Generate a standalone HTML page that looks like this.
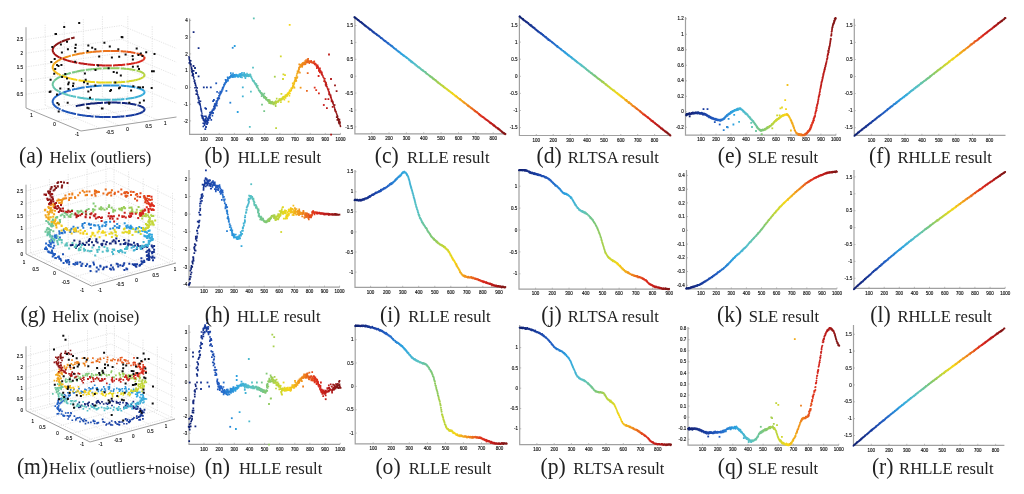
<!DOCTYPE html>
<html><head><meta charset="utf-8"><style>
html,body{margin:0;padding:0;background:#fff;width:1024px;height:494px;overflow:hidden}
svg{display:block;font-family:"Liberation Sans",sans-serif}
.e,.m{font-size:9px;fill:#111;stroke:#111;stroke-width:.3px}.e{text-anchor:end}.m{text-anchor:middle}
</style></head><body>
<svg width="1024" height="494" viewBox="0 0 1024 494">
<rect width="1024" height="494" fill="#fff"/>
<defs><filter id="bl" x="0" y="0" width="1" height="1"><feGaussianBlur stdDeviation="0.35"/></filter><filter id="bl2" x="0" y="0" width="1" height="1"><feGaussianBlur stdDeviation="0.2"/></filter></defs>
<g filter="url(#bl)">
<path d="M189.6 18.6V134.4H340.5" stroke="#a0a0a0" stroke-width="1.2" fill="none"/>
<text transform="translate(187.8 22) scale(.5)" class="e">4</text>
<text transform="translate(187.8 38.8) scale(.5)" class="e">3</text>
<text transform="translate(187.8 55.5) scale(.5)" class="e">2</text>
<text transform="translate(187.8 72.2) scale(.5)" class="e">1</text>
<text transform="translate(187.8 89) scale(.5)" class="e">0</text>
<text transform="translate(187.8 105.8) scale(.5)" class="e">-1</text>
<text transform="translate(187.8 122.5) scale(.5)" class="e">-2</text>
<text transform="translate(204.1 140.6) scale(.5)" class="m">100</text>
<text transform="translate(219.2 140.6) scale(.5)" class="m">200</text>
<text transform="translate(234.4 140.6) scale(.5)" class="m">300</text>
<text transform="translate(249.5 140.6) scale(.5)" class="m">400</text>
<text transform="translate(264.7 140.6) scale(.5)" class="m">500</text>
<text transform="translate(279.9 140.6) scale(.5)" class="m">600</text>
<text transform="translate(295 140.6) scale(.5)" class="m">700</text>
<text transform="translate(310.2 140.6) scale(.5)" class="m">800</text>
<text transform="translate(325.3 140.6) scale(.5)" class="m">900</text>
<text transform="translate(340.5 140.6) scale(.5)" class="m">1000</text>
<path d="M189.6 20.4h1.5M189.6 37.2h1.5M189.6 53.9h1.5M189.6 70.7h1.5M189.6 87.4h1.5M189.6 104.2h1.5M189.6 120.9h1.5M204.1 134.4v-1.5M219.2 134.4v-1.5M234.4 134.4v-1.5M249.5 134.4v-1.5M264.7 134.4v-1.5M279.9 134.4v-1.5M295 134.4v-1.5M310.2 134.4v-1.5M325.3 134.4v-1.5M340.5 134.4v-1.5" stroke="#a0a0a0" stroke-width="0.7"/>
<path d="M188.9 56.9h0M189.1 58.8h0M189.2 59.5h0M189.4 57.8h0M189.5 60.4h0M189.7 60.1h0M189.8 62h0M190 61h0M190.1 62.8h0M190.3 64.3h0M190.4 63.9h0M190.6 64h0M190.7 65.1h0M190.9 66.1h0M191 66.1h0M191.2 67.3h0M191.3 68.3h0M191.5 68.9h0M191.6 67.8h0M191.8 69.5h0M191.9 69.9h0M192.1 70.6h0M192.2 72.8h0M192.4 71.8h0M192.5 70.5h0" stroke="#112173" stroke-width="1.6" stroke-linecap="round"/>
<path d="M192.7 74.4h0M192.8 73.2h0M193 73.8h0M193.1 74.4h0M193.3 76.4h0M193.5 76.8h0M193.6 78.2h0M193.8 77.8h0M193.9 77.1h0M194.1 79.7h0M194.2 81.6h0M194.4 80.3h0M194.5 80.1h0M194.7 81.8h0M194.8 80.6h0M195 83h0M195.1 83.5h0M195.3 85.1h0M195.4 85.1h0M195.6 84.6h0M195.7 85.2h0M195.9 85.5h0M196 86.6h0M196.2 87.5h0M196.3 90.5h0" stroke="#13277e" stroke-width="1.6" stroke-linecap="round"/>
<path d="M196.5 90h0M196.6 87.5h0M196.8 91h0M196.9 90.5h0M197.1 91.9h0M197.2 91.8h0M197.4 93h0M197.5 94.6h0M197.7 95.1h0M197.9 94.7h0M198 96.1h0M198.2 98.1h0M198.3 96.4h0M198.5 96.6h0M198.6 97.3h0M198.8 97.9h0M198.9 100.9h0M199.1 98.5h0M199.2 100.9h0M199.4 102.2h0M199.5 102.4h0M199.7 103.3h0M199.8 104.4h0M200 103.9h0M200.1 104.4h0" stroke="#152e88" stroke-width="1.6" stroke-linecap="round"/>
<path d="M200.3 105.4h0M200.4 105.7h0M200.6 106.7h0M200.7 107.9h0M200.9 108.5h0M201 108.3h0M201.2 110.9h0M201.3 110.9h0M201.5 110.3h0M201.6 111.8h0M201.8 112.3h0M202 113.7h0M202.1 115.6h0M202.3 115.7h0M202.4 116h0M202.6 117.2h0M202.7 117.7h0M202.9 118.1h0M203 118h0M203.2 119.9h0M203.3 118.9h0M203.5 120.5h0M203.6 120h0M203.8 120.2h0M203.9 119.9h0" stroke="#173492" stroke-width="1.6" stroke-linecap="round"/>
<path d="M204.1 120.7h0M204.2 120.8h0M204.4 120.2h0M204.5 123.4h0M204.7 122.7h0M204.8 120.8h0M205 123.7h0M205.1 121.5h0M205.3 121.5h0M205.4 122.9h0M205.6 122.3h0M205.7 120.7h0M205.9 120.7h0M206 121.6h0M206.2 121.7h0M206.4 121.5h0M206.5 120.2h0M206.7 121.8h0M206.8 120.3h0M207 121.5h0M207.1 119.1h0M207.3 119.6h0M207.4 118.3h0M207.6 121.5h0M207.7 121h0" stroke="#183a9d" stroke-width="1.6" stroke-linecap="round"/>
<path d="M207.9 119.4h0M208 118.6h0M208.2 119.3h0M208.3 118h0M208.5 118h0M208.6 116.8h0M208.8 117.2h0M208.9 116.6h0M209.1 115.8h0M209.2 116.8h0M209.4 117.7h0M209.5 114.6h0M209.7 115.1h0M209.8 118.2h0M210 115.4h0M210.1 116.1h0M210.3 114.9h0M210.4 114.2h0M210.6 112.7h0M210.8 114.3h0M210.9 112.1h0M211.1 112.5h0M211.2 113h0M211.4 113.1h0M211.5 112.6h0" stroke="#1b43a7" stroke-width="1.6" stroke-linecap="round"/>
<path d="M211.7 111.8h0M211.8 112.7h0M212 110.2h0M212.1 111.5h0M212.3 112.4h0M212.4 110.2h0M212.6 111h0M212.7 110.4h0M212.9 110.5h0M213 109.1h0M213.2 109.1h0M213.3 109.7h0M213.5 108.9h0M213.6 109.8h0M213.8 106.4h0M213.9 108.4h0M214.1 107.5h0M214.2 108.6h0M214.4 108.1h0M214.5 105.3h0M214.7 106h0M214.8 106.4h0M215 107.2h0M215.2 104h0M215.3 106.1h0" stroke="#1d4db1" stroke-width="1.6" stroke-linecap="round"/>
<path d="M215.5 105.3h0M215.6 104.6h0M215.8 103.8h0M215.9 103.8h0M216.1 103.5h0M216.2 101.1h0M216.4 102.6h0M216.5 101.9h0M216.7 103.4h0M216.8 100.9h0M217 102.9h0M217.1 101.5h0M217.3 98.2h0M217.4 100.9h0M217.6 99.8h0M217.7 100.6h0M217.9 100.2h0M218 97.7h0M218.2 98.9h0M218.3 98.2h0M218.5 98h0M218.6 98.8h0M218.8 97.2h0M218.9 95.7h0M219.1 97.1h0" stroke="#2057bb" stroke-width="1.6" stroke-linecap="round"/>
<path d="M219.3 95.8h0M219.4 95.2h0M219.6 96h0M219.7 94.7h0M219.9 95.7h0M220 94.1h0M220.2 94.3h0M220.3 94.3h0M220.5 93.5h0M220.6 93.4h0M220.8 93.6h0M220.9 91.9h0M221.1 91.5h0M221.2 92.2h0M221.4 91.6h0M221.5 91.3h0M221.7 90.8h0M221.8 91h0M222 89.5h0M222.1 89.6h0M222.3 89.8h0M222.4 89.2h0M222.6 89h0M222.7 88.4h0M222.9 87.6h0" stroke="#2261c5" stroke-width="1.6" stroke-linecap="round"/>
<path d="M223 87.3h0M223.2 87.8h0M223.3 86.9h0M223.5 87h0M223.7 87.1h0M223.8 86.5h0M224 85.6h0M224.1 86.1h0M224.3 85.4h0M224.4 84.5h0M224.6 84.7h0M224.7 84.4h0M224.9 84.3h0M225 84.4h0M225.2 83.3h0M225.3 82.9h0M225.5 82.6h0M225.6 82.9h0M225.8 82.6h0M225.9 81.4h0M226.1 82.1h0M226.2 81.5h0M226.4 82.5h0M226.5 81.4h0M226.7 81.2h0" stroke="#256fcc" stroke-width="1.6" stroke-linecap="round"/>
<path d="M226.8 81.2h0M227 79.5h0M227.1 80.2h0M227.3 80.7h0M227.4 79.6h0M227.6 79.4h0M227.7 79.2h0M227.9 78.3h0M228.1 78.8h0M228.2 78.6h0M228.4 78.7h0M228.5 78.7h0M228.7 78h0M228.8 77.9h0M229 78.1h0M229.1 77.7h0M229.3 77.3h0M229.4 77.1h0M229.6 77.3h0M229.7 77.9h0M229.9 76.7h0M230 76.9h0M230.2 77h0M230.3 76.7h0M230.5 77h0" stroke="#2780d3" stroke-width="1.6" stroke-linecap="round"/>
<path d="M230.6 76.3h0M230.8 76.5h0M230.9 77.1h0M231.1 76h0M231.2 75.9h0M231.4 76.2h0M231.5 75.8h0M231.7 76.7h0M231.8 75.3h0M232 75.8h0M232.1 75.4h0M232.3 77.1h0M232.5 76.5h0M232.6 76.1h0M232.8 75.9h0M232.9 74.8h0M233.1 75.7h0M233.2 76.3h0M233.4 75.4h0M233.5 75.5h0M233.7 75.9h0M233.8 75.2h0M234 75h0M234.1 75.7h0M234.3 76h0" stroke="#2a90d9" stroke-width="1.6" stroke-linecap="round"/>
<path d="M234.4 75.2h0M234.6 75.3h0M234.7 75.7h0M234.9 75.9h0M235 75.7h0M235.2 75.3h0M235.3 75.5h0M235.5 76.9h0M235.6 75.2h0M235.8 74.6h0M235.9 75.3h0M236.1 75.1h0M236.2 75.5h0M236.4 74.5h0M236.6 75.5h0M236.7 74.8h0M236.9 74.7h0M237 75.5h0M237.2 75h0M237.3 76.2h0M237.5 75.3h0M237.6 76.2h0M237.8 75.2h0M237.9 75.7h0M238.1 75.5h0" stroke="#2ca0df" stroke-width="1.6" stroke-linecap="round"/>
<path d="M238.2 75.9h0M238.4 75.3h0M238.5 75.1h0M238.7 75.9h0M238.8 75.6h0M239 75.7h0M239.1 74.8h0M239.3 74.4h0M239.4 75.3h0M239.6 75.5h0M239.7 75.3h0M239.9 75.8h0M240 76.1h0M240.2 75.8h0M240.3 75.3h0M240.5 75.6h0M240.6 75.8h0M240.8 75.9h0M241 75.4h0M241.1 75.6h0M241.3 75h0M241.4 75.9h0M241.6 74.1h0M241.7 75.4h0M241.9 74.3h0" stroke="#35aadc" stroke-width="1.6" stroke-linecap="round"/>
<path d="M242 75.6h0M242.2 75.1h0M242.3 75.6h0M242.5 74.5h0M242.6 75h0M242.8 75h0M242.9 75.1h0M243.1 75.5h0M243.2 75.2h0M243.4 75.5h0M243.5 75.5h0M243.7 74.7h0M243.8 74.8h0M244 75.3h0M244.1 75.8h0M244.3 75.6h0M244.4 76.4h0M244.6 76.1h0M244.7 75.4h0M244.9 75.4h0M245 75.7h0M245.2 75.4h0M245.4 74.4h0M245.5 75h0M245.7 74.6h0" stroke="#40b2d4" stroke-width="1.6" stroke-linecap="round"/>
<path d="M245.8 75.4h0M246 75.3h0M246.1 75.4h0M246.3 75.5h0M246.4 75.4h0M246.6 75.1h0M246.7 75.9h0M246.9 74.9h0M247 75.3h0M247.2 75.7h0M247.3 75.6h0M247.5 76.3h0M247.6 75.6h0M247.8 75h0M247.9 76.1h0M248.1 75.5h0M248.2 75.1h0M248.4 76.4h0M248.5 76.1h0M248.7 75.2h0M248.8 74.5h0M249 76.1h0M249.1 75.8h0M249.3 75.1h0M249.4 76.3h0" stroke="#4bb9cd" stroke-width="1.6" stroke-linecap="round"/>
<path d="M249.6 75.4h0M249.8 75.3h0M249.9 75.4h0M250.1 75.3h0M250.2 75.4h0M250.4 75.9h0M250.5 75.8h0M250.7 75.3h0M250.8 76.9h0M251 76.7h0M251.1 77.1h0M251.3 77.3h0M251.4 77.7h0M251.6 77.1h0M251.7 78.4h0M251.9 78.6h0M252 79h0M252.2 78.7h0M252.3 79.5h0M252.5 80.4h0M252.6 79.9h0M252.8 80h0M252.9 80.5h0M253.1 80.2h0M253.2 81.2h0" stroke="#57c1c5" stroke-width="1.6" stroke-linecap="round"/>
<path d="M253.4 81.4h0M253.5 81.7h0M253.7 81.5h0M253.8 82h0M254 82.3h0M254.2 81h0M254.3 82.7h0M254.5 82.6h0M254.6 83.2h0M254.8 83.4h0M254.9 83.4h0M255.1 83.5h0M255.2 84.5h0M255.4 83.1h0M255.5 84.3h0M255.7 83.8h0M255.8 85h0M256 84.8h0M256.1 85.3h0M256.3 85.6h0M256.4 86.5h0M256.6 85.7h0M256.7 86.6h0M256.9 87.2h0M257 87.5h0" stroke="#61c4b4" stroke-width="1.6" stroke-linecap="round"/>
<path d="M257.2 86h0M257.3 87.6h0M257.5 87.6h0M257.6 87.2h0M257.8 87.7h0M257.9 87.7h0M258.1 89h0M258.3 88.6h0M258.4 88.9h0M258.6 90.5h0M258.7 89.3h0M258.9 89.9h0M259 90.4h0M259.2 90.5h0M259.3 91.3h0M259.5 91.2h0M259.6 90.5h0M259.8 92h0M259.9 91.1h0M260.1 92h0M260.2 91.7h0M260.4 92.1h0M260.5 92.7h0M260.7 92.7h0M260.8 93.2h0" stroke="#6bc59f" stroke-width="1.6" stroke-linecap="round"/>
<path d="M261 92.6h0M261.1 92.9h0M261.3 93.2h0M261.4 94.2h0M261.6 94.1h0M261.7 93.3h0M261.9 94.8h0M262 94.1h0M262.2 94.7h0M262.3 94.5h0M262.5 94.5h0M262.7 94.9h0M262.8 94.9h0M263 96h0M263.1 96.2h0M263.3 96.6h0M263.4 95.8h0M263.6 96.2h0M263.7 96.3h0M263.9 96.2h0M264 96.8h0M264.2 96.9h0M264.3 97.4h0M264.5 97.3h0M264.6 97.7h0" stroke="#75c68a" stroke-width="1.6" stroke-linecap="round"/>
<path d="M264.8 97.2h0M264.9 96.6h0M265.1 96.8h0M265.2 98.2h0M265.4 97.8h0M265.5 98.2h0M265.7 99.3h0M265.8 99.6h0M266 99h0M266.1 98.9h0M266.3 99.7h0M266.4 99.7h0M266.6 99.8h0M266.7 99.9h0M266.9 100.2h0M267.1 99.9h0M267.2 99.6h0M267.4 99.9h0M267.5 100.6h0M267.7 100.4h0M267.8 100.4h0M268 101.5h0M268.1 100.2h0M268.3 101.2h0M268.4 101.6h0" stroke="#7fc874" stroke-width="1.6" stroke-linecap="round"/>
<path d="M268.6 99.8h0M268.7 101.7h0M268.9 101.5h0M269 101.8h0M269.2 101h0M269.3 101.8h0M269.5 102.5h0M269.6 102.9h0M269.8 102.2h0M269.9 101h0M270.1 102.6h0M270.2 101.6h0M270.4 102.7h0M270.5 103.1h0M270.7 103.6h0M270.8 102.6h0M271 102.4h0M271.1 102.7h0M271.3 103.7h0M271.5 103h0M271.6 102.6h0M271.8 103h0M271.9 102.6h0M272.1 101.7h0M272.2 103.5h0" stroke="#91cb61" stroke-width="1.6" stroke-linecap="round"/>
<path d="M272.4 101.5h0M272.5 102.7h0M272.7 103.1h0M272.8 103.1h0M273 103h0M273.1 103.4h0M273.3 103.2h0M273.4 102.2h0M273.6 102.5h0M273.7 102.7h0M273.9 102.9h0M274 103.2h0M274.2 102.6h0M274.3 102.9h0M274.5 102.5h0M274.6 102h0M274.8 103.6h0M274.9 103.5h0M275.1 101.9h0M275.2 103h0M275.4 101.4h0M275.6 102.3h0M275.7 101h0M275.9 102.1h0M276 101.8h0" stroke="#a7d04e" stroke-width="1.6" stroke-linecap="round"/>
<path d="M276.2 102.6h0M276.3 102.4h0M276.5 101.9h0M276.6 102.3h0M276.8 101.9h0M276.9 101.2h0M277.1 102h0M277.2 102h0M277.4 101.5h0M277.5 101.6h0M277.7 101.1h0M277.8 101.4h0M278 101.8h0M278.1 102.2h0M278.3 100.9h0M278.4 101.3h0M278.6 100.9h0M278.7 101.7h0M278.9 101.1h0M279 100.5h0M279.2 100.1h0M279.3 100h0M279.5 99.8h0M279.6 100.3h0M279.8 99.7h0" stroke="#bdd53b" stroke-width="1.6" stroke-linecap="round"/>
<path d="M280 100h0M280.1 100.2h0M280.3 100.3h0M280.4 99.4h0M280.6 99.8h0M280.7 100h0M280.9 99.7h0M281 98.6h0M281.2 100.1h0M281.3 100h0M281.5 98.5h0M281.6 99.8h0M281.8 98.4h0M281.9 99.2h0M282.1 98.7h0M282.2 98.1h0M282.4 98h0M282.5 98.2h0M282.7 98.5h0M282.8 98.5h0M283 98.4h0M283.1 97.4h0M283.3 97.9h0M283.4 97.4h0M283.6 99h0" stroke="#d1d72d" stroke-width="1.6" stroke-linecap="round"/>
<path d="M283.7 97.9h0M283.9 97.5h0M284 97.7h0M284.2 96.3h0M284.4 97.9h0M284.5 96.9h0M284.7 96.6h0M284.8 97.3h0M285 96.4h0M285.1 96.5h0M285.3 95.1h0M285.4 95.7h0M285.6 96.3h0M285.7 95.7h0M285.9 95.8h0M286 96.1h0M286.2 95.4h0M286.3 95.3h0M286.5 94.6h0M286.6 96h0M286.8 95.8h0M286.9 95.4h0M287.1 94.5h0M287.2 94.1h0M287.4 94.6h0" stroke="#e4d722" stroke-width="1.6" stroke-linecap="round"/>
<path d="M287.5 94.2h0M287.7 94.2h0M287.8 94.8h0M288 94.3h0M288.1 93.2h0M288.3 93.1h0M288.4 92.7h0M288.6 92.8h0M288.8 94.2h0M288.9 92.6h0M289.1 92.4h0M289.2 93.1h0M289.4 91.3h0M289.5 92.1h0M289.7 91.3h0M289.8 91.2h0M290 91.1h0M290.1 90.5h0M290.3 91.1h0M290.4 90.3h0M290.6 90.3h0M290.7 91h0M290.9 90.5h0M291 90.5h0M291.2 90.6h0" stroke="#f5d519" stroke-width="1.6" stroke-linecap="round"/>
<path d="M291.3 90.2h0M291.5 89h0M291.6 89.7h0M291.8 88.2h0M291.9 88.5h0M292.1 88.2h0M292.2 88.3h0M292.4 87.2h0M292.5 87.5h0M292.7 86.3h0M292.8 85.9h0M293 86.7h0M293.2 85.2h0M293.3 86.1h0M293.5 84.3h0M293.6 85.3h0M293.8 84.4h0M293.9 82.8h0M294.1 82.9h0M294.2 82.3h0M294.4 83.4h0M294.5 81.4h0M294.7 81.8h0M294.8 80.1h0M295 80.6h0" stroke="#f3c01b" stroke-width="1.6" stroke-linecap="round"/>
<path d="M295.1 80.2h0M295.3 80.6h0M295.4 79.8h0M295.6 79h0M295.7 77.8h0M295.9 77.4h0M296 77.7h0M296.2 77.7h0M296.3 77.3h0M296.5 75.3h0M296.6 75.5h0M296.8 75.7h0M296.9 73.9h0M297.1 73.9h0M297.3 73.3h0M297.4 72.8h0M297.6 72.6h0M297.7 72.5h0M297.9 72.6h0M298 72h0M298.2 71.3h0M298.3 70.2h0M298.5 70.4h0M298.6 69.2h0M298.8 68.7h0" stroke="#f2ab1c" stroke-width="1.6" stroke-linecap="round"/>
<path d="M298.9 68h0M299.1 67.6h0M299.2 69.5h0M299.4 66.9h0M299.5 67.4h0M299.7 67.1h0M299.8 67.3h0M300 66.6h0M300.1 66.5h0M300.3 66.7h0M300.4 67.1h0M300.6 65.3h0M300.7 65.6h0M300.9 66.2h0M301 65.8h0M301.2 65h0M301.3 65.5h0M301.5 64.9h0M301.7 64.4h0M301.8 64.4h0M302 64.7h0M302.1 64.9h0M302.3 64.5h0M302.4 63.8h0M302.6 64.2h0" stroke="#f1961d" stroke-width="1.6" stroke-linecap="round"/>
<path d="M302.7 63.1h0M302.9 62.9h0M303 62.9h0M303.2 63.2h0M303.3 64h0M303.5 62.5h0M303.6 62.8h0M303.8 63.4h0M303.9 63.4h0M304.1 63.2h0M304.2 62.7h0M304.4 63.4h0M304.5 62h0M304.7 62.7h0M304.8 62.1h0M305 63.2h0M305.1 60.7h0M305.3 61.6h0M305.4 62.1h0M305.6 62.6h0M305.7 61.2h0M305.9 62.1h0M306.1 62h0M306.2 62.2h0M306.4 62.3h0" stroke="#ee801e" stroke-width="1.6" stroke-linecap="round"/>
<path d="M306.5 61.7h0M306.7 61.6h0M306.8 61.8h0M307 62.1h0M307.1 60.8h0M307.3 60.7h0M307.4 61.9h0M307.6 60.8h0M307.7 61.4h0M307.9 61.5h0M308 60.4h0M308.2 62h0M308.3 61.1h0M308.5 61.5h0M308.6 61.5h0M308.8 62.2h0M308.9 61.7h0M309.1 60.9h0M309.2 61.5h0M309.4 61.2h0M309.5 61.2h0M309.7 62.1h0M309.8 61.7h0M310 61.8h0M310.1 61.9h0" stroke="#e9671e" stroke-width="1.6" stroke-linecap="round"/>
<path d="M310.3 61.9h0M310.5 61.7h0M310.6 61.5h0M310.8 62h0M310.9 62.3h0M311.1 61.4h0M311.2 62.2h0M311.4 61.5h0M311.5 62.6h0M311.7 62.7h0M311.8 62.7h0M312 62.7h0M312.1 62.1h0M312.3 62.3h0M312.4 62.3h0M312.6 62.6h0M312.7 62.5h0M312.9 63.1h0M313 62.1h0M313.2 62.7h0M313.3 63.3h0M313.5 61.8h0M313.6 63.3h0M313.8 63.1h0M313.9 63h0" stroke="#e44d1e" stroke-width="1.6" stroke-linecap="round"/>
<path d="M314.1 63.1h0M314.2 63.1h0M314.4 64.1h0M314.6 63.5h0M314.7 64.6h0M314.9 63.8h0M315 63.9h0M315.2 63.6h0M315.3 64.4h0M315.5 64h0M315.6 64.5h0M315.8 64.4h0M315.9 65.1h0M316.1 64.3h0M316.2 64.5h0M316.4 65.9h0M316.5 65.4h0M316.7 65.7h0M316.8 66.7h0M317 66.5h0M317.1 66.2h0M317.3 66.9h0M317.4 66.4h0M317.6 66.4h0M317.7 67.3h0" stroke="#df341e" stroke-width="1.6" stroke-linecap="round"/>
<path d="M317.9 66.9h0M318 66.7h0M318.2 68h0M318.3 67.3h0M318.5 67.5h0M318.6 67.7h0M318.8 68.6h0M319 68.7h0M319.1 69.5h0M319.3 68.9h0M319.4 69.3h0M319.6 69.7h0M319.7 70.2h0M319.9 70.8h0M320 71.9h0M320.2 71.3h0M320.3 72.1h0M320.5 71.6h0M320.6 72.2h0M320.8 70.9h0M320.9 72.7h0M321.1 73.1h0M321.2 72h0M321.4 74h0M321.5 72.9h0" stroke="#d6261d" stroke-width="1.6" stroke-linecap="round"/>
<path d="M321.7 73.2h0M321.8 74.1h0M322 75h0M322.1 74.9h0M322.3 74.8h0M322.4 74.8h0M322.6 75.2h0M322.7 75.6h0M322.9 76.4h0M323 75.9h0M323.2 77.4h0M323.4 77.5h0M323.5 77.4h0M323.7 77.5h0M323.8 78h0M324 78.4h0M324.1 79.2h0M324.3 78.9h0M324.4 80.8h0M324.6 80.5h0M324.7 81.2h0M324.9 81.5h0M325 81.1h0M325.2 81.3h0M325.3 82.7h0" stroke="#c9211c" stroke-width="1.6" stroke-linecap="round"/>
<path d="M325.5 82.6h0M325.6 82h0M325.8 83.2h0M325.9 83.1h0M326.1 83.7h0M326.2 84h0M326.4 85.2h0M326.5 85.3h0M326.7 84.7h0M326.8 86.7h0M327 87.3h0M327.1 86.5h0M327.3 87.9h0M327.4 88h0M327.6 88.1h0M327.8 89h0M327.9 89.4h0M328.1 90.3h0M328.2 90.1h0M328.4 91.1h0M328.5 90.7h0M328.7 91.2h0M328.8 91.2h0M329 92.2h0M329.1 92h0" stroke="#bd1c1a" stroke-width="1.6" stroke-linecap="round"/>
<path d="M329.3 92.4h0M329.4 92.7h0M329.6 93.4h0M329.7 94h0M329.9 94.5h0M330 95.3h0M330.2 95.5h0M330.3 95.9h0M330.5 95.2h0M330.6 97.3h0M330.8 97.3h0M330.9 97.4h0M331.1 98.4h0M331.2 98h0M331.4 99.1h0M331.5 99.1h0M331.7 99.7h0M331.9 101.2h0M332 100.2h0M332.2 101.6h0M332.3 101.2h0M332.5 101.1h0M332.6 101.8h0M332.8 102.7h0M332.9 103.1h0" stroke="#ae1818" stroke-width="1.6" stroke-linecap="round"/>
<path d="M333.1 103.5h0M333.2 104.1h0M333.4 104.8h0M333.5 104.9h0M333.7 105.3h0M333.8 104.7h0M334 105.9h0M334.1 105.5h0M334.3 107.1h0M334.4 107.3h0M334.6 107.9h0M334.7 108.8h0M334.9 109.3h0M335 109.4h0M335.2 109.2h0M335.3 110.7h0M335.5 111.3h0M335.6 111.1h0M335.8 111.8h0M335.9 112.3h0M336.1 111.6h0M336.3 112.9h0M336.4 113h0M336.6 113.8h0M336.7 113.9h0" stroke="#981717" stroke-width="1.6" stroke-linecap="round"/>
<path d="M336.9 114.7h0M337 115.2h0M337.2 115.3h0M337.3 116.1h0M337.5 115.9h0M337.6 117.4h0M337.8 116.7h0M337.9 118.5h0M338.1 118.6h0M338.2 118.8h0M338.4 119.9h0M338.5 120.1h0M338.7 119.9h0M338.8 120.9h0M339 121.6h0M339.1 121.3h0M339.3 122.1h0M339.4 122.3h0M339.6 122.4h0M339.7 123.6h0M339.9 123.9h0M340 123.1h0M340.2 126h0M340.3 125.4h0M340.5 126.4h0" stroke="#831515" stroke-width="1.6" stroke-linecap="round"/>
<path d="M189.3 62.9h0M191.7 68.9h0M192.9 75.2h0M192.3 75.5h0M190.7 60.7h0M191.9 71.6h0M190.9 64.3h0" stroke="#112173" stroke-width="1.6" stroke-linecap="square"/>
<path d="M195.3 83.3h0M195 87.8h0M196.2 90.6h0M193.3 74.1h0M196.3 94.1h0M197.2 88h0" stroke="#13277e" stroke-width="1.6" stroke-linecap="square"/>
<path d="M199.4 103.8h0M198.2 102.5h0M198.5 99h0M198.5 98.1h0M200.5 101.3h0" stroke="#152e88" stroke-width="1.6" stroke-linecap="square"/>
<path d="M202.4 116.8h0M202 116.3h0M203.3 126.5h0M203 116.2h0M204.5 121.4h0M201 109.5h0M201.5 115.2h0M202.8 116.8h0M203.6 119.3h0M203.2 123.3h0" stroke="#173492" stroke-width="1.6" stroke-linecap="square"/>
<path d="M205.9 116.3h0M206.4 121h0M206.2 117.6h0M204.9 121.4h0M205.4 119.6h0M207.1 122.4h0M204.9 116.2h0M207.9 122.8h0M205.1 121.5h0M205.5 119h0" stroke="#183a9d" stroke-width="1.6" stroke-linecap="square"/>
<path d="M208.2 119.9h0M209.9 112.6h0M211.3 119.9h0" stroke="#1b43a7" stroke-width="1.6" stroke-linecap="square"/>
<path d="M211.7 112.3h0M212.4 115.6h0M213.9 109.7h0M214.7 104h0M214.9 108.4h0" stroke="#1d4db1" stroke-width="1.6" stroke-linecap="square"/>
<path d="M216.4 102.3h0M216.6 104h0M219 93h0M216.1 105.2h0M216.9 105.7h0M219.3 98.4h0M217.1 91.9h0M218.3 98.7h0" stroke="#2057bb" stroke-width="1.6" stroke-linecap="square"/>
<path d="M220.6 93.4h0M220.3 91.6h0M221.7 91.6h0M222.6 88.1h0" stroke="#2261c5" stroke-width="1.6" stroke-linecap="square"/>
<path d="M224.6 83.2h0M225.5 79.7h0M225.9 81h0M222.6 89.6h0M227.5 80.5h0M224 84.7h0" stroke="#256fcc" stroke-width="1.6" stroke-linecap="square"/>
<path d="M229.6 77.6h0M227.6 77.3h0M228 78.6h0M228.1 80.8h0M230.9 75.4h0M228.3 78.6h0" stroke="#2780d3" stroke-width="1.6" stroke-linecap="square"/>
<path d="M232.5 76.9h0M234.1 77h0M230.8 73.1h0M231.7 75h0M233 73.2h0M234.2 74.8h0M232.6 77.1h0" stroke="#2a90d9" stroke-width="1.6" stroke-linecap="square"/>
<path d="M238 76.9h0M235.7 76h0M237.5 76.4h0M238.5 76.4h0" stroke="#2ca0df" stroke-width="1.6" stroke-linecap="square"/>
<path d="M240.9 77.3h0M239.6 74.3h0M238.9 76.4h0M242 72.9h0M240.4 75.4h0M240.6 73.8h0M239.7 76.5h0M240.1 76h0M239.5 75.3h0" stroke="#35aadc" stroke-width="1.6" stroke-linecap="square"/>
<path d="M244.1 72.7h0M244.8 76.4h0M245.4 78.1h0M246 75.4h0M243.6 74.4h0M244.3 73.9h0M244.2 75.9h0M242 77.4h0" stroke="#40b2d4" stroke-width="1.6" stroke-linecap="square"/>
<path d="M248.7 75.7h0M247.8 74.7h0M247.8 75.1h0M246.2 76.4h0M247 73.5h0" stroke="#4bb9cd" stroke-width="1.6" stroke-linecap="square"/>
<path d="M250.1 74.4h0M250.5 75h0" stroke="#57c1c5" stroke-width="1.6" stroke-linecap="square"/>
<path d="M253.9 81.2h0M256.5 85h0M256.4 84h0" stroke="#61c4b4" stroke-width="1.6" stroke-linecap="square"/>
<path d="M260 91.4h0M259.9 91h0M257.7 85.8h0" stroke="#6bc59f" stroke-width="1.6" stroke-linecap="square"/>
<path d="M261.7 93.1h0M264.4 93.5h0M262.8 94.8h0M261.6 96.3h0M262.9 94.3h0M262.2 94.8h0M262 94.1h0M261.7 93.4h0M263.8 95.2h0M263.9 97.7h0" stroke="#75c68a" stroke-width="1.6" stroke-linecap="square"/>
<path d="M264.4 97.1h0M268.4 99.8h0M265.2 97.5h0M265.3 97.1h0M266.2 98.5h0M265.6 98.2h0M266.5 97.7h0" stroke="#7fc874" stroke-width="1.6" stroke-linecap="square"/>
<path d="M268.9 100.7h0M269.2 103.1h0M271.9 102.7h0M270.7 102.6h0M271.4 102h0M269.7 100.2h0M269.5 100.1h0" stroke="#91cb61" stroke-width="1.6" stroke-linecap="square"/>
<path d="M273 104h0M275.6 105.1h0M275.7 106.2h0M275.9 102.6h0M273.7 104.4h0" stroke="#a7d04e" stroke-width="1.6" stroke-linecap="square"/>
<path d="M276.7 98.6h0M276.2 101.9h0M276.5 101.9h0M276 103.1h0M279.3 99.1h0" stroke="#bdd53b" stroke-width="1.6" stroke-linecap="square"/>
<path d="M280.9 102.1h0M282 98.8h0M280 99.3h0M281.9 99.5h0" stroke="#d1d72d" stroke-width="1.6" stroke-linecap="square"/>
<path d="M287.2 95.9h0M285.6 97.9h0M284.4 99.8h0M283.2 96.7h0M284.1 96.8h0M286.3 95.9h0" stroke="#e4d722" stroke-width="1.6" stroke-linecap="square"/>
<path d="M290.5 91.2h0M291.2 88.3h0M289.3 92.3h0M287.7 93.4h0M288.7 93h0M289.4 95.8h0M289.2 92.3h0M289.7 90.4h0M290 93.5h0" stroke="#f5d519" stroke-width="1.6" stroke-linecap="square"/>
<path d="M294.9 81.5h0M293.8 84.1h0M293.3 84.9h0M294.6 81.5h0M295.3 81.1h0M292.7 83.2h0M293.8 86.5h0M292.5 87.9h0" stroke="#f3c01b" stroke-width="1.6" stroke-linecap="square"/>
<path d="M297.5 71.4h0M297.8 72.9h0M295.9 79.1h0M295.1 77.9h0M297.1 77.9h0M296.3 80.9h0M297.4 77h0" stroke="#f2ab1c" stroke-width="1.6" stroke-linecap="square"/>
<path d="M300.2 65h0M299.9 72.6h0M301.7 64.8h0M298.8 71.2h0M302 65h0M301.4 64.4h0M300.4 65.7h0M303.4 62.9h0M300.9 66.2h0M299.2 64.4h0M299.3 67.9h0M300.2 64.9h0M302.3 66.1h0M302.4 63.6h0M302.1 66.9h0" stroke="#f1961d" stroke-width="1.6" stroke-linecap="square"/>
<path d="M304.8 62.9h0M302.5 65.3h0M304.6 63.1h0M303.2 64h0M305.5 64h0M306.1 60.4h0M306.1 60h0M304.5 64.4h0M305.2 62.8h0M305.4 64.1h0" stroke="#ee801e" stroke-width="1.6" stroke-linecap="square"/>
<path d="M309.3 63.2h0M308.2 61.9h0M307.6 59.4h0M308.2 58.9h0M306.8 62.6h0" stroke="#e9671e" stroke-width="1.6" stroke-linecap="square"/>
<path d="M314.3 61.2h0M311.1 60.9h0M311.2 61.5h0" stroke="#e44d1e" stroke-width="1.6" stroke-linecap="square"/>
<path d="M315.5 64.3h0M316.8 68.1h0M315.3 63.6h0M316.6 65.7h0M315.3 63.5h0M316.6 66h0" stroke="#df341e" stroke-width="1.6" stroke-linecap="square"/>
<path d="M317.6 67.1h0M319.3 69.4h0M317.4 65.8h0M318.8 70.9h0M319.8 69.9h0M319.4 70.9h0M320 68.2h0M317.3 67.5h0M319.8 72.4h0M317.6 65.4h0M318.9 70.1h0M319.3 69.3h0" stroke="#d6261d" stroke-width="1.6" stroke-linecap="square"/>
<path d="M321.8 72.4h0M324.9 78.8h0M321.9 74.4h0M324.1 81.2h0" stroke="#c9211c" stroke-width="1.6" stroke-linecap="square"/>
<path d="M326.1 85.1h0M326.3 86.2h0M328.6 89.3h0M326.1 83h0M325.7 84.5h0M329.1 93.8h0M325.6 84.8h0" stroke="#bd1c1a" stroke-width="1.6" stroke-linecap="square"/>
<path d="M330.6 95.2h0M329.2 94.5h0M330.9 97h0M331.5 100.3h0M331.6 101.4h0" stroke="#ae1818" stroke-width="1.6" stroke-linecap="square"/>
<path d="M334.7 105h0M332.8 102.1h0M335.4 111.3h0M334.9 109.8h0" stroke="#981717" stroke-width="1.6" stroke-linecap="square"/>
<path d="M338.9 122.9h0M339.2 121.9h0M336.7 117.1h0M338.8 120.3h0M338.7 122h0M339.5 119.6h0M339.9 122.1h0M338.4 118.7h0M337.3 119.9h0M339.4 123.7h0" stroke="#831515" stroke-width="1.6" stroke-linecap="square"/>
<path d="M193.6 32.2h0M193.6 70.8h0M195 68h0M196 73h0M193.5 66h0" stroke="#13277e" stroke-width="1.8" stroke-linecap="square"/>
<path d="M198.6 48.1h0M198.6 76.4h0" stroke="#152e88" stroke-width="1.8" stroke-linecap="square"/>
<path d="M203.8 87.3h0M202.5 118h0" stroke="#173492" stroke-width="1.8" stroke-linecap="square"/>
<path d="M206.9 87.3h0M205.3 108.1h0M206.1 108.9h0M204.5 125h0M205.3 129.2h0M206 127h0M207 124h0" stroke="#183a9d" stroke-width="1.8" stroke-linecap="square"/>
<path d="M210.8 87.3h0M208.5 120h0M210 118h0" stroke="#1b43a7" stroke-width="1.8" stroke-linecap="square"/>
<path d="M213.1 101.1h0M213.9 100h0M213 113h0" stroke="#1d4db1" stroke-width="1.8" stroke-linecap="square"/>
<path d="M216.2 83.3h0" stroke="#2057bb" stroke-width="1.8" stroke-linecap="square"/>
<path d="M226.4 90.9h0" stroke="#256fcc" stroke-width="1.8" stroke-linecap="square"/>
<path d="M230.3 102.7h0" stroke="#2780d3" stroke-width="1.8" stroke-linecap="square"/>
<path d="M232.7 47.8h0" stroke="#2a90d9" stroke-width="1.8" stroke-linecap="square"/>
<path d="M234.7 46h0M237.7 112h0" stroke="#2ca0df" stroke-width="1.8" stroke-linecap="square"/>
<path d="M242.8 87.3h0M242.8 96.4h0" stroke="#40b2d4" stroke-width="1.8" stroke-linecap="square"/>
<path d="M253 67.7h0M249.8 126.9h0M250.9 91.7h0" stroke="#57c1c5" stroke-width="1.8" stroke-linecap="square"/>
<path d="M253.8 18.4h0" stroke="#61c4b4" stroke-width="1.8" stroke-linecap="square"/>
<path d="M262 104.7h0M264.2 111.2h0" stroke="#75c68a" stroke-width="1.8" stroke-linecap="square"/>
<path d="M274.8 76.7h0" stroke="#a7d04e" stroke-width="1.8" stroke-linecap="square"/>
<path d="M276.1 128.1h0" stroke="#bdd53b" stroke-width="1.8" stroke-linecap="square"/>
<path d="M280.8 56.4h0M283.4 74.4h0M283 79h0M281.4 93.8h0" stroke="#d1d72d" stroke-width="1.8" stroke-linecap="square"/>
<path d="M285 75.2h0" stroke="#e4d722" stroke-width="1.8" stroke-linecap="square"/>
<path d="M289.7 24.8h0M288.6 101.6h0" stroke="#f5d519" stroke-width="1.8" stroke-linecap="square"/>
<path d="M294.4 87.7h0" stroke="#f3c01b" stroke-width="1.8" stroke-linecap="square"/>
<path d="M300.6 87.7h0" stroke="#f1961d" stroke-width="1.8" stroke-linecap="square"/>
<path d="M307.7 73.1h0M306.9 90.8h0" stroke="#e9671e" stroke-width="1.8" stroke-linecap="square"/>
<path d="M314.7 87.7h0M316.2 90.2h0" stroke="#df341e" stroke-width="1.8" stroke-linecap="square"/>
<path d="M318.6 76h0M318.9 93.3h0" stroke="#d6261d" stroke-width="1.8" stroke-linecap="square"/>
<path d="M323.8 105h0" stroke="#c9211c" stroke-width="1.8" stroke-linecap="square"/>
<path d="M329 54.5h0M325.6 99.1h0M328.4 99.1h0M326.9 108.1h0" stroke="#bd1c1a" stroke-width="1.8" stroke-linecap="square"/>
<path d="M331 79h0M332.7 106.9h0M331.1 134.7h0" stroke="#ae1818" stroke-width="1.8" stroke-linecap="square"/>
<path d="M335 85.3h0M336.6 91.2h0" stroke="#981717" stroke-width="1.8" stroke-linecap="square"/>
<path d="M354.9 16V133.8H505.5" stroke="#a0a0a0" stroke-width="1.2" fill="none"/>
<text transform="translate(353.1 27.1) scale(.5)" class="e">1.5</text>
<text transform="translate(353.1 44) scale(.5)" class="e">1</text>
<text transform="translate(353.1 60.9) scale(.5)" class="e">0.5</text>
<text transform="translate(353.1 77.8) scale(.5)" class="e">0</text>
<text transform="translate(353.1 94.7) scale(.5)" class="e">-0.5</text>
<text transform="translate(353.1 111.6) scale(.5)" class="e">-1</text>
<text transform="translate(353.1 128.5) scale(.5)" class="e">-1.5</text>
<text transform="translate(371.7 140) scale(.5)" class="m">100</text>
<text transform="translate(389 140) scale(.5)" class="m">200</text>
<text transform="translate(406.4 140) scale(.5)" class="m">300</text>
<text transform="translate(423.7 140) scale(.5)" class="m">400</text>
<text transform="translate(441.1 140) scale(.5)" class="m">500</text>
<text transform="translate(458.5 140) scale(.5)" class="m">600</text>
<text transform="translate(475.8 140) scale(.5)" class="m">700</text>
<text transform="translate(493.2 140) scale(.5)" class="m">800</text>
<path d="M354.9 25.5h1.5M354.9 42.4h1.5M354.9 59.3h1.5M354.9 76.2h1.5M354.9 93.1h1.5M354.9 110h1.5M354.9 126.9h1.5M371.7 133.8v-1.5M389 133.8v-1.5M406.4 133.8v-1.5M423.7 133.8v-1.5M441.1 133.8v-1.5M458.5 133.8v-1.5M475.8 133.8v-1.5M493.2 133.8v-1.5" stroke="#a0a0a0" stroke-width="0.7"/>
<path d="M354.3 17.2h0M354.5 17.2h0M354.6 17.4h0M354.8 17.4h0M355 17.3h0M355.2 17.9h0M355.3 17.7h0M355.5 18.2h0M355.7 18h0M355.9 18.5h0M356 18.5h0M356.2 18.7h0M356.4 18.8h0M356.6 18.6h0M356.7 18.7h0M356.9 19.1h0M357.1 19.3h0M357.3 19.2h0M357.4 19.7h0M357.6 19.9h0M357.8 19.8h0M357.9 19.9h0" stroke="#112173" stroke-width="1.85" stroke-linecap="round"/>
<path d="M358.1 20h0M358.3 20.2h0M358.5 19.8h0M358.6 20.6h0M358.8 20.7h0M359 20.9h0M359.2 20.7h0M359.3 21.1h0M359.5 21.3h0M359.7 21.3h0M359.9 21.5h0M360 21.5h0M360.2 22.1h0M360.4 21.6h0M360.6 21.9h0M360.7 22.1h0M360.9 22.3h0M361.1 22.3h0M361.3 22.5h0M361.4 22.5h0M361.6 22.4h0M361.8 22.9h0" stroke="#13277e" stroke-width="1.85" stroke-linecap="round"/>
<path d="M361.9 22.8h0M362.1 23h0M362.3 23.4h0M362.5 23.2h0M362.6 23.4h0M362.8 23.9h0M363 23.8h0M363.2 23.6h0M363.3 23.9h0M363.5 24.1h0M363.7 24.5h0M363.9 24.5h0M364 24.5h0M364.2 24.9h0M364.4 25.2h0M364.6 24.7h0M364.7 25.3h0M364.9 25.6h0M365.1 26h0M365.2 25.3h0M365.4 25.8h0M365.6 26h0" stroke="#152e88" stroke-width="1.85" stroke-linecap="round"/>
<path d="M365.8 26.2h0M365.9 25.9h0M366.1 26.3h0M366.3 26.7h0M366.5 26.5h0M366.6 26.7h0M366.8 26.9h0M367 27.1h0M367.2 27.2h0M367.3 27.2h0M367.5 27.4h0M367.7 27.7h0M367.9 27.4h0M368 27.5h0M368.2 27.9h0M368.4 28h0M368.6 28h0M368.7 28.4h0M368.9 28.4h0M369.1 28.3h0M369.2 28.7h0M369.4 29.2h0" stroke="#173492" stroke-width="1.85" stroke-linecap="round"/>
<path d="M369.6 29.2h0M369.8 29.2h0M369.9 29.2h0M370.1 29.7h0M370.3 29.8h0M370.5 29.6h0M370.6 29.4h0M370.8 29.8h0M371 30.1h0M371.2 30h0M371.3 30.1h0M371.5 30.3h0M371.7 30.8h0M371.9 30.4h0M372 31.1h0M372.2 31.1h0M372.4 31.6h0M372.5 31.2h0M372.7 31.4h0M372.9 31.4h0M373.1 31.7h0" stroke="#183a9d" stroke-width="1.85" stroke-linecap="round"/>
<path d="M373.2 32.1h0M373.4 32h0M373.6 32.4h0M373.8 31.8h0M373.9 32.7h0M374.1 32.4h0M374.3 32.8h0M374.5 32.9h0M374.6 33h0M374.8 32.9h0M375 33.2h0M375.2 33.3h0M375.3 33.7h0M375.5 33.4h0M375.7 33.8h0M375.9 33.9h0M376 33.7h0M376.2 33.9h0M376.4 34.2h0M376.5 34.2h0M376.7 34.8h0M376.9 34.7h0" stroke="#1b43a7" stroke-width="1.85" stroke-linecap="round"/>
<path d="M377.1 34.7h0M377.2 35h0M377.4 35.2h0M377.6 35.2h0M377.8 35.6h0M377.9 35.5h0M378.1 35.4h0M378.3 35.6h0M378.5 35.8h0M378.6 36.1h0M378.8 35.7h0M379 36.3h0M379.2 36.6h0M379.3 36.1h0M379.5 36.3h0M379.7 36.8h0M379.8 36.8h0M380 37h0M380.2 37.2h0M380.4 37.2h0M380.5 37.6h0M380.7 37.8h0" stroke="#1d4db1" stroke-width="1.85" stroke-linecap="round"/>
<path d="M380.9 38h0M381.1 37.8h0M381.2 38h0M381.4 38.2h0M381.6 38.1h0M381.8 38.5h0M381.9 38.6h0M382.1 38.3h0M382.3 38.5h0M382.5 38.8h0M382.6 39.1h0M382.8 39.1h0M383 39.6h0M383.2 39.4h0M383.3 39.4h0M383.5 39.8h0M383.7 40.2h0M383.8 39.9h0M384 40.3h0M384.2 40.3h0M384.4 40.6h0M384.5 40.6h0" stroke="#2057bb" stroke-width="1.85" stroke-linecap="round"/>
<path d="M384.7 41h0M384.9 40.7h0M385.1 41.1h0M385.2 41.2h0M385.4 41h0M385.6 40.9h0M385.8 41.6h0M385.9 41.7h0M386.1 42h0M386.3 41.9h0M386.5 41.9h0M386.6 42.2h0M386.8 42.4h0M387 42.3h0M387.1 42.5h0M387.3 43.1h0M387.5 42.7h0M387.7 42.7h0M387.8 43h0M388 43.1h0M388.2 43.5h0" stroke="#2261c5" stroke-width="1.85" stroke-linecap="round"/>
<path d="M388.4 43.8h0M388.5 43.5h0M388.7 43.5h0M388.9 44h0M389.1 44.3h0M389.2 44.3h0M389.4 44.3h0M389.6 44.6h0M389.8 44.7h0M389.9 44.6h0M390.1 44.6h0M390.3 44.9h0M390.5 45.2h0M390.6 45.2h0M390.8 45.4h0M391 45.6h0M391.1 45.9h0M391.3 45.6h0M391.5 46h0M391.7 45.6h0M391.8 46.1h0M392 46.3h0" stroke="#256fcc" stroke-width="1.85" stroke-linecap="round"/>
<path d="M392.2 46.6h0M392.4 46.6h0M392.5 46.6h0M392.7 46.9h0M392.9 46.7h0M393.1 47.3h0M393.2 47.4h0M393.4 47.5h0M393.6 48.1h0M393.8 47.6h0M393.9 48.1h0M394.1 48.2h0M394.3 48.4h0M394.4 48.1h0M394.6 48.4h0M394.8 48.7h0M395 48.8h0M395.1 48.8h0M395.3 49h0M395.5 49.3h0M395.7 49.4h0M395.8 49.2h0" stroke="#2780d3" stroke-width="1.85" stroke-linecap="round"/>
<path d="M396 49.3h0M396.2 49.4h0M396.4 49.9h0M396.5 50.1h0M396.7 50.4h0M396.9 50.2h0M397.1 50.4h0M397.2 50.6h0M397.4 50.4h0M397.6 50.7h0M397.7 51h0M397.9 51h0M398.1 51.4h0M398.3 51.4h0M398.4 51.4h0M398.6 51.7h0M398.8 51.9h0M399 52h0M399.1 51.7h0M399.3 52.3h0M399.5 52.4h0" stroke="#2a90d9" stroke-width="1.85" stroke-linecap="round"/>
<path d="M399.7 52.3h0M399.8 52.6h0M400 52.8h0M400.2 52.7h0M400.4 53.1h0M400.5 52.7h0M400.7 53.4h0M400.9 53.5h0M401.1 53.4h0M401.2 54h0M401.4 53.7h0M401.6 53.9h0M401.7 53.8h0M401.9 54.2h0M402.1 54.3h0M402.3 54.2h0M402.4 54.5h0M402.6 54.9h0M402.8 55h0M403 55.1h0M403.1 55h0M403.3 55.6h0" stroke="#2ca0df" stroke-width="1.85" stroke-linecap="round"/>
<path d="M403.5 55.3h0M403.7 55.3h0M403.8 55.7h0M404 56h0M404.2 55.7h0M404.4 56.1h0M404.5 55.7h0M404.7 56.3h0M404.9 56.4h0M405 56.5h0M405.2 56.6h0M405.4 56.6h0M405.6 56.9h0M405.7 57.1h0M405.9 57.3h0M406.1 57.6h0M406.3 57.1h0M406.4 57.6h0M406.6 57.5h0M406.8 57.9h0M407 58h0M407.1 58.1h0" stroke="#35aadc" stroke-width="1.85" stroke-linecap="round"/>
<path d="M407.3 58.2h0M407.5 58.2h0M407.7 58.4h0M407.8 58.6h0M408 58.8h0M408.2 58.8h0M408.4 59.1h0M408.5 59h0M408.7 59.6h0M408.9 59.2h0M409 59.7h0M409.2 60.2h0M409.4 59.8h0M409.6 59.9h0M409.7 60.2h0M409.9 60.3h0M410.1 60.4h0M410.3 60.8h0M410.4 60.5h0M410.6 61.1h0M410.8 61.1h0M411 61.7h0" stroke="#40b2d4" stroke-width="1.85" stroke-linecap="round"/>
<path d="M411.1 61.2h0M411.3 61.6h0M411.5 61.3h0M411.7 62h0M411.8 61.5h0M412 62.4h0M412.2 62.2h0M412.3 62.3h0M412.5 62.5h0M412.7 62.2h0M412.9 62.9h0M413 62.9h0M413.2 62.9h0M413.4 63.1h0M413.6 63.3h0M413.7 63.3h0M413.9 63.5h0M414.1 63.4h0M414.3 63.8h0M414.4 63.8h0M414.6 63.9h0M414.8 63.9h0" stroke="#4bb9cd" stroke-width="1.85" stroke-linecap="round"/>
<path d="M415 64.4h0M415.1 64.3h0M415.3 64.9h0M415.5 64.6h0M415.7 64.7h0M415.8 64.8h0M416 65h0M416.2 65.4h0M416.3 65.8h0M416.5 65.9h0M416.7 65.6h0M416.9 65.7h0M417 65.9h0M417.2 65.9h0M417.4 66.4h0M417.6 66.3h0M417.7 66.3h0M417.9 66.7h0M418.1 67.2h0M418.3 67h0M418.4 66.9h0" stroke="#57c1c5" stroke-width="1.85" stroke-linecap="round"/>
<path d="M418.6 67.3h0M418.8 67.5h0M419 67.7h0M419.1 67.2h0M419.3 67.6h0M419.5 68.1h0M419.6 67.9h0M419.8 68h0M420 68h0M420.2 68.6h0M420.3 68.3h0M420.5 68.5h0M420.7 69h0M420.9 68.9h0M421 69h0M421.2 69.1h0M421.4 69.7h0M421.6 69.4h0M421.7 69.7h0M421.9 69.6h0M422.1 69.8h0M422.3 70.1h0" stroke="#61c4b4" stroke-width="1.85" stroke-linecap="round"/>
<path d="M422.4 70.3h0M422.6 70.3h0M422.8 70.4h0M423 70.6h0M423.1 71h0M423.3 70.5h0M423.5 70.8h0M423.6 71.1h0M423.8 71.2h0M424 71.3h0M424.2 71.5h0M424.3 71.7h0M424.5 71.6h0M424.7 71.9h0M424.9 72.1h0M425 72.2h0M425.2 72.3h0M425.4 72.4h0M425.6 71.9h0M425.7 72.8h0M425.9 72.8h0M426.1 72.8h0" stroke="#6bc59f" stroke-width="1.85" stroke-linecap="round"/>
<path d="M426.3 73.4h0M426.4 73.3h0M426.6 73.7h0M426.8 73.7h0M426.9 73.9h0M427.1 73.8h0M427.3 74.1h0M427.5 73.9h0M427.6 74.3h0M427.8 74.4h0M428 74.6h0M428.2 74.8h0M428.3 74.6h0M428.5 75.1h0M428.7 74.8h0M428.9 75.2h0M429 75.5h0M429.2 75.4h0M429.4 75.7h0M429.6 75.8h0M429.7 75.6h0" stroke="#75c68a" stroke-width="1.85" stroke-linecap="round"/>
<path d="M429.9 75.9h0M430.1 76.6h0M430.3 76.3h0M430.4 76.4h0M430.6 76.6h0M430.8 76.4h0M430.9 77h0M431.1 77.1h0M431.3 77h0M431.5 77h0M431.6 77.6h0M431.8 77.5h0M432 77.7h0M432.2 77.6h0M432.3 77.4h0M432.5 77.9h0M432.7 78.2h0M432.9 78.4h0M433 78.9h0M433.2 78.5h0M433.4 78.5h0M433.6 78.7h0" stroke="#7fc874" stroke-width="1.85" stroke-linecap="round"/>
<path d="M433.7 79.1h0M433.9 78.8h0M434.1 79.5h0M434.2 79.2h0M434.4 79.4h0M434.6 79.7h0M434.8 79.6h0M434.9 80.1h0M435.1 80.2h0M435.3 80.1h0M435.5 79.9h0M435.6 80.3h0M435.8 80.7h0M436 80.4h0M436.2 80.4h0M436.3 80.9h0M436.5 81.1h0M436.7 81.5h0M436.9 81.6h0M437 81.8h0M437.2 81.9h0M437.4 82.1h0" stroke="#91cb61" stroke-width="1.85" stroke-linecap="round"/>
<path d="M437.5 81.7h0M437.7 82h0M437.9 82.7h0M438.1 82.2h0M438.2 82.3h0M438.4 82.8h0M438.6 82.9h0M438.8 83.2h0M438.9 82.8h0M439.1 83.5h0M439.3 83.4h0M439.5 83.2h0M439.6 83.8h0M439.8 83.6h0M440 83.8h0M440.2 84.2h0M440.3 83.9h0M440.5 84.5h0M440.7 84.5h0M440.9 84.7h0M441 84.6h0M441.2 84.9h0" stroke="#a7d04e" stroke-width="1.85" stroke-linecap="round"/>
<path d="M441.4 84.9h0M441.5 85.2h0M441.7 85h0M441.9 85.4h0M442.1 85.3h0M442.2 85.7h0M442.4 85.6h0M442.6 86.2h0M442.8 86.1h0M442.9 86h0M443.1 86h0M443.3 86.4h0M443.5 86.2h0M443.6 86.4h0M443.8 87.2h0M444 86.9h0M444.2 87.1h0M444.3 87.1h0M444.5 87.1h0M444.7 87.6h0M444.8 87.4h0" stroke="#bdd53b" stroke-width="1.85" stroke-linecap="round"/>
<path d="M445 88.1h0M445.2 87.8h0M445.4 88.3h0M445.5 88.4h0M445.7 88.1h0M445.9 88.6h0M446.1 88.4h0M446.2 88.7h0M446.4 88.8h0M446.6 89h0M446.8 89.4h0M446.9 89h0M447.1 89.1h0M447.3 89.5h0M447.5 89.7h0M447.6 89.9h0M447.8 90.1h0M448 90.2h0M448.2 90.5h0M448.3 90.4h0M448.5 90.2h0M448.7 90.7h0" stroke="#d1d72d" stroke-width="1.85" stroke-linecap="round"/>
<path d="M448.8 90.6h0M449 90.8h0M449.2 91.1h0M449.4 91h0M449.5 91.3h0M449.7 91.1h0M449.9 91.3h0M450.1 91.7h0M450.2 91.9h0M450.4 91.6h0M450.6 92.3h0M450.8 91.8h0M450.9 92.1h0M451.1 92.6h0M451.3 92.6h0M451.5 93h0M451.6 93.1h0M451.8 92.8h0M452 93.1h0M452.1 93.2h0M452.3 92.9h0M452.5 93.5h0" stroke="#e4d722" stroke-width="1.85" stroke-linecap="round"/>
<path d="M452.7 93.8h0M452.8 93.6h0M453 93.8h0M453.2 94.2h0M453.4 94.4h0M453.5 94.3h0M453.7 94.6h0M453.9 94.8h0M454.1 94.9h0M454.2 94.6h0M454.4 95.1h0M454.6 95.1h0M454.8 95.6h0M454.9 95.7h0M455.1 95.9h0M455.3 95.7h0M455.5 96h0M455.6 96.4h0M455.8 95.7h0M456 96.2h0M456.1 96.5h0M456.3 96.3h0" stroke="#f5d519" stroke-width="1.85" stroke-linecap="round"/>
<path d="M456.5 96.6h0M456.7 96.7h0M456.8 96.6h0M457 97.1h0M457.2 97h0M457.4 97.5h0M457.5 97.7h0M457.7 97.8h0M457.9 97.7h0M458.1 97.9h0M458.2 98.1h0M458.4 97.9h0M458.6 98.5h0M458.8 98.3h0M458.9 98.4h0M459.1 98.6h0M459.3 98.7h0M459.4 99h0M459.6 99.3h0M459.8 99h0M460 99.5h0" stroke="#f3c01b" stroke-width="1.85" stroke-linecap="round"/>
<path d="M460.1 99.4h0M460.3 99.3h0M460.5 99.5h0M460.7 99.8h0M460.8 100h0M461 99.9h0M461.2 100h0M461.4 100.6h0M461.5 100.8h0M461.7 100.6h0M461.9 100.7h0M462.1 100.9h0M462.2 101.1h0M462.4 101.3h0M462.6 101.3h0M462.8 101.8h0M462.9 101.5h0M463.1 101.6h0M463.3 101.8h0M463.4 102.2h0M463.6 102.3h0M463.8 102.2h0" stroke="#f2ab1c" stroke-width="1.85" stroke-linecap="round"/>
<path d="M464 102.5h0M464.1 102.5h0M464.3 102.6h0M464.5 103h0M464.7 102.9h0M464.8 103.2h0M465 103.4h0M465.2 103.3h0M465.4 103.5h0M465.5 103.4h0M465.7 103.6h0M465.9 103.7h0M466.1 104.1h0M466.2 104h0M466.4 104.2h0M466.6 104.2h0M466.7 104.3h0M466.9 104.9h0M467.1 105h0M467.3 105.1h0M467.4 104.8h0M467.6 105.2h0" stroke="#f1961d" stroke-width="1.85" stroke-linecap="round"/>
<path d="M467.8 105.7h0M468 105.6h0M468.1 106h0M468.3 105.4h0M468.5 105.8h0M468.7 106.3h0M468.8 106.1h0M469 105.8h0M469.2 106.4h0M469.4 106.9h0M469.5 106.8h0M469.7 106.7h0M469.9 106.6h0M470.1 107h0M470.2 107.1h0M470.4 107.6h0M470.6 107.4h0M470.7 107.3h0M470.9 108h0M471.1 108.1h0M471.3 108.2h0M471.4 108.1h0" stroke="#ee801e" stroke-width="1.85" stroke-linecap="round"/>
<path d="M471.6 108.4h0M471.8 108.1h0M472 108.3h0M472.1 108.6h0M472.3 108.8h0M472.5 109.3h0M472.7 109.2h0M472.8 109.3h0M473 109.1h0M473.2 109.5h0M473.4 109.4h0M473.5 109.7h0M473.7 109.8h0M473.9 110.2h0M474 110.5h0M474.2 110.2h0M474.4 110.2h0M474.6 111h0M474.7 110.8h0M474.9 110.9h0M475.1 110.9h0M475.3 111.4h0" stroke="#e9671e" stroke-width="1.85" stroke-linecap="round"/>
<path d="M475.4 110.8h0M475.6 111.4h0M475.8 111.4h0M476 111.7h0M476.1 111.6h0M476.3 111.8h0M476.5 111.9h0M476.7 112.3h0M476.8 112.3h0M477 112.3h0M477.2 112.1h0M477.4 112.6h0M477.5 112.9h0M477.7 112.7h0M477.9 113.3h0M478 113.2h0M478.2 113.3h0M478.4 113.6h0M478.6 113.7h0M478.7 113.7h0M478.9 114.3h0" stroke="#e44d1e" stroke-width="1.85" stroke-linecap="round"/>
<path d="M479.1 114h0M479.3 114.6h0M479.4 114.8h0M479.6 114.3h0M479.8 114.6h0M480 114.6h0M480.1 114.8h0M480.3 115.5h0M480.5 114.9h0M480.7 115.3h0M480.8 115.5h0M481 115.6h0M481.2 116.3h0M481.3 116.2h0M481.5 115.8h0M481.7 116.5h0M481.9 116.1h0M482 116.2h0M482.2 116.7h0M482.4 116.8h0M482.6 117h0M482.7 117.1h0" stroke="#df341e" stroke-width="1.85" stroke-linecap="round"/>
<path d="M482.9 117.1h0M483.1 117.3h0M483.3 117.4h0M483.4 117.6h0M483.6 117.2h0M483.8 117.7h0M484 118h0M484.1 118.2h0M484.3 118h0M484.5 118.2h0M484.6 118.2h0M484.8 118.5h0M485 118.5h0M485.2 118.9h0M485.3 119.3h0M485.5 119.2h0M485.7 119.4h0M485.9 119.5h0M486 119.3h0M486.2 119.5h0M486.4 119.7h0M486.6 119.9h0" stroke="#d6261d" stroke-width="1.85" stroke-linecap="round"/>
<path d="M486.7 119.9h0M486.9 120.1h0M487.1 120.2h0M487.3 120.2h0M487.4 120.6h0M487.6 120.7h0M487.8 120.5h0M488 121h0M488.1 121h0M488.3 120.9h0M488.5 121.3h0M488.6 121.5h0M488.8 121.2h0M489 121.6h0M489.2 122h0M489.3 122h0M489.5 122.2h0M489.7 122.3h0M489.9 122.1h0M490 122.8h0M490.2 123h0" stroke="#c9211c" stroke-width="1.85" stroke-linecap="round"/>
<path d="M490.4 122.7h0M490.6 123h0M490.7 123.2h0M490.9 123.5h0M491.1 123h0M491.3 123.2h0M491.4 123.6h0M491.6 123.8h0M491.8 123.7h0M491.9 123.8h0M492.1 124h0M492.3 124.3h0M492.5 124.6h0M492.6 124.5h0M492.8 124.2h0M493 124.9h0M493.2 125.3h0M493.3 125.3h0M493.5 125.2h0M493.7 125.1h0M493.9 125.2h0M494 125.7h0" stroke="#bd1c1a" stroke-width="1.85" stroke-linecap="round"/>
<path d="M494.2 125.8h0M494.4 125.5h0M494.6 125.9h0M494.7 125.9h0M494.9 126.3h0M495.1 126.3h0M495.3 126.2h0M495.4 126.8h0M495.6 127h0M495.8 126.8h0M495.9 127.4h0M496.1 127.1h0M496.3 127.1h0M496.5 127.3h0M496.6 127.5h0M496.8 127.6h0M497 127.8h0M497.2 128.3h0M497.3 128.1h0M497.5 128.4h0M497.7 128.1h0M497.9 128.3h0" stroke="#ae1818" stroke-width="1.85" stroke-linecap="round"/>
<path d="M498 128.7h0M498.2 128.7h0M498.4 128.9h0M498.6 128.7h0M498.7 129.4h0M498.9 129.4h0M499.1 129h0M499.2 129.5h0M499.4 129.6h0M499.6 129.4h0M499.8 130h0M499.9 130.2h0M500.1 129.8h0M500.3 130.5h0M500.5 130.7h0M500.6 130.4h0M500.8 130.9h0M501 131.1h0M501.2 131h0M501.3 131h0M501.5 131.6h0M501.7 131.7h0" stroke="#981717" stroke-width="1.85" stroke-linecap="round"/>
<path d="M501.9 131.6h0M502 131.7h0M502.2 132.1h0M502.4 132.2h0M502.6 132.2h0M502.7 132.2h0M502.9 132.3h0M503.1 132.5h0M503.2 133h0M503.4 132.9h0M503.6 132.9h0M503.8 132.9h0M503.9 133.6h0M504.1 132.9h0M504.3 133.1h0M504.5 133.8h0M504.6 133.5h0M504.8 134h0M505 133.9h0M505.2 134.2h0M505.3 133.8h0M505.5 134h0" stroke="#831515" stroke-width="1.85" stroke-linecap="round"/>
<path d="M519.4 16.5V135.5H670.5" stroke="#a0a0a0" stroke-width="1.2" fill="none"/>
<text transform="translate(517.6 26.6) scale(.5)" class="e">1.5</text>
<text transform="translate(517.6 43.7) scale(.5)" class="e">1</text>
<text transform="translate(517.6 60.8) scale(.5)" class="e">0.5</text>
<text transform="translate(517.6 77.9) scale(.5)" class="e">0</text>
<text transform="translate(517.6 95) scale(.5)" class="e">-0.5</text>
<text transform="translate(517.6 112.1) scale(.5)" class="e">-1</text>
<text transform="translate(517.6 129.2) scale(.5)" class="e">-1.5</text>
<text transform="translate(536.3 141.7) scale(.5)" class="m">100</text>
<text transform="translate(553.2 141.7) scale(.5)" class="m">200</text>
<text transform="translate(570.1 141.7) scale(.5)" class="m">300</text>
<text transform="translate(587 141.7) scale(.5)" class="m">400</text>
<text transform="translate(603.9 141.7) scale(.5)" class="m">500</text>
<text transform="translate(620.8 141.7) scale(.5)" class="m">600</text>
<text transform="translate(637.7 141.7) scale(.5)" class="m">700</text>
<text transform="translate(654.6 141.7) scale(.5)" class="m">800</text>
<path d="M519.4 25h1.5M519.4 42.1h1.5M519.4 59.2h1.5M519.4 76.3h1.5M519.4 93.4h1.5M519.4 110.5h1.5M519.4 127.6h1.5M536.3 135.5v-1.5M553.2 135.5v-1.5M570.1 135.5v-1.5M587 135.5v-1.5M603.9 135.5v-1.5M620.8 135.5v-1.5M637.7 135.5v-1.5M654.6 135.5v-1.5" stroke="#a0a0a0" stroke-width="0.7"/>
<path d="M519.4 16.6h0M519.6 16.4h0M519.7 16.3h0M519.9 16.8h0M520.1 16.7h0M520.2 17.2h0M520.4 17.1h0M520.6 17.5h0M520.8 17.5h0M520.9 17.6h0M521.1 17.9h0M521.3 18h0M521.4 18.2h0M521.6 18.2h0M521.8 18.3h0M521.9 18.5h0M522.1 18.5h0M522.3 18.6h0M522.4 19h0M522.6 19.3h0M522.8 19h0M523 19.2h0M523.1 19.5h0" stroke="#112173" stroke-width="1.85" stroke-linecap="round"/>
<path d="M523.3 19.2h0M523.5 20h0M523.6 19.7h0M523.8 19.9h0M524 20.1h0M524.1 20.6h0M524.3 20.5h0M524.5 20.4h0M524.6 20.3h0M524.8 20.8h0M525 21.1h0M525.2 20.9h0M525.3 20.8h0M525.5 21.2h0M525.7 21.8h0M525.8 21.6h0M526 21.5h0M526.2 22.1h0M526.3 21.7h0M526.5 22.2h0M526.7 22h0M526.8 22.3h0" stroke="#13277e" stroke-width="1.85" stroke-linecap="round"/>
<path d="M527 22.3h0M527.2 22.5h0M527.4 22.8h0M527.5 22.7h0M527.7 23.1h0M527.9 23.3h0M528 23.1h0M528.2 23h0M528.4 23.6h0M528.5 23.8h0M528.7 23.5h0M528.9 24.2h0M529 24.3h0M529.2 24.3h0M529.4 24.6h0M529.6 24.7h0M529.7 24.6h0M529.9 24.9h0M530.1 25.2h0M530.2 24.7h0M530.4 25.3h0M530.6 25.5h0" stroke="#152e88" stroke-width="1.85" stroke-linecap="round"/>
<path d="M530.7 25.5h0M530.9 25.4h0M531.1 25.6h0M531.2 25.9h0M531.4 25.1h0M531.6 26.1h0M531.8 26h0M531.9 26.5h0M532.1 26.8h0M532.3 26.4h0M532.4 26.9h0M532.6 27.2h0M532.8 26.9h0M532.9 27.1h0M533.1 27.2h0M533.3 27.4h0M533.4 27.3h0M533.6 27.8h0M533.8 27.5h0M534 28.1h0M534.1 27.9h0M534.3 28.1h0M534.5 27.9h0" stroke="#173492" stroke-width="1.85" stroke-linecap="round"/>
<path d="M534.6 28.5h0M534.8 28.4h0M535 29h0M535.1 29.2h0M535.3 29.3h0M535.5 29.3h0M535.6 29.2h0M535.8 29.5h0M536 29.4h0M536.1 30.1h0M536.3 29.7h0M536.5 30h0M536.7 30.2h0M536.8 30.4h0M537 30.7h0M537.2 30.3h0M537.3 30.9h0M537.5 30.9h0M537.7 31.2h0M537.8 31.5h0M538 31.1h0M538.2 31.6h0" stroke="#183a9d" stroke-width="1.85" stroke-linecap="round"/>
<path d="M538.3 31.3h0M538.5 31.7h0M538.7 31.7h0M538.9 31.7h0M539 32h0M539.2 32.4h0M539.4 32.1h0M539.5 32.2h0M539.7 32.6h0M539.9 32.6h0M540 32.9h0M540.2 33h0M540.4 32.9h0M540.5 33.3h0M540.7 33.3h0M540.9 33h0M541.1 33.4h0M541.2 33.9h0M541.4 34h0M541.6 33.8h0M541.7 33.9h0M541.9 34h0" stroke="#1b43a7" stroke-width="1.85" stroke-linecap="round"/>
<path d="M542.1 34.1h0M542.2 34.3h0M542.4 34.8h0M542.6 34.6h0M542.7 35.3h0M542.9 34.8h0M543.1 35.2h0M543.3 35h0M543.4 35.2h0M543.6 35.4h0M543.8 35.7h0M543.9 36h0M544.1 36h0M544.3 36.2h0M544.4 36.3h0M544.6 36.3h0M544.8 36.7h0M544.9 36.8h0M545.1 36.9h0M545.3 36.6h0M545.5 37.2h0M545.6 37.3h0M545.8 37.3h0" stroke="#1d4db1" stroke-width="1.85" stroke-linecap="round"/>
<path d="M546 37h0M546.1 37.6h0M546.3 37.9h0M546.5 37.7h0M546.6 38.1h0M546.8 38.5h0M547 38.3h0M547.1 38.4h0M547.3 38.7h0M547.5 38.5h0M547.7 38.8h0M547.8 38.8h0M548 38.6h0M548.2 39.1h0M548.3 40h0M548.5 39.5h0M548.7 39.7h0M548.8 39.5h0M549 39.6h0M549.2 39.9h0M549.3 39.8h0M549.5 40.3h0" stroke="#2057bb" stroke-width="1.85" stroke-linecap="round"/>
<path d="M549.7 40.5h0M549.9 40.4h0M550 40.5h0M550.2 40.8h0M550.4 41h0M550.5 41.1h0M550.7 41h0M550.9 41.3h0M551 41.4h0M551.2 41.4h0M551.4 41.6h0M551.5 41.7h0M551.7 42.2h0M551.9 42.2h0M552.1 42.1h0M552.2 42.4h0M552.4 42.2h0M552.6 42.6h0M552.7 42.7h0M552.9 42.9h0M553.1 43.1h0M553.2 43.1h0" stroke="#2261c5" stroke-width="1.85" stroke-linecap="round"/>
<path d="M553.4 43.1h0M553.6 43.4h0M553.7 43.5h0M553.9 43.8h0M554.1 44.1h0M554.3 43.7h0M554.4 44.1h0M554.6 44.3h0M554.8 44.4h0M554.9 44.3h0M555.1 44.4h0M555.3 45h0M555.4 45h0M555.6 45h0M555.8 45.2h0M555.9 45.4h0M556.1 45.3h0M556.3 45.8h0M556.5 45.8h0M556.6 46.3h0M556.8 46h0M557 46.3h0M557.1 46h0" stroke="#256fcc" stroke-width="1.85" stroke-linecap="round"/>
<path d="M557.3 46h0M557.5 47h0M557.6 46.7h0M557.8 46.5h0M558 46.7h0M558.1 47.2h0M558.3 47.3h0M558.5 47.1h0M558.7 47.3h0M558.8 47.6h0M559 47.8h0M559.2 48.1h0M559.3 47.9h0M559.5 48.2h0M559.7 48.1h0M559.8 48.3h0M560 48.5h0M560.2 48.6h0M560.3 48.8h0M560.5 48.8h0M560.7 49.1h0M560.9 49.2h0" stroke="#2780d3" stroke-width="1.85" stroke-linecap="round"/>
<path d="M561 49.2h0M561.2 49.5h0M561.4 49.5h0M561.5 49.9h0M561.7 49.9h0M561.9 50h0M562 50h0M562.2 50.6h0M562.4 50.6h0M562.5 50.6h0M562.7 50.6h0M562.9 50.8h0M563.1 50.9h0M563.2 50.8h0M563.4 50.8h0M563.6 51.1h0M563.7 51.3h0M563.9 51.7h0M564.1 51.6h0M564.2 51.8h0M564.4 51.8h0M564.6 51.9h0" stroke="#2a90d9" stroke-width="1.85" stroke-linecap="round"/>
<path d="M564.7 52.5h0M564.9 52.6h0M565.1 52.2h0M565.3 52.9h0M565.4 52.6h0M565.6 52.9h0M565.8 53.4h0M565.9 53.1h0M566.1 53.5h0M566.3 53.6h0M566.4 53.6h0M566.6 53.3h0M566.8 54h0M566.9 53.6h0M567.1 53.8h0M567.3 54.4h0M567.4 54.4h0M567.6 54.7h0M567.8 54.5h0M568 54.8h0M568.1 55.2h0M568.3 55.5h0M568.5 55.1h0" stroke="#2ca0df" stroke-width="1.85" stroke-linecap="round"/>
<path d="M568.6 55.2h0M568.8 55.6h0M569 55.8h0M569.1 55.7h0M569.3 55.6h0M569.5 55.7h0M569.6 56.4h0M569.8 56.1h0M570 56.1h0M570.2 56.4h0M570.3 56.6h0M570.5 56.8h0M570.7 57.3h0M570.8 57.3h0M571 57.4h0M571.2 57.2h0M571.3 57.4h0M571.5 57.1h0M571.7 57.3h0M571.8 57.7h0M572 57.8h0M572.2 58.4h0" stroke="#35aadc" stroke-width="1.85" stroke-linecap="round"/>
<path d="M572.4 58.5h0M572.5 58.5h0M572.7 58.8h0M572.9 58.5h0M573 58.9h0M573.2 58.9h0M573.4 58.9h0M573.5 59h0M573.7 58.9h0M573.9 59.5h0M574 59.3h0M574.2 59.6h0M574.4 60h0M574.6 60.3h0M574.7 60.5h0M574.9 59.9h0M575.1 60.3h0M575.2 60.2h0M575.4 60.4h0M575.6 60.7h0M575.7 61.1h0M575.9 60.9h0" stroke="#40b2d4" stroke-width="1.85" stroke-linecap="round"/>
<path d="M576.1 61.4h0M576.2 61h0M576.4 61.5h0M576.6 61.4h0M576.8 61.9h0M576.9 62.2h0M577.1 61.7h0M577.3 61.9h0M577.4 62.1h0M577.6 62.5h0M577.8 62.5h0M577.9 62.3h0M578.1 62.9h0M578.3 62.9h0M578.4 62.9h0M578.6 63.3h0M578.8 63.2h0M579 63.4h0M579.1 63.6h0M579.3 63.4h0M579.5 63.6h0M579.6 64.1h0M579.8 64.3h0" stroke="#4bb9cd" stroke-width="1.85" stroke-linecap="round"/>
<path d="M580 64.2h0M580.1 64.2h0M580.3 64.4h0M580.5 64.6h0M580.6 64.7h0M580.8 65.2h0M581 65h0M581.2 65h0M581.3 65.4h0M581.5 64.7h0M581.7 65.9h0M581.8 65.7h0M582 65.8h0M582.2 65.8h0M582.3 66.3h0M582.5 66.3h0M582.7 66.2h0M582.8 66.4h0M583 66.2h0M583.2 66.6h0M583.4 67h0M583.5 66.9h0" stroke="#57c1c5" stroke-width="1.85" stroke-linecap="round"/>
<path d="M583.7 67h0M583.9 67h0M584 67.3h0M584.2 67.7h0M584.4 67.5h0M584.5 67.6h0M584.7 67.8h0M584.9 68.1h0M585 68.2h0M585.2 68.3h0M585.4 68.3h0M585.6 68.2h0M585.7 68.9h0M585.9 69h0M586.1 68.6h0M586.2 68.9h0M586.4 69.3h0M586.6 69.3h0M586.7 69.3h0M586.9 69.9h0M587.1 69.8h0M587.2 70.1h0" stroke="#61c4b4" stroke-width="1.85" stroke-linecap="round"/>
<path d="M587.4 70.1h0M587.6 70.3h0M587.8 70.5h0M587.9 70.1h0M588.1 70.9h0M588.3 70.6h0M588.4 70.9h0M588.6 70.8h0M588.8 71.5h0M588.9 71h0M589.1 71.7h0M589.3 71.3h0M589.4 71.7h0M589.6 71.5h0M589.8 71.8h0M590 72.1h0M590.1 72.1h0M590.3 72.3h0M590.5 72.3h0M590.6 72.9h0M590.8 72.8h0M591 73h0M591.1 72.8h0" stroke="#6bc59f" stroke-width="1.85" stroke-linecap="round"/>
<path d="M591.3 73.3h0M591.5 73.3h0M591.6 73.6h0M591.8 73.5h0M592 73.6h0M592.2 73.3h0M592.3 74h0M592.5 73.9h0M592.7 74.2h0M592.8 74.2h0M593 74.3h0M593.2 74.6h0M593.3 75h0M593.5 74.6h0M593.7 74.9h0M593.8 75.3h0M594 75.1h0M594.2 75.2h0M594.4 75.8h0M594.5 75.5h0M594.7 75.8h0M594.9 75.5h0" stroke="#75c68a" stroke-width="1.85" stroke-linecap="round"/>
<path d="M595 76.2h0M595.2 75.9h0M595.4 76.4h0M595.5 76h0M595.7 76.4h0M595.9 76.7h0M596 76.6h0M596.2 76.6h0M596.4 77.2h0M596.6 77.2h0M596.7 77.4h0M596.9 77.3h0M597.1 77.3h0M597.2 78.1h0M597.4 77.7h0M597.6 78.2h0M597.7 78.4h0M597.9 78.4h0M598.1 78.2h0M598.2 78.4h0M598.4 79h0M598.6 78.8h0" stroke="#7fc874" stroke-width="1.85" stroke-linecap="round"/>
<path d="M598.7 78.8h0M598.9 78.9h0M599.1 79.2h0M599.3 79.3h0M599.4 79.3h0M599.6 79.4h0M599.8 79.4h0M599.9 80h0M600.1 80.2h0M600.3 80.3h0M600.4 80.4h0M600.6 80.3h0M600.8 80.5h0M600.9 80.6h0M601.1 80.5h0M601.3 80.6h0M601.5 81.2h0M601.6 80.9h0M601.8 81.2h0M602 81.5h0M602.1 81.9h0M602.3 81.6h0M602.5 81.4h0" stroke="#91cb61" stroke-width="1.85" stroke-linecap="round"/>
<path d="M602.6 81.9h0M602.8 82.3h0M603 81.8h0M603.1 82.2h0M603.3 82.5h0M603.5 82.6h0M603.7 82.1h0M603.8 83h0M604 83h0M604.2 83.1h0M604.3 83.2h0M604.5 83.4h0M604.7 83.6h0M604.8 83.5h0M605 83.7h0M605.2 83.6h0M605.3 83.8h0M605.5 84.5h0M605.7 84.2h0M605.9 84.4h0M606 84.7h0M606.2 84.5h0" stroke="#a7d04e" stroke-width="1.85" stroke-linecap="round"/>
<path d="M606.4 84.6h0M606.5 85.1h0M606.7 84.7h0M606.9 85.2h0M607 85.3h0M607.2 85.8h0M607.4 85.5h0M607.5 86h0M607.7 86.2h0M607.9 86h0M608.1 85.9h0M608.2 86.4h0M608.4 86.6h0M608.6 86.3h0M608.7 86.5h0M608.9 86.8h0M609.1 86.9h0M609.2 87.3h0M609.4 87.4h0M609.6 87.6h0M609.7 87.5h0M609.9 87.4h0" stroke="#bdd53b" stroke-width="1.85" stroke-linecap="round"/>
<path d="M610.1 87.8h0M610.3 87.9h0M610.4 87.8h0M610.6 88.5h0M610.8 88.1h0M610.9 88.3h0M611.1 88.7h0M611.3 88.7h0M611.4 89.1h0M611.6 88.8h0M611.8 89h0M611.9 89.2h0M612.1 89.6h0M612.3 89.4h0M612.5 89.5h0M612.6 89.6h0M612.8 90.2h0M613 90h0M613.1 90.2h0M613.3 90.1h0M613.5 90.2h0M613.6 90.4h0M613.8 90.5h0" stroke="#d1d72d" stroke-width="1.85" stroke-linecap="round"/>
<path d="M614 90.8h0M614.1 90.4h0M614.3 91.1h0M614.5 91.2h0M614.7 91.5h0M614.8 91.4h0M615 91.5h0M615.2 91.5h0M615.3 91.8h0M615.5 92.2h0M615.7 92.1h0M615.8 92.2h0M616 92.2h0M616.2 92.5h0M616.3 92.7h0M616.5 92.7h0M616.7 92.9h0M616.9 93.2h0M617 93.3h0M617.2 93.3h0M617.4 93.2h0M617.5 93.5h0" stroke="#e4d722" stroke-width="1.85" stroke-linecap="round"/>
<path d="M617.7 93.7h0M617.9 93.7h0M618 94h0M618.2 94.4h0M618.4 94.3h0M618.5 94.1h0M618.7 94.5h0M618.9 94.8h0M619.1 95.2h0M619.2 94.9h0M619.4 95.1h0M619.6 94.7h0M619.7 95.5h0M619.9 95.3h0M620.1 95.3h0M620.2 95.6h0M620.4 96h0M620.6 95.9h0M620.7 96.2h0M620.9 96.3h0M621.1 96.2h0M621.3 96.8h0" stroke="#f5d519" stroke-width="1.85" stroke-linecap="round"/>
<path d="M621.4 96.4h0M621.6 96.4h0M621.8 96.7h0M621.9 97.1h0M622.1 96.8h0M622.3 96.9h0M622.4 97.6h0M622.6 97.5h0M622.8 97.7h0M622.9 97.7h0M623.1 97.9h0M623.3 98.2h0M623.5 98.3h0M623.6 98.3h0M623.8 98.1h0M624 98.4h0M624.1 98.5h0M624.3 98.7h0M624.5 99h0M624.6 99.3h0M624.8 99.5h0M625 99.4h0M625.1 99.5h0" stroke="#f3c01b" stroke-width="1.85" stroke-linecap="round"/>
<path d="M625.3 99.8h0M625.5 100.2h0M625.7 100.4h0M625.8 100.5h0M626 99.9h0M626.2 100h0M626.3 100.3h0M626.5 100.5h0M626.7 100.6h0M626.8 101.2h0M627 100.5h0M627.2 101.2h0M627.3 101.3h0M627.5 101.5h0M627.7 101.8h0M627.9 101.6h0M628 101.6h0M628.2 101.9h0M628.4 102.4h0M628.5 102.7h0M628.7 102h0M628.9 102.3h0" stroke="#f2ab1c" stroke-width="1.85" stroke-linecap="round"/>
<path d="M629 102.9h0M629.2 102.8h0M629.4 102.5h0M629.5 103.1h0M629.7 103.2h0M629.9 103.3h0M630 103.3h0M630.2 103.6h0M630.4 103.5h0M630.6 103.9h0M630.7 104.1h0M630.9 104.4h0M631.1 104.2h0M631.2 103.9h0M631.4 104.4h0M631.6 104.4h0M631.7 104.7h0M631.9 104.8h0M632.1 105.4h0M632.2 105.2h0M632.4 105.7h0M632.6 105.6h0" stroke="#f1961d" stroke-width="1.85" stroke-linecap="round"/>
<path d="M632.8 105.7h0M632.9 105.8h0M633.1 106h0M633.3 106h0M633.4 106.1h0M633.6 106.1h0M633.8 106.5h0M633.9 106.5h0M634.1 106.8h0M634.3 106.7h0M634.4 106.9h0M634.6 106.7h0M634.8 106.9h0M635 107.2h0M635.1 107h0M635.3 107.9h0M635.5 107.8h0M635.6 107.9h0M635.8 107.7h0M636 108.3h0M636.1 108.5h0M636.3 108.7h0M636.5 108.4h0" stroke="#ee801e" stroke-width="1.85" stroke-linecap="round"/>
<path d="M636.6 108.6h0M636.8 108.7h0M637 108.7h0M637.2 109.1h0M637.3 109.1h0M637.5 109.2h0M637.7 109.5h0M637.8 109.7h0M638 109.7h0M638.2 109.7h0M638.3 109.9h0M638.5 110.1h0M638.7 110.1h0M638.8 110.1h0M639 110.3h0M639.2 110.4h0M639.4 111h0M639.5 110.9h0M639.7 111h0M639.9 111h0M640 111.6h0M640.2 111.4h0" stroke="#e9671e" stroke-width="1.85" stroke-linecap="round"/>
<path d="M640.4 111.5h0M640.5 111.5h0M640.7 111.8h0M640.9 112.3h0M641 112h0M641.2 112.5h0M641.4 112.1h0M641.6 112.7h0M641.7 113h0M641.9 112.9h0M642.1 113h0M642.2 113h0M642.4 113.3h0M642.6 113.2h0M642.7 113.2h0M642.9 114.2h0M643.1 113.8h0M643.2 114.2h0M643.4 113.9h0M643.6 114.1h0M643.8 114.4h0M643.9 114.5h0" stroke="#e44d1e" stroke-width="1.85" stroke-linecap="round"/>
<path d="M644.1 114.6h0M644.3 114.9h0M644.4 115h0M644.6 114.7h0M644.8 115h0M644.9 115.2h0M645.1 115.3h0M645.3 115.7h0M645.4 115.6h0M645.6 115.8h0M645.8 115.6h0M646 116.2h0M646.1 116.4h0M646.3 116.2h0M646.5 116.3h0M646.6 116.5h0M646.8 116.6h0M647 116.9h0M647.1 116.8h0M647.3 117.2h0M647.5 117.5h0M647.6 117.2h0M647.8 117.2h0" stroke="#df341e" stroke-width="1.85" stroke-linecap="round"/>
<path d="M648 117.5h0M648.2 117.6h0M648.3 117.9h0M648.5 117.8h0M648.7 117.9h0M648.8 118.3h0M649 118.3h0M649.2 118.6h0M649.3 118.4h0M649.5 118.6h0M649.7 119.3h0M649.8 119.1h0M650 119.4h0M650.2 119.5h0M650.4 119.4h0M650.5 119.4h0M650.7 119.7h0M650.9 119.8h0M651 120.5h0M651.2 120.1h0M651.4 120.5h0M651.5 120.2h0" stroke="#d6261d" stroke-width="1.85" stroke-linecap="round"/>
<path d="M651.7 120.9h0M651.9 120.9h0M652 121h0M652.2 120.9h0M652.4 121.2h0M652.6 121.1h0M652.7 121.4h0M652.9 121.7h0M653.1 121.1h0M653.2 121.5h0M653.4 122.3h0M653.6 122.2h0M653.7 122.2h0M653.9 122.1h0M654.1 122.4h0M654.2 122.3h0M654.4 122.3h0M654.6 123h0M654.8 122.9h0M654.9 123h0M655.1 123.4h0M655.3 123.5h0" stroke="#c9211c" stroke-width="1.85" stroke-linecap="round"/>
<path d="M655.4 123.6h0M655.6 123.6h0M655.8 124h0M655.9 123.9h0M656.1 123.8h0M656.3 124.1h0M656.4 124.3h0M656.6 124.3h0M656.8 124.7h0M657 124.9h0M657.1 125.3h0M657.3 124.9h0M657.5 125.3h0M657.6 124.9h0M657.8 125.1h0M658 125.7h0M658.1 125.8h0M658.3 126h0M658.5 126.2h0M658.6 125.8h0M658.8 126.2h0M659 126.5h0M659.2 126.5h0" stroke="#bd1c1a" stroke-width="1.85" stroke-linecap="round"/>
<path d="M659.3 126.6h0M659.5 126.7h0M659.7 127h0M659.8 127h0M660 127.3h0M660.2 127.3h0M660.3 127.4h0M660.5 127.5h0M660.7 128.2h0M660.8 128.1h0M661 128.2h0M661.2 128.3h0M661.3 128.3h0M661.5 128.7h0M661.7 128.4h0M661.9 128.2h0M662 128.7h0M662.2 128.8h0M662.4 129.2h0M662.5 129.5h0M662.7 129.2h0M662.9 129.6h0" stroke="#ae1818" stroke-width="1.85" stroke-linecap="round"/>
<path d="M663 129.6h0M663.2 129.7h0M663.4 129.9h0M663.5 130.2h0M663.7 130.2h0M663.9 130.2h0M664.1 130.6h0M664.2 130.7h0M664.4 130.5h0M664.6 130.9h0M664.7 131.2h0M664.9 131.2h0M665.1 131.5h0M665.2 131.2h0M665.4 131.8h0M665.6 131.5h0M665.7 131.6h0M665.9 131.5h0M666.1 132.2h0M666.3 132.3h0M666.4 132.6h0M666.6 132.3h0" stroke="#981717" stroke-width="1.85" stroke-linecap="round"/>
<path d="M666.8 132.3h0M666.9 132.2h0M667.1 132.7h0M667.3 133h0M667.4 133.1h0M667.6 133.4h0M667.8 133.6h0M667.9 133.8h0M668.1 133.2h0M668.3 133.8h0M668.5 133.6h0M668.6 133.9h0M668.8 133.9h0M669 134.2h0M669.1 134.5h0M669.3 134.6h0M669.5 134.5h0M669.6 134.5h0M669.8 134.8h0M670 135.4h0M670.1 135h0M670.3 135.5h0M670.5 135.5h0" stroke="#831515" stroke-width="1.85" stroke-linecap="round"/>
<path d="M685.5 17V135.1H836.2" stroke="#a0a0a0" stroke-width="1.2" fill="none"/>
<text transform="translate(683.7 20.4) scale(.5)" class="e">1.2</text>
<text transform="translate(683.7 35.9) scale(.5)" class="e">1</text>
<text transform="translate(683.7 51.4) scale(.5)" class="e">0.8</text>
<text transform="translate(683.7 66.9) scale(.5)" class="e">0.6</text>
<text transform="translate(683.7 82.4) scale(.5)" class="e">0.4</text>
<text transform="translate(683.7 97.9) scale(.5)" class="e">0.2</text>
<text transform="translate(683.7 113.4) scale(.5)" class="e">0</text>
<text transform="translate(683.7 128.9) scale(.5)" class="e">-0.2</text>
<text transform="translate(701.1 141.2) scale(.5)" class="m">100</text>
<text transform="translate(716 141.2) scale(.5)" class="m">200</text>
<text transform="translate(731 141.2) scale(.5)" class="m">300</text>
<text transform="translate(746 141.2) scale(.5)" class="m">400</text>
<text transform="translate(761 141.2) scale(.5)" class="m">500</text>
<text transform="translate(776 141.2) scale(.5)" class="m">600</text>
<text transform="translate(790.9 141.2) scale(.5)" class="m">700</text>
<text transform="translate(805.9 141.2) scale(.5)" class="m">800</text>
<text transform="translate(820.9 141.2) scale(.5)" class="m">900</text>
<text transform="translate(835.9 141.2) scale(.5)" class="m">1000</text>
<path d="M685.5 18.8h1.5M685.5 34.3h1.5M685.5 49.8h1.5M685.5 65.3h1.5M685.5 80.8h1.5M685.5 96.3h1.5M685.5 111.8h1.5M685.5 127.3h1.5M701.1 135.1v-1.5M716 135.1v-1.5M731 135.1v-1.5M746 135.1v-1.5M761 135.1v-1.5M776 135.1v-1.5M790.9 135.1v-1.5M805.9 135.1v-1.5M820.9 135.1v-1.5M835.9 135.1v-1.5" stroke="#a0a0a0" stroke-width="0.7"/>
<path d="M686.1 115.2h0M686.2 114.5h0M686.3 115.5h0M686.4 114.8h0M686.5 114.3h0M686.6 114.1h0M686.7 114.2h0M686.8 115.1h0M686.9 114.5h0M687 114.2h0M687.1 114.4h0M687.2 114.6h0M687.4 114.8h0M687.5 114.2h0M687.6 114.8h0M687.7 114.8h0M687.8 114.6h0M687.9 114.3h0M688 113.8h0M688.1 114.3h0M688.2 113.9h0M688.3 114.4h0M688.4 114.2h0M688.5 114.2h0M688.6 114.3h0M688.7 113.7h0M688.9 114.4h0M689 114.4h0M689.1 113.6h0M689.2 113.8h0M689.3 113.7h0M689.4 114.1h0M689.5 113.6h0M689.6 114.3h0M689.7 113.8h0" stroke="#112173" stroke-width="1.9" stroke-linecap="round"/>
<path d="M689.8 113.7h0M689.9 114.4h0M690 113.9h0M690.1 114.1h0M690.2 113.9h0M690.4 113.7h0M690.5 113.8h0M690.6 114.2h0M690.7 113.4h0M690.8 114h0M690.9 113.5h0M691 113.7h0M691.1 114h0M691.2 113.2h0M691.3 113.5h0M691.4 113.3h0M691.5 113.3h0M691.6 113.3h0M691.7 113.6h0M691.9 113.2h0M692 113.1h0M692.1 113.6h0M692.2 113.7h0M692.3 113.5h0M692.4 113h0M692.5 113.3h0M692.6 112.8h0M692.7 113.4h0M692.8 113.2h0M692.9 112.8h0M693 112.7h0M693.1 113h0M693.2 113.5h0M693.4 113.2h0M693.5 113.2h0" stroke="#13277e" stroke-width="1.9" stroke-linecap="round"/>
<path d="M693.6 113.5h0M693.7 112.8h0M693.8 113h0M693.9 113.4h0M694 113.5h0M694.1 113h0M694.2 113.6h0M694.3 112.8h0M694.4 113.2h0M694.5 113.5h0M694.6 112.9h0M694.7 113.3h0M694.9 113.1h0M695 113h0M695.1 113.3h0M695.2 112.9h0M695.3 112.6h0M695.4 112.7h0M695.5 113h0M695.6 112.8h0M695.7 113.3h0M695.8 113.1h0M695.9 112.7h0M696 113.3h0M696.1 112.9h0M696.2 112.7h0M696.3 112.9h0M696.5 112.4h0M696.6 113.1h0M696.7 113.1h0M696.8 113.4h0M696.9 112.9h0M697 112.9h0M697.1 113.2h0M697.2 112.8h0" stroke="#152e88" stroke-width="1.9" stroke-linecap="round"/>
<path d="M697.3 112.5h0M697.4 113.1h0M697.5 112.5h0M697.6 112.7h0M697.7 113h0M697.8 113.6h0M698 113.5h0M698.1 113h0M698.2 112.7h0M698.3 113.1h0M698.4 113.4h0M698.5 112.3h0M698.6 112.9h0M698.7 112.8h0M698.8 113.1h0M698.9 113.2h0M699 113.1h0M699.1 113.2h0M699.2 112.9h0M699.3 113.2h0M699.5 113h0M699.6 113h0M699.7 113.8h0M699.8 113.3h0M699.9 113h0M700 113h0M700.1 113.1h0M700.2 113.4h0M700.3 113.3h0M700.4 113.2h0M700.5 113.2h0M700.6 113.5h0M700.7 113.4h0M700.8 113.9h0M701 113.7h0" stroke="#173492" stroke-width="1.9" stroke-linecap="round"/>
<path d="M701.1 112.9h0M701.2 113.1h0M701.3 113.1h0M701.4 113.2h0M701.5 113.6h0M701.6 112.9h0M701.7 112.8h0M701.8 113.9h0M701.9 113.8h0M702 113.7h0M702.1 113.3h0M702.2 113.5h0M702.3 113.6h0M702.5 113.5h0M702.6 113.5h0M702.7 113.5h0M702.8 113.7h0M702.9 113.3h0M703 114.7h0M703.1 113.6h0M703.2 113.5h0M703.3 113.8h0M703.4 114.2h0M703.5 113.7h0M703.6 114.1h0M703.7 114.6h0M703.8 114.1h0M704 114.2h0M704.1 114h0M704.2 113.9h0M704.3 114h0M704.4 114.3h0M704.5 113.8h0M704.6 113.8h0M704.7 114h0" stroke="#183a9d" stroke-width="1.9" stroke-linecap="round"/>
<path d="M704.8 114.6h0M704.9 114.5h0M705 114.3h0M705.1 114.5h0M705.2 114.9h0M705.3 114.1h0M705.5 114.4h0M705.6 114.9h0M705.7 115h0M705.8 114.4h0M705.9 114.2h0M706 114.6h0M706.1 114.8h0M706.2 114.9h0M706.3 115.1h0M706.4 114.5h0M706.5 114.8h0M706.6 115.1h0M706.7 115.8h0M706.8 115.8h0M706.9 115.4h0M707.1 115.3h0M707.2 115h0M707.3 115.3h0M707.4 115.5h0M707.5 115.5h0M707.6 115.9h0M707.7 115.6h0M707.8 115.9h0M707.9 115.9h0M708 115.9h0M708.1 116.5h0M708.2 116h0M708.3 116.1h0M708.4 116.5h0" stroke="#1b43a7" stroke-width="1.9" stroke-linecap="round"/>
<path d="M708.6 116.5h0M708.7 116.6h0M708.8 115.6h0M708.9 116.5h0M709 116.3h0M709.1 117.4h0M709.2 117h0M709.3 117.2h0M709.4 117h0M709.5 116.7h0M709.6 116.8h0M709.7 117h0M709.8 116.9h0M709.9 117.2h0M710.1 117.2h0M710.2 116.8h0M710.3 117.1h0M710.4 117.1h0M710.5 116.9h0M710.6 117.9h0M710.7 116.9h0M710.8 118.1h0M710.9 117.3h0M711 117.8h0M711.1 117.2h0M711.2 117.5h0M711.3 118.2h0M711.4 117.8h0M711.6 117.9h0M711.7 118.3h0M711.8 118.1h0M711.9 118.4h0M712 118.3h0M712.1 118.3h0M712.2 118.3h0" stroke="#1d4db1" stroke-width="1.9" stroke-linecap="round"/>
<path d="M712.3 118.7h0M712.4 117.8h0M712.5 118.8h0M712.6 118.4h0M712.7 118.7h0M712.8 118.1h0M712.9 118.7h0M713.1 118.7h0M713.2 118.1h0M713.3 118.7h0M713.4 118.9h0M713.5 118.6h0M713.6 119.1h0M713.7 118.7h0M713.8 119h0M713.9 118.8h0M714 119.3h0M714.1 118.7h0M714.2 118.7h0M714.3 119.3h0M714.4 119.1h0M714.6 118.9h0M714.7 119.6h0M714.8 119.1h0M714.9 119.1h0M715 119.6h0M715.1 119.5h0M715.2 118.9h0M715.3 119.2h0M715.4 119.5h0M715.5 119.7h0M715.6 119.2h0M715.7 119.7h0M715.8 118.8h0M715.9 119.4h0" stroke="#2057bb" stroke-width="1.9" stroke-linecap="round"/>
<path d="M716.1 119.8h0M716.2 119.9h0M716.3 119.6h0M716.4 120h0M716.5 119.9h0M716.6 119.8h0M716.7 119.7h0M716.8 119.3h0M716.9 120.1h0M717 119.4h0M717.1 119.9h0M717.2 119.8h0M717.3 120.2h0M717.4 119.7h0M717.6 119.7h0M717.7 120.1h0M717.8 119.7h0M717.9 120.1h0M718 120.2h0M718.1 120.4h0M718.2 120.3h0M718.3 120.2h0M718.4 119.7h0M718.5 120.1h0M718.6 120.3h0M718.7 120.3h0M718.8 120.2h0M718.9 120.3h0M719 120.4h0M719.2 119.8h0M719.3 120h0M719.4 120.3h0M719.5 120.2h0M719.6 120.5h0M719.7 120.2h0" stroke="#2261c5" stroke-width="1.9" stroke-linecap="round"/>
<path d="M719.8 120.3h0M719.9 120.5h0M720 120.8h0M720.1 120.7h0M720.2 120.4h0M720.3 120.5h0M720.4 120.2h0M720.5 119.8h0M720.7 120.8h0M720.8 120.2h0M720.9 120h0M721 120.5h0M721.1 120h0M721.2 120.4h0M721.3 120h0M721.4 119.4h0M721.5 119.7h0M721.6 120.3h0M721.7 120.2h0M721.8 120.2h0M721.9 120.1h0M722 119.9h0M722.2 119.4h0M722.3 119.7h0M722.4 119.7h0M722.5 119.9h0M722.6 119.1h0M722.7 119.7h0M722.8 119.6h0M722.9 119.1h0M723 119.4h0M723.1 119.4h0M723.2 118.8h0M723.3 119h0M723.4 119.2h0" stroke="#256fcc" stroke-width="1.9" stroke-linecap="round"/>
<path d="M723.5 119.3h0M723.7 118.9h0M723.8 119h0M723.9 118.7h0M724 119h0M724.1 118.3h0M724.2 118.3h0M724.3 117.6h0M724.4 117.9h0M724.5 117.9h0M724.6 118.6h0M724.7 117.8h0M724.8 117.4h0M724.9 117.2h0M725 117.4h0M725.2 117.5h0M725.3 117.1h0M725.4 117.1h0M725.5 116.9h0M725.6 116.2h0M725.7 117h0M725.8 117h0M725.9 116.9h0M726 116.5h0M726.1 116.5h0M726.2 116h0M726.3 116h0M726.4 116.3h0M726.5 116.1h0M726.7 115.6h0M726.8 115.3h0M726.9 115.2h0M727 115.8h0M727.1 115.5h0M727.2 115.5h0" stroke="#2780d3" stroke-width="1.9" stroke-linecap="round"/>
<path d="M727.3 115.6h0M727.4 115.1h0M727.5 114.9h0M727.6 115.7h0M727.7 114.9h0M727.8 114.9h0M727.9 114.2h0M728 114.1h0M728.2 114.6h0M728.3 114.1h0M728.4 114.4h0M728.5 114h0M728.6 114.6h0M728.7 113.9h0M728.8 113.8h0M728.9 114.4h0M729 113.7h0M729.1 113.4h0M729.2 113.7h0M729.3 113.3h0M729.4 113.9h0M729.5 113.8h0M729.7 113.8h0M729.8 113.1h0M729.9 114h0M730 113h0M730.1 113.2h0M730.2 112.8h0M730.3 112.9h0M730.4 112.9h0M730.5 112.6h0M730.6 112.5h0M730.7 112.3h0M730.8 112.3h0M730.9 112.3h0" stroke="#2a90d9" stroke-width="1.9" stroke-linecap="round"/>
<path d="M731 112.7h0M731.1 112.5h0M731.3 112.9h0M731.4 112.4h0M731.5 112.3h0M731.6 111.7h0M731.7 111.5h0M731.8 112.4h0M731.9 112.5h0M732 112.1h0M732.1 111.7h0M732.2 111.2h0M732.3 112.1h0M732.4 112h0M732.5 111.9h0M732.6 111.1h0M732.8 111.6h0M732.9 111.5h0M733 111.7h0M733.1 111.1h0M733.2 111.3h0M733.3 111.1h0M733.4 111.3h0M733.5 111.2h0M733.6 110.6h0M733.7 111.1h0M733.8 110.6h0M733.9 110.9h0M734 111.1h0M734.1 110.6h0M734.3 110.9h0M734.4 110.5h0M734.5 110.2h0M734.6 110.6h0M734.7 110.6h0" stroke="#2ca0df" stroke-width="1.9" stroke-linecap="round"/>
<path d="M734.8 110h0M734.9 110.4h0M735 110.5h0M735.1 110.2h0M735.2 110h0M735.3 110h0M735.4 110h0M735.5 109.9h0M735.6 110h0M735.8 110.3h0M735.9 109.9h0M736 110.4h0M736.1 109.7h0M736.2 110.1h0M736.3 110.1h0M736.4 109.2h0M736.5 109.6h0M736.6 109.5h0M736.7 109.7h0M736.8 109.5h0M736.9 109.7h0M737 109.6h0M737.1 109.4h0M737.3 109.3h0M737.4 110.1h0M737.5 108.8h0M737.6 109.4h0M737.7 108.9h0M737.8 108.8h0M737.9 109h0M738 109.2h0M738.1 108.9h0M738.2 109.1h0M738.3 109.3h0M738.4 109.8h0" stroke="#35aadc" stroke-width="1.9" stroke-linecap="round"/>
<path d="M738.5 108.7h0M738.6 108.9h0M738.8 108.4h0M738.9 108.9h0M739 108.7h0M739.1 108.8h0M739.2 108.9h0M739.3 108.6h0M739.4 108.6h0M739.5 108.6h0M739.6 109h0M739.7 108.8h0M739.8 108.1h0M739.9 108.7h0M740 108.9h0M740.1 109.2h0M740.3 108.3h0M740.4 108.4h0M740.5 108.8h0M740.6 108.6h0M740.7 108.5h0M740.8 108.9h0M740.9 108.9h0M741 109.1h0M741.1 109.1h0M741.2 109.4h0M741.3 109.1h0M741.4 109.5h0M741.5 109.6h0M741.6 109.8h0M741.7 109.6h0M741.9 109.7h0M742 109.9h0M742.1 109.8h0M742.2 109.9h0" stroke="#40b2d4" stroke-width="1.9" stroke-linecap="round"/>
<path d="M742.3 109.7h0M742.4 110.1h0M742.5 110.1h0M742.6 109.9h0M742.7 110.8h0M742.8 110.8h0M742.9 111h0M743 110.9h0M743.1 111.1h0M743.2 111h0M743.4 111.1h0M743.5 111.9h0M743.6 110.9h0M743.7 111.3h0M743.8 111.7h0M743.9 111.5h0M744 111.7h0M744.1 111.8h0M744.2 112h0M744.3 112.1h0M744.4 112.4h0M744.5 112.5h0M744.6 112.4h0M744.7 112h0M744.9 112.5h0M745 113.1h0M745.1 112.9h0M745.2 112.9h0M745.3 112.9h0M745.4 113.8h0M745.5 113.5h0M745.6 112.9h0M745.7 113.4h0M745.8 113.1h0M745.9 113.6h0" stroke="#4bb9cd" stroke-width="1.9" stroke-linecap="round"/>
<path d="M746 113.8h0M746.1 114.1h0M746.2 114.2h0M746.4 114.2h0M746.5 113.8h0M746.6 114h0M746.7 114h0M746.8 114.5h0M746.9 114.8h0M747 114.6h0M747.1 114.7h0M747.2 114.8h0M747.3 114.9h0M747.4 115h0M747.5 114.4h0M747.6 115.3h0M747.7 115.1h0M747.9 115.3h0M748 115.6h0M748.1 115.6h0M748.2 116.2h0M748.3 116.4h0M748.4 116h0M748.5 116.1h0M748.6 116.7h0M748.7 116.3h0M748.8 116.7h0M748.9 116.5h0M749 117.1h0M749.1 117.2h0M749.2 116.9h0M749.4 116.8h0M749.5 117.4h0M749.6 116.9h0M749.7 117.5h0" stroke="#57c1c5" stroke-width="1.9" stroke-linecap="round"/>
<path d="M749.8 117.7h0M749.9 117.5h0M750 118.2h0M750.1 118.1h0M750.2 118.1h0M750.3 118.1h0M750.4 118.1h0M750.5 119.1h0M750.6 118.3h0M750.7 118.9h0M750.9 119.1h0M751 119.3h0M751.1 119.1h0M751.2 119.2h0M751.3 119.7h0M751.4 119.6h0M751.5 119.5h0M751.6 119.8h0M751.7 120h0M751.8 119.4h0M751.9 120.4h0M752 120.1h0M752.1 120.1h0M752.2 120.6h0M752.4 120.5h0M752.5 120.6h0M752.6 121h0M752.7 120.8h0M752.8 120.9h0M752.9 120.9h0M753 121.1h0M753.1 121.6h0M753.2 121.6h0M753.3 121h0M753.4 122.2h0" stroke="#61c4b4" stroke-width="1.9" stroke-linecap="round"/>
<path d="M753.5 122h0M753.6 122h0M753.7 122.1h0M753.8 122.3h0M754 122.5h0M754.1 122.9h0M754.2 122.8h0M754.3 122.7h0M754.4 123.1h0M754.5 123h0M754.6 123.3h0M754.7 124h0M754.8 123.9h0M754.9 123.9h0M755 123.8h0M755.1 124.1h0M755.2 124.5h0M755.3 124h0M755.5 124.8h0M755.6 124.7h0M755.7 125.2h0M755.8 125.3h0M755.9 125.2h0M756 125.5h0M756.1 125.1h0M756.2 126.1h0M756.3 126.2h0M756.4 126.1h0M756.5 126.1h0M756.6 126h0M756.7 126.9h0M756.8 126.3h0M757 127.3h0M757.1 127h0M757.2 127.2h0" stroke="#6bc59f" stroke-width="1.9" stroke-linecap="round"/>
<path d="M757.3 126.9h0M757.4 128h0M757.5 127.4h0M757.6 127.9h0M757.7 127.9h0M757.8 128h0M757.9 128.4h0M758 128.4h0M758.1 128.7h0M758.2 128.6h0M758.3 128.3h0M758.5 129.1h0M758.6 128.7h0M758.7 128.7h0M758.8 129.3h0M758.9 128.8h0M759 129.4h0M759.1 129.1h0M759.2 129.7h0M759.3 129.8h0M759.4 129.5h0M759.5 129.8h0M759.6 130.1h0M759.7 129.9h0M759.8 130.1h0M760 130.1h0M760.1 130.4h0M760.2 130.6h0M760.3 130.5h0M760.4 130.1h0M760.5 129.8h0M760.6 130.2h0M760.7 130.8h0M760.8 130.5h0M760.9 130.5h0" stroke="#75c68a" stroke-width="1.9" stroke-linecap="round"/>
<path d="M761 130h0M761.1 130.6h0M761.2 130.9h0M761.3 130.1h0M761.5 130.7h0M761.6 130.9h0M761.7 130.3h0M761.8 130.6h0M761.9 129.9h0M762 130.5h0M762.1 130.1h0M762.2 129.6h0M762.3 130.4h0M762.4 130h0M762.5 130h0M762.6 130.3h0M762.7 129.8h0M762.8 130.3h0M763 129.6h0M763.1 130.1h0M763.2 130.1h0M763.3 130.1h0M763.4 130.4h0M763.5 130.2h0M763.6 130h0M763.7 129.6h0M763.8 130h0M763.9 129.6h0M764 130h0M764.1 129.7h0M764.2 129.9h0M764.3 129.4h0M764.4 129.2h0M764.6 129.9h0M764.7 129.8h0" stroke="#7fc874" stroke-width="1.9" stroke-linecap="round"/>
<path d="M764.8 129.5h0M764.9 129.1h0M765 128.9h0M765.1 128.8h0M765.2 129.1h0M765.3 129.2h0M765.4 129h0M765.5 129.4h0M765.6 129h0M765.7 129.6h0M765.8 128.8h0M765.9 128.7h0M766.1 128.7h0M766.2 128.3h0M766.3 128.7h0M766.4 128.1h0M766.5 128.6h0M766.6 128.6h0M766.7 127.9h0M766.8 128.5h0M766.9 127.4h0M767 128.5h0M767.1 128.4h0M767.2 128h0M767.3 127.5h0M767.4 128h0M767.6 127.5h0M767.7 128.3h0M767.8 127.6h0M767.9 127.5h0M768 127.7h0M768.1 127h0M768.2 127.6h0M768.3 127.6h0M768.4 127.1h0" stroke="#91cb61" stroke-width="1.9" stroke-linecap="round"/>
<path d="M768.5 127h0M768.6 126.9h0M768.7 127.2h0M768.8 126.7h0M768.9 126.8h0M769.1 127.4h0M769.2 126.6h0M769.3 126.9h0M769.4 126.9h0M769.5 126.9h0M769.6 126.7h0M769.7 126.3h0M769.8 125.9h0M769.9 126.2h0M770 125.9h0M770.1 125.9h0M770.2 125.6h0M770.3 126.2h0M770.4 126h0M770.6 126h0M770.7 125.6h0M770.8 125.9h0M770.9 125.5h0M771 125.5h0M771.1 125.8h0M771.2 125.3h0M771.3 125.3h0M771.4 124.9h0M771.5 125h0M771.6 125.1h0M771.7 124.7h0M771.8 124.2h0M771.9 124.8h0M772.1 124.1h0M772.2 124h0" stroke="#a7d04e" stroke-width="1.9" stroke-linecap="round"/>
<path d="M772.3 124.2h0M772.4 123.8h0M772.5 123.8h0M772.6 123.9h0M772.7 123.8h0M772.8 123.7h0M772.9 124.2h0M773 123.6h0M773.1 123.5h0M773.2 123.5h0M773.3 122.7h0M773.4 122.6h0M773.6 123.2h0M773.7 122.4h0M773.8 122.4h0M773.9 122.7h0M774 122h0M774.1 122h0M774.2 121.9h0M774.3 121.7h0M774.4 121.7h0M774.5 121.6h0M774.6 122.1h0M774.7 122h0M774.8 121h0M774.9 121.1h0M775.1 121.1h0M775.2 121h0M775.3 120.9h0M775.4 120.7h0M775.5 120.7h0M775.6 120.7h0M775.7 120.6h0M775.8 120.8h0M775.9 120.1h0" stroke="#bdd53b" stroke-width="1.9" stroke-linecap="round"/>
<path d="M776 120.2h0M776.1 120.7h0M776.2 119.8h0M776.3 120.7h0M776.4 120.3h0M776.5 120h0M776.7 120.1h0M776.8 120h0M776.9 119.8h0M777 119.3h0M777.1 119.6h0M777.2 119.9h0M777.3 120.1h0M777.4 119.8h0M777.5 118.6h0M777.6 119.6h0M777.7 119.1h0M777.8 119.1h0M777.9 119h0M778 119h0M778.2 118.5h0M778.3 119h0M778.4 118.9h0M778.5 118.7h0M778.6 119.1h0M778.7 118.7h0M778.8 118h0M778.9 118.4h0M779 118h0M779.1 118.2h0M779.2 118.2h0M779.3 118.5h0M779.4 118h0M779.5 118h0M779.7 117.5h0" stroke="#d1d72d" stroke-width="1.9" stroke-linecap="round"/>
<path d="M779.8 118.1h0M779.9 117.6h0M780 117.7h0M780.1 117.6h0M780.2 117.3h0M780.3 117.6h0M780.4 116.6h0M780.5 117.3h0M780.6 117.4h0M780.7 117.2h0M780.8 116.8h0M780.9 117.1h0M781 116.8h0M781.2 116.8h0M781.3 116.9h0M781.4 116.9h0M781.5 116.6h0M781.6 116.7h0M781.7 116.5h0M781.8 116.4h0M781.9 115.8h0M782 116.2h0M782.1 116.1h0M782.2 116.1h0M782.3 115.7h0M782.4 116.1h0M782.5 115.2h0M782.7 115.5h0M782.8 115.6h0M782.9 115.7h0M783 115.9h0M783.1 115.5h0M783.2 115.1h0M783.3 115.5h0M783.4 115.4h0" stroke="#e4d722" stroke-width="1.9" stroke-linecap="round"/>
<path d="M783.5 115.2h0M783.6 115.5h0M783.7 115.3h0M783.8 115h0M783.9 115.2h0M784 115h0M784.2 115h0M784.3 115.2h0M784.4 115.2h0M784.5 115.1h0M784.6 114.7h0M784.7 114.6h0M784.8 115.2h0M784.9 114.8h0M785 114.8h0M785.1 115.1h0M785.2 114.7h0M785.3 114.7h0M785.4 114.9h0M785.5 114.4h0M785.7 114.8h0M785.8 114.7h0M785.9 114.7h0M786 114.6h0M786.1 114.2h0M786.2 114.9h0M786.3 114.4h0M786.4 114.3h0M786.5 113.9h0M786.6 114.3h0M786.7 114.6h0M786.8 114.4h0M786.9 114.5h0M787 114.7h0M787.2 114.4h0" stroke="#f5d519" stroke-width="1.9" stroke-linecap="round"/>
<path d="M787.3 114.3h0M787.4 115.2h0M787.5 114.7h0M787.6 114.5h0M787.7 114.9h0M787.8 114.6h0M787.9 115.1h0M788 115h0M788.1 115.2h0M788.2 115.6h0M788.3 115.5h0M788.4 115.6h0M788.5 115.8h0M788.6 115.7h0M788.8 115.9h0M788.9 116.1h0M789 116.4h0M789.1 116.6h0M789.2 116.6h0M789.3 117.2h0M789.4 117.5h0M789.5 117.7h0M789.6 117.4h0M789.7 117.8h0M789.8 118.1h0M789.9 117.9h0M790 118.4h0M790.1 118.6h0M790.3 118.9h0M790.4 119.1h0M790.5 119.3h0M790.6 119.7h0M790.7 120.2h0M790.8 120.3h0M790.9 120.5h0" stroke="#f3c01b" stroke-width="1.9" stroke-linecap="round"/>
<path d="M791 120.6h0M791.1 120.5h0M791.2 120.5h0M791.3 121h0M791.4 120.7h0M791.5 122h0M791.6 121.9h0M791.8 121.9h0M791.9 122.9h0M792 122.4h0M792.1 122.4h0M792.2 123h0M792.3 123.7h0M792.4 123.2h0M792.5 123.1h0M792.6 124.6h0M792.7 124h0M792.8 125.1h0M792.9 124.7h0M793 125.3h0M793.1 125.9h0M793.3 125.8h0M793.4 126.4h0M793.5 126h0M793.6 126.9h0M793.7 127h0M793.8 127.4h0M793.9 127.5h0M794 128.3h0M794.1 127.8h0M794.2 128.7h0M794.3 129h0M794.4 129.3h0M794.5 129.6h0M794.6 130h0" stroke="#f2ab1c" stroke-width="1.9" stroke-linecap="round"/>
<path d="M794.8 130.4h0M794.9 130.6h0M795 130.7h0M795.1 130.8h0M795.2 131.2h0M795.3 131.6h0M795.4 131.7h0M795.5 131.7h0M795.6 132.1h0M795.7 131.9h0M795.8 132.6h0M795.9 132.8h0M796 133.1h0M796.1 133.3h0M796.3 133.1h0M796.4 133.4h0M796.5 133.2h0M796.6 133.5h0M796.7 133.5h0M796.8 133h0M796.9 133.3h0M797 133.8h0M797.1 134h0M797.2 133.9h0M797.3 133.4h0M797.4 134.1h0M797.5 133.8h0M797.6 133.4h0M797.8 134.1h0M797.9 134h0M798 133.8h0M798.1 134.5h0M798.2 133.7h0M798.3 134.2h0M798.4 134.3h0" stroke="#f1961d" stroke-width="1.9" stroke-linecap="round"/>
<path d="M798.5 134.7h0M798.6 134.5h0M798.7 135.1h0M798.8 134h0M798.9 133.9h0M799 134.6h0M799.1 134.1h0M799.2 134.3h0M799.4 134.7h0M799.5 134.8h0M799.6 135.1h0M799.7 135h0M799.8 135.1h0M799.9 134.5h0M800 134h0M800.1 134.5h0M800.2 135.3h0M800.3 134.8h0M800.4 135.2h0M800.5 135h0M800.6 134.7h0M800.7 134.9h0M800.9 135.1h0M801 135.4h0M801.1 134.6h0M801.2 134.8h0M801.3 134.3h0M801.4 135.3h0M801.5 134.7h0M801.6 134.7h0M801.7 134.9h0M801.8 135.2h0M801.9 135.1h0M802 135h0M802.1 135.6h0" stroke="#ee801e" stroke-width="1.9" stroke-linecap="round"/>
<path d="M802.2 134.8h0M802.4 135h0M802.5 135.1h0M802.6 135h0M802.7 135h0M802.8 134.9h0M802.9 135h0M803 135.3h0M803.1 135.2h0M803.2 135h0M803.3 135h0M803.4 134.6h0M803.5 135.2h0M803.6 135.1h0M803.7 135h0M803.9 135.4h0M804 134.9h0M804.1 135.1h0M804.2 135h0M804.3 135h0M804.4 134.8h0M804.5 134.6h0M804.6 135.4h0M804.7 134.6h0M804.8 134.4h0M804.9 134.8h0M805 134.6h0M805.1 133.8h0M805.2 134.4h0M805.4 134.1h0M805.5 134.5h0M805.6 133.8h0M805.7 134.5h0M805.8 133.9h0M805.9 133.9h0" stroke="#e9671e" stroke-width="1.9" stroke-linecap="round"/>
<path d="M806 133.7h0M806.1 133.7h0M806.2 133.4h0M806.3 133.8h0M806.4 133.8h0M806.5 133.2h0M806.6 133.2h0M806.7 133.8h0M806.9 132.5h0M807 133h0M807.1 132.9h0M807.2 133.2h0M807.3 132.6h0M807.4 132.4h0M807.5 132.2h0M807.6 132.6h0M807.7 131.3h0M807.8 131.9h0M807.9 131.7h0M808 131.3h0M808.1 131.9h0M808.2 132.3h0M808.4 132.1h0M808.5 131.5h0M808.6 131.3h0M808.7 131.2h0M808.8 131.2h0M808.9 130.7h0M809 130.3h0M809.1 130.8h0M809.2 130.4h0M809.3 130h0M809.4 129.9h0M809.5 130.8h0M809.6 129.9h0" stroke="#e44d1e" stroke-width="1.9" stroke-linecap="round"/>
<path d="M809.7 129.8h0M809.9 128.5h0M810 129.6h0M810.1 129h0M810.2 128.8h0M810.3 128.7h0M810.4 129.2h0M810.5 126.9h0M810.6 127.8h0M810.7 127.2h0M810.8 127.1h0M810.9 127.3h0M811 125.2h0M811.1 127.8h0M811.2 126.4h0M811.3 125.3h0M811.5 126.6h0M811.6 125.5h0M811.7 125.1h0M811.8 125.2h0M811.9 124.9h0M812 124h0M812.1 124.2h0M812.2 122.6h0M812.3 123.2h0M812.4 122.4h0M812.5 122.5h0M812.6 123.2h0M812.7 122.4h0M812.8 122h0M813 121.7h0M813.1 122.4h0M813.2 120.8h0M813.3 120.5h0M813.4 120.4h0" stroke="#df341e" stroke-width="1.9" stroke-linecap="round"/>
<path d="M813.5 120.9h0M813.6 118.8h0M813.7 119.7h0M813.8 119.5h0M813.9 120.2h0M814 118.1h0M814.1 118.6h0M814.2 117.3h0M814.3 117.7h0M814.5 117.6h0M814.6 116.3h0M814.7 117.3h0M814.8 117h0M814.9 116.8h0M815 116.4h0M815.1 115.8h0M815.2 113.9h0M815.3 113.3h0M815.4 113.6h0M815.5 112.8h0M815.6 112h0M815.7 111.5h0M815.8 111.3h0M816 111.5h0M816.1 110.9h0M816.2 109.7h0M816.3 107.7h0M816.4 108.5h0M816.5 110.3h0M816.6 107.3h0M816.7 107.2h0M816.8 107.5h0M816.9 107.9h0M817 106.6h0M817.1 105.2h0" stroke="#d6261d" stroke-width="1.9" stroke-linecap="round"/>
<path d="M817.2 105h0M817.3 104.7h0M817.5 104h0M817.6 103.5h0M817.7 103.2h0M817.8 103.5h0M817.9 101.6h0M818 102.1h0M818.1 101h0M818.2 101.1h0M818.3 99.4h0M818.4 99.5h0M818.5 99.1h0M818.6 97.7h0M818.7 96.8h0M818.8 96.2h0M819 96.4h0M819.1 96h0M819.2 95.4h0M819.3 94.4h0M819.4 94.9h0M819.5 93.8h0M819.6 92.6h0M819.7 94.5h0M819.8 92.3h0M819.9 92.1h0M820 91.2h0M820.1 89.7h0M820.2 89.7h0M820.3 89h0M820.5 88.5h0M820.6 87.4h0M820.7 86.6h0M820.8 87.4h0M820.9 86.7h0" stroke="#c9211c" stroke-width="1.9" stroke-linecap="round"/>
<path d="M821 85.5h0M821.1 85.5h0M821.2 84.1h0M821.3 84.4h0M821.4 82.7h0M821.5 83h0M821.6 81.6h0M821.7 81.8h0M821.8 82.1h0M822 80.9h0M822.1 81.1h0M822.2 79.8h0M822.3 79.9h0M822.4 78h0M822.5 79.2h0M822.6 77.5h0M822.7 78.2h0M822.8 77.4h0M822.9 77.1h0M823 76.4h0M823.1 76h0M823.2 74.8h0M823.3 73.9h0M823.4 73.8h0M823.6 74.7h0M823.7 73.3h0M823.8 72.4h0M823.9 72.5h0M824 71.7h0M824.1 72h0M824.2 71.3h0M824.3 70.2h0M824.4 70.9h0M824.5 69.9h0M824.6 69.5h0" stroke="#bd1c1a" stroke-width="1.9" stroke-linecap="round"/>
<path d="M824.7 69.3h0M824.8 68.4h0M824.9 67.4h0M825.1 67.9h0M825.2 67.7h0M825.3 67.1h0M825.4 65.6h0M825.5 66.6h0M825.6 66.2h0M825.7 65.5h0M825.8 64.3h0M825.9 64.3h0M826 63.4h0M826.1 64h0M826.2 63h0M826.3 63h0M826.4 62.5h0M826.6 61.2h0M826.7 61h0M826.8 59.1h0M826.9 59.1h0M827 59.3h0M827.1 58.9h0M827.2 59.1h0M827.3 58.6h0M827.4 56.3h0M827.5 57.4h0M827.6 55.7h0M827.7 54.9h0M827.8 54.1h0M827.9 54h0M828.1 54.5h0M828.2 53.6h0M828.3 50.9h0M828.4 52.6h0" stroke="#ae1818" stroke-width="1.9" stroke-linecap="round"/>
<path d="M828.5 51.3h0M828.6 50.1h0M828.7 52h0M828.8 50.2h0M828.9 48.5h0M829 49.7h0M829.1 48.4h0M829.2 47h0M829.3 47.7h0M829.4 47.2h0M829.6 46.2h0M829.7 45.9h0M829.8 45.5h0M829.9 44.6h0M830 43.7h0M830.1 43.4h0M830.2 42.7h0M830.3 41.8h0M830.4 41.2h0M830.5 40.4h0M830.6 39.7h0M830.7 38.6h0M830.8 39.1h0M830.9 38.9h0M831.1 35.8h0M831.2 35.7h0M831.3 35.1h0M831.4 35.2h0M831.5 33.9h0M831.6 31.7h0M831.7 31.7h0M831.8 31.6h0M831.9 30.8h0M832 29.8h0M832.1 29.1h0" stroke="#981717" stroke-width="1.9" stroke-linecap="round"/>
<path d="M832.2 28h0M832.3 27.3h0M832.4 27.3h0M832.6 27.3h0M832.7 25.9h0M832.8 25.4h0M832.9 25.4h0M833 24.4h0M833.1 25.1h0M833.2 23.8h0M833.3 23.6h0M833.4 23.5h0M833.5 23.9h0M833.6 23.1h0M833.7 23.4h0M833.8 22.6h0M833.9 22.5h0M834 21h0M834.2 22.7h0M834.3 20.6h0M834.4 20.4h0M834.5 21.2h0M834.6 20.7h0M834.7 18.8h0M834.8 20.4h0M834.9 19.8h0M835 19.7h0M835.1 19.3h0M835.2 19.3h0M835.3 18h0M835.4 19.2h0M835.5 18.4h0M835.7 18h0M835.8 18.4h0M835.9 18.6h0" stroke="#831515" stroke-width="1.9" stroke-linecap="round"/>
<path d="M689.7 116.4h0" stroke="#112173" stroke-width="1.8" stroke-linecap="square"/>
<path d="M703.5 109.1h0" stroke="#183a9d" stroke-width="1.8" stroke-linecap="square"/>
<path d="M707.5 109.1h0" stroke="#1b43a7" stroke-width="1.8" stroke-linecap="square"/>
<path d="M714.8 122.1h0" stroke="#2057bb" stroke-width="1.8" stroke-linecap="square"/>
<path d="M719.7 124.5h0" stroke="#2261c5" stroke-width="1.8" stroke-linecap="square"/>
<path d="M723.7 130.2h0M727 127h0" stroke="#2780d3" stroke-width="1.8" stroke-linecap="square"/>
<path d="M727.8 127.3h0M728.6 118.9h0" stroke="#2a90d9" stroke-width="1.8" stroke-linecap="square"/>
<path d="M733.4 124.5h0M734.2 114.8h0" stroke="#2ca0df" stroke-width="1.8" stroke-linecap="square"/>
<path d="M739.1 121.8h0" stroke="#40b2d4" stroke-width="1.8" stroke-linecap="square"/>
<path d="M751.2 122.9h0M752 127h0" stroke="#61c4b4" stroke-width="1.8" stroke-linecap="square"/>
<path d="M756 131h0" stroke="#6bc59f" stroke-width="1.8" stroke-linecap="square"/>
<path d="M761.8 134.2h0" stroke="#7fc874" stroke-width="1.8" stroke-linecap="square"/>
<path d="M772.3 128.3h0" stroke="#bdd53b" stroke-width="1.8" stroke-linecap="square"/>
<path d="M777.1 115.3h0M779.6 115.3h0" stroke="#d1d72d" stroke-width="1.8" stroke-linecap="square"/>
<path d="M780.4 108.3h0M782 107.5h0" stroke="#e4d722" stroke-width="1.8" stroke-linecap="square"/>
<path d="M785.2 100.2h0M786 109.1h0" stroke="#f5d519" stroke-width="1.8" stroke-linecap="square"/>
<path d="M787.5 85h0M790.9 130.5h0" stroke="#f3c01b" stroke-width="1.8" stroke-linecap="square"/>
<path d="M854.3 18.8V135.3H1005.5" stroke="#a0a0a0" stroke-width="1.2" fill="none"/>
<text transform="translate(852.5 26.9) scale(.5)" class="e">1.5</text>
<text transform="translate(852.5 44) scale(.5)" class="e">1</text>
<text transform="translate(852.5 61.1) scale(.5)" class="e">0.5</text>
<text transform="translate(852.5 78.1) scale(.5)" class="e">0</text>
<text transform="translate(852.5 95.1) scale(.5)" class="e">-0.5</text>
<text transform="translate(852.5 112.2) scale(.5)" class="e">-1</text>
<text transform="translate(852.5 129.2) scale(.5)" class="e">-1.5</text>
<text transform="translate(871.4 141.5) scale(.5)" class="m">100</text>
<text transform="translate(888.2 141.5) scale(.5)" class="m">200</text>
<text transform="translate(905.1 141.5) scale(.5)" class="m">300</text>
<text transform="translate(921.9 141.5) scale(.5)" class="m">400</text>
<text transform="translate(938.8 141.5) scale(.5)" class="m">500</text>
<text transform="translate(955.7 141.5) scale(.5)" class="m">600</text>
<text transform="translate(972.5 141.5) scale(.5)" class="m">700</text>
<text transform="translate(989.4 141.5) scale(.5)" class="m">800</text>
<path d="M854.3 25.3h1.5M854.3 42.4h1.5M854.3 59.5h1.5M854.3 76.5h1.5M854.3 93.5h1.5M854.3 110.6h1.5M854.3 127.7h1.5M871.4 135.3v-1.5M888.2 135.3v-1.5M905.1 135.3v-1.5M921.9 135.3v-1.5M938.8 135.3v-1.5M955.7 135.3v-1.5M972.5 135.3v-1.5M989.4 135.3v-1.5" stroke="#a0a0a0" stroke-width="0.7"/>
<path d="M854.5 135.9h0M854.7 135.3h0M854.8 135.3h0M855 135.2h0M855.2 135h0M855.3 135h0M855.5 134.4h0M855.7 134.7h0M855.9 134.5h0M856 134.2h0M856.2 134.5h0M856.4 134.4h0M856.5 134.2h0M856.7 133.8h0M856.9 134.1h0M857 133.5h0M857.2 133.4h0M857.4 133.4h0M857.5 133.3h0M857.7 132.9h0M857.9 132.7h0M858 132.4h0M858.2 132.4h0" stroke="#112173" stroke-width="1.85" stroke-linecap="round"/>
<path d="M858.4 132.6h0M858.6 132.3h0M858.7 132.5h0M858.9 132.2h0M859.1 132.3h0M859.2 131.7h0M859.4 131.9h0M859.6 131.2h0M859.7 131.5h0M859.9 131.3h0M860.1 131h0M860.2 130.8h0M860.4 130.8h0M860.6 130.7h0M860.7 130.7h0M860.9 130.3h0M861.1 130.6h0M861.3 130h0M861.4 130h0M861.6 130h0M861.8 129.6h0M861.9 129.7h0" stroke="#13277e" stroke-width="1.85" stroke-linecap="round"/>
<path d="M862.1 129.5h0M862.3 129.2h0M862.4 129.2h0M862.6 129.4h0M862.8 128.8h0M862.9 128.7h0M863.1 128.4h0M863.3 128.5h0M863.4 128.6h0M863.6 128.3h0M863.8 128.1h0M864 128.2h0M864.1 127.7h0M864.3 127.9h0M864.5 127.5h0M864.6 127.8h0M864.8 127.2h0M865 127.4h0M865.1 127.3h0M865.3 126.9h0M865.5 126.7h0M865.6 127h0M865.8 126.4h0" stroke="#152e88" stroke-width="1.85" stroke-linecap="round"/>
<path d="M866 126.1h0M866.1 126.3h0M866.3 126.7h0M866.5 125.9h0M866.7 126.1h0M866.8 125.7h0M867 125.8h0M867.2 125.2h0M867.3 125.4h0M867.5 125.6h0M867.7 125.5h0M867.8 124.7h0M868 124.7h0M868.2 124.7h0M868.3 124.9h0M868.5 124.3h0M868.7 124.5h0M868.8 123.9h0M869 124.3h0M869.2 123.9h0M869.4 123.7h0M869.5 123.7h0" stroke="#173492" stroke-width="1.85" stroke-linecap="round"/>
<path d="M869.7 123.3h0M869.9 123.2h0M870 123.1h0M870.2 123.1h0M870.4 123.2h0M870.5 122.9h0M870.7 122.9h0M870.9 123h0M871 122.5h0M871.2 122.9h0M871.4 122.6h0M871.5 122h0M871.7 122.1h0M871.9 121.9h0M872.1 121.6h0M872.2 121.5h0M872.4 121.6h0M872.6 120.9h0M872.7 120.9h0M872.9 120.8h0M873.1 120.8h0M873.2 120.8h0" stroke="#183a9d" stroke-width="1.85" stroke-linecap="round"/>
<path d="M873.4 120.8h0M873.6 120.6h0M873.7 120.4h0M873.9 120.3h0M874.1 120.3h0M874.2 119.9h0M874.4 120h0M874.6 119.5h0M874.8 119.5h0M874.9 119.6h0M875.1 119.6h0M875.3 119.5h0M875.4 118.8h0M875.6 119.4h0M875.8 119h0M875.9 118.7h0M876.1 118.5h0M876.3 118.4h0M876.4 118.5h0M876.6 117.8h0M876.8 118h0M876.9 118h0M877.1 117.6h0" stroke="#1b43a7" stroke-width="1.85" stroke-linecap="round"/>
<path d="M877.3 117.5h0M877.5 117.1h0M877.6 117.3h0M877.8 117.2h0M878 117h0M878.1 116.8h0M878.3 116.8h0M878.5 116.3h0M878.6 116.7h0M878.8 116.3h0M879 116h0M879.1 116.5h0M879.3 115.7h0M879.5 115.8h0M879.6 115.6h0M879.8 115.5h0M880 115.7h0M880.2 115.2h0M880.3 115.6h0M880.5 115.1h0M880.7 115h0M880.8 114.9h0" stroke="#1d4db1" stroke-width="1.85" stroke-linecap="round"/>
<path d="M881 114.6h0M881.2 114.6h0M881.3 114.5h0M881.5 114.4h0M881.7 114.2h0M881.8 114.2h0M882 113.9h0M882.2 113.9h0M882.4 113.7h0M882.5 113.4h0M882.7 113.5h0M882.9 113.3h0M883 113.4h0M883.2 112.9h0M883.4 113h0M883.5 113.1h0M883.7 112.7h0M883.9 112.7h0M884 112.5h0M884.2 112.4h0M884.4 112.2h0M884.5 112h0" stroke="#2057bb" stroke-width="1.85" stroke-linecap="round"/>
<path d="M884.7 111.7h0M884.9 111.5h0M885.1 111.6h0M885.2 111.5h0M885.4 111.6h0M885.6 111.1h0M885.7 110.7h0M885.9 110.8h0M886.1 110.9h0M886.2 110.8h0M886.4 110.3h0M886.6 110.4h0M886.7 110.4h0M886.9 110.1h0M887.1 110.4h0M887.2 109.5h0M887.4 109.6h0M887.6 109.4h0M887.8 109.4h0M887.9 109.3h0M888.1 108.8h0M888.3 109.2h0M888.4 109h0" stroke="#2261c5" stroke-width="1.85" stroke-linecap="round"/>
<path d="M888.6 108.8h0M888.8 108.5h0M888.9 108.4h0M889.1 108.3h0M889.3 107.9h0M889.4 108h0M889.6 107.8h0M889.8 107.8h0M889.9 108.1h0M890.1 107.7h0M890.3 107h0M890.5 107.3h0M890.6 107h0M890.8 107.3h0M891 106.8h0M891.1 106.4h0M891.3 106.6h0M891.5 106.6h0M891.6 106.5h0M891.8 106.4h0M892 106.4h0M892.1 105.9h0" stroke="#256fcc" stroke-width="1.85" stroke-linecap="round"/>
<path d="M892.3 106.1h0M892.5 106h0M892.6 105.9h0M892.8 105.6h0M893 105.4h0M893.2 105h0M893.3 105.1h0M893.5 104.5h0M893.7 104.8h0M893.8 104.6h0M894 104.3h0M894.2 104.4h0M894.3 104h0M894.5 104.2h0M894.7 103.7h0M894.8 104.1h0M895 103.7h0M895.2 103.3h0M895.3 103.9h0M895.5 103.4h0M895.7 103.2h0M895.9 103h0M896 103.3h0" stroke="#2780d3" stroke-width="1.85" stroke-linecap="round"/>
<path d="M896.2 102.9h0M896.4 102.2h0M896.5 102.8h0M896.7 102.6h0M896.9 102.3h0M897 102.5h0M897.2 102.4h0M897.4 101.7h0M897.5 102.1h0M897.7 101.4h0M897.9 101.5h0M898 101.3h0M898.2 100.9h0M898.4 101.4h0M898.6 101.3h0M898.7 100.6h0M898.9 100.5h0M899.1 100.5h0M899.2 100.7h0M899.4 100.6h0M899.6 100.3h0M899.7 100h0" stroke="#2a90d9" stroke-width="1.85" stroke-linecap="round"/>
<path d="M899.9 99.6h0M900.1 99.6h0M900.2 99.3h0M900.4 99.2h0M900.6 99.6h0M900.7 98.9h0M900.9 99.2h0M901.1 99h0M901.3 98.9h0M901.4 98.9h0M901.6 98.8h0M901.8 98.5h0M901.9 98.2h0M902.1 98.1h0M902.3 98.1h0M902.4 98.2h0M902.6 97.7h0M902.8 97.6h0M902.9 97.3h0M903.1 97.4h0M903.3 97.1h0M903.4 97.4h0" stroke="#2ca0df" stroke-width="1.85" stroke-linecap="round"/>
<path d="M903.6 97.1h0M903.8 96.8h0M904 97.2h0M904.1 96.6h0M904.3 96.5h0M904.5 96.3h0M904.6 95.9h0M904.8 96.4h0M905 96h0M905.1 95.9h0M905.3 95.9h0M905.5 95.7h0M905.6 95.6h0M905.8 94.9h0M906 94.9h0M906.1 95.5h0M906.3 95.1h0M906.5 95h0M906.7 95h0M906.8 94.3h0M907 94.8h0M907.2 94.4h0M907.3 94h0" stroke="#35aadc" stroke-width="1.85" stroke-linecap="round"/>
<path d="M907.5 94.1h0M907.7 94.3h0M907.8 93.7h0M908 93.8h0M908.2 93.5h0M908.3 93.2h0M908.5 93.2h0M908.7 93.1h0M908.8 93.2h0M909 92.8h0M909.2 93h0M909.4 92.2h0M909.5 92.8h0M909.7 92.3h0M909.9 92.2h0M910 92.2h0M910.2 92.1h0M910.4 91.6h0M910.5 91.5h0M910.7 91.6h0M910.9 91.2h0M911 91h0" stroke="#40b2d4" stroke-width="1.85" stroke-linecap="round"/>
<path d="M911.2 91.2h0M911.4 90.9h0M911.6 91.1h0M911.7 91h0M911.9 90.7h0M912.1 90h0M912.2 90.2h0M912.4 90.2h0M912.6 90.1h0M912.7 90.3h0M912.9 89.8h0M913.1 89.4h0M913.2 89.6h0M913.4 89.9h0M913.6 89.5h0M913.7 89h0M913.9 89h0M914.1 88.9h0M914.3 88.5h0M914.4 88.2h0M914.6 88.4h0M914.8 88.4h0" stroke="#4bb9cd" stroke-width="1.85" stroke-linecap="round"/>
<path d="M914.9 88.1h0M915.1 88.2h0M915.3 88.1h0M915.4 88h0M915.6 88h0M915.8 87.7h0M915.9 87h0M916.1 87.6h0M916.3 87h0M916.4 87h0M916.6 86.8h0M916.8 86.7h0M917 87.1h0M917.1 86.5h0M917.3 86h0M917.5 86.1h0M917.6 86h0M917.8 86.4h0M918 86h0M918.1 85.5h0M918.3 85.8h0M918.5 85.4h0M918.6 85.4h0" stroke="#57c1c5" stroke-width="1.85" stroke-linecap="round"/>
<path d="M918.8 85.2h0M919 85.1h0M919.1 85.4h0M919.3 84.9h0M919.5 84.8h0M919.7 84.7h0M919.8 84.6h0M920 84h0M920.2 84.3h0M920.3 83.9h0M920.5 84h0M920.7 83.3h0M920.8 84.1h0M921 83h0M921.2 82.7h0M921.3 83.1h0M921.5 83.2h0M921.7 83.3h0M921.8 82.7h0M922 82.7h0M922.2 82.8h0M922.4 82.5h0" stroke="#61c4b4" stroke-width="1.85" stroke-linecap="round"/>
<path d="M922.5 82.4h0M922.7 82.5h0M922.9 82.3h0M923 81.7h0M923.2 81.8h0M923.4 81.7h0M923.5 81.6h0M923.7 81.5h0M923.9 80.9h0M924 81.2h0M924.2 80.9h0M924.4 81h0M924.5 80.7h0M924.7 81h0M924.9 80.6h0M925.1 80.3h0M925.2 80.2h0M925.4 80.3h0M925.6 79.9h0M925.7 79.6h0M925.9 80.2h0M926.1 79.6h0M926.2 79.5h0" stroke="#6bc59f" stroke-width="1.85" stroke-linecap="round"/>
<path d="M926.4 79.3h0M926.6 79.5h0M926.7 78.9h0M926.9 79.2h0M927.1 78.9h0M927.2 78.6h0M927.4 78.4h0M927.6 78.2h0M927.8 78.5h0M927.9 78h0M928.1 78h0M928.3 77.8h0M928.4 78.2h0M928.6 78.2h0M928.8 77.6h0M928.9 77.4h0M929.1 77.5h0M929.3 77.6h0M929.4 76.8h0M929.6 77h0M929.8 76.4h0M929.9 76.6h0" stroke="#75c68a" stroke-width="1.85" stroke-linecap="round"/>
<path d="M930.1 76.9h0M930.3 76.4h0M930.5 75.8h0M930.6 76.1h0M930.8 75.8h0M931 76h0M931.1 76h0M931.3 75.4h0M931.5 75.3h0M931.6 75.5h0M931.8 74.9h0M932 75.2h0M932.1 74.8h0M932.3 74.8h0M932.5 74.6h0M932.6 74.5h0M932.8 74.3h0M933 74.2h0M933.2 74h0M933.3 73.8h0M933.5 73.9h0M933.7 73.7h0" stroke="#7fc874" stroke-width="1.85" stroke-linecap="round"/>
<path d="M933.8 73.6h0M934 73.4h0M934.2 73.8h0M934.3 73.2h0M934.5 73.2h0M934.7 72.7h0M934.8 72.8h0M935 72.6h0M935.2 72.8h0M935.3 72.6h0M935.5 71.9h0M935.7 72.4h0M935.9 72.1h0M936 72.3h0M936.2 71.6h0M936.4 71.8h0M936.5 71.4h0M936.7 71.5h0M936.9 71.1h0M937 71.4h0M937.2 70.6h0M937.4 70.9h0M937.5 70.5h0" stroke="#91cb61" stroke-width="1.85" stroke-linecap="round"/>
<path d="M937.7 70.7h0M937.9 70.6h0M938.1 70.2h0M938.2 69.9h0M938.4 70.3h0M938.6 70.1h0M938.7 70h0M938.9 69.8h0M939.1 69.5h0M939.2 69.2h0M939.4 69.2h0M939.6 68.9h0M939.7 69.3h0M939.9 69.5h0M940.1 68.8h0M940.2 68.4h0M940.4 68.5h0M940.6 68.2h0M940.8 68.4h0M940.9 68h0M941.1 68.1h0M941.3 67.8h0" stroke="#a7d04e" stroke-width="1.85" stroke-linecap="round"/>
<path d="M941.4 67.8h0M941.6 67.3h0M941.8 67.6h0M941.9 67.3h0M942.1 67.1h0M942.3 67.3h0M942.4 67.3h0M942.6 67.2h0M942.8 66.6h0M942.9 66.6h0M943.1 66.5h0M943.3 66.4h0M943.5 66.3h0M943.6 66.1h0M943.8 65.7h0M944 65.7h0M944.1 65.4h0M944.3 65.7h0M944.5 65.6h0M944.6 65.2h0M944.8 65.4h0M945 65.1h0" stroke="#bdd53b" stroke-width="1.85" stroke-linecap="round"/>
<path d="M945.1 64.7h0M945.3 64.7h0M945.5 64.6h0M945.6 64.2h0M945.8 64.5h0M946 64.4h0M946.2 63.9h0M946.3 63.7h0M946.5 63.8h0M946.7 63.6h0M946.8 63.5h0M947 63.5h0M947.2 63.7h0M947.3 63.1h0M947.5 63.1h0M947.7 62.9h0M947.8 62.8h0M948 62.4h0M948.2 62.4h0M948.3 62.4h0M948.5 62.7h0M948.7 62.2h0M948.9 61.7h0" stroke="#d1d72d" stroke-width="1.85" stroke-linecap="round"/>
<path d="M949 61.5h0M949.2 61.6h0M949.4 61.6h0M949.5 61.5h0M949.7 61.7h0M949.9 61.4h0M950 61h0M950.2 61h0M950.4 60.7h0M950.5 60.6h0M950.7 60.3h0M950.9 60.2h0M951 60.2h0M951.2 60h0M951.4 59.8h0M951.6 59.8h0M951.7 59.9h0M951.9 59.6h0M952.1 59.4h0M952.2 59h0M952.4 59.2h0M952.6 59.5h0" stroke="#e4d722" stroke-width="1.85" stroke-linecap="round"/>
<path d="M952.7 59.2h0M952.9 58.5h0M953.1 59.1h0M953.2 58.6h0M953.4 58.5h0M953.6 58.4h0M953.7 57.8h0M953.9 58.2h0M954.1 58.2h0M954.3 57.8h0M954.4 57.7h0M954.6 57.5h0M954.8 57.5h0M954.9 57.4h0M955.1 57.2h0M955.3 57.1h0M955.4 57.1h0M955.6 57h0M955.8 56.6h0M955.9 56.3h0M956.1 56.4h0M956.3 56.4h0M956.4 56.3h0" stroke="#f5d519" stroke-width="1.85" stroke-linecap="round"/>
<path d="M956.6 56.1h0M956.8 55.9h0M957 55.3h0M957.1 55.5h0M957.3 55.5h0M957.5 55.6h0M957.6 55.1h0M957.8 54.7h0M958 54.7h0M958.1 54.9h0M958.3 54.5h0M958.5 54.9h0M958.6 54.4h0M958.8 54.3h0M959 54.2h0M959.1 54.2h0M959.3 54h0M959.5 54.1h0M959.7 53.4h0M959.8 53.8h0M960 53.5h0M960.2 52.8h0" stroke="#f3c01b" stroke-width="1.85" stroke-linecap="round"/>
<path d="M960.3 53.2h0M960.5 52.7h0M960.7 52.6h0M960.8 52.8h0M961 52.6h0M961.2 52.7h0M961.3 52.2h0M961.5 51.8h0M961.7 51.9h0M961.8 52.2h0M962 51.3h0M962.2 51.7h0M962.4 51.3h0M962.5 51.4h0M962.7 51.3h0M962.9 50.8h0M963 50.6h0M963.2 50.7h0M963.4 50.5h0M963.5 50.8h0M963.7 50.5h0M963.9 50.4h0" stroke="#f2ab1c" stroke-width="1.85" stroke-linecap="round"/>
<path d="M964 50.4h0M964.2 49.9h0M964.4 50h0M964.6 49.9h0M964.7 49.7h0M964.9 49.7h0M965.1 49.8h0M965.2 49.3h0M965.4 49.5h0M965.6 48.7h0M965.7 48.8h0M965.9 48.7h0M966.1 48.6h0M966.2 48.6h0M966.4 48.1h0M966.6 48.3h0M966.7 47.9h0M966.9 48h0M967.1 47.7h0M967.3 47.6h0M967.4 47.8h0M967.6 47.7h0M967.8 47.3h0" stroke="#f1961d" stroke-width="1.85" stroke-linecap="round"/>
<path d="M967.9 47.4h0M968.1 47.1h0M968.3 47h0M968.4 46.7h0M968.6 46.7h0M968.8 46.3h0M968.9 46.4h0M969.1 46.6h0M969.3 46.2h0M969.4 46.3h0M969.6 45.8h0M969.8 45.4h0M970 45.7h0M970.1 45.4h0M970.3 45.1h0M970.5 45.3h0M970.6 44.3h0M970.8 44.8h0M971 44.6h0M971.1 44.5h0M971.3 44.4h0M971.5 44.3h0" stroke="#ee801e" stroke-width="1.85" stroke-linecap="round"/>
<path d="M971.6 44.6h0M971.8 44.4h0M972 44.1h0M972.1 44h0M972.3 43.6h0M972.5 43.5h0M972.7 43.5h0M972.8 43.2h0M973 43.3h0M973.2 43.2h0M973.3 43.1h0M973.5 42.9h0M973.7 42.9h0M973.8 42.6h0M974 42.2h0M974.2 42.7h0M974.3 42.3h0M974.5 41.5h0M974.7 41.8h0M974.8 41.8h0M975 41.8h0M975.2 41.6h0" stroke="#e9671e" stroke-width="1.85" stroke-linecap="round"/>
<path d="M975.4 41.1h0M975.5 41h0M975.7 40.9h0M975.9 40.8h0M976 40.9h0M976.2 40.7h0M976.4 40.9h0M976.5 40.6h0M976.7 40.8h0M976.9 40.3h0M977 40.4h0M977.2 40.3h0M977.4 39.7h0M977.5 39.4h0M977.7 39.3h0M977.9 39.7h0M978.1 39.7h0M978.2 39.2h0M978.4 39h0M978.6 39h0M978.7 38.7h0M978.9 39h0M979.1 38.7h0" stroke="#e44d1e" stroke-width="1.85" stroke-linecap="round"/>
<path d="M979.2 38.3h0M979.4 38h0M979.6 38.1h0M979.7 38h0M979.9 37.9h0M980.1 37.9h0M980.2 37.6h0M980.4 37.6h0M980.6 37.4h0M980.8 37.2h0M980.9 37.4h0M981.1 36.8h0M981.3 36.5h0M981.4 36.4h0M981.6 36.2h0M981.8 36.8h0M981.9 36.3h0M982.1 36.2h0M982.3 35.9h0M982.4 35.9h0M982.6 35.7h0M982.8 35.8h0" stroke="#df341e" stroke-width="1.85" stroke-linecap="round"/>
<path d="M982.9 35.3h0M983.1 35.6h0M983.3 35.2h0M983.5 34.6h0M983.6 34.9h0M983.8 34.9h0M984 34.5h0M984.1 34.4h0M984.3 34.5h0M984.5 34.3h0M984.6 34.1h0M984.8 33.7h0M985 34h0M985.1 33.7h0M985.3 33.8h0M985.5 33.9h0M985.6 33.7h0M985.8 33.2h0M986 33.3h0M986.2 33h0M986.3 32.6h0M986.5 32.9h0M986.7 32.6h0" stroke="#d6261d" stroke-width="1.85" stroke-linecap="round"/>
<path d="M986.8 32.5h0M987 32.6h0M987.2 32.2h0M987.3 31.9h0M987.5 32.2h0M987.7 31.9h0M987.8 31.6h0M988 31.4h0M988.2 31.3h0M988.3 30.8h0M988.5 31h0M988.7 30.8h0M988.9 31h0M989 30.6h0M989.2 30.4h0M989.4 30.5h0M989.5 30.4h0M989.7 30h0M989.9 30.2h0M990 30.1h0M990.2 29.8h0M990.4 29.6h0" stroke="#c9211c" stroke-width="1.85" stroke-linecap="round"/>
<path d="M990.5 29.6h0M990.7 29.6h0M990.9 29.2h0M991 29.3h0M991.2 29.1h0M991.4 29h0M991.6 29.1h0M991.7 28.8h0M991.9 28.7h0M992.1 28.2h0M992.2 28.1h0M992.4 28.5h0M992.6 28.2h0M992.7 27.9h0M992.9 27.4h0M993.1 27.6h0M993.2 27.5h0M993.4 27.2h0M993.6 27.2h0M993.8 27.1h0M993.9 27.3h0M994.1 26.6h0" stroke="#bd1c1a" stroke-width="1.85" stroke-linecap="round"/>
<path d="M994.3 26.8h0M994.4 26.5h0M994.6 26h0M994.8 26.2h0M994.9 26.1h0M995.1 26.2h0M995.3 25.7h0M995.4 25.9h0M995.6 25.5h0M995.8 25.4h0M995.9 25.2h0M996.1 25.2h0M996.3 25.5h0M996.5 25.3h0M996.6 24.6h0M996.8 24.7h0M997 24.6h0M997.1 24.4h0M997.3 24.5h0M997.5 24h0M997.6 23.7h0M997.8 23.6h0M998 23.9h0" stroke="#ae1818" stroke-width="1.85" stroke-linecap="round"/>
<path d="M998.1 23.5h0M998.3 23.1h0M998.5 23.3h0M998.6 22.9h0M998.8 23h0M999 22.9h0M999.2 22.8h0M999.3 22.9h0M999.5 22.4h0M999.7 22.5h0M999.8 22.5h0M1000 22h0M1000.2 22.3h0M1000.3 22.2h0M1000.5 21.5h0M1000.7 22h0M1000.8 21.5h0M1001 21.6h0M1001.2 21.3h0M1001.3 21.1h0M1001.5 21.2h0M1001.7 21.2h0" stroke="#981717" stroke-width="1.85" stroke-linecap="round"/>
<path d="M1001.9 21.1h0M1002 20.5h0M1002.2 20.4h0M1002.4 20.6h0M1002.5 20.2h0M1002.7 20.2h0M1002.9 20.1h0M1003 19.9h0M1003.2 19.7h0M1003.4 19.5h0M1003.5 19.3h0M1003.7 19.5h0M1003.9 19.3h0M1004 19h0M1004.2 19.3h0M1004.4 18.9h0M1004.6 18.4h0M1004.7 18.1h0M1004.9 18.2h0M1005.1 18.1h0M1005.2 18.1h0M1005.4 18.1h0M1005.6 18.1h0" stroke="#831515" stroke-width="1.85" stroke-linecap="round"/>
<path d="M189 170V287.1H339.8" stroke="#a0a0a0" stroke-width="1.2" fill="none"/>
<text transform="translate(187.2 180.5) scale(.5)" class="e">2</text>
<text transform="translate(187.2 198.1) scale(.5)" class="e">1</text>
<text transform="translate(187.2 215.7) scale(.5)" class="e">0</text>
<text transform="translate(187.2 233.3) scale(.5)" class="e">-1</text>
<text transform="translate(187.2 250.9) scale(.5)" class="e">-2</text>
<text transform="translate(187.2 268.5) scale(.5)" class="e">-3</text>
<text transform="translate(187.2 286.1) scale(.5)" class="e">-4</text>
<text transform="translate(204 293.3) scale(.5)" class="m">100</text>
<text transform="translate(219.1 293.3) scale(.5)" class="m">200</text>
<text transform="translate(234.1 293.3) scale(.5)" class="m">300</text>
<text transform="translate(249.2 293.3) scale(.5)" class="m">400</text>
<text transform="translate(264.2 293.3) scale(.5)" class="m">500</text>
<text transform="translate(279.3 293.3) scale(.5)" class="m">600</text>
<text transform="translate(294.4 293.3) scale(.5)" class="m">700</text>
<text transform="translate(309.4 293.3) scale(.5)" class="m">800</text>
<text transform="translate(324.5 293.3) scale(.5)" class="m">900</text>
<text transform="translate(339.6 293.3) scale(.5)" class="m">1000</text>
<path d="M189 178.9h1.5M189 196.5h1.5M189 214.1h1.5M189 231.7h1.5M189 249.3h1.5M189 266.9h1.5M189 284.5h1.5M204 287.1v-1.5M219.1 287.1v-1.5M234.1 287.1v-1.5M249.2 287.1v-1.5M264.2 287.1v-1.5M279.3 287.1v-1.5M294.4 287.1v-1.5M309.4 287.1v-1.5M324.5 287.1v-1.5M339.6 287.1v-1.5" stroke="#a0a0a0" stroke-width="0.7"/>
<path d="M189.3 283.8h0M188.7 285h0M190 282.9h0M189.2 284.7h0M190.2 276.9h0M189.6 279.5h0M189.9 278.9h0M190.6 276.9h0M190.4 270.6h0M190.8 274.4h0M191.5 272.5h0M191.2 269h0M191.1 268h0M192.2 266.8h0M191.9 267h0M191.5 265.8h0M192.5 262.2h0M192.7 263.6h0" stroke="#112173" stroke-width="1.7" stroke-linecap="square"/>
<path d="M192.5 261.4h0M193.1 257.2h0M193.3 259.7h0M193.4 258.2h0M193.6 260.7h0M193.3 257.1h0M194.3 253.1h0M194.4 248.9h0M194.1 247.6h0M194.9 250.4h0M195.6 250.7h0M194.7 246.6h0M195.6 245.2h0M194.8 244.2h0M195.8 236.5h0M196.6 240.7h0M195.8 238.9h0M196 237.9h0" stroke="#13277e" stroke-width="1.7" stroke-linecap="square"/>
<path d="M196.8 237.9h0M197 236.4h0M196.9 230.7h0M197.6 233.4h0M197.2 230.8h0M198 227.8h0M198.6 227h0M197.7 221.6h0M198.9 222.4h0M199.1 225.6h0M198.7 221.3h0M199.5 220.7h0M199.1 212.5h0M199.7 214.7h0M200.4 214.8h0M200.1 210.4h0M200.3 208.7h0" stroke="#152e88" stroke-width="1.7" stroke-linecap="square"/>
<path d="M200 206h0M200 203.7h0M200.6 201.3h0M200.8 203.4h0M201.3 197.7h0M200.6 198.8h0M201.9 200.9h0M201.5 194.9h0M201.7 196.5h0M202.9 196h0M202.1 197.8h0M202.3 194.2h0M203.6 187.5h0M202.6 184.7h0M203.6 188.5h0M203.9 186.1h0M203.5 189.8h0M203.6 184.6h0" stroke="#173492" stroke-width="1.7" stroke-linecap="square"/>
<path d="M204 185.1h0M204.8 184.7h0M205 182.6h0M204.9 183.4h0M205 182.4h0M204.6 180.7h0M205.5 178.8h0M205.8 183.1h0M205.7 186.5h0M205.7 178.1h0M206.9 179.4h0M206.7 180h0M207 185.4h0M206.6 179h0M207.7 181.3h0M207.3 182.9h0M207.4 184.3h0" stroke="#183a9d" stroke-width="1.7" stroke-linecap="square"/>
<path d="M207.1 182.1h0M207.9 183.1h0M208.9 181.5h0M208.2 181.7h0M208.1 180.7h0M209 183.7h0M209.3 180.1h0M209.2 185.7h0M210.4 183.5h0M210.4 185.2h0M210.1 185.2h0M210.4 184.5h0M210.1 180.4h0M210.8 188.6h0M210.7 186.2h0M210.6 185.5h0M211.1 184.2h0M211.2 188.5h0" stroke="#1b43a7" stroke-width="1.7" stroke-linecap="square"/>
<path d="M211.5 182.4h0M211.4 183h0M212.3 185.5h0M212.5 186.3h0M212.4 187h0M213 181.6h0M212.7 182.1h0M212.4 186.9h0M213 181h0M213.4 183.2h0M213 184.8h0M214.3 185.2h0M213.2 184.8h0M214.8 182.3h0M214.9 189.2h0M214.8 183.4h0M214.8 184.3h0" stroke="#1d4db1" stroke-width="1.7" stroke-linecap="square"/>
<path d="M215.2 185.4h0M215.9 187.3h0M216.9 185.5h0M216.1 187.6h0M216.2 186.6h0M215.8 189.6h0M216.7 186.5h0M215.8 191.3h0M216.9 186.7h0M217.5 189.5h0M217.7 187.5h0M217.5 187.3h0M218.3 185.9h0M218.5 188.9h0M218.2 190.2h0M218.3 188.6h0M218.6 186.3h0M219.2 186.4h0" stroke="#2057bb" stroke-width="1.7" stroke-linecap="square"/>
<path d="M219.3 185.9h0M219.5 186.4h0M219.8 187.2h0M219.8 192h0M219.5 185h0M220.4 188.7h0M220.4 191.1h0M221.9 192.9h0M220.9 190.8h0M220.7 193.9h0M221.1 192.1h0M221.4 189.9h0M221.3 191.2h0M222.6 190.5h0M221.8 199.8h0M222.8 192.5h0M222.4 191.3h0" stroke="#2261c5" stroke-width="1.7" stroke-linecap="square"/>
<path d="M222.7 194.7h0M222.7 194.9h0M223.1 197.6h0M223.9 196.8h0M223.1 196.6h0M224.3 201h0M224 199.9h0M224.3 200.7h0M224.8 203.1h0M225.6 204.6h0M224.8 199.4h0M226.2 204.9h0M225.4 208.4h0M226.1 206.6h0M225.5 207h0M226.6 207.3h0M227.2 207.2h0M226.7 210.9h0" stroke="#256fcc" stroke-width="1.7" stroke-linecap="square"/>
<path d="M226.9 210.4h0M227.3 211.4h0M227.2 212.6h0M227.8 214.5h0M227.1 213.4h0M228 216.7h0M228.1 217.4h0M227.5 218.2h0M227.9 218.7h0M228.6 218.7h0M228.8 220.4h0M229 222h0M228.7 221.5h0M229.6 224h0M229.8 224.6h0M229.6 224.7h0M230.6 226h0" stroke="#2780d3" stroke-width="1.7" stroke-linecap="square"/>
<path d="M229.8 227.2h0M231.3 228.2h0M231.3 228.4h0M231.3 229.1h0M230.6 230.2h0M232.3 230.7h0M231.9 231.7h0M231.8 231.7h0M232.3 230.3h0M232.3 233.4h0M232.2 235.2h0M232.1 233.5h0M232.2 233h0M233.5 235.1h0M232.9 235h0M233.6 234h0M233.5 235.8h0M234 235.9h0" stroke="#2a90d9" stroke-width="1.7" stroke-linecap="square"/>
<path d="M234 237.6h0M233.8 236.7h0M234.6 235.1h0M235.8 234.5h0M235.2 234.5h0M235.3 237.2h0M236.4 237.9h0M235.6 237.2h0M236.5 237.7h0M236.5 237.6h0M235.9 237h0M236.7 238.6h0M236.5 238.3h0M237.4 237.1h0M237.3 237.1h0M237.3 237.2h0M237.4 239.1h0M237.6 237.6h0" stroke="#2ca0df" stroke-width="1.7" stroke-linecap="square"/>
<path d="M238.1 236.7h0M237.6 238.1h0M238.7 238.9h0M238.8 238.3h0M238.5 236.6h0M238.6 236.6h0M239.2 238.5h0M239.2 238h0M239.5 236.7h0M239.3 235.3h0M240.6 234.8h0M240.1 238.3h0M240.4 235.6h0M241 235.6h0M241.1 234.4h0M240.7 232.2h0M241.1 233.3h0" stroke="#35aadc" stroke-width="1.7" stroke-linecap="square"/>
<path d="M242.2 233.9h0M242 230.8h0M242.1 230.8h0M242.5 230.9h0M242.9 230.6h0M242.7 228.4h0M243.1 227.9h0M242.8 227.3h0M243.9 225.3h0M243.8 225.6h0M243.6 223.4h0M244.7 222.6h0M244.8 221.7h0M245 221.2h0M244.8 220.1h0M245.2 217.2h0M244.8 217.5h0M245.2 217.2h0" stroke="#40b2d4" stroke-width="1.7" stroke-linecap="square"/>
<path d="M245.2 215.5h0M246.1 212.2h0M245.9 213h0M246.3 212.3h0M246.4 209.9h0M246.8 209.9h0M246.7 207.3h0M246.9 207.7h0M246.9 207.4h0M247.6 206.1h0M248 204.6h0M247.4 206.2h0M248.6 203.4h0M249 201.8h0M248.3 200.3h0M248.7 200.1h0M248.7 198.6h0" stroke="#4bb9cd" stroke-width="1.7" stroke-linecap="square"/>
<path d="M249.7 199h0M250.2 198.4h0M249.8 198.6h0M249.1 195.5h0M250.7 195.8h0M249.6 196.2h0M250.7 196.1h0M250.9 196.8h0M250.9 197h0M251 196h0M251.1 196.7h0M251.4 196.7h0M252.2 196.8h0M252.2 198.3h0M252.1 197h0M252.1 198.3h0M252.3 197.5h0M252.7 199.4h0" stroke="#57c1c5" stroke-width="1.7" stroke-linecap="square"/>
<path d="M253.4 198.6h0M253.5 199.1h0M253.6 200.4h0M253.6 201.2h0M253.7 201.1h0M254.1 201.9h0M254.6 202.5h0M254.1 203.6h0M254.4 204.9h0M255.1 204.9h0M254.7 205.3h0M255.8 205.2h0M256.1 205.6h0M255.7 205.6h0M256.4 206.5h0M255.9 207.5h0M256.1 207.9h0" stroke="#61c4b4" stroke-width="1.7" stroke-linecap="square"/>
<path d="M256.8 207.3h0M257.5 208.6h0M257.6 209.5h0M258.5 209.3h0M258.7 210.7h0M258 210.9h0M258.1 212.1h0M257.9 212.3h0M258.5 213h0M258.6 215.4h0M259.1 213.9h0M258.6 216h0M259.2 215.9h0M258.9 215h0M260.2 217.1h0M259.3 216.7h0M261 216.7h0M260.9 218.2h0" stroke="#6bc59f" stroke-width="1.7" stroke-linecap="square"/>
<path d="M260.7 218.8h0M261.6 217.6h0M260.2 219.5h0M261.5 218.3h0M261.4 218.2h0M262.5 218.6h0M261.2 219.1h0M261.6 219.8h0M262.5 219.5h0M262.1 219.6h0M262.4 219.4h0M262.9 219.6h0M263.1 219.6h0M263.4 220.3h0M263.4 220.3h0M263.1 218.7h0M263.8 220.6h0" stroke="#75c68a" stroke-width="1.7" stroke-linecap="square"/>
<path d="M264.1 221.1h0M264.6 221.3h0M264.5 222h0M264.5 221.9h0M265.8 222.1h0M264.9 221.1h0M266.1 222.5h0M265.1 221.3h0M266.1 222.4h0M265.5 222.2h0M266.7 221.5h0M266.9 221.6h0M266.8 221.1h0M267 221.3h0M266.9 221.8h0M267.7 221.4h0M267.4 220.7h0M268.1 221h0" stroke="#7fc874" stroke-width="1.7" stroke-linecap="square"/>
<path d="M267.8 220.1h0M269.3 221.1h0M267.9 220.9h0M268.4 221h0M268.5 219.2h0M269.5 218.5h0M269.7 219.6h0M270.1 219.5h0M269.7 219.6h0M270.5 217.8h0M270.1 218.4h0M270.5 217.8h0M271 217.6h0M271.1 218.5h0M271 218.4h0M272.1 215.9h0M271.8 215.9h0" stroke="#91cb61" stroke-width="1.7" stroke-linecap="square"/>
<path d="M272.6 215.9h0M271.3 216.5h0M271.3 216.8h0M271.9 216.1h0M272.8 216.6h0M272.7 215.7h0M273 216h0M272.3 216.2h0M273.8 215.4h0M273.1 216.6h0M274 218.2h0M274.4 217.9h0M274.2 216.6h0M275.4 217.1h0M274.5 215.1h0M274.8 216.3h0M274.3 216.3h0M275.4 219.8h0" stroke="#a7d04e" stroke-width="1.7" stroke-linecap="square"/>
<path d="M276.2 217.7h0M275.8 220.2h0M275.4 218.8h0M275.7 216.7h0M276.8 219.2h0M276.1 218.8h0M276.5 217.8h0M277.2 219.1h0M277.4 216.1h0M278.2 219.5h0M278.1 218.9h0M277.6 215.7h0M278.4 218h0M278.6 218.5h0M278.2 214.2h0M279.2 217.2h0M279.4 214.7h0M279.2 215.8h0" stroke="#bdd53b" stroke-width="1.7" stroke-linecap="square"/>
<path d="M279.4 215.2h0M279.6 211h0M279.8 214.6h0M280.3 215.9h0M280.7 214.9h0M280.4 214.2h0M280.5 211.2h0M281.2 211.2h0M280.7 212.3h0M281.1 212.2h0M282.1 211.5h0M281.8 209.3h0M282.5 207.5h0M281.5 210.5h0M282.3 212.9h0M282.8 213.5h0M282 212.9h0" stroke="#d1d72d" stroke-width="1.7" stroke-linecap="square"/>
<path d="M283 207.2h0M283.1 213.8h0M282.8 212.3h0M283.7 211.5h0M283.4 213.7h0M283.3 212.1h0M283.8 218.6h0M285.1 212.1h0M285 212.9h0M284.7 211.7h0M284.9 210.3h0M285.6 218.6h0M286.1 210.9h0M285.8 213.1h0M286.1 216.9h0M285.3 213.2h0M286.4 215.1h0M286.3 217.9h0" stroke="#e4d722" stroke-width="1.7" stroke-linecap="square"/>
<path d="M287.4 216.7h0M287.1 218.5h0M287.5 214h0M287.5 215.8h0M287.4 212.1h0M287.8 215.1h0M289 214.9h0M287.9 216h0M288.6 209.8h0M289 213.7h0M289.5 210h0M289.1 209.4h0M289.9 211.1h0M288.8 211.3h0M290.6 212h0M291.2 211.1h0M290 209.8h0" stroke="#f5d519" stroke-width="1.7" stroke-linecap="square"/>
<path d="M290.8 209.2h0M290.8 208.2h0M290.9 210.7h0M290.8 212.7h0M291.6 212.4h0M291.5 211.5h0M292 209.4h0M292.5 208.9h0M292.5 212.2h0M291.9 211.8h0M292.5 215h0M293.7 215.1h0M293.4 210h0M293.4 205.7h0M293.7 212.9h0M294.6 213h0M293.5 213.5h0M294 211.2h0" stroke="#f3c01b" stroke-width="1.7" stroke-linecap="square"/>
<path d="M294.7 213.5h0M294.9 208.2h0M294.7 211.6h0M295.4 209.8h0M295.1 212.9h0M295.2 210h0M296.2 214.7h0M295.2 213.5h0M295.6 211.2h0M296.5 209h0M297 211.7h0M297.4 213.2h0M296.5 211.9h0M297.7 214.4h0M297.9 210.9h0M297.5 211.9h0M297.8 212.1h0" stroke="#f2ab1c" stroke-width="1.7" stroke-linecap="square"/>
<path d="M298.5 213.4h0M298.8 211.1h0M299 215.2h0M298.1 211.5h0M298.8 213.5h0M298.9 214.5h0M299.3 213.7h0M299.4 212h0M299.4 211.2h0M299.2 209.3h0M299.8 212.1h0M300.9 213h0M301 213.2h0M300.2 212.6h0M301.6 214h0M300.7 214.1h0M301.7 212.9h0M302.3 212.6h0" stroke="#f1961d" stroke-width="1.7" stroke-linecap="square"/>
<path d="M302.2 216.3h0M303.2 213.4h0M302.8 214.1h0M302.6 213.5h0M303.5 211.5h0M303.4 210.9h0M303.2 213.1h0M303.3 212.1h0M303.8 212.7h0M304.7 217.1h0M305.1 213.8h0M304.3 217.1h0M304.5 217.8h0M304.9 214.8h0M305.8 215.1h0M305.7 213.1h0M306.3 215.2h0" stroke="#ee801e" stroke-width="1.7" stroke-linecap="square"/>
<path d="M306 217.2h0M305.4 215.5h0M306.1 217h0M306.2 214.3h0M306.4 215.6h0M306.4 213.5h0M307.7 215.3h0M307.1 213.3h0M307.6 216.8h0M307.1 216.8h0M308.7 216.9h0M309.2 216.1h0M308.2 214.3h0M308.4 215.7h0M308.3 218.1h0M308.6 216.1h0M308.8 219.3h0M309.5 216.8h0" stroke="#e9671e" stroke-width="1.7" stroke-linecap="square"/>
<path d="M309.4 217.5h0M308.8 214.3h0M309.8 215.9h0M310.8 215.1h0M310.5 216.7h0M310.7 215.4h0M311.1 217.4h0M311.2 216.1h0M311.6 215.9h0M312 215.2h0M312.1 214.5h0M311.7 215.1h0M312.1 212.2h0M312.9 212.7h0M312.3 213.3h0M313.3 212.4h0M312.8 211.5h0" stroke="#e44d1e" stroke-width="1.7" stroke-linecap="square"/>
<path d="M312.7 212.4h0M313.4 212.7h0M313.2 211.1h0M314.5 214.5h0M314.1 212.4h0M315.2 212.7h0M314.1 212.6h0M315.5 212.6h0M315 212.2h0M314.3 213.2h0M315.7 212.5h0M315 212.6h0M315.8 212.7h0M315.7 212.9h0M315.8 212.8h0M316.3 212.4h0M316.9 213.3h0M317 212.5h0" stroke="#df341e" stroke-width="1.7" stroke-linecap="square"/>
<path d="M317.2 212.6h0M317.3 212.7h0M317.1 212.8h0M317.1 212.6h0M317.3 213.6h0M318.4 213.1h0M318.4 213h0M318.6 213.4h0M318.9 213.1h0M319.2 212.7h0M318.9 213.2h0M319.6 213.4h0M319.1 213.5h0M320.3 213.4h0M320.3 213.6h0M320.5 213.6h0M320.1 213.4h0M320.7 213.1h0" stroke="#d6261d" stroke-width="1.7" stroke-linecap="square"/>
<path d="M320.3 213.4h0M321.8 213.2h0M321.2 213.8h0M321.4 213.5h0M321.9 213.5h0M322.2 213.9h0M321.7 214h0M321.9 213.7h0M322.8 213.1h0M323.1 213.8h0M323.7 214h0M323.4 213.6h0M323.8 213.7h0M323.6 214.2h0M323.9 214h0M324.4 213.9h0M324.6 214.3h0" stroke="#c9211c" stroke-width="1.7" stroke-linecap="square"/>
<path d="M325 214.2h0M324.1 214.3h0M324.7 213.7h0M325.5 214.3h0M325.5 214h0M325 214.3h0M325 214.3h0M325 214.2h0M325.9 214.3h0M326.2 213.7h0M326.6 214h0M327.2 213.8h0M327.4 214.3h0M326.9 214.3h0M327.4 214.1h0M327.8 213.9h0M328 213.7h0M328.6 214.3h0" stroke="#bd1c1a" stroke-width="1.7" stroke-linecap="square"/>
<path d="M328.8 215h0M329.2 214.1h0M329 214.7h0M330.1 214.3h0M329.2 213.9h0M329.4 214.5h0M330 214.5h0M330.2 214.2h0M330.6 214.6h0M330.9 214.2h0M331.4 214.5h0M331.6 214.1h0M331.3 214.5h0M331.5 214.2h0M331.1 214.7h0M331.3 214h0M331.9 214.1h0" stroke="#ae1818" stroke-width="1.7" stroke-linecap="square"/>
<path d="M332.2 214.4h0M332.4 214.5h0M333 214.4h0M332.8 214.8h0M333.1 214.6h0M332.9 214.2h0M332.9 214.5h0M333.8 214.2h0M333.6 214.4h0M334.1 214.8h0M333.4 215h0M334.7 214.5h0M334.1 214.7h0M334.7 214.6h0M335.1 213.9h0M335 214.5h0M335.2 214.7h0M335.4 214.6h0" stroke="#981717" stroke-width="1.7" stroke-linecap="square"/>
<path d="M335.7 214.5h0M336.2 214.8h0M337.2 214.9h0M336.7 214h0M336.5 214.2h0M337.6 214.5h0M336.5 214.2h0M337.5 214.8h0M338.2 214.8h0M338.3 214.8h0M338.3 214.9h0M338.1 214.9h0M338.2 214.6h0M338.7 214.6h0M339.5 214.7h0" stroke="#831515" stroke-width="1.7" stroke-linecap="square"/>
<path d="M205.9 170.4h0" stroke="#183a9d" stroke-width="1.8" stroke-linecap="square"/>
<path d="M227 231.2h0" stroke="#2780d3" stroke-width="1.8" stroke-linecap="square"/>
<path d="M241.5 246.1h0" stroke="#35aadc" stroke-width="1.8" stroke-linecap="square"/>
<path d="M251.2 184.2h0" stroke="#57c1c5" stroke-width="1.8" stroke-linecap="square"/>
<path d="M281.2 232h0" stroke="#d1d72d" stroke-width="1.8" stroke-linecap="square"/>
<path d="M355 170V287.3H505.3" stroke="#a0a0a0" stroke-width="1.2" fill="none"/>
<text transform="translate(353.2 173.3) scale(.5)" class="e">1.5</text>
<text transform="translate(353.2 193.3) scale(.5)" class="e">1</text>
<text transform="translate(353.2 213.4) scale(.5)" class="e">0.5</text>
<text transform="translate(353.2 233.5) scale(.5)" class="e">0</text>
<text transform="translate(353.2 253.6) scale(.5)" class="e">-0.5</text>
<text transform="translate(353.2 273.7) scale(.5)" class="e">-1</text>
<text transform="translate(370.6 293.5) scale(.5)" class="m">100</text>
<text transform="translate(386.7 293.5) scale(.5)" class="m">200</text>
<text transform="translate(402.7 293.5) scale(.5)" class="m">300</text>
<text transform="translate(418.7 293.5) scale(.5)" class="m">400</text>
<text transform="translate(434.8 293.5) scale(.5)" class="m">500</text>
<text transform="translate(450.8 293.5) scale(.5)" class="m">600</text>
<text transform="translate(466.8 293.5) scale(.5)" class="m">700</text>
<text transform="translate(482.8 293.5) scale(.5)" class="m">800</text>
<text transform="translate(498.9 293.5) scale(.5)" class="m">900</text>
<path d="M355 171.7h1.5M355 191.8h1.5M355 211.8h1.5M355 231.9h1.5M355 252h1.5M355 272.1h1.5M370.6 287.3v-1.5M386.7 287.3v-1.5M402.7 287.3v-1.5M418.7 287.3v-1.5M434.8 287.3v-1.5M450.8 287.3v-1.5M466.8 287.3v-1.5M482.8 287.3v-1.5M498.9 287.3v-1.5" stroke="#a0a0a0" stroke-width="0.7"/>
<path d="M354.6 200.3h0M354.9 199.9h0M355.2 199.9h0M355.5 200h0M355.8 199.9h0M356.1 200.1h0M356.4 200.2h0M356.7 200h0M357 199.9h0M357.3 199.7h0M357.6 200.2h0M357.9 200.2h0M358.2 200.5h0" stroke="#112173" stroke-width="2.1" stroke-linecap="round"/>
<path d="M358.5 200.3h0M358.8 200.5h0M359.1 200.3h0M359.4 200.2h0M359.7 199.9h0M360 200.3h0M360.3 200.6h0M360.6 200.1h0M360.9 199.8h0M361.2 200.2h0M361.5 200.4h0M361.8 200.1h0" stroke="#13277e" stroke-width="2.1" stroke-linecap="round"/>
<path d="M362.1 200h0M362.5 199.4h0M362.8 199.7h0M363.1 199.6h0M363.4 199.7h0M363.7 199.1h0M364 199.7h0M364.3 199.6h0M364.6 199h0M364.9 198.6h0M365.2 198.7h0M365.5 198.7h0M365.8 198.6h0" stroke="#152e88" stroke-width="2.1" stroke-linecap="round"/>
<path d="M366.1 198.2h0M366.4 198.4h0M366.7 198h0M367 198.1h0M367.3 197.9h0M367.6 198.3h0M367.9 198.1h0M368.2 197.1h0M368.5 197.2h0M368.8 197.2h0M369.1 196.7h0M369.4 196.9h0" stroke="#173492" stroke-width="2.1" stroke-linecap="round"/>
<path d="M369.7 196.1h0M370 196.2h0M370.3 196.6h0M370.6 196.1h0M370.9 196h0M371.2 195.8h0M371.5 195.2h0M371.8 195h0M372.1 195h0M372.4 194.6h0M372.7 194.7h0M373 194.9h0M373.3 194.6h0" stroke="#183a9d" stroke-width="2.1" stroke-linecap="round"/>
<path d="M373.6 194.5h0M373.9 194h0M374.2 194.2h0M374.5 193.7h0M374.8 193.8h0M375.1 193.5h0M375.4 192.9h0M375.7 192.9h0M376 193.1h0M376.3 192.7h0M376.6 192.7h0M376.9 192.5h0" stroke="#1b43a7" stroke-width="2.1" stroke-linecap="round"/>
<path d="M377.2 192.5h0M377.5 192.2h0M377.9 192.3h0M378.2 191.8h0M378.5 191.9h0M378.8 191.3h0M379.1 191.4h0M379.4 191.7h0M379.7 191h0M380 191.2h0M380.3 191h0M380.6 191.2h0M380.9 189.9h0" stroke="#1d4db1" stroke-width="2.1" stroke-linecap="round"/>
<path d="M381.2 190.6h0M381.5 189.9h0M381.8 190h0M382.1 189.6h0M382.4 189.4h0M382.7 189.5h0M383 189.4h0M383.3 189.2h0M383.6 188.9h0M383.9 188.6h0M384.2 188.1h0M384.5 188.4h0" stroke="#2057bb" stroke-width="2.1" stroke-linecap="round"/>
<path d="M384.8 188h0M385.1 188.3h0M385.4 187.9h0M385.7 187.7h0M386 187.5h0M386.3 187.4h0M386.6 187h0M386.9 187.1h0M387.2 186.7h0M387.5 186.6h0M387.8 186.2h0M388.1 185.8h0M388.4 185.7h0" stroke="#2261c5" stroke-width="2.1" stroke-linecap="round"/>
<path d="M388.7 185.6h0M389 185.3h0M389.3 185.2h0M389.6 185h0M389.9 184.1h0M390.2 184.4h0M390.5 184.1h0M390.8 183.9h0M391.1 183.3h0M391.4 184.1h0M391.7 183.4h0M392 183.4h0" stroke="#256fcc" stroke-width="2.1" stroke-linecap="round"/>
<path d="M392.3 183.2h0M392.6 183.2h0M392.9 182.3h0M393.3 182.3h0M393.6 182.1h0M393.9 181.6h0M394.2 181.5h0M394.5 181.3h0M394.8 181.1h0M395.1 180.6h0M395.4 179.9h0M395.7 179.9h0M396 179.7h0" stroke="#2780d3" stroke-width="2.1" stroke-linecap="round"/>
<path d="M396.3 179.3h0M396.6 178.8h0M396.9 178.9h0M397.2 178.1h0M397.5 178h0M397.8 177.8h0M398.1 177.5h0M398.4 177.1h0M398.7 176.6h0M399 176.8h0M399.3 176.7h0M399.6 176.5h0" stroke="#2a90d9" stroke-width="2.1" stroke-linecap="round"/>
<path d="M399.9 176.1h0M400.2 175.3h0M400.5 175h0M400.8 175.5h0M401.1 175.1h0M401.4 174.4h0M401.7 173.9h0M402 173.3h0M402.3 173.1h0M402.6 172.9h0M402.9 172.3h0M403.2 172.5h0M403.5 172.4h0" stroke="#2ca0df" stroke-width="2.1" stroke-linecap="round"/>
<path d="M403.8 172.4h0M404.1 171.9h0M404.4 171.9h0M404.7 172.5h0M405 172.3h0M405.3 172.5h0M405.6 172.5h0M405.9 173h0M406.2 173.5h0M406.5 174.1h0M406.8 174h0M407.1 174.9h0" stroke="#35aadc" stroke-width="2.1" stroke-linecap="round"/>
<path d="M407.4 175.5h0M407.7 176h0M408 176.4h0M408.4 177.4h0M408.7 178.7h0M409 179.5h0M409.3 180.6h0M409.6 181.8h0M409.9 183.1h0M410.2 184.2h0M410.5 185.5h0M410.8 186.5h0M411.1 187.4h0" stroke="#40b2d4" stroke-width="2.1" stroke-linecap="round"/>
<path d="M411.4 188.3h0M411.7 189.7h0M412 190.4h0M412.3 191.5h0M412.6 192.9h0M412.9 193.5h0M413.2 195h0M413.5 195.8h0M413.8 197.4h0M414.1 198.3h0M414.4 199.3h0M414.7 200.4h0" stroke="#4bb9cd" stroke-width="2.1" stroke-linecap="round"/>
<path d="M415 201.9h0M415.3 202.9h0M415.6 204.2h0M415.9 205.1h0M416.2 206.6h0M416.5 207.4h0M416.8 208.1h0M417.1 209.6h0M417.4 210h0M417.7 210.9h0M418 212.2h0M418.3 213h0M418.6 214.5h0" stroke="#57c1c5" stroke-width="2.1" stroke-linecap="round"/>
<path d="M418.9 214.9h0M419.2 216h0M419.5 216h0M419.8 217.9h0M420.1 217.8h0M420.4 218.7h0M420.7 218.9h0M421 219.8h0M421.3 220.4h0M421.6 220.9h0M421.9 222h0M422.2 222.4h0" stroke="#61c4b4" stroke-width="2.1" stroke-linecap="round"/>
<path d="M422.5 222.5h0M422.8 223.1h0M423.1 223.6h0M423.4 224.5h0M423.8 224.6h0M424.1 225.3h0M424.4 225.7h0M424.7 226.1h0M425 226.5h0M425.3 227.3h0M425.6 227.7h0M425.9 227.8h0M426.2 228.1h0" stroke="#6bc59f" stroke-width="2.1" stroke-linecap="round"/>
<path d="M426.5 228.6h0M426.8 228.9h0M427.1 230h0M427.4 230.6h0M427.7 230.9h0M428 231.7h0M428.3 231.9h0M428.6 232.3h0M428.9 232.5h0M429.2 233.3h0M429.5 233.5h0M429.8 233.8h0" stroke="#75c68a" stroke-width="2.1" stroke-linecap="round"/>
<path d="M430.1 234.6h0M430.4 235h0M430.7 235.2h0M431 236.2h0M431.3 236.4h0M431.6 237h0M431.9 237h0M432.2 237.2h0M432.5 237.7h0M432.8 238.1h0M433.1 238.2h0M433.4 238.6h0" stroke="#7fc874" stroke-width="2.1" stroke-linecap="round"/>
<path d="M433.7 239.3h0M434 238.9h0M434.3 239.9h0M434.6 239.7h0M434.9 240h0M435.2 240.1h0M435.5 240.6h0M435.8 240.9h0M436.1 241.5h0M436.4 241h0M436.7 242h0M437 241.6h0M437.3 242.4h0" stroke="#91cb61" stroke-width="2.1" stroke-linecap="round"/>
<path d="M437.6 242.3h0M437.9 243h0M438.2 243h0M438.5 243.5h0M438.8 243.2h0M439.2 243.8h0M439.5 244.1h0M439.8 244.5h0M440.1 244.4h0M440.4 244.8h0M440.7 244.6h0M441 244.7h0" stroke="#a7d04e" stroke-width="2.1" stroke-linecap="round"/>
<path d="M441.3 245.3h0M441.6 245.5h0M441.9 245.4h0M442.2 245.4h0M442.5 246h0M442.8 245.9h0M443.1 246.3h0M443.4 246.6h0M443.7 246.3h0M444 247.3h0M444.3 247.2h0M444.6 247.3h0M444.9 247.1h0" stroke="#bdd53b" stroke-width="2.1" stroke-linecap="round"/>
<path d="M445.2 247.7h0M445.5 248.4h0M445.8 248.3h0M446.1 248.5h0M446.4 249h0M446.7 249.3h0M447 249.7h0M447.3 249.8h0M447.6 249.9h0M447.9 250.1h0M448.2 251h0M448.5 251.4h0" stroke="#d1d72d" stroke-width="2.1" stroke-linecap="round"/>
<path d="M448.8 251.8h0M449.1 252.1h0M449.4 252.5h0M449.7 253.2h0M450 254h0M450.3 254.2h0M450.6 255.4h0M450.9 255.2h0M451.2 255.7h0M451.5 256.6h0M451.8 257.3h0M452.1 257.8h0M452.4 258.4h0" stroke="#e4d722" stroke-width="2.1" stroke-linecap="round"/>
<path d="M452.7 258.6h0M453 259.7h0M453.3 259.9h0M453.6 260.2h0M453.9 260.3h0M454.2 261.1h0M454.6 261.6h0M454.9 262.2h0M455.2 262.8h0M455.5 263.6h0M455.8 263.8h0M456.1 264.6h0" stroke="#f5d519" stroke-width="2.1" stroke-linecap="round"/>
<path d="M456.4 264.4h0M456.7 265.9h0M457 266h0M457.3 266.8h0M457.6 267.3h0M457.9 267.7h0M458.2 268.2h0M458.5 268.5h0M458.8 269.3h0M459.1 269.9h0M459.4 270h0M459.7 270.8h0M460 271.8h0" stroke="#f3c01b" stroke-width="2.1" stroke-linecap="round"/>
<path d="M460.3 272.4h0M460.6 272.7h0M460.9 273h0M461.2 273.4h0M461.5 273.9h0M461.8 274.3h0M462.1 274.8h0M462.4 274.8h0M462.7 275.5h0M463 275.4h0M463.3 275.5h0M463.6 276h0" stroke="#f2ab1c" stroke-width="2.1" stroke-linecap="round"/>
<path d="M463.9 275.7h0M464.2 275.9h0M464.5 276.6h0M464.8 275.9h0M465.1 276.7h0M465.4 276.7h0M465.7 276.4h0M466 277h0M466.3 276.7h0M466.6 277h0M466.9 276.9h0M467.2 277.1h0M467.5 277h0" stroke="#f1961d" stroke-width="2.1" stroke-linecap="round"/>
<path d="M467.8 277.4h0M468.1 277.3h0M468.4 276.9h0M468.7 277.1h0M469 277.4h0M469.3 277.5h0M469.6 277.6h0M470 277.5h0M470.3 277.4h0M470.6 277.4h0M470.9 277.4h0M471.2 277h0" stroke="#ee801e" stroke-width="2.1" stroke-linecap="round"/>
<path d="M471.5 277.8h0M471.8 277.7h0M472.1 278.1h0M472.4 277.9h0M472.7 278.3h0M473 277.8h0M473.3 277.9h0M473.6 278.3h0M473.9 278.2h0M474.2 278.4h0M474.5 278.6h0M474.8 278.7h0M475.1 278.7h0" stroke="#e9671e" stroke-width="2.1" stroke-linecap="round"/>
<path d="M475.4 278.9h0M475.7 278.8h0M476 278.7h0M476.3 279.1h0M476.6 279.3h0M476.9 279.3h0M477.2 279.5h0M477.5 279.5h0M477.8 279.1h0M478.1 279.8h0M478.4 279.8h0M478.7 280h0" stroke="#e44d1e" stroke-width="2.1" stroke-linecap="round"/>
<path d="M479 280.3h0M479.3 280h0M479.6 280.1h0M479.9 280.5h0M480.2 280.3h0M480.5 280.7h0M480.8 280.6h0M481.1 281.1h0M481.4 281.1h0M481.7 281.1h0M482 281h0M482.3 281.2h0M482.6 281.4h0" stroke="#df341e" stroke-width="2.1" stroke-linecap="round"/>
<path d="M482.9 281.5h0M483.2 281.5h0M483.5 282.2h0M483.8 281.9h0M484.1 281.9h0M484.4 281.7h0M484.7 282.1h0M485.1 282.2h0M485.4 282.2h0M485.7 282.8h0M486 282.4h0M486.3 282.2h0" stroke="#d6261d" stroke-width="2.1" stroke-linecap="round"/>
<path d="M486.6 283h0M486.9 282.9h0M487.2 283.3h0M487.5 283h0M487.8 283.1h0M488.1 283.4h0M488.4 283.4h0M488.7 283.5h0M489 283.8h0M489.3 283.5h0M489.6 284h0M489.9 284h0M490.2 283.6h0" stroke="#c9211c" stroke-width="2.1" stroke-linecap="round"/>
<path d="M490.5 284.2h0M490.8 284.1h0M491.1 284.1h0M491.4 284.3h0M491.7 284.4h0M492 285.4h0M492.3 285.2h0M492.6 284.8h0M492.9 284.9h0M493.2 285.2h0M493.5 285.1h0M493.8 285.6h0" stroke="#bd1c1a" stroke-width="2.1" stroke-linecap="round"/>
<path d="M494.1 285.3h0M494.4 285.5h0M494.7 285.7h0M495 285.9h0M495.3 285.8h0M495.6 285.6h0M495.9 286h0M496.2 285.6h0M496.5 286.2h0M496.8 285.9h0M497.1 286h0M497.4 286.4h0M497.7 286.4h0" stroke="#ae1818" stroke-width="2.1" stroke-linecap="round"/>
<path d="M498 286.1h0M498.3 286h0M498.6 286h0M498.9 286.2h0M499.2 286.6h0M499.5 286.7h0M499.8 286.3h0M500.1 286.5h0M500.5 286.4h0M500.8 286.8h0M501.1 286.7h0M501.4 286.9h0" stroke="#981717" stroke-width="2.1" stroke-linecap="round"/>
<path d="M501.7 287.4h0M502 286.7h0M502.3 287.1h0M502.6 286.5h0M502.9 287h0M503.2 287h0M503.5 286.9h0M503.8 287.2h0M504.1 287.3h0M504.4 287.5h0M504.7 287.3h0M505 287.4h0M505.3 287.1h0" stroke="#831515" stroke-width="2.1" stroke-linecap="round"/>
<path d="M519 170V289.2H669.5" stroke="#a0a0a0" stroke-width="1.2" fill="none"/>
<text transform="translate(517.2 187.8) scale(.5)" class="e">1</text>
<text transform="translate(517.2 209.7) scale(.5)" class="e">0.5</text>
<text transform="translate(517.2 231.6) scale(.5)" class="e">0</text>
<text transform="translate(517.2 253.5) scale(.5)" class="e">-0.5</text>
<text transform="translate(517.2 275.4) scale(.5)" class="e">-1</text>
<text transform="translate(535.6 295.4) scale(.5)" class="m">100</text>
<text transform="translate(552.3 295.4) scale(.5)" class="m">200</text>
<text transform="translate(569 295.4) scale(.5)" class="m">300</text>
<text transform="translate(585.7 295.4) scale(.5)" class="m">400</text>
<text transform="translate(602.4 295.4) scale(.5)" class="m">500</text>
<text transform="translate(619.1 295.4) scale(.5)" class="m">600</text>
<text transform="translate(635.8 295.4) scale(.5)" class="m">700</text>
<text transform="translate(652.5 295.4) scale(.5)" class="m">800</text>
<text transform="translate(669.2 295.4) scale(.5)" class="m">900</text>
<path d="M519 186.2h1.5M519 208.1h1.5M519 230h1.5M519 251.9h1.5M519 273.8h1.5M535.6 289.2v-1.5M552.3 289.2v-1.5M569 289.2v-1.5M585.7 289.2v-1.5M602.4 289.2v-1.5M619.1 289.2v-1.5M635.8 289.2v-1.5M652.5 289.2v-1.5M669.2 289.2v-1.5" stroke="#a0a0a0" stroke-width="0.7"/>
<path d="M518.9 170.2h0M519.1 170.1h0M519.2 170h0M519.4 170.2h0M519.6 170h0M519.7 170.3h0M519.9 170h0M520.1 170h0M520.2 170.1h0M520.4 170.2h0M520.6 170.1h0M520.7 170h0M520.9 170.2h0M521.1 170.2h0M521.2 169.9h0M521.4 170h0M521.6 169.8h0M521.7 170h0M521.9 170.2h0M522.1 170.4h0M522.2 170.1h0M522.4 170.2h0M522.6 170.2h0" stroke="#112173" stroke-width="1.85" stroke-linecap="round"/>
<path d="M522.7 170.4h0M522.9 170.4h0M523.1 170.3h0M523.2 169.9h0M523.4 170.3h0M523.6 169.8h0M523.7 170h0M523.9 170.2h0M524.1 170.6h0M524.2 169.8h0M524.4 170h0M524.6 170.7h0M524.8 170h0M524.9 170.3h0M525.1 170.3h0M525.3 169.8h0M525.4 170.9h0M525.6 170.1h0M525.8 170.5h0M525.9 170.5h0M526.1 170.8h0M526.3 170.7h0" stroke="#13277e" stroke-width="1.85" stroke-linecap="round"/>
<path d="M526.4 170.6h0M526.6 170.1h0M526.8 170.9h0M526.9 171h0M527.1 170.5h0M527.3 170.9h0M527.4 171.1h0M527.6 170.9h0M527.8 171.2h0M527.9 171.2h0M528.1 171.2h0M528.3 171.6h0M528.4 171.4h0M528.6 171.7h0M528.8 171.3h0M528.9 171.7h0M529.1 171.9h0M529.3 172.4h0M529.4 171.4h0M529.6 171.6h0M529.8 171.8h0M529.9 172.1h0M530.1 173h0" stroke="#152e88" stroke-width="1.85" stroke-linecap="round"/>
<path d="M530.3 172.1h0M530.4 172.5h0M530.6 172.2h0M530.8 172.9h0M530.9 172.7h0M531.1 172.8h0M531.3 173.2h0M531.4 173h0M531.6 173h0M531.8 173.2h0M531.9 172.6h0M532.1 172.5h0M532.3 173.1h0M532.4 173h0M532.6 173.2h0M532.8 173.5h0M532.9 173.2h0M533.1 173.1h0M533.3 173.6h0M533.4 173.4h0M533.6 173.1h0M533.8 173.7h0" stroke="#173492" stroke-width="1.85" stroke-linecap="round"/>
<path d="M533.9 174h0M534.1 173.5h0M534.3 173.3h0M534.4 173.6h0M534.6 173.4h0M534.8 173.5h0M534.9 174.2h0M535.1 174h0M535.3 173.9h0M535.5 174.1h0M535.6 173.5h0M535.8 173.9h0M536 173.8h0M536.1 174.2h0M536.3 174h0M536.5 174.3h0M536.6 174.6h0M536.8 174h0M537 174h0M537.1 174.4h0M537.3 174.5h0M537.5 175h0M537.6 174.3h0" stroke="#183a9d" stroke-width="1.85" stroke-linecap="round"/>
<path d="M537.8 174.5h0M538 174.4h0M538.1 174.8h0M538.3 174.4h0M538.5 174.7h0M538.6 174.9h0M538.8 175.3h0M539 174.6h0M539.1 175.2h0M539.3 174.9h0M539.5 174.9h0M539.6 175.1h0M539.8 174.7h0M540 175.4h0M540.1 175h0M540.3 175h0M540.5 174.9h0M540.6 175.5h0M540.8 175.2h0M541 175.5h0M541.1 175.4h0M541.3 175.7h0" stroke="#1b43a7" stroke-width="1.85" stroke-linecap="round"/>
<path d="M541.5 175.6h0M541.6 176h0M541.8 175.9h0M542 176.1h0M542.1 176.4h0M542.3 175.8h0M542.5 176.1h0M542.6 176h0M542.8 176.1h0M543 176.4h0M543.1 176.2h0M543.3 175.9h0M543.5 176.2h0M543.6 176.5h0M543.8 176.5h0M544 176.4h0M544.1 176.6h0M544.3 176.6h0M544.5 176.5h0M544.6 176.8h0M544.8 177.2h0M545 176.9h0M545.1 177h0" stroke="#1d4db1" stroke-width="1.85" stroke-linecap="round"/>
<path d="M545.3 177.5h0M545.5 177.3h0M545.6 177.7h0M545.8 177.4h0M546 177h0M546.2 177.7h0M546.3 177.7h0M546.5 177.7h0M546.7 177.7h0M546.8 178h0M547 177.6h0M547.2 178h0M547.3 177.9h0M547.5 178.2h0M547.7 178.5h0M547.8 178.5h0M548 178.6h0M548.2 178.8h0M548.3 178.8h0M548.5 178.6h0M548.7 179h0M548.8 178.6h0" stroke="#2057bb" stroke-width="1.85" stroke-linecap="round"/>
<path d="M549 179.4h0M549.2 179.4h0M549.3 179.8h0M549.5 179.9h0M549.7 179.3h0M549.8 180h0M550 180.2h0M550.2 180.4h0M550.3 180.5h0M550.5 180.4h0M550.7 180.2h0M550.8 180.7h0M551 180.6h0M551.2 181h0M551.3 181.6h0M551.5 181.1h0M551.7 181.5h0M551.8 181.6h0M552 182.1h0M552.2 182.2h0M552.3 182.1h0M552.5 182.3h0M552.7 182.5h0" stroke="#2261c5" stroke-width="1.85" stroke-linecap="round"/>
<path d="M552.8 182.7h0M553 182.6h0M553.2 182.8h0M553.3 183.4h0M553.5 183.2h0M553.7 183.5h0M553.8 183.9h0M554 184h0M554.2 184h0M554.3 183.7h0M554.5 183.8h0M554.7 184.4h0M554.8 184.6h0M555 185.2h0M555.2 185.2h0M555.3 185.7h0M555.5 185h0M555.7 185.2h0M555.8 185.4h0M556 185.6h0M556.2 185.5h0M556.3 185.7h0" stroke="#256fcc" stroke-width="1.85" stroke-linecap="round"/>
<path d="M556.5 186h0M556.7 186.2h0M556.9 185.9h0M557 186.2h0M557.2 186.2h0M557.4 186.5h0M557.5 187h0M557.7 186.8h0M557.9 186.9h0M558 187.4h0M558.2 187.4h0M558.4 187.8h0M558.5 187.6h0M558.7 188.2h0M558.9 188.3h0M559 187.9h0M559.2 188.3h0M559.4 188.4h0M559.5 188.9h0M559.7 188.9h0M559.9 188.9h0M560 189.1h0M560.2 189.2h0" stroke="#2780d3" stroke-width="1.85" stroke-linecap="round"/>
<path d="M560.4 190.1h0M560.5 189.6h0M560.7 190.2h0M560.9 190.3h0M561 190.9h0M561.2 190.5h0M561.4 191h0M561.5 190.8h0M561.7 191.6h0M561.9 191.3h0M562 191.8h0M562.2 192h0M562.4 192h0M562.5 192.5h0M562.7 192.4h0M562.9 192.3h0M563 192.7h0M563.2 192.7h0M563.4 193.2h0M563.5 192.9h0M563.7 193.4h0M563.9 193.4h0" stroke="#2a90d9" stroke-width="1.85" stroke-linecap="round"/>
<path d="M564 192.9h0M564.2 193.4h0M564.4 193.5h0M564.5 193.6h0M564.7 194.1h0M564.9 193.7h0M565 193.3h0M565.2 194h0M565.4 194h0M565.5 193.7h0M565.7 194h0M565.9 193.5h0M566 194h0M566.2 194.1h0M566.4 194.2h0M566.5 194.4h0M566.7 194.1h0M566.9 194.2h0M567 194.2h0M567.2 194.9h0M567.4 194.4h0M567.6 194.9h0M567.7 194.7h0" stroke="#2ca0df" stroke-width="1.85" stroke-linecap="round"/>
<path d="M567.9 194.6h0M568.1 195.3h0M568.2 195.3h0M568.4 195.3h0M568.6 195.2h0M568.7 195.3h0M568.9 195.9h0M569.1 195.6h0M569.2 195.7h0M569.4 195.9h0M569.6 196.1h0M569.7 196.5h0M569.9 196.6h0M570.1 196.6h0M570.2 196.7h0M570.4 196.7h0M570.6 197.2h0M570.7 197.9h0M570.9 197.3h0M571.1 197.3h0M571.2 198.3h0M571.4 197.4h0" stroke="#35aadc" stroke-width="1.85" stroke-linecap="round"/>
<path d="M571.6 198.2h0M571.7 198.6h0M571.9 198.8h0M572.1 199.2h0M572.2 199.4h0M572.4 199.4h0M572.6 199.7h0M572.7 200.2h0M572.9 200.8h0M573.1 200.4h0M573.2 200.6h0M573.4 201.5h0M573.6 201.4h0M573.7 201.6h0M573.9 202.3h0M574.1 202.3h0M574.2 203.1h0M574.4 203.6h0M574.6 202.9h0M574.7 203.5h0M574.9 204h0M575.1 204h0M575.2 204.7h0" stroke="#40b2d4" stroke-width="1.85" stroke-linecap="round"/>
<path d="M575.4 204.8h0M575.6 205.3h0M575.7 205.2h0M575.9 205.2h0M576.1 205.2h0M576.2 206.1h0M576.4 206.5h0M576.6 206.3h0M576.7 206.8h0M576.9 206.7h0M577.1 207.1h0M577.2 207.3h0M577.4 208.1h0M577.6 207.7h0M577.7 207.7h0M577.9 207.7h0M578.1 208.3h0M578.3 208.4h0M578.4 208.6h0M578.6 209h0M578.8 209.2h0M578.9 209.6h0" stroke="#4bb9cd" stroke-width="1.85" stroke-linecap="round"/>
<path d="M579.1 209.4h0M579.3 209.9h0M579.4 210h0M579.6 209.7h0M579.8 209.7h0M579.9 210h0M580.1 210.5h0M580.3 210.5h0M580.4 210.3h0M580.6 210.4h0M580.8 210.4h0M580.9 210.8h0M581.1 211.2h0M581.3 210.6h0M581.4 210.9h0M581.6 211.3h0M581.8 211.2h0M581.9 211.1h0M582.1 211.7h0M582.3 211h0M582.4 211.9h0M582.6 212h0M582.8 211.4h0" stroke="#57c1c5" stroke-width="1.85" stroke-linecap="round"/>
<path d="M582.9 211.5h0M583.1 212.1h0M583.3 211.9h0M583.4 211.8h0M583.6 212.6h0M583.8 212.2h0M583.9 211.7h0M584.1 212.1h0M584.3 212.1h0M584.4 212.4h0M584.6 212.8h0M584.8 212.5h0M584.9 213.2h0M585.1 212.2h0M585.3 213h0M585.4 212.3h0M585.6 213.3h0M585.8 213.3h0M585.9 213.5h0M586.1 213.4h0M586.3 213.5h0M586.4 213.5h0" stroke="#61c4b4" stroke-width="1.85" stroke-linecap="round"/>
<path d="M586.6 213.9h0M586.8 213.8h0M586.9 214.1h0M587.1 213.9h0M587.3 214.3h0M587.4 214.5h0M587.6 214.4h0M587.8 214.8h0M587.9 214.8h0M588.1 215h0M588.3 215.4h0M588.4 215.4h0M588.6 215.6h0M588.8 215.3h0M589 215.6h0M589.1 216.1h0M589.3 216.2h0M589.5 216.3h0M589.6 216.7h0M589.8 216.6h0M590 217h0M590.1 216.9h0M590.3 218h0" stroke="#6bc59f" stroke-width="1.85" stroke-linecap="round"/>
<path d="M590.5 217.3h0M590.6 217.5h0M590.8 217.8h0M591 218.5h0M591.1 218.3h0M591.3 218h0M591.5 218.3h0M591.6 218.7h0M591.8 219.3h0M592 219.3h0M592.1 219.6h0M592.3 219.5h0M592.5 219.5h0M592.6 220.2h0M592.8 220.2h0M593 220h0M593.1 220.3h0M593.3 221.3h0M593.5 221.4h0M593.6 221.4h0M593.8 221.7h0M594 222.2h0" stroke="#75c68a" stroke-width="1.85" stroke-linecap="round"/>
<path d="M594.1 222.5h0M594.3 222.6h0M594.5 222.7h0M594.6 222.8h0M594.8 223.6h0M595 223.7h0M595.1 224h0M595.3 223.9h0M595.5 224.6h0M595.6 224.8h0M595.8 225.5h0M596 225.9h0M596.1 225.5h0M596.3 226h0M596.5 226.5h0M596.6 226.4h0M596.8 227.1h0M597 227.4h0M597.1 228h0M597.3 228.2h0M597.5 228.1h0M597.6 229.1h0" stroke="#7fc874" stroke-width="1.85" stroke-linecap="round"/>
<path d="M597.8 229.5h0M598 229.9h0M598.1 230.3h0M598.3 230.5h0M598.5 231h0M598.6 231.7h0M598.8 232.1h0M599 232.1h0M599.1 232.9h0M599.3 232.8h0M599.5 233.7h0M599.7 233.8h0M599.8 234.2h0M600 234.8h0M600.2 235.6h0M600.3 236.1h0M600.5 236.9h0M600.7 237h0M600.8 237.2h0M601 237.6h0M601.2 238.5h0M601.3 239.2h0M601.5 239.9h0" stroke="#91cb61" stroke-width="1.85" stroke-linecap="round"/>
<path d="M601.7 240.3h0M601.8 240.7h0M602 241.8h0M602.2 242.5h0M602.3 242.9h0M602.5 242.9h0M602.7 243.4h0M602.8 244.5h0M603 244.9h0M603.2 245.4h0M603.3 246.1h0M603.5 246.5h0M603.7 246.8h0M603.8 247.5h0M604 248.2h0M604.2 249.3h0M604.3 249.6h0M604.5 249.5h0M604.7 250.5h0M604.8 251h0M605 251.3h0M605.2 251.9h0" stroke="#a7d04e" stroke-width="1.85" stroke-linecap="round"/>
<path d="M605.3 252.7h0M605.5 253.2h0M605.7 252.7h0M605.8 253.2h0M606 253.6h0M606.2 253.8h0M606.3 254.2h0M606.5 254.5h0M606.7 255h0M606.8 255.1h0M607 255.2h0M607.2 255.6h0M607.3 256h0M607.5 256h0M607.7 256.3h0M607.8 256.6h0M608 257.3h0M608.2 256.8h0M608.3 256.6h0M608.5 257h0M608.7 257.4h0M608.8 257.4h0M609 258.1h0" stroke="#bdd53b" stroke-width="1.85" stroke-linecap="round"/>
<path d="M609.2 257.9h0M609.3 257.9h0M609.5 258.2h0M609.7 257.9h0M609.8 258.3h0M610 258.9h0M610.2 258.5h0M610.4 259h0M610.5 258.8h0M610.7 258.8h0M610.9 259.5h0M611 259.7h0M611.2 259.3h0M611.4 259.5h0M611.5 260h0M611.7 259.8h0M611.9 260.2h0M612 259.7h0M612.2 260.2h0M612.4 260h0M612.5 260.3h0M612.7 260.9h0" stroke="#d1d72d" stroke-width="1.85" stroke-linecap="round"/>
<path d="M612.9 261.2h0M613 260.6h0M613.2 260.6h0M613.4 260.9h0M613.5 260.6h0M613.7 261.2h0M613.9 261.1h0M614 261.3h0M614.2 261.4h0M614.4 261.1h0M614.5 261.8h0M614.7 262h0M614.9 261.5h0M615 262.1h0M615.2 261.9h0M615.4 261.6h0M615.5 261.7h0M615.7 262.4h0M615.9 262.2h0M616 262.6h0M616.2 262.8h0M616.4 262.8h0M616.5 262.8h0" stroke="#e4d722" stroke-width="1.85" stroke-linecap="round"/>
<path d="M616.7 263.3h0M616.9 263h0M617 263.2h0M617.2 263.7h0M617.4 263.7h0M617.5 264.4h0M617.7 263.5h0M617.9 263.7h0M618 264.1h0M618.2 263.9h0M618.4 264.7h0M618.5 264.9h0M618.7 265.2h0M618.9 265h0M619 265h0M619.2 265.3h0M619.4 265.5h0M619.5 265.6h0M619.7 266.4h0M619.9 265.8h0M620 265.7h0M620.2 265.7h0" stroke="#f5d519" stroke-width="1.85" stroke-linecap="round"/>
<path d="M620.4 266.3h0M620.5 266.5h0M620.7 267.1h0M620.9 266.9h0M621.1 267h0M621.2 267.8h0M621.4 267.5h0M621.6 267.6h0M621.7 267.9h0M621.9 268.3h0M622.1 268.4h0M622.2 268.5h0M622.4 269.4h0M622.6 268.8h0M622.7 268.5h0M622.9 269.3h0M623.1 268.8h0M623.2 269.2h0M623.4 269.7h0M623.6 269.6h0M623.7 269.9h0M623.9 269.9h0M624.1 270.1h0" stroke="#f3c01b" stroke-width="1.85" stroke-linecap="round"/>
<path d="M624.2 270.2h0M624.4 270.3h0M624.6 270.9h0M624.7 270.6h0M624.9 270.8h0M625.1 270.9h0M625.2 271.6h0M625.4 271.3h0M625.6 271.3h0M625.7 271.3h0M625.9 271.3h0M626.1 272.2h0M626.2 271.8h0M626.4 271.4h0M626.6 272.2h0M626.7 271.8h0M626.9 272.2h0M627.1 272.2h0M627.2 272.4h0M627.4 271.9h0M627.6 272.1h0M627.7 272.3h0" stroke="#f2ab1c" stroke-width="1.85" stroke-linecap="round"/>
<path d="M627.9 272.9h0M628.1 272.2h0M628.2 272.9h0M628.4 273.2h0M628.6 272.5h0M628.7 273.1h0M628.9 273.3h0M629.1 273.4h0M629.2 273.6h0M629.4 273.3h0M629.6 273.5h0M629.7 273.9h0M629.9 273.9h0M630.1 273.6h0M630.2 274.1h0M630.4 273.8h0M630.6 274.1h0M630.7 274.2h0M630.9 274.1h0M631.1 274.3h0M631.2 274.3h0M631.4 274.4h0M631.6 274.7h0" stroke="#f1961d" stroke-width="1.85" stroke-linecap="round"/>
<path d="M631.8 274.8h0M631.9 275h0M632.1 274.6h0M632.3 275.1h0M632.4 274.9h0M632.6 275.1h0M632.8 275.2h0M632.9 274.7h0M633.1 275.4h0M633.3 275.5h0M633.4 275.3h0M633.6 275.1h0M633.8 275.4h0M633.9 275.5h0M634.1 276h0M634.3 275.3h0M634.4 276.1h0M634.6 275.9h0M634.8 276h0M634.9 275.9h0M635.1 275.6h0M635.3 276h0" stroke="#ee801e" stroke-width="1.85" stroke-linecap="round"/>
<path d="M635.4 275.9h0M635.6 275.9h0M635.8 276h0M635.9 275.8h0M636.1 276.4h0M636.3 276.6h0M636.4 276.3h0M636.6 276.2h0M636.8 276.5h0M636.9 276.3h0M637.1 276.7h0M637.3 276.4h0M637.4 276.5h0M637.6 276.5h0M637.8 276.4h0M637.9 276.8h0M638.1 277.5h0M638.3 277h0M638.4 277h0M638.6 277.1h0M638.8 276.7h0M638.9 277.1h0M639.1 277.1h0" stroke="#e9671e" stroke-width="1.85" stroke-linecap="round"/>
<path d="M639.3 277.3h0M639.4 277.1h0M639.6 277.1h0M639.8 277.2h0M639.9 277.5h0M640.1 277.4h0M640.3 277.2h0M640.4 277.4h0M640.6 277.6h0M640.8 277.7h0M640.9 277.5h0M641.1 278.1h0M641.3 278.1h0M641.4 277.9h0M641.6 277.8h0M641.8 277.7h0M641.9 278h0M642.1 278.5h0M642.3 278.5h0M642.5 278.3h0M642.6 278.7h0M642.8 278.5h0" stroke="#e44d1e" stroke-width="1.85" stroke-linecap="round"/>
<path d="M643 278.5h0M643.1 278.9h0M643.3 278.7h0M643.5 278.9h0M643.6 278.7h0M643.8 279.3h0M644 278.8h0M644.1 279.7h0M644.3 279.2h0M644.5 279.6h0M644.6 279.8h0M644.8 279.7h0M645 279.8h0M645.1 280h0M645.3 280.4h0M645.5 280.4h0M645.6 280.5h0M645.8 280.2h0M646 280h0M646.1 280.7h0M646.3 281h0M646.5 281.2h0M646.6 280.7h0" stroke="#df341e" stroke-width="1.85" stroke-linecap="round"/>
<path d="M646.8 281.6h0M647 281.5h0M647.1 281.4h0M647.3 281.7h0M647.5 282.2h0M647.6 282.1h0M647.8 282.3h0M648 282.7h0M648.1 282.7h0M648.3 283h0M648.5 282.8h0M648.6 283.2h0M648.8 283.3h0M649 283.4h0M649.1 284h0M649.3 283.5h0M649.5 283.9h0M649.6 283.6h0M649.8 284h0M650 283.9h0M650.1 284.5h0M650.3 284.4h0" stroke="#d6261d" stroke-width="1.85" stroke-linecap="round"/>
<path d="M650.5 284.6h0M650.6 284.7h0M650.8 284.8h0M651 284.4h0M651.1 284.6h0M651.3 285h0M651.5 284.9h0M651.6 285.1h0M651.8 285.3h0M652 285h0M652.1 285.5h0M652.3 285.6h0M652.5 285.7h0M652.6 285.7h0M652.8 285.8h0M653 285.6h0M653.2 285.7h0M653.3 286.4h0M653.5 286.6h0M653.7 286.1h0M653.8 286.5h0M654 286.4h0M654.2 286.6h0" stroke="#c9211c" stroke-width="1.85" stroke-linecap="round"/>
<path d="M654.3 286.1h0M654.5 286.5h0M654.7 287.1h0M654.8 286.6h0M655 286.7h0M655.2 287.4h0M655.3 286.9h0M655.5 286.6h0M655.7 286.8h0M655.8 286.6h0M656 286.7h0M656.2 287.2h0M656.3 287h0M656.5 286.7h0M656.7 287.2h0M656.8 287.2h0M657 287.2h0M657.2 287.6h0M657.3 287.5h0M657.5 287.4h0M657.7 287.6h0M657.8 287.5h0" stroke="#bd1c1a" stroke-width="1.85" stroke-linecap="round"/>
<path d="M658 287.3h0M658.2 287.6h0M658.3 287.8h0M658.5 287.5h0M658.7 287.7h0M658.8 287.3h0M659 287.6h0M659.2 287.9h0M659.3 288.1h0M659.5 287.7h0M659.7 287.3h0M659.8 288.2h0M660 288h0M660.2 288.2h0M660.3 287.8h0M660.5 288h0M660.7 288.1h0M660.8 288.2h0M661 288.1h0M661.2 288.2h0M661.3 288.1h0M661.5 288.4h0M661.7 288.6h0" stroke="#ae1818" stroke-width="1.85" stroke-linecap="round"/>
<path d="M661.8 288.5h0M662 288.2h0M662.2 288.5h0M662.3 288.6h0M662.5 288.3h0M662.7 289.1h0M662.8 288.8h0M663 288.6h0M663.2 289h0M663.3 288.3h0M663.5 288.8h0M663.7 288.5h0M663.9 288.5h0M664 288.7h0M664.2 289h0M664.4 288.8h0M664.5 288.9h0M664.7 288.9h0M664.9 288.9h0M665 288.5h0M665.2 288.5h0M665.4 288.6h0" stroke="#981717" stroke-width="1.85" stroke-linecap="round"/>
<path d="M665.5 289h0M665.7 288.5h0M665.9 289.1h0M666 288.9h0M666.2 288.9h0M666.4 288.6h0M666.5 288.9h0M666.7 289.1h0M666.9 288.8h0M667 288.9h0M667.2 288.7h0M667.4 288.9h0M667.5 289h0M667.7 289.2h0M667.9 288.8h0M668 289.1h0M668.2 289.2h0M668.4 288.9h0M668.5 289.2h0M668.7 288.8h0M668.9 289.4h0M669 289.1h0M669.2 288.9h0" stroke="#831515" stroke-width="1.85" stroke-linecap="round"/>
<path d="M686.5 170V288.9H836.9" stroke="#a0a0a0" stroke-width="1.2" fill="none"/>
<text transform="translate(684.7 177) scale(.5)" class="e">0.4</text>
<text transform="translate(684.7 190.8) scale(.5)" class="e">0.3</text>
<text transform="translate(684.7 204.5) scale(.5)" class="e">0.2</text>
<text transform="translate(684.7 218.2) scale(.5)" class="e">0.1</text>
<text transform="translate(684.7 231.9) scale(.5)" class="e">0</text>
<text transform="translate(684.7 245.7) scale(.5)" class="e">-0.1</text>
<text transform="translate(684.7 259.4) scale(.5)" class="e">-0.2</text>
<text transform="translate(684.7 273.1) scale(.5)" class="e">-0.3</text>
<text transform="translate(684.7 286.9) scale(.5)" class="e">-0.4</text>
<text transform="translate(701.1 295.1) scale(.5)" class="m">100</text>
<text transform="translate(716.2 295.1) scale(.5)" class="m">200</text>
<text transform="translate(731.3 295.1) scale(.5)" class="m">300</text>
<text transform="translate(746.4 295.1) scale(.5)" class="m">400</text>
<text transform="translate(761.5 295.1) scale(.5)" class="m">500</text>
<text transform="translate(776.6 295.1) scale(.5)" class="m">600</text>
<text transform="translate(791.7 295.1) scale(.5)" class="m">700</text>
<text transform="translate(806.8 295.1) scale(.5)" class="m">800</text>
<text transform="translate(821.9 295.1) scale(.5)" class="m">900</text>
<text transform="translate(837 295.1) scale(.5)" class="m">1000</text>
<path d="M686.5 175.4h1.5M686.5 189.2h1.5M686.5 202.9h1.5M686.5 216.6h1.5M686.5 230.3h1.5M686.5 244.1h1.5M686.5 257.8h1.5M686.5 271.5h1.5M686.5 285.3h1.5M701.1 288.9v-1.5M716.2 288.9v-1.5M731.3 288.9v-1.5M746.4 288.9v-1.5M761.5 288.9v-1.5M776.6 288.9v-1.5M791.7 288.9v-1.5M806.8 288.9v-1.5M821.9 288.9v-1.5M837 288.9v-1.5" stroke="#a0a0a0" stroke-width="0.7"/>
<path d="M686 288.6h0M686.2 288.5h0M686.3 288.7h0M686.5 288.5h0M686.6 288.4h0M686.8 288.6h0M686.9 288.3h0M687.1 288.5h0M687.2 288.4h0M687.4 288.6h0M687.5 288.6h0M687.7 288.4h0M687.8 288.5h0M688 288.2h0M688.1 288.3h0M688.3 288.1h0M688.4 288.2h0M688.6 288.2h0M688.7 288.1h0M688.9 288.5h0M689 287.9h0M689.2 288.1h0M689.3 287.8h0M689.5 288.3h0M689.6 287.9h0" stroke="#112173" stroke-width="1.85" stroke-linecap="round"/>
<path d="M689.8 287.7h0M689.9 287.7h0M690.1 288.2h0M690.2 287.8h0M690.4 287.5h0M690.5 287.4h0M690.7 287.7h0M690.8 287.7h0M691 287.4h0M691.1 287.4h0M691.3 287.8h0M691.4 287.4h0M691.6 287h0M691.7 287.4h0M691.9 287.3h0M692 287.2h0M692.2 286.9h0M692.3 287h0M692.5 287.4h0M692.7 287.1h0M692.8 286.9h0M693 286.5h0M693.1 287.1h0M693.3 286.7h0M693.4 286.9h0" stroke="#13277e" stroke-width="1.85" stroke-linecap="round"/>
<path d="M693.6 287.1h0M693.7 286.3h0M693.9 286.8h0M694 287.1h0M694.2 286.5h0M694.3 286.7h0M694.5 286.5h0M694.6 286.3h0M694.8 286.2h0M694.9 286h0M695.1 286.6h0M695.2 286.4h0M695.4 286.2h0M695.5 285.9h0M695.7 286.3h0M695.8 285.8h0M696 285.7h0M696.1 285.8h0M696.3 285.4h0M696.4 286.1h0M696.6 285.6h0M696.7 285.7h0M696.9 285.3h0M697 285.7h0M697.2 285.6h0" stroke="#152e88" stroke-width="1.85" stroke-linecap="round"/>
<path d="M697.3 285.7h0M697.5 285.7h0M697.6 285.4h0M697.8 285h0M697.9 285h0M698.1 285.2h0M698.2 285.1h0M698.4 285h0M698.5 285.1h0M698.7 284.8h0M698.8 285h0M699 284.8h0M699.2 285h0M699.3 284.6h0M699.5 285h0M699.6 284.4h0M699.8 284.5h0M699.9 284.2h0M700.1 284.2h0M700.2 284.3h0M700.4 284.5h0M700.5 284.4h0M700.7 284.2h0M700.8 283.7h0M701 283.9h0" stroke="#173492" stroke-width="1.85" stroke-linecap="round"/>
<path d="M701.1 283.8h0M701.3 283.9h0M701.4 283.9h0M701.6 283.4h0M701.7 283.2h0M701.9 283.4h0M702 283.7h0M702.2 283.5h0M702.3 282.7h0M702.5 283.1h0M702.6 283h0M702.8 283h0M702.9 283.3h0M703.1 282.5h0M703.2 282.8h0M703.4 282.6h0M703.5 282.4h0M703.7 282.4h0M703.8 282h0M704 282h0M704.1 281.7h0M704.3 282h0M704.4 282h0M704.6 281.9h0M704.7 281.7h0" stroke="#183a9d" stroke-width="1.85" stroke-linecap="round"/>
<path d="M704.9 281.4h0M705 281.5h0M705.2 281.6h0M705.3 281.3h0M705.5 281.3h0M705.6 281.4h0M705.8 281.1h0M706 280.8h0M706.1 280.8h0M706.3 280.9h0M706.4 280.4h0M706.6 280.2h0M706.7 280.3h0M706.9 280.4h0M707 280.4h0M707.2 280.4h0M707.3 280h0M707.5 279.9h0M707.6 280h0M707.8 279.9h0M707.9 279.6h0M708.1 279.7h0M708.2 279.5h0M708.4 279.3h0M708.5 279.3h0" stroke="#1b43a7" stroke-width="1.85" stroke-linecap="round"/>
<path d="M708.7 279.2h0M708.8 279.2h0M709 278.5h0M709.1 278.8h0M709.3 278.7h0M709.4 278.5h0M709.6 278.3h0M709.7 278.3h0M709.9 278.5h0M710 278.3h0M710.2 278.2h0M710.3 278.3h0M710.5 278.4h0M710.6 277.7h0M710.8 277.7h0M710.9 277.5h0M711.1 277.3h0M711.2 277.5h0M711.4 277.4h0M711.5 277.2h0M711.7 276.9h0M711.8 277h0M712 276.8h0M712.1 276.8h0M712.3 277.2h0" stroke="#1d4db1" stroke-width="1.85" stroke-linecap="round"/>
<path d="M712.5 276.6h0M712.6 276.4h0M712.8 276h0M712.9 276.4h0M713.1 276.3h0M713.2 275.7h0M713.4 275.7h0M713.5 275.8h0M713.7 276h0M713.8 275.5h0M714 275.2h0M714.1 275.4h0M714.3 275.6h0M714.4 275.2h0M714.6 275.2h0M714.7 275.2h0M714.9 274.7h0M715 274.8h0M715.2 274.4h0M715.3 274.5h0M715.5 274.4h0M715.6 274.3h0M715.8 274.6h0M715.9 274.1h0M716.1 274.3h0" stroke="#2057bb" stroke-width="1.85" stroke-linecap="round"/>
<path d="M716.2 273.7h0M716.4 273.7h0M716.5 273.7h0M716.7 273.4h0M716.8 273.7h0M717 273.4h0M717.1 272.9h0M717.3 273.5h0M717.4 273h0M717.6 272.9h0M717.7 272.1h0M717.9 272.4h0M718 272.5h0M718.2 272.2h0M718.3 272.2h0M718.5 272.3h0M718.6 272h0M718.8 272h0M719 271.6h0M719.1 271.6h0M719.3 271.9h0M719.4 271.4h0M719.6 271.2h0M719.7 271.3h0M719.9 271h0" stroke="#2261c5" stroke-width="1.85" stroke-linecap="round"/>
<path d="M720 271.2h0M720.2 270.7h0M720.3 271h0M720.5 270.7h0M720.6 270.3h0M720.8 270.6h0M720.9 270.3h0M721.1 270.1h0M721.2 270.1h0M721.4 270.2h0M721.5 269.8h0M721.7 269.4h0M721.8 269.4h0M722 269.6h0M722.1 269.2h0M722.3 269.4h0M722.4 269.2h0M722.6 269h0M722.7 268.9h0M722.9 269.2h0M723 268.9h0M723.2 268.7h0M723.3 268.7h0M723.5 268.4h0M723.6 268.4h0" stroke="#256fcc" stroke-width="1.85" stroke-linecap="round"/>
<path d="M723.8 268.2h0M723.9 267.7h0M724.1 267.6h0M724.2 267.7h0M724.4 267.6h0M724.5 267.4h0M724.7 267.3h0M724.8 267.3h0M725 267.3h0M725.1 266.9h0M725.3 266.8h0M725.5 266.8h0M725.6 266.4h0M725.8 266.3h0M725.9 265.9h0M726.1 266.2h0M726.2 265.7h0M726.4 265.9h0M726.5 265.6h0M726.7 265.4h0M726.8 265.4h0M727 265.4h0M727.1 264.7h0M727.3 264.9h0M727.4 265.2h0" stroke="#2780d3" stroke-width="1.85" stroke-linecap="round"/>
<path d="M727.6 264.2h0M727.7 264.8h0M727.9 264.2h0M728 264.2h0M728.2 264.4h0M728.3 264.2h0M728.5 263.7h0M728.6 263.9h0M728.8 263.4h0M728.9 263.4h0M729.1 262.9h0M729.2 263h0M729.4 262.8h0M729.5 262.3h0M729.7 262.4h0M729.8 262.4h0M730 262.4h0M730.1 262.4h0M730.3 261.9h0M730.4 261.8h0M730.6 261.7h0M730.7 261.4h0M730.9 261.1h0M731 261.1h0M731.2 260.9h0" stroke="#2a90d9" stroke-width="1.85" stroke-linecap="round"/>
<path d="M731.3 260.6h0M731.5 260.4h0M731.6 260.1h0M731.8 260.5h0M731.9 260h0M732.1 259.7h0M732.3 259.8h0M732.4 259.5h0M732.6 259.4h0M732.7 259.8h0M732.9 259.5h0M733 258.5h0M733.2 259.2h0M733.3 258.8h0M733.5 258.6h0M733.6 258.3h0M733.8 258.1h0M733.9 258h0M734.1 257.9h0M734.2 258h0M734.4 258h0M734.5 257.5h0M734.7 257.5h0M734.8 256.9h0M735 257.2h0" stroke="#2ca0df" stroke-width="1.85" stroke-linecap="round"/>
<path d="M735.1 257.2h0M735.3 256.8h0M735.4 256.5h0M735.6 256.6h0M735.7 255.8h0M735.9 256.3h0M736 256.3h0M736.2 256h0M736.3 255.8h0M736.5 255.8h0M736.6 255.5h0M736.8 255.5h0M736.9 255.3h0M737.1 255.3h0M737.2 254.5h0M737.4 255h0M737.5 254.9h0M737.7 254.8h0M737.8 254.7h0M738 254.4h0M738.1 254.3h0M738.3 253.9h0M738.4 254.1h0M738.6 253.9h0M738.8 253.8h0" stroke="#35aadc" stroke-width="1.85" stroke-linecap="round"/>
<path d="M738.9 253.5h0M739.1 253.6h0M739.2 253.5h0M739.4 253.4h0M739.5 252.8h0M739.7 253h0M739.8 252.8h0M740 252.6h0M740.1 252.5h0M740.3 252.6h0M740.4 252.5h0M740.6 252h0M740.7 251.8h0M740.9 251.7h0M741 251.5h0M741.2 251.1h0M741.3 251.3h0M741.5 251h0M741.6 251.4h0M741.8 251.1h0M741.9 250.5h0M742.1 250.9h0M742.2 250.6h0M742.4 250.9h0M742.5 250h0" stroke="#40b2d4" stroke-width="1.85" stroke-linecap="round"/>
<path d="M742.7 249.8h0M742.8 249.7h0M743 249.9h0M743.1 249.7h0M743.3 249.5h0M743.4 248.6h0M743.6 249.2h0M743.7 249.2h0M743.9 249h0M744 248.6h0M744.2 248.7h0M744.3 248.6h0M744.5 248h0M744.6 248h0M744.8 248.2h0M744.9 247.7h0M745.1 247.8h0M745.3 247.7h0M745.4 247.4h0M745.6 246.8h0M745.7 246.9h0M745.9 246.8h0M746 246.8h0M746.2 246.9h0M746.3 246.7h0" stroke="#4bb9cd" stroke-width="1.85" stroke-linecap="round"/>
<path d="M746.5 246.4h0M746.6 246.1h0M746.8 246h0M746.9 245.8h0M747.1 245.6h0M747.2 245.8h0M747.4 244.9h0M747.5 245h0M747.7 245h0M747.8 244.9h0M748 244.8h0M748.1 244.7h0M748.3 244h0M748.4 243.9h0M748.6 243.6h0M748.7 243.7h0M748.9 243.2h0M749 243.2h0M749.2 243.3h0M749.3 242.8h0M749.5 242.5h0M749.6 243.1h0M749.8 242.5h0M749.9 242.1h0M750.1 242.1h0" stroke="#57c1c5" stroke-width="1.85" stroke-linecap="round"/>
<path d="M750.2 241.8h0M750.4 241.8h0M750.5 241.6h0M750.7 241.4h0M750.8 241.2h0M751 241.8h0M751.1 241.1h0M751.3 240.8h0M751.4 241h0M751.6 240.4h0M751.8 240.4h0M751.9 239.8h0M752.1 239.7h0M752.2 240h0M752.4 239.7h0M752.5 239.7h0M752.7 239.6h0M752.8 239.1h0M753 238.9h0M753.1 238.7h0M753.3 238.9h0M753.4 238.6h0M753.6 238.2h0M753.7 238.1h0M753.9 238.3h0" stroke="#61c4b4" stroke-width="1.85" stroke-linecap="round"/>
<path d="M754 238.1h0M754.2 237.6h0M754.3 237.3h0M754.5 237.5h0M754.6 237.3h0M754.8 237.3h0M754.9 236.8h0M755.1 237h0M755.2 236.7h0M755.4 236.6h0M755.5 236.1h0M755.7 236.3h0M755.8 235.8h0M756 235.8h0M756.1 235.8h0M756.3 235.5h0M756.4 235.7h0M756.6 235.1h0M756.7 234.6h0M756.9 234.9h0M757 234.4h0M757.2 234.5h0M757.3 234.4h0M757.5 234.1h0M757.6 234.1h0" stroke="#6bc59f" stroke-width="1.85" stroke-linecap="round"/>
<path d="M757.8 233.2h0M757.9 234h0M758.1 233.5h0M758.3 233.1h0M758.4 233.3h0M758.6 232.9h0M758.7 233.1h0M758.9 232.8h0M759 232.3h0M759.2 232.1h0M759.3 232.1h0M759.5 232h0M759.6 231.9h0M759.8 231.3h0M759.9 231.3h0M760.1 231.4h0M760.2 230.8h0M760.4 231h0M760.5 230.6h0M760.7 230.4h0M760.8 230h0M761 230.2h0M761.1 230h0M761.3 229.6h0M761.4 229.7h0" stroke="#75c68a" stroke-width="1.85" stroke-linecap="round"/>
<path d="M761.6 229.2h0M761.7 229.2h0M761.9 229.3h0M762 228.7h0M762.2 228.6h0M762.3 228.5h0M762.5 228.1h0M762.6 228h0M762.8 228.3h0M762.9 227.7h0M763.1 227.5h0M763.2 227.3h0M763.4 226.9h0M763.5 227.1h0M763.7 226.9h0M763.8 226.7h0M764 226.3h0M764.1 225.9h0M764.3 226h0M764.4 225.6h0M764.6 225h0M764.7 225.6h0M764.9 225h0M765.1 224.8h0M765.2 224.6h0" stroke="#7fc874" stroke-width="1.85" stroke-linecap="round"/>
<path d="M765.4 224.4h0M765.5 224.1h0M765.7 224h0M765.8 224.2h0M766 223.8h0M766.1 223.3h0M766.3 223h0M766.4 223.3h0M766.6 223h0M766.7 222.8h0M766.9 222.6h0M767 222.6h0M767.2 222.5h0M767.3 222.1h0M767.5 221.9h0M767.6 221.2h0M767.8 221.5h0M767.9 221.5h0M768.1 221.1h0M768.2 221.1h0M768.4 220.2h0M768.5 220.5h0M768.7 220.2h0M768.8 220h0M769 220.1h0" stroke="#91cb61" stroke-width="1.85" stroke-linecap="round"/>
<path d="M769.1 219.9h0M769.3 219.4h0M769.4 219.6h0M769.6 219.1h0M769.7 219h0M769.9 218.7h0M770 218.6h0M770.2 218.5h0M770.3 218.4h0M770.5 218.4h0M770.6 218h0M770.8 218h0M770.9 217.5h0M771.1 217.6h0M771.2 217h0M771.4 216.8h0M771.6 216.8h0M771.7 216.4h0M771.9 216.6h0M772 216.1h0M772.2 216.2h0M772.3 215.8h0M772.5 215.5h0M772.6 215.4h0M772.8 215.4h0" stroke="#a7d04e" stroke-width="1.85" stroke-linecap="round"/>
<path d="M772.9 215.2h0M773.1 214.9h0M773.2 214.8h0M773.4 214.5h0M773.5 214.5h0M773.7 214.5h0M773.8 214.2h0M774 213.7h0M774.1 213.5h0M774.3 213.4h0M774.4 213.3h0M774.6 213.3h0M774.7 212.6h0M774.9 212.9h0M775 213h0M775.2 212.6h0M775.3 212.5h0M775.5 212h0M775.6 212.4h0M775.8 211.6h0M775.9 211.9h0M776.1 211.5h0M776.2 210.9h0M776.4 210.9h0M776.5 211h0" stroke="#bdd53b" stroke-width="1.85" stroke-linecap="round"/>
<path d="M776.7 210.8h0M776.8 210.3h0M777 210.2h0M777.1 210.1h0M777.3 210.1h0M777.4 209.9h0M777.6 209.8h0M777.7 209.3h0M777.9 209.7h0M778.1 209.2h0M778.2 209.2h0M778.4 209.1h0M778.5 208.4h0M778.7 209.1h0M778.8 208.5h0M779 208.2h0M779.1 207.5h0M779.3 208h0M779.4 208.1h0M779.6 207.7h0M779.7 207.6h0M779.9 207.1h0M780 207h0M780.2 206.8h0M780.3 206.3h0" stroke="#d1d72d" stroke-width="1.85" stroke-linecap="round"/>
<path d="M780.5 206.3h0M780.6 206.4h0M780.8 206.4h0M780.9 206.5h0M781.1 205.8h0M781.2 205.8h0M781.4 205.8h0M781.5 205.3h0M781.7 205.3h0M781.8 205.2h0M782 205h0M782.1 205.3h0M782.3 204.3h0M782.4 204.4h0M782.6 204.6h0M782.7 204.3h0M782.9 204.1h0M783 204.1h0M783.2 203.5h0M783.3 203.8h0M783.5 203.8h0M783.6 203.3h0M783.8 203.1h0M783.9 202.8h0M784.1 202.7h0" stroke="#e4d722" stroke-width="1.85" stroke-linecap="round"/>
<path d="M784.2 203h0M784.4 202.6h0M784.6 202.3h0M784.7 202.2h0M784.9 202.4h0M785 201.9h0M785.2 201.9h0M785.3 201.6h0M785.5 201.7h0M785.6 201.3h0M785.8 201.1h0M785.9 201.2h0M786.1 201h0M786.2 200.9h0M786.4 201h0M786.5 200.7h0M786.7 200.5h0M786.8 200.2h0M787 200.1h0M787.1 200h0M787.3 200.1h0M787.4 199.7h0M787.6 199.6h0M787.7 199.8h0M787.9 199.6h0" stroke="#f5d519" stroke-width="1.85" stroke-linecap="round"/>
<path d="M788 199.7h0M788.2 198.7h0M788.3 199.1h0M788.5 198.6h0M788.6 198.8h0M788.8 198.3h0M788.9 198.4h0M789.1 198.4h0M789.2 198.2h0M789.4 197.9h0M789.5 197.7h0M789.7 197.9h0M789.8 197.5h0M790 197.5h0M790.1 197.3h0M790.3 197.2h0M790.4 196.9h0M790.6 196.3h0M790.7 196.6h0M790.9 196.5h0M791.1 196.1h0M791.2 196.4h0M791.4 196.5h0M791.5 196h0M791.7 196.1h0" stroke="#f3c01b" stroke-width="1.85" stroke-linecap="round"/>
<path d="M791.8 195.9h0M792 195.4h0M792.1 195.5h0M792.3 195.2h0M792.4 195.3h0M792.6 194.9h0M792.7 194.8h0M792.9 194.7h0M793 194.7h0M793.2 194.6h0M793.3 194.3h0M793.5 193.9h0M793.6 193.7h0M793.8 194.1h0M793.9 194h0M794.1 193.5h0M794.2 193.9h0M794.4 193.6h0M794.5 193.4h0M794.7 193h0M794.8 192.9h0M795 192.6h0M795.1 192.5h0M795.3 192.5h0M795.4 192.4h0" stroke="#f2ab1c" stroke-width="1.85" stroke-linecap="round"/>
<path d="M795.6 192h0M795.7 192.3h0M795.9 191.7h0M796 191.7h0M796.2 192h0M796.3 191.8h0M796.5 191.3h0M796.6 191.5h0M796.8 191h0M796.9 190.6h0M797.1 191.1h0M797.2 191.1h0M797.4 190.6h0M797.5 190.7h0M797.7 190.6h0M797.9 190.1h0M798 189.9h0M798.2 190h0M798.3 190.2h0M798.5 190.1h0M798.6 189.7h0M798.8 189.6h0M798.9 189.4h0M799.1 189.2h0M799.2 189.4h0" stroke="#f1961d" stroke-width="1.85" stroke-linecap="round"/>
<path d="M799.4 188.8h0M799.5 189h0M799.7 188.6h0M799.8 188.4h0M800 188.4h0M800.1 188.2h0M800.3 188.3h0M800.4 188.5h0M800.6 187.9h0M800.7 188.1h0M800.9 187.6h0M801 187.7h0M801.2 187.1h0M801.3 187.4h0M801.5 187.5h0M801.6 186.7h0M801.8 187h0M801.9 186.7h0M802.1 186.8h0M802.2 186.6h0M802.4 186.4h0M802.5 186.7h0M802.7 186.3h0M802.8 186.1h0M803 185.9h0" stroke="#ee801e" stroke-width="1.85" stroke-linecap="round"/>
<path d="M803.1 186h0M803.3 185.4h0M803.4 185.6h0M803.6 185.5h0M803.7 185.3h0M803.9 185.1h0M804 184.7h0M804.2 184.9h0M804.4 185.1h0M804.5 184.8h0M804.7 184.6h0M804.8 184.5h0M805 184.3h0M805.1 184.5h0M805.3 183.4h0M805.4 184h0M805.6 184.1h0M805.7 183.6h0M805.9 183.8h0M806 183.6h0M806.2 183.3h0M806.3 183.2h0M806.5 183h0M806.6 183h0M806.8 182.8h0" stroke="#e9671e" stroke-width="1.85" stroke-linecap="round"/>
<path d="M806.9 182.9h0M807.1 182.8h0M807.2 182.6h0M807.4 182.6h0M807.5 182.2h0M807.7 182.3h0M807.8 182.1h0M808 182.3h0M808.1 181.6h0M808.3 182.2h0M808.4 182.1h0M808.6 182h0M808.7 181.7h0M808.9 181.3h0M809 181.3h0M809.2 181.7h0M809.3 180.9h0M809.5 181.1h0M809.6 180.8h0M809.8 180.6h0M809.9 180.6h0M810.1 180.9h0M810.2 180.3h0M810.4 180.9h0M810.5 180.4h0" stroke="#e44d1e" stroke-width="1.85" stroke-linecap="round"/>
<path d="M810.7 180.5h0M810.9 180.1h0M811 180.3h0M811.2 180h0M811.3 180.1h0M811.5 179.7h0M811.6 179.6h0M811.8 179.9h0M811.9 179.6h0M812.1 179.3h0M812.2 179.4h0M812.4 179.6h0M812.5 179.2h0M812.7 179.5h0M812.8 179.3h0M813 178.8h0M813.1 179.1h0M813.3 178.9h0M813.4 179.1h0M813.6 178.8h0M813.7 178.8h0M813.9 178.4h0M814 178.5h0M814.2 178.4h0M814.3 178.3h0" stroke="#df341e" stroke-width="1.85" stroke-linecap="round"/>
<path d="M814.5 178h0M814.6 177.8h0M814.8 178.3h0M814.9 177.8h0M815.1 177.8h0M815.2 177.9h0M815.4 177.7h0M815.5 177.5h0M815.7 177.9h0M815.8 177.3h0M816 177.7h0M816.1 177.5h0M816.3 177.7h0M816.4 177.3h0M816.6 177.3h0M816.7 176.9h0M816.9 177h0M817 176.9h0M817.2 177h0M817.4 176.9h0M817.5 176.9h0M817.7 176.7h0M817.8 176.6h0M818 176.7h0M818.1 176.5h0" stroke="#d6261d" stroke-width="1.85" stroke-linecap="round"/>
<path d="M818.3 176.2h0M818.4 176.5h0M818.6 176.4h0M818.7 175.9h0M818.9 175.7h0M819 176h0M819.2 176.1h0M819.3 176h0M819.5 175.9h0M819.6 176h0M819.8 175.5h0M819.9 175.6h0M820.1 175.7h0M820.2 175.6h0M820.4 175.4h0M820.5 175.5h0M820.7 175.2h0M820.8 175.2h0M821 175.2h0M821.1 175.5h0M821.3 175.1h0M821.4 175.4h0M821.6 175.1h0M821.7 175.1h0M821.9 174.9h0" stroke="#c9211c" stroke-width="1.85" stroke-linecap="round"/>
<path d="M822 175.1h0M822.2 174.8h0M822.3 174.8h0M822.5 174.3h0M822.6 174.4h0M822.8 174.6h0M822.9 174.7h0M823.1 174.8h0M823.2 174.2h0M823.4 174.2h0M823.5 174h0M823.7 174.3h0M823.8 174.2h0M824 174.1h0M824.2 174h0M824.3 173.9h0M824.5 173.8h0M824.6 173.5h0M824.8 173.8h0M824.9 174h0M825.1 173.6h0M825.2 173.6h0M825.4 173.6h0M825.5 173.4h0M825.7 173.4h0" stroke="#bd1c1a" stroke-width="1.85" stroke-linecap="round"/>
<path d="M825.8 173.1h0M826 173.2h0M826.1 173.2h0M826.3 173.5h0M826.4 173.1h0M826.6 173h0M826.7 172.7h0M826.9 172.6h0M827 172.9h0M827.2 173.2h0M827.3 172.8h0M827.5 172.6h0M827.6 172.6h0M827.8 172.9h0M827.9 172.9h0M828.1 173.1h0M828.2 173h0M828.4 172.3h0M828.5 172.6h0M828.7 172.5h0M828.8 172.6h0M829 172.8h0M829.1 172.7h0M829.3 172.5h0M829.4 172.7h0" stroke="#ae1818" stroke-width="1.85" stroke-linecap="round"/>
<path d="M829.6 172.2h0M829.7 172.4h0M829.9 172.1h0M830 172.6h0M830.2 172.6h0M830.3 172.6h0M830.5 172.2h0M830.7 172.5h0M830.8 172.1h0M831 172h0M831.1 172.2h0M831.3 172.5h0M831.4 172.3h0M831.6 172h0M831.7 171.9h0M831.9 172h0M832 172.1h0M832.2 172.2h0M832.3 172h0M832.5 172.5h0M832.6 172.1h0M832.8 171.7h0M832.9 172.2h0M833.1 171.8h0M833.2 172.1h0" stroke="#981717" stroke-width="1.85" stroke-linecap="round"/>
<path d="M833.4 172h0M833.5 171.8h0M833.7 171.7h0M833.8 171.9h0M834 172h0M834.1 171.8h0M834.3 171.5h0M834.4 171.8h0M834.6 172.1h0M834.7 171.9h0M834.9 171.9h0M835 171.9h0M835.2 171.8h0M835.3 171.9h0M835.5 171.7h0M835.6 172.2h0M835.8 171.7h0M835.9 171.6h0M836.1 171.7h0M836.2 171.6h0M836.4 171.7h0M836.5 171.6h0M836.7 171.8h0M836.8 171.8h0M837 171.7h0" stroke="#831515" stroke-width="1.85" stroke-linecap="round"/>
<path d="M854 170V288.3H1005.2" stroke="#a0a0a0" stroke-width="1.2" fill="none"/>
<text transform="translate(852.2 178.5) scale(.5)" class="e">1.5</text>
<text transform="translate(852.2 195.4) scale(.5)" class="e">1</text>
<text transform="translate(852.2 212.3) scale(.5)" class="e">0.5</text>
<text transform="translate(852.2 229.2) scale(.5)" class="e">0</text>
<text transform="translate(852.2 246.1) scale(.5)" class="e">-0.5</text>
<text transform="translate(852.2 263) scale(.5)" class="e">-1</text>
<text transform="translate(852.2 279.9) scale(.5)" class="e">-1.5</text>
<text transform="translate(869 294.5) scale(.5)" class="m">100</text>
<text transform="translate(884.2 294.5) scale(.5)" class="m">200</text>
<text transform="translate(899.3 294.5) scale(.5)" class="m">300</text>
<text transform="translate(914.4 294.5) scale(.5)" class="m">400</text>
<text transform="translate(929.5 294.5) scale(.5)" class="m">500</text>
<text transform="translate(944.7 294.5) scale(.5)" class="m">600</text>
<text transform="translate(959.8 294.5) scale(.5)" class="m">700</text>
<text transform="translate(974.9 294.5) scale(.5)" class="m">800</text>
<text transform="translate(990.1 294.5) scale(.5)" class="m">900</text>
<text transform="translate(1005.2 294.5) scale(.5)" class="m">1000</text>
<path d="M854 176.9h1.5M854 193.8h1.5M854 210.7h1.5M854 227.6h1.5M854 244.5h1.5M854 261.4h1.5M854 278.3h1.5M869 288.3v-1.5M884.2 288.3v-1.5M899.3 288.3v-1.5M914.4 288.3v-1.5M929.5 288.3v-1.5M944.7 288.3v-1.5M959.8 288.3v-1.5M974.9 288.3v-1.5M990.1 288.3v-1.5M1005.2 288.3v-1.5" stroke="#a0a0a0" stroke-width="0.7"/>
<path d="M853.9 289.3h0M854.1 288.8h0M854.2 289h0M854.4 288.9h0M854.5 288.4h0M854.7 288.1h0M854.8 288.5h0M855 288.1h0M855.1 288.1h0M855.3 287.6h0M855.4 287.6h0M855.6 287.8h0M855.7 287.6h0M855.9 287.2h0M856 287.1h0M856.2 287h0M856.3 286.9h0M856.5 286.8h0M856.6 286.4h0M856.8 286.5h0M856.9 286.3h0M857.1 286.1h0M857.2 285.9h0M857.4 285.8h0M857.5 285.6h0" stroke="#112173" stroke-width="1.85" stroke-linecap="round"/>
<path d="M857.7 286h0M857.8 285.6h0M858 285.5h0M858.1 285h0M858.3 285.1h0M858.4 285.1h0M858.6 284.7h0M858.7 284.8h0M858.9 284.5h0M859 284.6h0M859.2 284.2h0M859.4 284.2h0M859.5 284.1h0M859.7 284.2h0M859.8 283.5h0M860 283.6h0M860.1 283.3h0M860.3 283.2h0M860.4 283.1h0M860.6 282.8h0M860.7 283.1h0M860.9 283h0M861 282.5h0M861.2 282.6h0M861.3 282.5h0" stroke="#13277e" stroke-width="1.85" stroke-linecap="round"/>
<path d="M861.5 282.4h0M861.6 282.3h0M861.8 281.9h0M861.9 281.7h0M862.1 281.9h0M862.2 281.7h0M862.4 281.4h0M862.5 281.4h0M862.7 281.1h0M862.8 281.5h0M863 281.4h0M863.1 280.9h0M863.3 280.7h0M863.4 280.7h0M863.6 280.2h0M863.7 280.1h0M863.9 280.2h0M864 280.1h0M864.2 279.6h0M864.4 279.9h0M864.5 279.6h0M864.7 279.6h0M864.8 279h0M865 279.3h0M865.1 279.3h0" stroke="#152e88" stroke-width="1.85" stroke-linecap="round"/>
<path d="M865.3 278.7h0M865.4 278.6h0M865.6 278.8h0M865.7 278.2h0M865.9 278.4h0M866 278.4h0M866.2 278.2h0M866.3 277.8h0M866.5 277.5h0M866.6 277.6h0M866.8 277.2h0M866.9 277.2h0M867.1 277.1h0M867.2 277.2h0M867.4 277.1h0M867.5 277h0M867.7 276.6h0M867.8 276.8h0M868 276.8h0M868.1 276.4h0M868.3 276.1h0M868.4 275.9h0M868.6 275.8h0M868.7 276h0M868.9 275.6h0" stroke="#173492" stroke-width="1.85" stroke-linecap="round"/>
<path d="M869 275.6h0M869.2 275.4h0M869.3 275.4h0M869.5 274.8h0M869.7 275.1h0M869.8 274.9h0M870 274.6h0M870.1 274.4h0M870.3 274.5h0M870.4 274.7h0M870.6 274.6h0M870.7 274.1h0M870.9 273.9h0M871 273.8h0M871.2 273.7h0M871.3 273.6h0M871.5 273.3h0M871.6 273.4h0M871.8 273.1h0M871.9 273.1h0M872.1 272.5h0M872.2 272.4h0M872.4 272.4h0M872.5 272.4h0M872.7 272.2h0" stroke="#183a9d" stroke-width="1.85" stroke-linecap="round"/>
<path d="M872.8 271.9h0M873 272h0M873.1 271.7h0M873.3 271.8h0M873.4 271.6h0M873.6 271.4h0M873.7 271h0M873.9 271.3h0M874 271.1h0M874.2 271h0M874.3 271h0M874.5 270.5h0M874.6 270.4h0M874.8 270.4h0M875 270.3h0M875.1 270h0M875.3 270.2h0M875.4 269.5h0M875.6 269.5h0M875.7 269.7h0M875.9 269.8h0M876 269.2h0M876.2 269.5h0M876.3 269.3h0M876.5 269.6h0" stroke="#1b43a7" stroke-width="1.85" stroke-linecap="round"/>
<path d="M876.6 268.6h0M876.8 268.8h0M876.9 268.8h0M877.1 268.7h0M877.2 268.3h0M877.4 268.2h0M877.5 268h0M877.7 267.8h0M877.8 268.1h0M878 267.9h0M878.1 267.6h0M878.3 267.3h0M878.4 267.4h0M878.6 267.3h0M878.7 267.1h0M878.9 267.1h0M879 267.1h0M879.2 266.4h0M879.3 266.8h0M879.5 266.5h0M879.6 266h0M879.8 266.1h0M879.9 266.1h0M880.1 266h0M880.3 265.9h0" stroke="#1d4db1" stroke-width="1.85" stroke-linecap="round"/>
<path d="M880.4 265.9h0M880.6 265.7h0M880.7 265.7h0M880.9 264.9h0M881 264.8h0M881.2 264.8h0M881.3 264.5h0M881.5 264.8h0M881.6 264.9h0M881.8 264.5h0M881.9 264.5h0M882.1 264.5h0M882.2 263.9h0M882.4 264h0M882.5 263.6h0M882.7 263.4h0M882.8 263.7h0M883 263.6h0M883.1 263.3h0M883.3 263.2h0M883.4 263.3h0M883.6 262.7h0M883.7 262.9h0M883.9 262.5h0M884 262.3h0" stroke="#2057bb" stroke-width="1.85" stroke-linecap="round"/>
<path d="M884.2 262.3h0M884.3 261.7h0M884.5 261.9h0M884.6 262h0M884.8 262.2h0M884.9 261.8h0M885.1 261.4h0M885.3 261.5h0M885.4 261h0M885.6 261h0M885.7 261.2h0M885.9 261.2h0M886 261h0M886.2 260.9h0M886.3 260.6h0M886.5 260.8h0M886.6 260.2h0M886.8 260.1h0M886.9 260.2h0M887.1 260h0M887.2 259.8h0M887.4 259.9h0M887.5 259.6h0M887.7 259.6h0M887.8 259.4h0" stroke="#2261c5" stroke-width="1.85" stroke-linecap="round"/>
<path d="M888 259.5h0M888.1 258.9h0M888.3 259h0M888.4 258.8h0M888.6 258.8h0M888.7 258.2h0M888.9 258.5h0M889 258.6h0M889.2 258.2h0M889.3 258.1h0M889.5 257.8h0M889.6 257.7h0M889.8 257.8h0M889.9 257.5h0M890.1 257.5h0M890.2 257.5h0M890.4 257.1h0M890.6 257h0M890.7 257h0M890.9 256.6h0M891 257h0M891.2 256.5h0M891.3 256.2h0M891.5 256.1h0M891.6 256.1h0" stroke="#256fcc" stroke-width="1.85" stroke-linecap="round"/>
<path d="M891.8 256.1h0M891.9 255.6h0M892.1 255.7h0M892.2 255.5h0M892.4 255.6h0M892.5 255.5h0M892.7 255.1h0M892.8 255.3h0M893 255.3h0M893.1 255.3h0M893.3 254.5h0M893.4 254.9h0M893.6 254.6h0M893.7 254.8h0M893.9 254h0M894 254.3h0M894.2 254.2h0M894.3 253.9h0M894.5 253.6h0M894.6 253.5h0M894.8 253.6h0M894.9 253.5h0M895.1 253.4h0M895.2 253h0M895.4 252.7h0" stroke="#2780d3" stroke-width="1.85" stroke-linecap="round"/>
<path d="M895.5 252.9h0M895.7 252.8h0M895.9 252.7h0M896 252.3h0M896.2 252.6h0M896.3 252.3h0M896.5 252h0M896.6 252.2h0M896.8 251.9h0M896.9 252h0M897.1 251.5h0M897.2 251.5h0M897.4 251.2h0M897.5 251.2h0M897.7 251h0M897.8 251.1h0M898 250.7h0M898.1 250.9h0M898.3 250.7h0M898.4 250.7h0M898.6 250.6h0M898.7 250.2h0M898.9 249.9h0M899 250.1h0M899.2 249.9h0" stroke="#2a90d9" stroke-width="1.85" stroke-linecap="round"/>
<path d="M899.3 249.9h0M899.5 249.4h0M899.6 249.9h0M899.8 249.7h0M899.9 249.2h0M900.1 249.4h0M900.2 248.7h0M900.4 249.1h0M900.5 248.8h0M900.7 248.8h0M900.8 248.6h0M901 248.8h0M901.2 248.3h0M901.3 248.7h0M901.5 247.9h0M901.6 247.7h0M901.8 247.6h0M901.9 247.4h0M902.1 247.3h0M902.2 247.6h0M902.4 247.1h0M902.5 247.3h0M902.7 246.8h0M902.8 247.2h0M903 246.7h0" stroke="#2ca0df" stroke-width="1.85" stroke-linecap="round"/>
<path d="M903.1 246.9h0M903.3 246.3h0M903.4 246.9h0M903.6 246.4h0M903.7 246.5h0M903.9 246.1h0M904 245.9h0M904.2 245.7h0M904.3 246h0M904.5 245.7h0M904.6 245.6h0M904.8 245.4h0M904.9 245.4h0M905.1 245.4h0M905.2 244.6h0M905.4 245.1h0M905.5 244.5h0M905.7 244.7h0M905.8 244.7h0M906 244.7h0M906.2 244.3h0M906.3 244.2h0M906.5 244.1h0M906.6 243.5h0M906.8 243.9h0" stroke="#35aadc" stroke-width="1.85" stroke-linecap="round"/>
<path d="M906.9 243.6h0M907.1 243.7h0M907.2 243.5h0M907.4 243.4h0M907.5 243.1h0M907.7 243.1h0M907.8 242.8h0M908 243.2h0M908.1 242.7h0M908.3 242.6h0M908.4 242.4h0M908.6 242.4h0M908.7 241.7h0M908.9 242.2h0M909 241.8h0M909.2 242.1h0M909.3 242h0M909.5 241.8h0M909.6 241.6h0M909.8 241.5h0M909.9 241.3h0M910.1 241h0M910.2 241.1h0M910.4 240.9h0M910.5 240.6h0" stroke="#40b2d4" stroke-width="1.85" stroke-linecap="round"/>
<path d="M910.7 240.8h0M910.8 240.3h0M911 240.7h0M911.1 240.2h0M911.3 239.7h0M911.5 240h0M911.6 239.9h0M911.8 240h0M911.9 239.8h0M912.1 239.3h0M912.2 239.5h0M912.4 239.7h0M912.5 239.5h0M912.7 239.6h0M912.8 239h0M913 239.2h0M913.1 239h0M913.3 238.6h0M913.4 238.9h0M913.6 238.5h0M913.7 238.5h0M913.9 238.4h0M914 238.3h0M914.2 238.1h0M914.3 237.7h0" stroke="#4bb9cd" stroke-width="1.85" stroke-linecap="round"/>
<path d="M914.5 237.5h0M914.6 237.5h0M914.8 237.1h0M914.9 237h0M915.1 236.9h0M915.2 237h0M915.4 236.8h0M915.5 237h0M915.7 236.6h0M915.8 236.5h0M916 236.5h0M916.1 236.2h0M916.3 236.3h0M916.4 236.1h0M916.6 236.2h0M916.8 236.1h0M916.9 235.9h0M917.1 235.5h0M917.2 235.9h0M917.4 235.3h0M917.5 235.3h0M917.7 235.5h0M917.8 235.2h0M918 235.2h0M918.1 235h0" stroke="#57c1c5" stroke-width="1.85" stroke-linecap="round"/>
<path d="M918.3 234.4h0M918.4 234.6h0M918.6 234.3h0M918.7 234.6h0M918.9 234.6h0M919 234.3h0M919.2 234.1h0M919.3 234h0M919.5 234.1h0M919.6 233.3h0M919.8 233.5h0M919.9 233.3h0M920.1 233.2h0M920.2 233.5h0M920.4 233.2h0M920.5 233h0M920.7 232.9h0M920.8 232.7h0M921 232.8h0M921.1 232.3h0M921.3 232.6h0M921.4 232.4h0M921.6 232.2h0M921.8 231.9h0M921.9 232.2h0" stroke="#61c4b4" stroke-width="1.85" stroke-linecap="round"/>
<path d="M922.1 232h0M922.2 232.1h0M922.4 231.8h0M922.5 231.7h0M922.7 231.2h0M922.8 231.3h0M923 231.2h0M923.1 231h0M923.3 230.9h0M923.4 230.7h0M923.6 230.4h0M923.7 230.4h0M923.9 230.7h0M924 230.5h0M924.2 230.2h0M924.3 230h0M924.5 229.8h0M924.6 230.1h0M924.8 229.8h0M924.9 229.1h0M925.1 229.3h0M925.2 229.4h0M925.4 229.4h0M925.5 229.1h0M925.7 229.3h0" stroke="#6bc59f" stroke-width="1.85" stroke-linecap="round"/>
<path d="M925.8 229h0M926 228.9h0M926.1 228.6h0M926.3 228.9h0M926.4 228.2h0M926.6 228.6h0M926.7 228.6h0M926.9 228.4h0M927.1 228.3h0M927.2 228h0M927.4 227.7h0M927.5 228h0M927.7 227.2h0M927.8 227.4h0M928 227.4h0M928.1 227.8h0M928.3 227.3h0M928.4 226.8h0M928.6 226.8h0M928.7 226.7h0M928.9 226.9h0M929 226.6h0M929.2 226.9h0M929.3 226.7h0M929.5 226.1h0" stroke="#75c68a" stroke-width="1.85" stroke-linecap="round"/>
<path d="M929.6 226h0M929.8 226.2h0M929.9 225.5h0M930.1 226h0M930.2 225.9h0M930.4 225.4h0M930.5 225.5h0M930.7 225.3h0M930.8 225.4h0M931 225.1h0M931.1 224.7h0M931.3 225h0M931.4 225h0M931.6 224.7h0M931.7 224.7h0M931.9 224.6h0M932 224.3h0M932.2 224.2h0M932.4 223.9h0M932.5 223.9h0M932.7 223.9h0M932.8 223.4h0M933 223.6h0M933.1 223.6h0M933.3 223.3h0" stroke="#7fc874" stroke-width="1.85" stroke-linecap="round"/>
<path d="M933.4 223.4h0M933.6 223.1h0M933.7 223.2h0M933.9 223h0M934 222.9h0M934.2 222.7h0M934.3 222.6h0M934.5 222.6h0M934.6 222.5h0M934.8 222.1h0M934.9 222.3h0M935.1 222h0M935.2 222.1h0M935.4 221.9h0M935.5 221.8h0M935.7 221.5h0M935.8 221.7h0M936 221.2h0M936.1 221.3h0M936.3 220.9h0M936.4 221.1h0M936.6 220.9h0M936.7 220.7h0M936.9 220.6h0M937 220.5h0" stroke="#91cb61" stroke-width="1.85" stroke-linecap="round"/>
<path d="M937.2 220.6h0M937.3 220h0M937.5 220.5h0M937.7 220.7h0M937.8 220.3h0M938 220.4h0M938.1 219.6h0M938.3 219.8h0M938.4 219.5h0M938.6 219.4h0M938.7 219.4h0M938.9 219.5h0M939 219.1h0M939.2 219.5h0M939.3 219h0M939.5 219h0M939.6 218.6h0M939.8 218.5h0M939.9 218.7h0M940.1 218.2h0M940.2 218h0M940.4 217.9h0M940.5 218h0M940.7 218.1h0M940.8 217.8h0" stroke="#a7d04e" stroke-width="1.85" stroke-linecap="round"/>
<path d="M941 217.7h0M941.1 217.3h0M941.3 217.4h0M941.4 217.4h0M941.6 217.1h0M941.7 217.4h0M941.9 217.1h0M942 216.7h0M942.2 216.6h0M942.3 217h0M942.5 216.6h0M942.7 216.3h0M942.8 216.2h0M943 216.6h0M943.1 215.9h0M943.3 216h0M943.4 216.1h0M943.6 215.6h0M943.7 215.7h0M943.9 215.4h0M944 215.7h0M944.2 215.1h0M944.3 215.4h0M944.5 215.3h0M944.6 215h0" stroke="#bdd53b" stroke-width="1.85" stroke-linecap="round"/>
<path d="M944.8 215h0M944.9 215.1h0M945.1 214.7h0M945.2 214.8h0M945.4 214.2h0M945.5 214.2h0M945.7 214.4h0M945.8 213.9h0M946 214.4h0M946.1 213.7h0M946.3 213.8h0M946.4 213.7h0M946.6 213.9h0M946.7 213.5h0M946.9 213.7h0M947 213.5h0M947.2 213.1h0M947.3 212.8h0M947.5 213h0M947.6 212.9h0M947.8 212.6h0M948 212.4h0M948.1 212.2h0M948.3 212.1h0M948.4 212.5h0" stroke="#d1d72d" stroke-width="1.85" stroke-linecap="round"/>
<path d="M948.6 212h0M948.7 212.2h0M948.9 211.8h0M949 211.9h0M949.2 211.4h0M949.3 211.7h0M949.5 211.4h0M949.6 211.3h0M949.8 211.4h0M949.9 211.2h0M950.1 211.3h0M950.2 211h0M950.4 210.6h0M950.5 211.1h0M950.7 210.6h0M950.8 210.8h0M951 210.4h0M951.1 210.2h0M951.3 210.2h0M951.4 210.1h0M951.6 209.8h0M951.7 209.6h0M951.9 209.9h0M952 209.3h0M952.2 209.8h0" stroke="#e4d722" stroke-width="1.85" stroke-linecap="round"/>
<path d="M952.3 209.3h0M952.5 209.1h0M952.6 209h0M952.8 209.1h0M952.9 209.4h0M953.1 208.7h0M953.3 208.9h0M953.4 208.5h0M953.6 208.4h0M953.7 208.8h0M953.9 208.4h0M954 208.2h0M954.2 208h0M954.3 207.6h0M954.5 207.9h0M954.6 207.9h0M954.8 207.4h0M954.9 207.5h0M955.1 207.3h0M955.2 207.5h0M955.4 207.6h0M955.5 207h0M955.7 207h0M955.8 206.8h0M956 206.7h0" stroke="#f5d519" stroke-width="1.85" stroke-linecap="round"/>
<path d="M956.1 206.6h0M956.3 206.7h0M956.4 205.9h0M956.6 206.3h0M956.7 206.1h0M956.9 206.1h0M957 205.8h0M957.2 205.6h0M957.3 205.6h0M957.5 205.8h0M957.6 205.4h0M957.8 205.2h0M957.9 205.1h0M958.1 205.4h0M958.3 205.1h0M958.4 204.8h0M958.6 204.5h0M958.7 204.7h0M958.9 204.8h0M959 204.4h0M959.2 204.5h0M959.3 204.3h0M959.5 204.3h0M959.6 203.9h0M959.8 203.8h0" stroke="#f3c01b" stroke-width="1.85" stroke-linecap="round"/>
<path d="M959.9 203.8h0M960.1 204h0M960.2 203.9h0M960.4 203.7h0M960.5 203.5h0M960.7 203.6h0M960.8 203h0M961 202.9h0M961.1 203.1h0M961.3 202.8h0M961.4 202.8h0M961.6 202.6h0M961.7 202.4h0M961.9 202.4h0M962 202.2h0M962.2 202.3h0M962.3 202.2h0M962.5 201.9h0M962.6 201.7h0M962.8 201.5h0M962.9 201.9h0M963.1 201.2h0M963.2 201.6h0M963.4 201.4h0M963.6 201.1h0" stroke="#f2ab1c" stroke-width="1.85" stroke-linecap="round"/>
<path d="M963.7 200.8h0M963.9 201.1h0M964 200.9h0M964.2 200.9h0M964.3 200.6h0M964.5 200.5h0M964.6 200.3h0M964.8 200.5h0M964.9 200.4h0M965.1 200h0M965.2 199.7h0M965.4 200h0M965.5 199.5h0M965.7 199.6h0M965.8 199.4h0M966 199.4h0M966.1 198.8h0M966.3 199.3h0M966.4 199.4h0M966.6 199.1h0M966.7 199h0M966.9 198.6h0M967 199h0M967.2 198.4h0M967.3 198.5h0" stroke="#f1961d" stroke-width="1.85" stroke-linecap="round"/>
<path d="M967.5 198.5h0M967.6 198.1h0M967.8 198h0M967.9 197.9h0M968.1 197.7h0M968.2 197.8h0M968.4 197.8h0M968.5 197.7h0M968.7 197.4h0M968.9 197.5h0M969 197.4h0M969.2 197.3h0M969.3 197.5h0M969.5 197h0M969.6 196.9h0M969.8 196.7h0M969.9 196.5h0M970.1 196.8h0M970.2 196.4h0M970.4 196.2h0M970.5 196.2h0M970.7 196.2h0M970.8 195.7h0M971 196.4h0M971.1 196.1h0" stroke="#ee801e" stroke-width="1.85" stroke-linecap="round"/>
<path d="M971.3 195.4h0M971.4 195.4h0M971.6 195.4h0M971.7 195.2h0M971.9 195.7h0M972 195h0M972.2 195h0M972.3 194.8h0M972.5 194.7h0M972.6 194.7h0M972.8 194.2h0M972.9 194.2h0M973.1 194.3h0M973.2 194.4h0M973.4 194.1h0M973.5 194h0M973.7 193.7h0M973.8 193.7h0M974 193.5h0M974.2 193.5h0M974.3 193.4h0M974.5 193.3h0M974.6 193.1h0M974.8 192.8h0M974.9 192.9h0" stroke="#e9671e" stroke-width="1.85" stroke-linecap="round"/>
<path d="M975.1 193.2h0M975.2 192.7h0M975.4 192.6h0M975.5 192.5h0M975.7 192.4h0M975.8 192.6h0M976 192.1h0M976.1 191.9h0M976.3 191.8h0M976.4 192.1h0M976.6 191.5h0M976.7 191.5h0M976.9 191.7h0M977 191.5h0M977.2 191.4h0M977.3 191h0M977.5 191.3h0M977.6 191.1h0M977.8 190.8h0M977.9 190.7h0M978.1 191h0M978.2 190.6h0M978.4 190.4h0M978.5 190.3h0M978.7 190.2h0" stroke="#e44d1e" stroke-width="1.85" stroke-linecap="round"/>
<path d="M978.8 190.4h0M979 190.2h0M979.2 190.1h0M979.3 190.1h0M979.5 189.5h0M979.6 189.5h0M979.8 189.9h0M979.9 189.3h0M980.1 189h0M980.2 189.3h0M980.4 189.4h0M980.5 188.9h0M980.7 189.1h0M980.8 188.9h0M981 188.8h0M981.1 188.7h0M981.3 188.7h0M981.4 188.9h0M981.6 188.2h0M981.7 188.4h0M981.9 188.1h0M982 188.3h0M982.2 188.2h0M982.3 187.9h0M982.5 187.7h0" stroke="#df341e" stroke-width="1.85" stroke-linecap="round"/>
<path d="M982.6 187.3h0M982.8 187.6h0M982.9 187.6h0M983.1 187.3h0M983.2 186.8h0M983.4 186.8h0M983.5 186.7h0M983.7 186.8h0M983.8 186.6h0M984 186.6h0M984.1 186.5h0M984.3 186.4h0M984.5 186.1h0M984.6 185.7h0M984.8 186.4h0M984.9 185.8h0M985.1 185.4h0M985.2 185.7h0M985.4 185.8h0M985.5 185.3h0M985.7 185.3h0M985.8 185.2h0M986 185.1h0M986.1 184.8h0M986.3 184.6h0" stroke="#d6261d" stroke-width="1.85" stroke-linecap="round"/>
<path d="M986.4 184.8h0M986.6 184.4h0M986.7 184.8h0M986.9 184.6h0M987 184.7h0M987.2 184.2h0M987.3 184.2h0M987.5 184.1h0M987.6 184h0M987.8 184.2h0M987.9 183.5h0M988.1 183.3h0M988.2 183.8h0M988.4 183.6h0M988.5 183.4h0M988.7 183.2h0M988.8 183.1h0M989 183h0M989.1 183h0M989.3 182.8h0M989.4 182.6h0M989.6 182.7h0M989.8 182.4h0M989.9 182.4h0M990.1 182.2h0" stroke="#c9211c" stroke-width="1.85" stroke-linecap="round"/>
<path d="M990.2 182.1h0M990.4 182.2h0M990.5 182.1h0M990.7 182h0M990.8 182h0M991 181.5h0M991.1 181.6h0M991.3 181.2h0M991.4 181.3h0M991.6 181.3h0M991.7 181.4h0M991.9 181.1h0M992 180.8h0M992.2 181.2h0M992.3 180.9h0M992.5 180.8h0M992.6 180.7h0M992.8 180.6h0M992.9 180.3h0M993.1 180.3h0M993.2 180h0M993.4 180.2h0M993.5 179.9h0M993.7 179.7h0M993.8 179.5h0" stroke="#bd1c1a" stroke-width="1.85" stroke-linecap="round"/>
<path d="M994 179.7h0M994.1 179.7h0M994.3 179.4h0M994.4 179.4h0M994.6 179.3h0M994.7 179.2h0M994.9 178.7h0M995.1 178.6h0M995.2 178.8h0M995.4 178.3h0M995.5 178.5h0M995.7 178.4h0M995.8 178h0M996 178.3h0M996.1 178.2h0M996.3 178.2h0M996.4 177.9h0M996.6 177.9h0M996.7 178h0M996.9 177.4h0M997 177.6h0M997.2 177.5h0M997.3 177.2h0M997.5 177.2h0M997.6 177h0" stroke="#ae1818" stroke-width="1.85" stroke-linecap="round"/>
<path d="M997.8 176.9h0M997.9 177.1h0M998.1 176.9h0M998.2 177h0M998.4 176.4h0M998.5 176.7h0M998.7 176.1h0M998.8 176.5h0M999 176.2h0M999.1 176h0M999.3 175.9h0M999.4 175.8h0M999.6 175.5h0M999.7 175.6h0M999.9 175.4h0M1000.1 176h0M1000.2 175.4h0M1000.4 175.5h0M1000.5 175.3h0M1000.7 174.9h0M1000.8 174.8h0M1001 174.6h0M1001.1 174.6h0M1001.3 174.6h0M1001.4 174.3h0" stroke="#981717" stroke-width="1.85" stroke-linecap="round"/>
<path d="M1001.6 174h0M1001.7 174.5h0M1001.9 174.3h0M1002 173.8h0M1002.2 173.9h0M1002.3 173.7h0M1002.5 173.7h0M1002.6 173.7h0M1002.8 173.7h0M1002.9 173.3h0M1003.1 173.4h0M1003.2 172.9h0M1003.4 172.8h0M1003.5 173h0M1003.7 172.7h0M1003.8 172.8h0M1004 172.8h0M1004.1 173h0M1004.3 172.2h0M1004.4 172.4h0M1004.6 172.6h0M1004.7 172.1h0M1004.9 172.2h0M1005 171.8h0M1005.2 171.9h0" stroke="#831515" stroke-width="1.85" stroke-linecap="round"/>
<path d="M189 325V444.3H340" stroke="#a0a0a0" stroke-width="1.2" fill="none"/>
<text transform="translate(187.2 333.9) scale(.5)" class="e">3</text>
<text transform="translate(187.2 350.7) scale(.5)" class="e">2</text>
<text transform="translate(187.2 367.6) scale(.5)" class="e">1</text>
<text transform="translate(187.2 384.4) scale(.5)" class="e">0</text>
<text transform="translate(187.2 401.3) scale(.5)" class="e">-1</text>
<text transform="translate(187.2 418.1) scale(.5)" class="e">-2</text>
<text transform="translate(187.2 435) scale(.5)" class="e">-3</text>
<text transform="translate(204 450.5) scale(.5)" class="m">100</text>
<text transform="translate(219.2 450.5) scale(.5)" class="m">200</text>
<text transform="translate(234.3 450.5) scale(.5)" class="m">300</text>
<text transform="translate(249.4 450.5) scale(.5)" class="m">400</text>
<text transform="translate(264.6 450.5) scale(.5)" class="m">500</text>
<text transform="translate(279.7 450.5) scale(.5)" class="m">600</text>
<text transform="translate(294.8 450.5) scale(.5)" class="m">700</text>
<text transform="translate(309.9 450.5) scale(.5)" class="m">800</text>
<text transform="translate(325.1 450.5) scale(.5)" class="m">900</text>
<text transform="translate(340.2 450.5) scale(.5)" class="m">1000</text>
<path d="M189 332.2h1.5M189 349.1h1.5M189 365.9h1.5M189 382.8h1.5M189 399.7h1.5M189 416.5h1.5M189 433.4h1.5M204 444.3v-1.5M219.2 444.3v-1.5M234.3 444.3v-1.5M249.4 444.3v-1.5M264.6 444.3v-1.5M279.7 444.3v-1.5M294.8 444.3v-1.5M309.9 444.3v-1.5M325.1 444.3v-1.5M340.2 444.3v-1.5" stroke="#a0a0a0" stroke-width="0.7"/>
<path d="M189.2 441.1h0M189.3 427.3h0M188.7 426.6h0M189.4 426.7h0M189.7 429.6h0M189.1 418.8h0M189.5 424.3h0M191.1 421.5h0M190.7 426.4h0M190.5 423.5h0M190.2 418h0M191.7 420h0M191.2 415.9h0M192.1 418.8h0M192.5 412.5h0M192.1 416.7h0M192.6 410.7h0M193.4 412.7h0" stroke="#112173" stroke-width="1.7" stroke-linecap="square"/>
<path d="M193.6 410.5h0M193.3 408.4h0M193.3 402.7h0M193.1 402.8h0M193.5 403.5h0M193.5 401.4h0M193.1 401.1h0M194.8 396.7h0M193.7 400.4h0M194.5 391h0M194.7 394.3h0M195.1 391.8h0M194.9 390.2h0M195.8 386.1h0M195.4 384.4h0M197 382.4h0M196.6 388.6h0" stroke="#13277e" stroke-width="1.7" stroke-linecap="square"/>
<path d="M197.1 374.6h0M197.3 376h0M197.3 367.1h0M196.8 374.1h0M197.9 370.3h0M196.5 368.4h0M197.9 369.6h0M198.2 364.6h0M197.3 362.1h0M199.5 357.1h0M198.1 363.7h0M198.9 357.9h0M198.4 359.2h0M200 355.2h0M200 354.7h0M200.2 354.7h0M199.7 354.6h0M199.2 351.9h0" stroke="#152e88" stroke-width="1.7" stroke-linecap="square"/>
<path d="M199.7 350.8h0M200.7 347.9h0M201 348.2h0M201 342.7h0M201.2 344.4h0M200.2 346h0M202.2 343.8h0M201.3 337.4h0M201.5 335.8h0M202.3 338.7h0M201.5 332h0M201.8 337.6h0M203.4 336.5h0M203.4 332.3h0M203.3 334.4h0M203.3 330.2h0M203.3 328.7h0" stroke="#173492" stroke-width="1.7" stroke-linecap="square"/>
<path d="M204.2 328.4h0M204.4 327.8h0M204.7 326.6h0M204.9 327.6h0M204.5 332.7h0M205.1 325.2h0M204.9 331.8h0M205.3 326.4h0M206.2 328.1h0M205.4 327.4h0M206.5 327.5h0M206.9 328.8h0M207.1 323.2h0M206.4 330.1h0M207.4 319.6h0M207.5 328.3h0M208.2 328.9h0M206.9 331.4h0" stroke="#183a9d" stroke-width="1.7" stroke-linecap="square"/>
<path d="M208.6 333.8h0M207.4 327.4h0M208.4 326.8h0M208.1 332.5h0M208.6 334.3h0M208.9 331.9h0M209.7 332.4h0M209.3 331.9h0M210.2 331.7h0M210 337h0M209.9 341.1h0M210.4 339.3h0M211.4 340.2h0M211.1 338.8h0M210 345.3h0M211.1 344.6h0M210.8 344h0" stroke="#1b43a7" stroke-width="1.7" stroke-linecap="square"/>
<path d="M212.1 346.2h0M212.2 351.9h0M212.6 351.9h0M211.3 351.2h0M212.7 354.7h0M211.9 357.2h0M212.8 362.3h0M213.6 354h0M213.3 355.2h0M213.5 362.3h0M214.1 359h0M213.5 365.5h0M213.7 359.8h0M214.3 356.7h0M214.3 363.8h0M215 367.3h0M215.5 370.2h0M215.3 372.3h0" stroke="#1d4db1" stroke-width="1.7" stroke-linecap="square"/>
<path d="M214.4 370.2h0M215.2 375.1h0M216.2 373.5h0M216.4 369.8h0M216.5 374.7h0M216 375.1h0M217.2 381.6h0M217.4 379.3h0M217.1 381.2h0M218.7 384.4h0M217.5 383.4h0M217.8 389.4h0M218.4 382.6h0M219.2 387.1h0M217.9 384.3h0M218.2 386.6h0M218.8 386.5h0" stroke="#2057bb" stroke-width="1.7" stroke-linecap="square"/>
<path d="M219 386.2h0M219 383.7h0M220 389.1h0M219.4 388.7h0M219.8 390.1h0M221 387.3h0M220 388.3h0M220.7 388.1h0M220.6 386.1h0M221.2 386.5h0M221.1 387.7h0M221.5 387.3h0M221.7 392h0M221.5 391.5h0M222.5 389.9h0M222.5 388.9h0M223.5 392.5h0M223.4 387h0" stroke="#2261c5" stroke-width="1.7" stroke-linecap="square"/>
<path d="M222.8 392h0M223.5 390.8h0M223.3 391.4h0M224.5 389.8h0M223.6 394.4h0M223.6 391.3h0M224 393.1h0M225 392.2h0M224.6 391.5h0M225.8 391.4h0M225.6 391.8h0M226.3 394.1h0M225.1 392.9h0M226.9 389.5h0M225.6 392.9h0M226.6 392.1h0M227 393h0" stroke="#256fcc" stroke-width="1.7" stroke-linecap="square"/>
<path d="M225.9 391.2h0M227.6 394.8h0M226.3 393h0M226.5 391.5h0M227.1 391h0M227.7 392h0M228.4 392.5h0M227.8 390.6h0M227.8 389.7h0M228.4 393h0M229.1 391.3h0M229.4 394.4h0M228.9 391.3h0M229.8 392h0M230.5 392.1h0M230.5 389.9h0M230.4 392h0M230.8 390.9h0" stroke="#2780d3" stroke-width="1.7" stroke-linecap="square"/>
<path d="M231 393h0M231.1 388.8h0M231 391.2h0M231.2 389.8h0M230.5 388.5h0M232 391.5h0M232.1 389.2h0M232.4 389.9h0M233 390.6h0M233 388.3h0M233.1 391.8h0M233.4 387.2h0M233.1 389.8h0M233.7 389h0M233.5 390.4h0M234.9 389.1h0M233.8 388.8h0" stroke="#2a90d9" stroke-width="1.7" stroke-linecap="square"/>
<path d="M234.4 388.7h0M233.8 389.8h0M235.3 390.8h0M234.6 389.2h0M235.2 389.7h0M235.6 390.4h0M235.2 387.6h0M235.6 388.5h0M236.1 387.9h0M236.5 388.1h0M237.1 388h0M235.9 388.6h0M237.7 387h0M237.1 389h0M237 385.7h0M238.2 386.2h0M237 388.2h0M237.8 388h0" stroke="#2ca0df" stroke-width="1.7" stroke-linecap="square"/>
<path d="M238.3 387.6h0M238.7 386.7h0M238.4 385.8h0M239.1 386h0M238.9 386h0M238.4 387.5h0M239.2 385.6h0M240.6 385.2h0M239.5 385.8h0M239.6 385.4h0M240.4 385.3h0M240.8 384.3h0M241.2 386h0M241.5 385.9h0M241.5 384.9h0M242.3 385.1h0M241.7 385.2h0" stroke="#35aadc" stroke-width="1.7" stroke-linecap="square"/>
<path d="M242.4 384.7h0M242 384.3h0M243.4 383.7h0M243.3 385.5h0M242.8 385h0M242.2 383.7h0M242.5 384.8h0M242.8 385.1h0M244.1 384.8h0M243.5 385.9h0M244.6 385.4h0M244.4 384.7h0M243.3 385.3h0M245.4 384.1h0M245.3 386.2h0M245.7 384.2h0M245.1 386.4h0M245.5 386.2h0" stroke="#40b2d4" stroke-width="1.7" stroke-linecap="square"/>
<path d="M244.8 387.9h0M245.4 386.5h0M246.5 386.5h0M246.6 385h0M248.2 385.4h0M246.4 385.4h0M247.1 386h0M247.8 385.7h0M246.9 387.3h0M247.9 385.9h0M249 386h0M248 386.9h0M248.1 387.6h0M248 387h0M248.9 387.2h0M249.1 386.9h0M249.2 387h0" stroke="#4bb9cd" stroke-width="1.7" stroke-linecap="square"/>
<path d="M249.7 386.7h0M248.4 386.5h0M250 387.3h0M250.2 387.3h0M250.4 387.5h0M250.9 386.5h0M250.1 387.4h0M251.4 386.5h0M251.3 387.8h0M251.1 386.8h0M251.8 386.9h0M251.5 387.1h0M251.9 387.9h0M251.8 387.7h0M251.8 386.6h0M253.1 386.3h0M252.6 387.7h0M253.3 387.5h0" stroke="#57c1c5" stroke-width="1.7" stroke-linecap="square"/>
<path d="M253.3 387.4h0M252.8 386.1h0M253.1 388.5h0M254.4 388.2h0M254.8 387h0M254.7 387.6h0M254 388.4h0M255 387.5h0M254.5 388.4h0M254.9 387.6h0M255.8 386.9h0M255.6 386.5h0M256.4 386.5h0M255.8 387.3h0M257 389.3h0M257.1 387.6h0M257.3 387.9h0" stroke="#61c4b4" stroke-width="1.7" stroke-linecap="square"/>
<path d="M257.6 388.5h0M257 387.6h0M257.9 389.4h0M258.3 387.4h0M258.4 389.1h0M258.8 388.2h0M258.8 388.7h0M258.4 389.3h0M258.5 388.1h0M258.7 389.4h0M259.4 389.2h0M258.5 389.7h0M259.5 387.9h0M260.2 390.2h0M259.6 389.8h0M260.4 390.2h0M260.8 390.9h0M260.9 388.9h0" stroke="#6bc59f" stroke-width="1.7" stroke-linecap="square"/>
<path d="M259.7 390h0M261.3 389.7h0M261.5 390.3h0M261.8 390.3h0M261.9 389.3h0M262.6 389.9h0M262 391.2h0M263 391.8h0M263.2 392.2h0M264 390.2h0M262.9 391.7h0M262.4 391.5h0M264.2 391.1h0M263.7 390h0M264.3 391.5h0M264.1 391.4h0M265.7 391.6h0" stroke="#75c68a" stroke-width="1.7" stroke-linecap="square"/>
<path d="M263.9 391.9h0M265.8 391.1h0M264.8 391.9h0M264.6 391.7h0M265.1 392.7h0M265.5 392.8h0M266.8 390.8h0M266 391.4h0M267.2 390.8h0M266.4 390.1h0M267.6 388h0M267 387.3h0M266.8 385h0M267.1 385.3h0M266.9 385.9h0M267.7 384.3h0M267.4 383.8h0" stroke="#7fc874" stroke-width="1.7" stroke-linecap="square"/>
<path d="M268.3 386.4h0M268.8 381.9h0M268.1 381.3h0M269.2 380.4h0M269.2 379.9h0M269.7 381.8h0M269.3 378.7h0M269.9 381h0M269.9 380.4h0M270.3 382h0M269.7 381.7h0M270.6 375.3h0M271.4 377.4h0M271.1 376.8h0M271.5 379.3h0M272.1 381.4h0M270.7 381.4h0M272.7 378h0" stroke="#91cb61" stroke-width="1.7" stroke-linecap="square"/>
<path d="M272.3 379.9h0M272.4 379h0M272.2 378.4h0M272.4 377.5h0M272.9 381.3h0M273.2 381.3h0M273.5 382.8h0M273.5 379.8h0M274.1 380.6h0M274.8 382.8h0M274.3 381h0M274.6 380.8h0M275.5 380.6h0M274.6 376.8h0M275.3 381.4h0M275.9 382.4h0M275.6 380.3h0" stroke="#a7d04e" stroke-width="1.7" stroke-linecap="square"/>
<path d="M275.3 382.8h0M276.6 379.5h0M276.3 382.9h0M277.1 385.5h0M276.4 384.8h0M276 388.5h0M277 382.6h0M277.7 382.4h0M276.3 385h0M278.5 386.5h0M277.4 384.7h0M278.3 384.6h0M278.5 383.9h0M279.1 385.8h0M278.7 385.4h0M278.8 385.4h0M279.9 385.7h0M279 386.9h0" stroke="#bdd53b" stroke-width="1.7" stroke-linecap="square"/>
<path d="M280 386.5h0M279.3 389.3h0M280.2 386.3h0M280.2 387.4h0M280.7 385.9h0M281 392h0M281 389.1h0M281.9 388.6h0M281.4 391.9h0M281.8 390.1h0M282.6 388.4h0M281.5 393.7h0M282.2 389.5h0M282.1 390.7h0M283.4 389h0M282.2 389.5h0M283.3 390.1h0" stroke="#d1d72d" stroke-width="1.7" stroke-linecap="square"/>
<path d="M283.8 389.1h0M284.9 389.5h0M283.6 390.3h0M284.5 387.5h0M284.6 389.1h0M284.7 390.2h0M284.8 391h0M285.4 389h0M285.3 390.5h0M285.3 390.2h0M285.8 389.8h0M286 388.3h0M286.7 390.5h0M286.1 390.6h0M287.1 390.2h0M287.4 389.8h0M287.5 389.8h0M287.1 388.9h0" stroke="#e4d722" stroke-width="1.7" stroke-linecap="square"/>
<path d="M287.4 389.2h0M287.9 387.6h0M288.2 389.5h0M287.1 388.7h0M286.9 388h0M288.8 390.1h0M289 389.4h0M289.5 389.5h0M288.7 389.3h0M289.4 389.6h0M290.7 388.8h0M290.6 388.6h0M289.8 389.1h0M289.8 387.7h0M291 388h0M290.2 387.8h0M290.5 391h0" stroke="#f5d519" stroke-width="1.7" stroke-linecap="square"/>
<path d="M291.1 389.8h0M291 387.6h0M291.3 387.9h0M292.5 386.4h0M292.7 387.1h0M292.3 385.2h0M292.1 386.7h0M292.6 386.6h0M293.1 386.7h0M293.4 387.6h0M293.5 387.7h0M294 385.2h0M293.6 386.8h0M293.9 385.4h0M293.4 387h0M294.8 385.9h0M293.9 388h0M294.5 387.3h0" stroke="#f3c01b" stroke-width="1.7" stroke-linecap="square"/>
<path d="M295 385.2h0M296.1 386.4h0M295.7 386.2h0M295.1 384.8h0M295.4 382.3h0M296 385.1h0M297.4 385h0M296.3 384.1h0M296.3 383h0M297.5 385h0M296.9 383.8h0M296.6 384.7h0M297.4 384h0M297.9 381.9h0M298.1 382.3h0M297.7 383.2h0M298.6 381.6h0" stroke="#f2ab1c" stroke-width="1.7" stroke-linecap="square"/>
<path d="M298.6 381.5h0M298.7 383.2h0M299.2 382.2h0M298.4 380.5h0M299.7 380.4h0M299.5 379.3h0M300.1 379.6h0M299.8 380.9h0M301 380.3h0M300.6 378.3h0M301.3 379.5h0M301.9 381.2h0M301.2 379.9h0M302.1 377.2h0M301.4 378.6h0M302.3 377.9h0M302.2 377.1h0M303.2 377.8h0" stroke="#f1961d" stroke-width="1.7" stroke-linecap="square"/>
<path d="M302 377.9h0M302.7 377.9h0M303.3 376.4h0M303.6 376.5h0M303.5 378h0M303.4 377.6h0M304 376.6h0M304 375.4h0M304.1 374.4h0M305 377.5h0M305.3 376.4h0M304.6 376.2h0M304.5 375h0M305.9 377.9h0M305.8 374.5h0M306.1 374.3h0M306.2 376h0" stroke="#ee801e" stroke-width="1.7" stroke-linecap="square"/>
<path d="M306.6 374.7h0M306.8 374.8h0M306.5 375.4h0M307.1 373.6h0M306.2 377.4h0M306.5 376.2h0M307.2 375.1h0M307.6 373.3h0M307.6 376.7h0M307.8 376.1h0M308.4 376.4h0M308.1 377.9h0M308.9 376.7h0M308.5 376.3h0M309.4 372.7h0M310.2 377.5h0M309.4 379.3h0M308.9 379.2h0" stroke="#e9671e" stroke-width="1.7" stroke-linecap="square"/>
<path d="M310.5 376.6h0M309.6 377.5h0M310.3 377.6h0M311.4 379.7h0M310.7 376.3h0M311.4 380.3h0M311.5 379h0M311.3 379.6h0M312.2 372.2h0M312.5 377.8h0M311.4 376.1h0M313 379.4h0M313.1 380.7h0M312.3 377.8h0M312.5 377h0M314 378.3h0M313.8 376.1h0" stroke="#e44d1e" stroke-width="1.7" stroke-linecap="square"/>
<path d="M314 376.7h0M314.7 380.7h0M315.3 377.4h0M314.5 378.2h0M314.8 379.4h0M314.4 380.6h0M314.9 378.5h0M315.5 379.8h0M315.5 378.7h0M314.6 382.4h0M316.4 381.9h0M316.5 379h0M316.8 384.1h0M316.5 383.9h0M317 380.6h0M316.9 381.7h0M317.2 379.8h0M317.5 382.7h0" stroke="#df341e" stroke-width="1.7" stroke-linecap="square"/>
<path d="M318 381.7h0M318.2 383.7h0M318.1 383.1h0M318.6 384.9h0M318.3 385h0M319 385.7h0M318.5 385.9h0M319 384.8h0M319.2 386.9h0M320.5 385.9h0M319.4 385.1h0M319.9 388.8h0M320.6 390.2h0M320.5 387.5h0M321.1 389.6h0M320.7 389.4h0M321.7 392.5h0" stroke="#d6261d" stroke-width="1.7" stroke-linecap="square"/>
<path d="M321.8 389.6h0M322.2 392.2h0M322.4 392.2h0M322.2 391.8h0M321.1 391.6h0M322.6 390.4h0M322.4 393.9h0M323.2 392.9h0M323.6 390.3h0M323.2 393h0M323.2 396.1h0M323.8 391.8h0M324.5 393.1h0M325.1 393.9h0M324.4 393.9h0M324.4 393.4h0M324.5 393.6h0M325.2 392.6h0" stroke="#c9211c" stroke-width="1.7" stroke-linecap="square"/>
<path d="M324.8 391.8h0M325.1 391.7h0M325.7 395.3h0M325.4 390.5h0M325.8 392.8h0M326.1 391.4h0M326.8 391.8h0M327.6 391.9h0M326.8 391.1h0M327.3 388.2h0M328.6 390.8h0M327.6 389h0M327.8 388.4h0M327.6 388.3h0M327.3 388.6h0M328.8 385.3h0M328.3 388h0" stroke="#bd1c1a" stroke-width="1.7" stroke-linecap="square"/>
<path d="M329.3 390.5h0M329.3 390.3h0M328.8 391.3h0M329.5 390.5h0M328.8 388.2h0M329.2 387.5h0M330.4 389.9h0M329.7 390h0M330 389h0M330.7 384.3h0M330.1 389.2h0M331.6 386.5h0M332.2 389.7h0M332.1 392.7h0M331.9 386.6h0M332.5 390.2h0M332 391.4h0M332.3 390h0" stroke="#ae1818" stroke-width="1.7" stroke-linecap="square"/>
<path d="M333 388.9h0M333.3 387.8h0M333.1 384.7h0M334.1 389.7h0M334.4 386.2h0M334.6 386.7h0M333.3 388h0M333.2 389.6h0M334.2 385.2h0M334.8 386.8h0M335.4 388.6h0M335.8 386.7h0M335 388h0M335.5 386h0M336.6 387.5h0M336 384h0M337.9 383.9h0" stroke="#981717" stroke-width="1.7" stroke-linecap="square"/>
<path d="M336.6 387.4h0M337.1 386.3h0M336.6 384.5h0M338.4 388.1h0M337 387.5h0M337 385.3h0M337.1 385.6h0M338.2 385.4h0M337.5 386.4h0M338.6 385.1h0M338.9 387.5h0M339.5 384.3h0M339.8 387.8h0M339.6 388h0M339.5 385.3h0M339.1 381.9h0M340.6 387.8h0M339.9 386.6h0" stroke="#831515" stroke-width="1.7" stroke-linecap="square"/>
<path d="M189.7 382.5h0" stroke="#112173" stroke-width="1.8" stroke-linecap="square"/>
<path d="M193 352.5h0M193 356.6h0M195.4 426.3h0" stroke="#13277e" stroke-width="1.8" stroke-linecap="square"/>
<path d="M201 382.5h0M201 389h0" stroke="#173492" stroke-width="1.8" stroke-linecap="square"/>
<path d="M207.5 382.5h0" stroke="#183a9d" stroke-width="1.8" stroke-linecap="square"/>
<path d="M209.1 386.5h0" stroke="#1b43a7" stroke-width="1.8" stroke-linecap="square"/>
<path d="M223.7 382.5h0" stroke="#256fcc" stroke-width="1.8" stroke-linecap="square"/>
<path d="M230.2 426.8h0" stroke="#2780d3" stroke-width="1.8" stroke-linecap="square"/>
<path d="M231.8 418.2h0" stroke="#2a90d9" stroke-width="1.8" stroke-linecap="square"/>
<path d="M236.7 376h0M236.7 380h0M235.9 429h0" stroke="#2ca0df" stroke-width="1.8" stroke-linecap="square"/>
<path d="M241.5 381.7h0M239.6 412.2h0" stroke="#35aadc" stroke-width="1.8" stroke-linecap="square"/>
<path d="M244.8 389.8h0M245.6 393h0" stroke="#40b2d4" stroke-width="1.8" stroke-linecap="square"/>
<path d="M248.8 359h0M249.3 421.4h0" stroke="#4bb9cd" stroke-width="1.8" stroke-linecap="square"/>
<path d="M252 382.5h0" stroke="#57c1c5" stroke-width="1.8" stroke-linecap="square"/>
<path d="M256.9 382.5h0" stroke="#61c4b4" stroke-width="1.8" stroke-linecap="square"/>
<path d="M260.1 396.2h0M259.8 396.3h0" stroke="#6bc59f" stroke-width="1.8" stroke-linecap="square"/>
<path d="M261.8 382.5h0" stroke="#75c68a" stroke-width="1.8" stroke-linecap="square"/>
<path d="M266.6 373.6h0" stroke="#7fc874" stroke-width="1.8" stroke-linecap="square"/>
<path d="M270.7 398.7h0M269 404h0M271 398.4h0M269 444.6h0" stroke="#91cb61" stroke-width="1.8" stroke-linecap="square"/>
<path d="M272.3 334.7h0M274.2 337.1h0M273.6 346.4h0" stroke="#a7d04e" stroke-width="1.8" stroke-linecap="square"/>
<path d="M282 394.6h0" stroke="#d1d72d" stroke-width="1.8" stroke-linecap="square"/>
<path d="M283.6 382.5h0" stroke="#e4d722" stroke-width="1.8" stroke-linecap="square"/>
<path d="M295 380.9h0" stroke="#f2ab1c" stroke-width="1.8" stroke-linecap="square"/>
<path d="M303.1 386.5h0" stroke="#ee801e" stroke-width="1.8" stroke-linecap="square"/>
<path d="M320.9 382.5h0" stroke="#d6261d" stroke-width="1.8" stroke-linecap="square"/>
<path d="M325.7 399.2h0" stroke="#bd1c1a" stroke-width="1.8" stroke-linecap="square"/>
<path d="M339.5 380.9h0" stroke="#831515" stroke-width="1.8" stroke-linecap="square"/>
<path d="M355.2 325V443.8H506.9" stroke="#a0a0a0" stroke-width="1.2" fill="none"/>
<text transform="translate(353.4 341.3) scale(.5)" class="e">1</text>
<text transform="translate(353.4 364.6) scale(.5)" class="e">0.5</text>
<text transform="translate(353.4 388) scale(.5)" class="e">0</text>
<text transform="translate(353.4 411.4) scale(.5)" class="e">-0.5</text>
<text transform="translate(353.4 434.7) scale(.5)" class="e">-1</text>
<text transform="translate(373.2 450) scale(.5)" class="m">100</text>
<text transform="translate(391.3 450) scale(.5)" class="m">200</text>
<text transform="translate(409.3 450) scale(.5)" class="m">300</text>
<text transform="translate(427.4 450) scale(.5)" class="m">400</text>
<text transform="translate(445.4 450) scale(.5)" class="m">500</text>
<text transform="translate(463.4 450) scale(.5)" class="m">600</text>
<text transform="translate(481.5 450) scale(.5)" class="m">700</text>
<text transform="translate(499.5 450) scale(.5)" class="m">800</text>
<path d="M355.2 339.7h1.5M355.2 363h1.5M355.2 386.4h1.5M355.2 409.8h1.5M355.2 433.1h1.5M373.2 443.8v-1.5M391.3 443.8v-1.5M409.3 443.8v-1.5M427.4 443.8v-1.5M445.4 443.8v-1.5M463.4 443.8v-1.5M481.5 443.8v-1.5M499.5 443.8v-1.5" stroke="#a0a0a0" stroke-width="0.7"/>
<path d="M355.2 326h0M355.6 326.1h0M355.9 325.2h0M356.3 325.8h0M356.6 325.6h0M357 325.9h0M357.4 325.8h0M357.7 325.5h0M358.1 325.5h0M358.5 326h0M358.8 325.9h0" stroke="#112173" stroke-width="2.1" stroke-linecap="round"/>
<path d="M359.2 325.9h0M359.5 325.7h0M359.9 326h0M360.3 326.2h0M360.6 325.9h0M361 325.7h0M361.3 325.6h0M361.7 325.8h0M362.1 326.1h0M362.4 325.5h0" stroke="#13277e" stroke-width="2.1" stroke-linecap="round"/>
<path d="M362.8 326.1h0M363.2 325.8h0M363.5 325.9h0M363.9 325.8h0M364.2 326h0M364.6 326.2h0M365 326.4h0M365.3 325.6h0M365.7 326.5h0M366 326.2h0M366.4 325.9h0" stroke="#152e88" stroke-width="2.1" stroke-linecap="round"/>
<path d="M366.8 326.4h0M367.1 326.4h0M367.5 326.3h0M367.9 327h0M368.2 326.8h0M368.6 326.9h0M368.9 326.4h0M369.3 326.9h0M369.7 326.8h0M370 327.2h0" stroke="#173492" stroke-width="2.1" stroke-linecap="round"/>
<path d="M370.4 327.6h0M370.8 327.6h0M371.1 327.6h0M371.5 327.3h0M371.8 327.3h0M372.2 326.9h0M372.6 327.8h0M372.9 327.6h0M373.3 327.8h0M373.6 327.7h0M374 328.3h0" stroke="#183a9d" stroke-width="2.1" stroke-linecap="round"/>
<path d="M374.4 328.1h0M374.7 328.4h0M375.1 328.7h0M375.5 328.3h0M375.8 328.5h0M376.2 328.6h0M376.5 328.9h0M376.9 329.5h0M377.3 329h0M377.6 329h0" stroke="#1b43a7" stroke-width="2.1" stroke-linecap="round"/>
<path d="M378 328.7h0M378.3 329.2h0M378.7 329.8h0M379.1 330.2h0M379.4 329.7h0M379.8 330.7h0M380.2 330.7h0M380.5 330.4h0M380.9 330.3h0M381.2 330.8h0M381.6 331.1h0" stroke="#1d4db1" stroke-width="2.1" stroke-linecap="round"/>
<path d="M382 330.7h0M382.3 331.1h0M382.7 331.4h0M383 331.9h0M383.4 331.7h0M383.8 332.5h0M384.1 332.2h0M384.5 332.7h0M384.9 333.3h0M385.2 333h0" stroke="#2057bb" stroke-width="2.1" stroke-linecap="round"/>
<path d="M385.6 333.6h0M385.9 332.9h0M386.3 334.2h0M386.7 333.9h0M387 333.9h0M387.4 334.5h0M387.7 334.5h0M388.1 335h0M388.5 335.5h0M388.8 335.3h0M389.2 335.6h0" stroke="#2261c5" stroke-width="2.1" stroke-linecap="round"/>
<path d="M389.6 336h0M389.9 336.1h0M390.3 336.8h0M390.6 336.4h0M391 336.9h0M391.4 337.5h0M391.7 338h0M392.1 338.2h0M392.5 338.8h0M392.8 338.9h0" stroke="#256fcc" stroke-width="2.1" stroke-linecap="round"/>
<path d="M393.2 339.4h0M393.5 339.9h0M393.9 340.2h0M394.3 340.5h0M394.6 340.5h0M395 340.8h0M395.3 341h0M395.7 342h0M396.1 341.8h0M396.4 342h0M396.8 342.4h0" stroke="#2780d3" stroke-width="2.1" stroke-linecap="round"/>
<path d="M397.2 342.9h0M397.5 343h0M397.9 342.9h0M398.2 343.1h0M398.6 343.3h0M399 343.9h0M399.3 343.8h0M399.7 344.2h0M400 344.7h0M400.4 345.2h0" stroke="#2a90d9" stroke-width="2.1" stroke-linecap="round"/>
<path d="M400.8 345.3h0M401.1 345.2h0M401.5 346.2h0M401.9 345.9h0M402.2 346.1h0M402.6 346.5h0M402.9 347.3h0M403.3 347.6h0M403.7 347.9h0M404 348.3h0M404.4 348.7h0" stroke="#2ca0df" stroke-width="2.1" stroke-linecap="round"/>
<path d="M404.7 349.4h0M405.1 349.4h0M405.5 349.9h0M405.8 350h0M406.2 350.9h0M406.6 351.1h0M406.9 351.7h0M407.3 352.4h0M407.6 352.3h0M408 353h0" stroke="#35aadc" stroke-width="2.1" stroke-linecap="round"/>
<path d="M408.4 353.1h0M408.7 353.8h0M409.1 354.6h0M409.4 354.8h0M409.8 354.7h0M410.2 355.4h0M410.5 355.9h0M410.9 356.4h0M411.3 356.8h0M411.6 357.5h0M412 357.4h0" stroke="#40b2d4" stroke-width="2.1" stroke-linecap="round"/>
<path d="M412.3 358h0M412.7 357.8h0M413.1 358.2h0M413.4 358.9h0M413.8 359h0M414.2 359.4h0M414.5 359.3h0M414.9 359.1h0M415.2 360h0M415.6 360h0" stroke="#4bb9cd" stroke-width="2.1" stroke-linecap="round"/>
<path d="M416 360.6h0M416.3 360.5h0M416.7 360.6h0M417 360.6h0M417.4 361.2h0M417.8 361.5h0M418.1 361.1h0M418.5 361.2h0M418.9 361.7h0M419.2 361.8h0M419.6 362h0" stroke="#57c1c5" stroke-width="2.1" stroke-linecap="round"/>
<path d="M419.9 362.4h0M420.3 362.5h0M420.7 362.4h0M421 362.6h0M421.4 362.8h0M421.7 362.8h0M422.1 363.2h0M422.5 363h0M422.8 363.8h0M423.2 363.2h0" stroke="#61c4b4" stroke-width="2.1" stroke-linecap="round"/>
<path d="M423.6 363.4h0M423.9 363.2h0M424.3 363.9h0M424.6 363.6h0M425 364.2h0M425.4 364.2h0M425.7 364h0M426.1 364.6h0M426.4 364.9h0M426.8 365h0M427.2 365.5h0" stroke="#6bc59f" stroke-width="2.1" stroke-linecap="round"/>
<path d="M427.5 366.2h0M427.9 366.5h0M428.3 367.1h0M428.6 367.6h0M429 367.7h0M429.3 369h0M429.7 369.3h0M430.1 369.8h0M430.4 370.6h0M430.8 370.7h0" stroke="#75c68a" stroke-width="2.1" stroke-linecap="round"/>
<path d="M431.1 371.7h0M431.5 372.1h0M431.9 373.1h0M432.2 374h0M432.6 374.8h0M433 376.3h0M433.3 376.5h0M433.7 377.6h0M434 379.1h0M434.4 380.5h0" stroke="#7fc874" stroke-width="2.1" stroke-linecap="round"/>
<path d="M434.8 381.5h0M435.1 383.6h0M435.5 385.5h0M435.9 386.1h0M436.2 387.9h0M436.6 389.5h0M436.9 390.6h0M437.3 391.7h0M437.7 393.4h0M438 395.3h0M438.4 396.3h0" stroke="#91cb61" stroke-width="2.1" stroke-linecap="round"/>
<path d="M438.7 397.9h0M439.1 399.5h0M439.5 400.5h0M439.8 401.8h0M440.2 403.9h0M440.6 405.4h0M440.9 407.8h0M441.3 409.9h0M441.6 411.8h0M442 414.4h0" stroke="#a7d04e" stroke-width="2.1" stroke-linecap="round"/>
<path d="M442.4 415h0M442.7 416.6h0M443.1 417.6h0M443.4 419.2h0M443.8 420.4h0M444.2 421.6h0M444.5 422.5h0M444.9 424.3h0M445.3 424.6h0M445.6 425.6h0M446 426.6h0" stroke="#bdd53b" stroke-width="2.1" stroke-linecap="round"/>
<path d="M446.3 427.4h0M446.7 428.1h0M447.1 428.7h0M447.4 429h0M447.8 429.2h0M448.1 429h0M448.5 429.8h0M448.9 430.4h0M449.2 430.7h0M449.6 430.3h0" stroke="#d1d72d" stroke-width="2.1" stroke-linecap="round"/>
<path d="M450 431h0M450.3 430.5h0M450.7 430.6h0M451 430.6h0M451.4 431.2h0M451.8 430.6h0M452.1 431.4h0M452.5 431.6h0M452.8 431.9h0M453.2 433h0M453.6 432.9h0" stroke="#e4d722" stroke-width="2.1" stroke-linecap="round"/>
<path d="M453.9 433.1h0M454.3 432.7h0M454.7 433.3h0M455 433.5h0M455.4 433.8h0M455.7 434.1h0M456.1 434.8h0M456.5 434.9h0M456.8 434.8h0M457.2 434.2h0" stroke="#f5d519" stroke-width="2.1" stroke-linecap="round"/>
<path d="M457.6 435.3h0M457.9 435.3h0M458.3 435.7h0M458.6 435.7h0M459 435.8h0M459.4 435.2h0M459.7 436.1h0M460.1 435.8h0M460.4 436.1h0M460.8 435.2h0M461.2 436.1h0" stroke="#f3c01b" stroke-width="2.1" stroke-linecap="round"/>
<path d="M461.5 435.9h0M461.9 435.7h0M462.3 436.1h0M462.6 436.5h0M463 436.4h0M463.3 436.6h0M463.7 436.5h0M464.1 436.3h0M464.4 436.8h0M464.8 436.6h0" stroke="#f2ab1c" stroke-width="2.1" stroke-linecap="round"/>
<path d="M465.1 436.2h0M465.5 436.6h0M465.9 436.4h0M466.2 436.5h0M466.6 437.1h0M467 437.5h0M467.3 437h0M467.7 436.7h0M468 437.2h0M468.4 436.9h0M468.8 436.9h0" stroke="#f1961d" stroke-width="2.1" stroke-linecap="round"/>
<path d="M469.1 437h0M469.5 437.1h0M469.8 437.4h0M470.2 436.9h0M470.6 437.2h0M470.9 437.5h0M471.3 437.6h0M471.7 437h0M472 437.1h0M472.4 437.8h0" stroke="#ee801e" stroke-width="2.1" stroke-linecap="round"/>
<path d="M472.7 436.8h0M473.1 437.6h0M473.5 437.2h0M473.8 437.5h0M474.2 437.1h0M474.5 437.3h0M474.9 437.2h0M475.3 436.9h0M475.6 437.3h0M476 437.6h0M476.4 437.6h0" stroke="#e9671e" stroke-width="2.1" stroke-linecap="round"/>
<path d="M476.7 437.3h0M477.1 437.4h0M477.4 437.7h0M477.8 437.4h0M478.2 437.8h0M478.5 437.9h0M478.9 437.7h0M479.2 437.3h0M479.6 437.7h0M480 438h0" stroke="#e44d1e" stroke-width="2.1" stroke-linecap="round"/>
<path d="M480.3 437.6h0M480.7 438.3h0M481.1 437.9h0M481.4 438.1h0M481.8 438.6h0M482.1 438.6h0M482.5 439.3h0M482.9 438.9h0M483.2 439h0M483.6 439.1h0M484 439.6h0" stroke="#df341e" stroke-width="2.1" stroke-linecap="round"/>
<path d="M484.3 439.5h0M484.7 440.1h0M485 440.2h0M485.4 440.3h0M485.8 439.9h0M486.1 440.8h0M486.5 441.5h0M486.8 440.3h0M487.2 440.9h0M487.6 441.2h0" stroke="#d6261d" stroke-width="2.1" stroke-linecap="round"/>
<path d="M487.9 440.7h0M488.3 441h0M488.7 441.5h0M489 441h0M489.4 441.7h0M489.7 441.7h0M490.1 441.8h0M490.5 441.9h0M490.8 442.9h0M491.2 442.7h0M491.5 441.8h0" stroke="#c9211c" stroke-width="2.1" stroke-linecap="round"/>
<path d="M491.9 442.6h0M492.3 442.9h0M492.6 443.3h0M493 443.1h0M493.4 442.8h0M493.7 443.5h0M494.1 442.9h0M494.4 443.4h0M494.8 443.6h0M495.2 443.3h0" stroke="#bd1c1a" stroke-width="2.1" stroke-linecap="round"/>
<path d="M495.5 443.8h0M495.9 443.8h0M496.2 443.3h0M496.6 443.7h0M497 443.5h0M497.3 443.8h0M497.7 443.6h0M498.1 443.9h0M498.4 443.7h0M498.8 443.4h0M499.1 443.7h0" stroke="#ae1818" stroke-width="2.1" stroke-linecap="round"/>
<path d="M499.5 443.8h0M499.9 443.8h0M500.2 443.9h0M500.6 443.9h0M500.9 443.5h0M501.3 443.8h0M501.7 443h0M502 443.8h0M502.4 443.7h0M502.8 443.4h0" stroke="#981717" stroke-width="2.1" stroke-linecap="round"/>
<path d="M503.1 443.4h0M503.5 443.9h0M503.8 443.2h0M504.2 443.5h0M504.6 443.4h0M504.9 443.3h0M505.3 443.6h0M505.7 443.5h0M506 443.5h0M506.4 443.4h0M506.7 443.8h0" stroke="#831515" stroke-width="2.1" stroke-linecap="round"/>
<path d="M519.7 325V444.6H671.1" stroke="#a0a0a0" stroke-width="1.2" fill="none"/>
<text transform="translate(517.9 349.2) scale(.5)" class="e">1</text>
<text transform="translate(517.9 369.5) scale(.5)" class="e">0.5</text>
<text transform="translate(517.9 389.8) scale(.5)" class="e">0</text>
<text transform="translate(517.9 410.1) scale(.5)" class="e">-0.5</text>
<text transform="translate(517.9 430.4) scale(.5)" class="e">-1</text>
<text transform="translate(536.9 450.8) scale(.5)" class="m">100</text>
<text transform="translate(554.2 450.8) scale(.5)" class="m">200</text>
<text transform="translate(571.4 450.8) scale(.5)" class="m">300</text>
<text transform="translate(588.7 450.8) scale(.5)" class="m">400</text>
<text transform="translate(606 450.8) scale(.5)" class="m">500</text>
<text transform="translate(623.3 450.8) scale(.5)" class="m">600</text>
<text transform="translate(640.6 450.8) scale(.5)" class="m">700</text>
<text transform="translate(657.8 450.8) scale(.5)" class="m">800</text>
<path d="M519.7 347.6h1.5M519.7 367.9h1.5M519.7 388.2h1.5M519.7 408.5h1.5M519.7 428.8h1.5M536.9 444.6v-1.5M554.2 444.6v-1.5M571.4 444.6v-1.5M588.7 444.6v-1.5M606 444.6v-1.5M623.3 444.6v-1.5M640.6 444.6v-1.5M657.8 444.6v-1.5" stroke="#a0a0a0" stroke-width="0.7"/>
<path d="M519.6 327.6h0M519.8 327.9h0M519.9 327.6h0M520.1 327.3h0M520.3 327.9h0M520.5 327.7h0M520.6 328.1h0M520.8 327.9h0M521 327.7h0M521.2 327.7h0M521.3 327.8h0M521.5 328h0M521.7 327.9h0M521.8 327.4h0M522 327.6h0M522.2 327.7h0M522.4 328.4h0M522.5 327.8h0M522.7 327.6h0M522.9 328.1h0M523.1 327.5h0M523.2 327.9h0" stroke="#112173" stroke-width="1.85" stroke-linecap="round"/>
<path d="M523.4 327.8h0M523.6 328h0M523.8 327.9h0M523.9 328.3h0M524.1 327.8h0M524.3 328.3h0M524.4 328.3h0M524.6 328.4h0M524.8 328.3h0M525 328.7h0M525.1 328.2h0M525.3 327.9h0M525.5 329h0M525.7 328.5h0M525.8 328.3h0M526 328.8h0M526.2 328.2h0M526.3 329h0M526.5 328.5h0M526.7 328.8h0M526.9 328.8h0M527 328.5h0" stroke="#13277e" stroke-width="1.85" stroke-linecap="round"/>
<path d="M527.2 328h0M527.4 328h0M527.6 328.7h0M527.7 328.4h0M527.9 328.8h0M528.1 328.4h0M528.2 328.9h0M528.4 328.7h0M528.6 329.1h0M528.8 328.8h0M528.9 329h0M529.1 329.3h0M529.3 328.6h0M529.5 329h0M529.6 329.2h0M529.8 329h0M530 329.1h0M530.2 329.1h0M530.3 329.1h0M530.5 329.5h0M530.7 329.8h0M530.8 329.5h0" stroke="#152e88" stroke-width="1.85" stroke-linecap="round"/>
<path d="M531 329.8h0M531.2 329.5h0M531.4 329.6h0M531.5 329.8h0M531.7 330.4h0M531.9 329.5h0M532.1 330h0M532.2 330h0M532.4 330h0M532.6 330.1h0M532.7 330.1h0M532.9 330.2h0M533.1 330.2h0M533.3 330.3h0M533.4 330.2h0M533.6 330.3h0M533.8 330.3h0M534 330.4h0M534.1 331h0M534.3 330.7h0M534.5 330.8h0M534.7 331.2h0" stroke="#173492" stroke-width="1.85" stroke-linecap="round"/>
<path d="M534.8 331h0M535 331.1h0M535.2 330.5h0M535.3 331.5h0M535.5 331.6h0M535.7 331.1h0M535.9 331.5h0M536 331.9h0M536.2 331.6h0M536.4 331.9h0M536.6 331.8h0M536.7 332h0M536.9 332.4h0M537.1 331.8h0M537.2 332.1h0M537.4 332.1h0M537.6 332.2h0M537.8 332.4h0M537.9 332.2h0M538.1 332.6h0M538.3 332.8h0M538.5 332.8h0" stroke="#183a9d" stroke-width="1.85" stroke-linecap="round"/>
<path d="M538.6 332.6h0M538.8 332.8h0M539 332.7h0M539.1 332.7h0M539.3 333.3h0M539.5 333.3h0M539.7 333.5h0M539.8 333.4h0M540 332.9h0M540.2 333.6h0M540.4 333.7h0M540.5 333.8h0M540.7 333.7h0M540.9 334.2h0M541.1 334h0M541.2 334.2h0M541.4 334.1h0M541.6 334.5h0M541.7 334.2h0M541.9 334.4h0M542.1 333.8h0M542.3 334.8h0" stroke="#1b43a7" stroke-width="1.85" stroke-linecap="round"/>
<path d="M542.4 335.3h0M542.6 334.6h0M542.8 335.2h0M543 335.2h0M543.1 335.3h0M543.3 335.8h0M543.5 336.2h0M543.6 335.5h0M543.8 335.4h0M544 336h0M544.2 335.8h0M544.3 336.2h0M544.5 336.5h0M544.7 336.6h0M544.9 336.6h0M545 337.1h0M545.2 337.3h0M545.4 337.6h0M545.5 337.3h0M545.7 337.3h0M545.9 337.6h0M546.1 337.5h0" stroke="#1d4db1" stroke-width="1.85" stroke-linecap="round"/>
<path d="M546.2 337.7h0M546.4 337.8h0M546.6 338.2h0M546.8 338.3h0M546.9 338.4h0M547.1 338.6h0M547.3 338.9h0M547.5 338.9h0M547.6 339.1h0M547.8 339.6h0M548 339.4h0M548.1 339.9h0M548.3 340h0M548.5 339.9h0M548.7 340.3h0M548.8 340.3h0M549 340.9h0M549.2 340.4h0M549.4 341.2h0M549.5 341.5h0M549.7 341.4h0M549.9 341.8h0" stroke="#2057bb" stroke-width="1.85" stroke-linecap="round"/>
<path d="M550 342.1h0M550.2 342h0M550.4 342.2h0M550.6 342.5h0M550.7 342.4h0M550.9 342.7h0M551.1 342.8h0M551.3 343.4h0M551.4 343.5h0M551.6 344.3h0M551.8 344h0M552 343.9h0M552.1 344.7h0M552.3 344.4h0M552.5 344.9h0M552.6 344.6h0M552.8 345.2h0M553 345.8h0M553.2 345.4h0M553.3 345.9h0M553.5 345.9h0M553.7 346.5h0" stroke="#2261c5" stroke-width="1.85" stroke-linecap="round"/>
<path d="M553.9 346.6h0M554 347h0M554.2 347h0M554.4 346.8h0M554.5 347h0M554.7 347.4h0M554.9 347.4h0M555.1 347.8h0M555.2 347.6h0M555.4 348.2h0M555.6 348.2h0M555.8 348.4h0M555.9 347.9h0M556.1 348.7h0M556.3 348.3h0M556.4 348.6h0M556.6 348.6h0M556.8 349.2h0M557 349h0M557.1 349h0M557.3 348.9h0" stroke="#256fcc" stroke-width="1.85" stroke-linecap="round"/>
<path d="M557.5 349.4h0M557.7 349.4h0M557.8 348.9h0M558 349.6h0M558.2 349.6h0M558.4 349.7h0M558.5 349.7h0M558.7 349.8h0M558.9 350.1h0M559 350h0M559.2 350h0M559.4 350.7h0M559.6 350.2h0M559.7 350.1h0M559.9 350.8h0M560.1 350.6h0M560.3 351h0M560.4 351h0M560.6 350.9h0M560.8 350.6h0M560.9 351h0M561.1 351.1h0" stroke="#2780d3" stroke-width="1.85" stroke-linecap="round"/>
<path d="M561.3 351.3h0M561.5 351.4h0M561.6 351.3h0M561.8 351.6h0M562 351.2h0M562.2 351.7h0M562.3 352h0M562.5 351.9h0M562.7 352.2h0M562.8 352.3h0M563 352.3h0M563.2 352.7h0M563.4 352.4h0M563.5 353h0M563.7 353h0M563.9 353.1h0M564.1 353.2h0M564.2 353h0M564.4 353.9h0M564.6 353.7h0M564.8 353.5h0M564.9 353.8h0" stroke="#2a90d9" stroke-width="1.85" stroke-linecap="round"/>
<path d="M565.1 353.9h0M565.3 354.6h0M565.4 354.9h0M565.6 354.8h0M565.8 354.5h0M566 355.1h0M566.1 355.3h0M566.3 354.9h0M566.5 355.6h0M566.7 356.2h0M566.8 356.2h0M567 356.2h0M567.2 356.4h0M567.3 356.4h0M567.5 356.5h0M567.7 357h0M567.9 357.1h0M568 357.5h0M568.2 357.8h0M568.4 357.8h0M568.6 357.7h0M568.7 358.2h0" stroke="#2ca0df" stroke-width="1.85" stroke-linecap="round"/>
<path d="M568.9 358.5h0M569.1 358.8h0M569.3 359.3h0M569.4 359.5h0M569.6 359.4h0M569.8 360.3h0M569.9 360.3h0M570.1 360.4h0M570.3 360.7h0M570.5 360.8h0M570.6 361.5h0M570.8 362.1h0M571 361.9h0M571.2 363.1h0M571.3 362.8h0M571.5 363.8h0M571.7 363.8h0M571.8 364.5h0M572 364.6h0M572.2 365.5h0M572.4 365.8h0M572.5 365.9h0" stroke="#35aadc" stroke-width="1.85" stroke-linecap="round"/>
<path d="M572.7 366.4h0M572.9 367.3h0M573.1 367.1h0M573.2 367.4h0M573.4 368.1h0M573.6 368.7h0M573.7 369h0M573.9 368.9h0M574.1 369.7h0M574.3 369.9h0M574.4 370.1h0M574.6 370.6h0M574.8 371.1h0M575 371.6h0M575.1 371.9h0M575.3 372.4h0M575.5 373.3h0M575.7 372.6h0M575.8 373.6h0M576 374.2h0M576.2 374.2h0M576.3 374.6h0" stroke="#40b2d4" stroke-width="1.85" stroke-linecap="round"/>
<path d="M576.5 375h0M576.7 375.4h0M576.9 375.7h0M577 375.9h0M577.2 376h0M577.4 376.7h0M577.6 376.1h0M577.7 376.7h0M577.9 376.9h0M578.1 376.9h0M578.2 376.8h0M578.4 377h0M578.6 377.3h0M578.8 377.2h0M578.9 378.2h0M579.1 378.1h0M579.3 378.2h0M579.5 378h0M579.6 378.1h0M579.8 378.5h0M580 378.2h0M580.1 378.6h0" stroke="#4bb9cd" stroke-width="1.85" stroke-linecap="round"/>
<path d="M580.3 378.9h0M580.5 378.8h0M580.7 379.2h0M580.8 379h0M581 379.2h0M581.2 379.4h0M581.4 379.5h0M581.5 379.6h0M581.7 379.3h0M581.9 379.7h0M582.1 379.9h0M582.2 379.4h0M582.4 379.6h0M582.6 379.6h0M582.7 380h0M582.9 380.2h0M583.1 379.7h0M583.3 380.2h0M583.4 379.9h0M583.6 380.2h0M583.8 380.6h0M584 380.6h0" stroke="#57c1c5" stroke-width="1.85" stroke-linecap="round"/>
<path d="M584.1 380.5h0M584.3 380.2h0M584.5 380.5h0M584.6 381.2h0M584.8 380.9h0M585 380.6h0M585.2 381.2h0M585.3 381.1h0M585.5 381.4h0M585.7 381.6h0M585.9 381.4h0M586 381.7h0M586.2 382.1h0M586.4 381.9h0M586.5 382.3h0M586.7 382.3h0M586.9 382.4h0M587.1 382.8h0M587.2 382.7h0M587.4 383h0M587.6 383.2h0M587.8 383h0" stroke="#61c4b4" stroke-width="1.85" stroke-linecap="round"/>
<path d="M587.9 383.7h0M588.1 383.2h0M588.3 383.7h0M588.5 383.8h0M588.6 384.2h0M588.8 383.7h0M589 384.3h0M589.1 384.4h0M589.3 384.7h0M589.5 384.7h0M589.7 385.2h0M589.8 385.5h0M590 385.4h0M590.2 385.2h0M590.4 385.6h0M590.5 385.7h0M590.7 386.2h0M590.9 386h0M591 386.5h0M591.2 386.2h0M591.4 387.2h0M591.6 386.9h0" stroke="#6bc59f" stroke-width="1.85" stroke-linecap="round"/>
<path d="M591.7 386.9h0M591.9 387.5h0M592.1 387.6h0M592.3 388.2h0M592.4 388.4h0M592.6 387.7h0M592.8 388.6h0M593 388.8h0M593.1 388.6h0M593.3 389.1h0M593.5 388.9h0M593.6 389.6h0M593.8 389.6h0M594 389.9h0M594.2 390.3h0M594.3 390.1h0M594.5 390.1h0M594.7 390.4h0M594.9 390.4h0M595 390.6h0M595.2 390.6h0" stroke="#75c68a" stroke-width="1.85" stroke-linecap="round"/>
<path d="M595.4 391.4h0M595.5 391.4h0M595.7 390.9h0M595.9 391.3h0M596.1 391.4h0M596.2 391.9h0M596.4 391.3h0M596.6 391.5h0M596.8 391.7h0M596.9 391.9h0M597.1 391.9h0M597.3 391.9h0M597.4 391.9h0M597.6 392.1h0M597.8 391.6h0M598 392h0M598.1 392.3h0M598.3 391.9h0M598.5 391.8h0M598.7 392h0M598.8 392.2h0M599 392.1h0" stroke="#7fc874" stroke-width="1.85" stroke-linecap="round"/>
<path d="M599.2 392.5h0M599.4 392.4h0M599.5 392.4h0M599.7 392.2h0M599.9 392.4h0M600 392.5h0M600.2 392.5h0M600.4 392.3h0M600.6 392.3h0M600.7 392h0M600.9 392.6h0M601.1 392.5h0M601.3 392.3h0M601.4 392.6h0M601.6 392.7h0M601.8 392.3h0M601.9 392.7h0M602.1 392.8h0M602.3 393.1h0M602.5 392.9h0M602.6 392.4h0M602.8 392.7h0" stroke="#91cb61" stroke-width="1.85" stroke-linecap="round"/>
<path d="M603 393h0M603.2 393h0M603.3 393.1h0M603.5 393.2h0M603.7 392.9h0M603.8 393.2h0M604 393.6h0M604.2 394h0M604.4 394.8h0M604.5 394.2h0M604.7 395.1h0M604.9 394.5h0M605.1 395.6h0M605.2 395.4h0M605.4 395.5h0M605.6 396.2h0M605.8 396.1h0M605.9 396.7h0M606.1 396.7h0M606.3 397.5h0M606.4 397.8h0M606.6 398h0" stroke="#a7d04e" stroke-width="1.85" stroke-linecap="round"/>
<path d="M606.8 397.8h0M607 398.4h0M607.1 398.8h0M607.3 398.9h0M607.5 398.8h0M607.7 399.4h0M607.8 399.6h0M608 399.6h0M608.2 399.5h0M608.3 399.8h0M608.5 399.5h0M608.7 400h0M608.9 400.2h0M609 400.1h0M609.2 400.2h0M609.4 400.2h0M609.6 400.3h0M609.7 401.1h0M609.9 400.6h0M610.1 400.8h0M610.3 401.7h0M610.4 400.9h0" stroke="#bdd53b" stroke-width="1.85" stroke-linecap="round"/>
<path d="M610.6 401.5h0M610.8 400.5h0M610.9 401.3h0M611.1 401.7h0M611.3 402h0M611.5 401.9h0M611.6 401.8h0M611.8 401.8h0M612 402.3h0M612.2 402.4h0M612.3 403.2h0M612.5 403.2h0M612.7 402.6h0M612.8 402.9h0M613 403.3h0M613.2 403.2h0M613.4 403.7h0M613.5 403.7h0M613.7 403.9h0M613.9 403.8h0M614.1 404.3h0M614.2 404.6h0" stroke="#d1d72d" stroke-width="1.85" stroke-linecap="round"/>
<path d="M614.4 404.7h0M614.6 405.2h0M614.7 405.8h0M614.9 406.3h0M615.1 406.2h0M615.3 407.1h0M615.4 406.8h0M615.6 407.3h0M615.8 408.1h0M616 408.5h0M616.1 408.7h0M616.3 409.1h0M616.5 409.6h0M616.7 410.1h0M616.8 410.2h0M617 410.7h0M617.2 411.4h0M617.3 411.6h0M617.5 412.2h0M617.7 412.3h0M617.9 412.9h0M618 413.5h0" stroke="#e4d722" stroke-width="1.85" stroke-linecap="round"/>
<path d="M618.2 413.5h0M618.4 413.7h0M618.6 413.9h0M618.7 414.6h0M618.9 415.3h0M619.1 415.2h0M619.2 415.8h0M619.4 416.1h0M619.6 417h0M619.8 416.8h0M619.9 417.3h0M620.1 417.5h0M620.3 418.1h0M620.5 418.5h0M620.6 418.6h0M620.8 419.3h0M621 419.3h0M621.1 419.9h0M621.3 420.3h0M621.5 421.3h0M621.7 421.3h0M621.8 421.4h0" stroke="#f5d519" stroke-width="1.85" stroke-linecap="round"/>
<path d="M622 421.8h0M622.2 422h0M622.4 422.6h0M622.5 422.8h0M622.7 423.2h0M622.9 423.4h0M623.1 423.3h0M623.2 423.6h0M623.4 423.7h0M623.6 423.7h0M623.7 424.3h0M623.9 424.6h0M624.1 424.4h0M624.3 424.3h0M624.4 424.4h0M624.6 424.7h0M624.8 424.9h0M625 424.9h0M625.1 425.1h0M625.3 425.5h0M625.5 425.3h0M625.6 425.2h0" stroke="#f3c01b" stroke-width="1.85" stroke-linecap="round"/>
<path d="M625.8 425.4h0M626 425.6h0M626.2 425h0M626.3 425.7h0M626.5 425.3h0M626.7 426h0M626.9 425.9h0M627 425.8h0M627.2 426h0M627.4 426h0M627.6 425.6h0M627.7 425.9h0M627.9 426.1h0M628.1 426.3h0M628.2 426.4h0M628.4 426.3h0M628.6 426.3h0M628.8 426.6h0M628.9 426.5h0M629.1 426.5h0M629.3 426.7h0M629.5 426.5h0" stroke="#f2ab1c" stroke-width="1.85" stroke-linecap="round"/>
<path d="M629.6 427.1h0M629.8 426.8h0M630 426.8h0M630.1 426.8h0M630.3 427.4h0M630.5 426.6h0M630.7 427.4h0M630.8 427.5h0M631 427.3h0M631.2 427.7h0M631.4 427.4h0M631.5 427.6h0M631.7 427.8h0M631.9 428.1h0M632 427.7h0M632.2 428h0M632.4 428.3h0M632.6 428.3h0M632.7 427.7h0M632.9 428.5h0M633.1 428.5h0" stroke="#f1961d" stroke-width="1.85" stroke-linecap="round"/>
<path d="M633.3 428.5h0M633.4 428.2h0M633.6 428.4h0M633.8 428.5h0M634 429.2h0M634.1 428.8h0M634.3 429.4h0M634.5 429.2h0M634.6 429.2h0M634.8 429.5h0M635 429.8h0M635.2 429.4h0M635.3 429.4h0M635.5 429.9h0M635.7 429.6h0M635.9 430h0M636 430h0M636.2 430h0M636.4 429.6h0M636.5 429.7h0M636.7 430.3h0M636.9 430.2h0" stroke="#ee801e" stroke-width="1.85" stroke-linecap="round"/>
<path d="M637.1 430h0M637.2 430.3h0M637.4 430.7h0M637.6 430.3h0M637.8 430.7h0M637.9 431.3h0M638.1 430.8h0M638.3 430.7h0M638.4 431.3h0M638.6 431.3h0M638.8 431.7h0M639 431.7h0M639.1 431.8h0M639.3 431.4h0M639.5 432.3h0M639.7 431.5h0M639.8 432.3h0M640 432.4h0M640.2 432.3h0M640.4 432.6h0M640.5 432.9h0M640.7 432.6h0" stroke="#e9671e" stroke-width="1.85" stroke-linecap="round"/>
<path d="M640.9 432.9h0M641 432.7h0M641.2 433h0M641.4 433.1h0M641.6 433.4h0M641.7 434h0M641.9 433.8h0M642.1 433.2h0M642.3 433.9h0M642.4 434h0M642.6 433.9h0M642.8 433.9h0M642.9 434.3h0M643.1 434.2h0M643.3 434.6h0M643.5 434.7h0M643.6 434.5h0M643.8 434.4h0M644 435.2h0M644.2 435.4h0M644.3 435.2h0M644.5 435.2h0" stroke="#e44d1e" stroke-width="1.85" stroke-linecap="round"/>
<path d="M644.7 435.4h0M644.9 435.9h0M645 435.3h0M645.2 436h0M645.4 435.8h0M645.5 436.1h0M645.7 436h0M645.9 436.2h0M646.1 436.3h0M646.2 436.4h0M646.4 436.7h0M646.6 437h0M646.8 437.3h0M646.9 437.4h0M647.1 437.3h0M647.3 437.3h0M647.4 437.6h0M647.6 437.8h0M647.8 438.1h0M648 438.4h0M648.1 438.1h0M648.3 438.2h0" stroke="#df341e" stroke-width="1.85" stroke-linecap="round"/>
<path d="M648.5 438.7h0M648.7 439.1h0M648.8 438.8h0M649 439.4h0M649.2 439.1h0M649.3 439.5h0M649.5 440.4h0M649.7 440.6h0M649.9 440.1h0M650 440.7h0M650.2 440.5h0M650.4 440.9h0M650.6 441.4h0M650.7 441.1h0M650.9 441.3h0M651.1 441.5h0M651.3 441.6h0M651.4 441.5h0M651.6 441.7h0M651.8 442h0M651.9 441.8h0M652.1 442.2h0" stroke="#d6261d" stroke-width="1.85" stroke-linecap="round"/>
<path d="M652.3 442.2h0M652.5 442.5h0M652.6 442.4h0M652.8 441.9h0M653 442.5h0M653.2 442.1h0M653.3 442.9h0M653.5 442.6h0M653.7 443.3h0M653.8 443h0M654 443.3h0M654.2 443.3h0M654.4 443.3h0M654.5 443.3h0M654.7 443.8h0M654.9 443.4h0M655.1 443.9h0M655.2 443.6h0M655.4 444h0M655.6 443.6h0M655.7 443.8h0M655.9 443.9h0" stroke="#c9211c" stroke-width="1.85" stroke-linecap="round"/>
<path d="M656.1 443.6h0M656.3 443.6h0M656.4 443.8h0M656.6 444h0M656.8 443.9h0M657 444.2h0M657.1 444.1h0M657.3 444.5h0M657.5 444.2h0M657.7 444h0M657.8 444.4h0M658 444.1h0M658.2 444.1h0M658.3 443.9h0M658.5 444.3h0M658.7 444.3h0M658.9 443.9h0M659 444.2h0M659.2 444.3h0M659.4 444.3h0M659.6 444.4h0M659.7 444.1h0" stroke="#bd1c1a" stroke-width="1.85" stroke-linecap="round"/>
<path d="M659.9 444.2h0M660.1 444.4h0M660.2 444.4h0M660.4 444.4h0M660.6 444.3h0M660.8 444.6h0M660.9 444.1h0M661.1 444.4h0M661.3 444.6h0M661.5 444.2h0M661.6 444h0M661.8 444h0M662 444h0M662.1 444.1h0M662.3 444.7h0M662.5 444.5h0M662.7 444.3h0M662.8 444.3h0M663 444.8h0M663.2 444.6h0M663.4 444.6h0M663.5 444.3h0" stroke="#ae1818" stroke-width="1.85" stroke-linecap="round"/>
<path d="M663.7 444.6h0M663.9 445h0M664.1 444.3h0M664.2 444.3h0M664.4 444.6h0M664.6 444.7h0M664.7 444.5h0M664.9 444.9h0M665.1 444.3h0M665.3 444.3h0M665.4 444.7h0M665.6 444.6h0M665.8 444.6h0M666 445.3h0M666.1 444.9h0M666.3 444.5h0M666.5 444.4h0M666.6 445.1h0M666.8 444.2h0M667 444.8h0M667.2 444.6h0M667.3 444.7h0" stroke="#981717" stroke-width="1.85" stroke-linecap="round"/>
<path d="M667.5 444.9h0M667.7 444.5h0M667.9 444.9h0M668 444.4h0M668.2 444.2h0M668.4 444.7h0M668.6 444.5h0M668.7 444.5h0M668.9 444.5h0M669.1 444.4h0M669.2 444.9h0M669.4 444.6h0M669.6 444.4h0M669.8 444.1h0M669.9 444.3h0M670.1 444.2h0M670.3 444.3h0M670.5 444.5h0M670.6 444.8h0M670.8 445.3h0M671 444.7h0M671.1 444.3h0" stroke="#831515" stroke-width="1.85" stroke-linecap="round"/>
<path d="M688 327V445.2H839" stroke="#a0a0a0" stroke-width="1.2" fill="none"/>
<text transform="translate(686.2 330.2) scale(.5)" class="e">0.8</text>
<text transform="translate(686.2 341.3) scale(.5)" class="e">0.7</text>
<text transform="translate(686.2 352.4) scale(.5)" class="e">0.6</text>
<text transform="translate(686.2 363.4) scale(.5)" class="e">0.5</text>
<text transform="translate(686.2 374.5) scale(.5)" class="e">0.4</text>
<text transform="translate(686.2 385.6) scale(.5)" class="e">0.3</text>
<text transform="translate(686.2 396.7) scale(.5)" class="e">0.2</text>
<text transform="translate(686.2 407.7) scale(.5)" class="e">0.1</text>
<text transform="translate(686.2 418.8) scale(.5)" class="e">0</text>
<text transform="translate(686.2 429.9) scale(.5)" class="e">-0.1</text>
<text transform="translate(686.2 440.9) scale(.5)" class="e">-0.2</text>
<text transform="translate(702.5 451.4) scale(.5)" class="m">100</text>
<text transform="translate(717.7 451.4) scale(.5)" class="m">200</text>
<text transform="translate(732.8 451.4) scale(.5)" class="m">300</text>
<text transform="translate(748 451.4) scale(.5)" class="m">400</text>
<text transform="translate(763.1 451.4) scale(.5)" class="m">500</text>
<text transform="translate(778.2 451.4) scale(.5)" class="m">600</text>
<text transform="translate(793.4 451.4) scale(.5)" class="m">700</text>
<text transform="translate(808.5 451.4) scale(.5)" class="m">800</text>
<text transform="translate(823.7 451.4) scale(.5)" class="m">900</text>
<text transform="translate(838.8 451.4) scale(.5)" class="m">1000</text>
<path d="M688 328.6h1.5M688 339.7h1.5M688 350.8h1.5M688 361.8h1.5M688 372.9h1.5M688 384h1.5M688 395.1h1.5M688 406.1h1.5M688 417.2h1.5M688 428.3h1.5M688 439.3h1.5M702.5 445.2v-1.5M717.7 445.2v-1.5M732.8 445.2v-1.5M748 445.2v-1.5M763.1 445.2v-1.5M778.2 445.2v-1.5M793.4 445.2v-1.5M808.5 445.2v-1.5M823.7 445.2v-1.5M838.8 445.2v-1.5" stroke="#a0a0a0" stroke-width="0.7"/>
<path d="M688 428.7h0M688.2 428.8h0M688.4 428.4h0M688.6 429.4h0M688.8 428h0M689 428.3h0M689.1 429.7h0M689.3 427.8h0M689.5 429.3h0M689.7 429.2h0M689.9 428.6h0M690.1 428.5h0M690.3 429.3h0M690.5 428.9h0M690.7 429.1h0M690.8 428.4h0M691 429.3h0" stroke="#112173" stroke-width="1.9" stroke-linecap="round"/>
<path d="M691.2 428.5h0M691.4 429h0M691.6 428.2h0M691.8 429.4h0M692 428.9h0M692.2 428.9h0M692.4 428.6h0M692.5 429.8h0M692.7 428.3h0M692.9 429h0M693.1 429h0M693.3 429h0M693.5 428.7h0M693.7 429.1h0M693.9 428.2h0M694.1 429.1h0M694.3 428.8h0M694.4 429h0M694.6 428.7h0M694.8 428.5h0" stroke="#13277e" stroke-width="1.9" stroke-linecap="round"/>
<path d="M695 428.4h0M695.2 428.4h0M695.4 428.9h0M695.6 429h0M695.8 429.2h0M696 428.7h0M696.1 428.5h0M696.3 429h0M696.5 429.3h0M696.7 429h0M696.9 428.8h0M697.1 428.9h0M697.3 429.3h0M697.5 428.7h0M697.7 429.2h0M697.8 429.4h0M698 429.3h0M698.2 429.9h0M698.4 429.3h0M698.6 429.7h0" stroke="#152e88" stroke-width="1.9" stroke-linecap="round"/>
<path d="M698.8 429.8h0M699 429.8h0M699.2 429.7h0M699.4 430.5h0M699.6 430.6h0M699.7 429.2h0M699.9 430.1h0M700.1 430.1h0M700.3 430.2h0M700.5 430.5h0M700.7 430.2h0M700.9 430.2h0M701.1 429.9h0M701.3 431.2h0M701.4 430.8h0M701.6 431.1h0M701.8 431.5h0M702 431.7h0M702.2 431.3h0M702.4 430.6h0" stroke="#173492" stroke-width="1.9" stroke-linecap="round"/>
<path d="M702.6 430.7h0M702.8 431.2h0M703 431.5h0M703.1 431.5h0M703.3 430.9h0M703.5 431.5h0M703.7 431.6h0M703.9 432.6h0M704.1 432.3h0M704.3 432h0M704.5 432h0M704.7 431.6h0M704.9 432.3h0M705 432.3h0M705.2 432.7h0M705.4 431.9h0M705.6 432.6h0M705.8 432.7h0M706 431.7h0M706.2 433.2h0" stroke="#183a9d" stroke-width="1.9" stroke-linecap="round"/>
<path d="M706.4 432.9h0M706.6 433.5h0M706.7 432.8h0M706.9 433.2h0M707.1 433.1h0M707.3 433.2h0M707.5 432.2h0M707.7 432.9h0M707.9 432.4h0M708.1 432.7h0M708.3 433.7h0M708.4 432.9h0M708.6 433h0M708.8 433.1h0M709 433.5h0M709.2 431.9h0M709.4 432.5h0M709.6 432.6h0M709.8 433h0M710 432.9h0" stroke="#1b43a7" stroke-width="1.9" stroke-linecap="round"/>
<path d="M710.2 432.8h0M710.3 433h0M710.5 433.1h0M710.7 432h0M710.9 432.9h0M711.1 432.6h0M711.3 432.4h0M711.5 433.1h0M711.7 432.3h0M711.9 432.7h0M712 432.9h0M712.2 432.8h0M712.4 432.5h0M712.6 433.2h0M712.8 432.6h0M713 432.7h0M713.2 432.5h0M713.4 433.1h0M713.6 432.9h0M713.8 433.2h0" stroke="#1d4db1" stroke-width="1.9" stroke-linecap="round"/>
<path d="M713.9 432.8h0M714.1 431.6h0M714.3 432.2h0M714.5 432h0M714.7 432.3h0M714.9 432.7h0M715.1 431.6h0M715.3 431.5h0M715.5 432.9h0M715.6 432.4h0M715.8 432.1h0M716 431.9h0M716.2 432.3h0M716.4 432.1h0M716.6 432.6h0M716.8 432h0M717 432.8h0M717.2 432.3h0M717.3 432.3h0M717.5 432.5h0" stroke="#2057bb" stroke-width="1.9" stroke-linecap="round"/>
<path d="M717.7 431.8h0M717.9 432.8h0M718.1 431.9h0M718.3 432h0M718.5 432h0M718.7 432.1h0M718.9 432h0M719.1 432.2h0M719.2 432.1h0M719.4 432h0M719.6 431.9h0M719.8 432.3h0M720 432.5h0M720.2 431.9h0M720.4 432.2h0M720.6 431.5h0M720.8 432.2h0M720.9 431.9h0M721.1 431.9h0M721.3 432.5h0" stroke="#2261c5" stroke-width="1.9" stroke-linecap="round"/>
<path d="M721.5 432.1h0M721.7 431.5h0M721.9 432h0M722.1 432.2h0M722.3 431.1h0M722.5 430.7h0M722.6 431.7h0M722.8 432.4h0M723 431h0M723.2 430.4h0M723.4 431.8h0M723.6 431.4h0M723.8 431.9h0M724 430.7h0M724.2 431.2h0M724.4 430.6h0M724.5 431.4h0M724.7 431.3h0M724.9 430.3h0M725.1 431.2h0" stroke="#256fcc" stroke-width="1.9" stroke-linecap="round"/>
<path d="M725.3 430.6h0M725.5 430.9h0M725.7 430h0M725.9 431.4h0M726.1 429.8h0M726.2 430.1h0M726.4 429.6h0M726.6 429.1h0M726.8 429.2h0M727 429.3h0M727.2 428.5h0M727.4 428.7h0M727.6 428.5h0M727.8 428.8h0M727.9 429h0M728.1 428.9h0M728.3 428.8h0M728.5 428.9h0M728.7 428.4h0M728.9 428h0" stroke="#2780d3" stroke-width="1.9" stroke-linecap="round"/>
<path d="M729.1 428.4h0M729.3 428.6h0M729.5 427.8h0M729.7 428.5h0M729.8 427.5h0M730 427.5h0M730.2 427.6h0M730.4 428.8h0M730.6 429.4h0M730.8 428.4h0M731 428.2h0M731.2 428.3h0M731.4 427.2h0M731.5 428.6h0M731.7 427.5h0M731.9 428h0M732.1 427.9h0M732.3 427.9h0M732.5 427.5h0M732.7 427.4h0" stroke="#2a90d9" stroke-width="1.9" stroke-linecap="round"/>
<path d="M732.9 427.9h0M733.1 428h0M733.2 427.7h0M733.4 428.5h0M733.6 427.6h0M733.8 427.5h0M734 427.9h0M734.2 428.2h0M734.4 427.5h0M734.6 426.6h0M734.8 427.5h0M735 427.4h0M735.1 427.9h0M735.3 427.8h0M735.5 427.7h0M735.7 428.8h0M735.9 428.5h0M736.1 428h0M736.3 426.5h0M736.5 427.7h0" stroke="#2ca0df" stroke-width="1.9" stroke-linecap="round"/>
<path d="M736.7 427.8h0M736.8 427.1h0M737 427.9h0M737.2 427.6h0M737.4 428.1h0M737.6 428.1h0M737.8 429h0M738 428.6h0M738.2 428.5h0M738.4 428.8h0M738.5 429.5h0M738.7 429h0M738.9 430.2h0M739.1 430.1h0M739.3 429.3h0M739.5 430.8h0M739.7 429.8h0M739.9 430.7h0M740.1 430.6h0M740.3 430.4h0" stroke="#35aadc" stroke-width="1.9" stroke-linecap="round"/>
<path d="M740.4 429.8h0M740.6 431.2h0M740.8 431.6h0M741 432.2h0M741.2 432.2h0M741.4 431.6h0M741.6 432.1h0M741.8 432.5h0M742 432.1h0M742.1 432.9h0M742.3 433h0M742.5 433.3h0M742.7 433.7h0M742.9 433.9h0M743.1 433.6h0M743.3 434h0M743.5 434.3h0M743.7 435h0M743.8 435.5h0M744 435.4h0" stroke="#40b2d4" stroke-width="1.9" stroke-linecap="round"/>
<path d="M744.2 434.8h0M744.4 435.8h0M744.6 436.5h0M744.8 436.3h0M745 435.9h0M745.2 437.5h0M745.4 436.6h0M745.6 437h0M745.7 437.8h0M745.9 437.3h0M746.1 438.4h0M746.3 437.4h0M746.5 437.9h0M746.7 439.1h0M746.9 438.7h0M747.1 439h0M747.3 438.5h0M747.4 439.3h0M747.6 438.4h0M747.8 438.4h0" stroke="#4bb9cd" stroke-width="1.9" stroke-linecap="round"/>
<path d="M748 438.6h0M748.2 439.6h0M748.4 439h0M748.6 440.3h0M748.8 439.5h0M749 439.7h0M749.1 439.3h0M749.3 439.8h0M749.5 439.9h0M749.7 440.2h0M749.9 440.7h0M750.1 440.4h0M750.3 441.2h0M750.5 440.6h0M750.7 440.4h0M750.9 440.4h0M751 440.3h0M751.2 440.8h0M751.4 440.9h0M751.6 440.8h0" stroke="#57c1c5" stroke-width="1.9" stroke-linecap="round"/>
<path d="M751.8 440.8h0M752 440.7h0M752.2 441.4h0M752.4 440.7h0M752.6 440.7h0M752.7 440.8h0M752.9 441.3h0M753.1 441.3h0M753.3 441h0M753.5 440.8h0M753.7 440.5h0M753.9 440.6h0M754.1 440.6h0M754.3 439.7h0M754.4 440.4h0M754.6 440.2h0M754.8 440h0M755 439.9h0M755.2 439.9h0M755.4 439.8h0" stroke="#61c4b4" stroke-width="1.9" stroke-linecap="round"/>
<path d="M755.6 438.6h0M755.8 439.3h0M756 439.1h0M756.2 439.5h0M756.3 439.4h0M756.5 438.8h0M756.7 438.2h0M756.9 437.4h0M757.1 437.8h0M757.3 437.5h0M757.5 436.4h0M757.7 436.2h0M757.9 437h0M758 436.5h0M758.2 436.2h0M758.4 435.1h0M758.6 434.6h0M758.8 434.6h0M759 433.7h0M759.2 433.8h0" stroke="#6bc59f" stroke-width="1.9" stroke-linecap="round"/>
<path d="M759.4 433.4h0M759.6 433.6h0M759.7 432.9h0M759.9 433.2h0M760.1 432.8h0M760.3 432h0M760.5 433.2h0M760.7 432.8h0M760.9 431.8h0M761.1 432.9h0M761.3 431.8h0M761.5 432.5h0M761.6 432h0M761.8 432.2h0M762 432.4h0M762.2 430.9h0M762.4 431.5h0M762.6 431.1h0M762.8 430.9h0M763 430.9h0" stroke="#75c68a" stroke-width="1.9" stroke-linecap="round"/>
<path d="M763.2 430.3h0M763.3 430.3h0M763.5 431.5h0M763.7 430.5h0M763.9 430.9h0M764.1 430.8h0M764.3 430.3h0M764.5 430h0M764.7 430.1h0M764.9 429.3h0M765 429.5h0M765.2 429h0M765.4 430h0M765.6 429.5h0M765.8 430.6h0M766 430.2h0M766.2 429.2h0M766.4 429.1h0M766.6 429h0M766.8 430h0" stroke="#7fc874" stroke-width="1.9" stroke-linecap="round"/>
<path d="M766.9 429h0M767.1 429.1h0M767.3 429.1h0M767.5 428.4h0M767.7 429.1h0M767.9 428.9h0M768.1 428.1h0M768.3 428.3h0M768.5 428.4h0M768.6 428.4h0M768.8 428.1h0M769 427.7h0M769.2 427h0M769.4 428.3h0M769.6 428.1h0M769.8 428.2h0M770 427.4h0M770.2 428.1h0M770.3 428.3h0M770.5 427.5h0" stroke="#91cb61" stroke-width="1.9" stroke-linecap="round"/>
<path d="M770.7 426.7h0M770.9 427.1h0M771.1 427.2h0M771.3 427.4h0M771.5 427.1h0M771.7 427.3h0M771.9 427.2h0M772.1 426.9h0M772.2 427.3h0M772.4 427.6h0M772.6 427.1h0M772.8 426.3h0M773 427.2h0M773.2 427.1h0M773.4 427.8h0M773.6 428.4h0M773.8 427.7h0M773.9 428.9h0M774.1 429h0M774.3 428.7h0" stroke="#a7d04e" stroke-width="1.9" stroke-linecap="round"/>
<path d="M774.5 427.9h0M774.7 429.1h0M774.9 429h0M775.1 429.6h0M775.3 429.7h0M775.5 430.2h0M775.7 430.5h0M775.8 430.7h0M776 430.6h0M776.2 431.9h0M776.4 432.4h0M776.6 432.1h0M776.8 433.7h0M777 434.2h0M777.2 434.4h0M777.4 435.7h0M777.5 436.1h0M777.7 436.5h0M777.9 437h0M778.1 437.2h0" stroke="#bdd53b" stroke-width="1.9" stroke-linecap="round"/>
<path d="M778.3 437.8h0M778.5 438.6h0M778.7 439h0M778.9 439.5h0M779.1 439.3h0M779.2 439.6h0M779.4 439.8h0M779.6 440.6h0M779.8 439.9h0M780 440h0M780.2 441.4h0M780.4 441h0M780.6 441.5h0M780.8 440.4h0M781 440.8h0M781.1 441.6h0M781.3 441.5h0M781.5 442.4h0M781.7 442.9h0M781.9 443.1h0" stroke="#d1d72d" stroke-width="1.9" stroke-linecap="round"/>
<path d="M782.1 442.2h0M782.3 442.4h0M782.5 443.2h0M782.7 443.3h0M782.8 443.5h0M783 444h0M783.2 443.6h0M783.4 442.6h0M783.6 443h0M783.8 443.5h0M784 443.1h0M784.2 443.8h0M784.4 443.8h0M784.5 443.6h0M784.7 444.1h0M784.9 444.3h0M785.1 444.6h0M785.3 444.1h0M785.5 444.5h0M785.7 444.5h0" stroke="#e4d722" stroke-width="1.9" stroke-linecap="round"/>
<path d="M785.9 444.4h0M786.1 444.3h0M786.3 444.6h0M786.4 443.4h0M786.6 444.8h0M786.8 444.8h0M787 445.1h0M787.2 445h0M787.4 444.2h0M787.6 445.1h0M787.8 444.7h0M788 445.2h0M788.1 444.8h0M788.3 445.1h0M788.5 445.2h0M788.7 444.9h0M788.9 444.1h0M789.1 444.5h0M789.3 444.1h0M789.5 445.1h0" stroke="#f5d519" stroke-width="1.9" stroke-linecap="round"/>
<path d="M789.7 443.9h0M789.8 444.3h0M790 444.1h0M790.2 444h0M790.4 444.2h0M790.6 443.8h0M790.8 442.9h0M791 442.6h0M791.2 442.6h0M791.4 442.5h0M791.6 443.7h0M791.7 442.5h0M791.9 442.6h0M792.1 441.8h0M792.3 441.6h0M792.5 440.8h0M792.7 440.3h0M792.9 440.8h0M793.1 440.3h0M793.3 440.8h0" stroke="#f3c01b" stroke-width="1.9" stroke-linecap="round"/>
<path d="M793.4 439.5h0M793.6 438.6h0M793.8 438.7h0M794 438.6h0M794.2 437.9h0M794.4 438.3h0M794.6 437.7h0M794.8 437.1h0M795 437h0M795.1 437.1h0M795.3 435.7h0M795.5 435.9h0M795.7 435.9h0M795.9 434h0M796.1 433.5h0M796.3 433h0M796.5 433h0M796.7 433.1h0M796.9 431.5h0M797 431.8h0" stroke="#f2ab1c" stroke-width="1.9" stroke-linecap="round"/>
<path d="M797.2 431.8h0M797.4 430.3h0M797.6 429.4h0M797.8 429.1h0M798 429.2h0M798.2 429.2h0M798.4 428.3h0M798.6 427.8h0M798.7 426.7h0M798.9 426.1h0M799.1 426.3h0M799.3 425.7h0M799.5 424.9h0M799.7 424.8h0M799.9 423h0M800.1 423.4h0M800.3 423h0M800.4 422.8h0M800.6 421.9h0M800.8 421.3h0" stroke="#f1961d" stroke-width="1.9" stroke-linecap="round"/>
<path d="M801 421.1h0M801.2 420.3h0M801.4 420.9h0M801.6 420h0M801.8 418.9h0M802 419.6h0M802.2 418.4h0M802.3 419.7h0M802.5 419h0M802.7 418.2h0M802.9 419h0M803.1 418.2h0M803.3 418.2h0M803.5 417.8h0M803.7 418.6h0M803.9 418.4h0M804 418.1h0M804.2 418h0M804.4 418.1h0M804.6 418.3h0" stroke="#ee801e" stroke-width="1.9" stroke-linecap="round"/>
<path d="M804.8 418.3h0M805 417.6h0M805.2 417.8h0M805.4 417.6h0M805.6 418.2h0M805.7 416.8h0M805.9 417.8h0M806.1 417.3h0M806.3 417.6h0M806.5 417h0M806.7 416.8h0M806.9 417.1h0M807.1 417h0M807.3 416.7h0M807.5 417h0M807.6 415.9h0M807.8 416.8h0M808 416.4h0M808.2 416.4h0M808.4 415h0" stroke="#e9671e" stroke-width="1.9" stroke-linecap="round"/>
<path d="M808.6 414.4h0M808.8 415.7h0M809 411.5h0M809.2 412.9h0M809.3 413.6h0M809.5 412h0M809.7 410.5h0M809.9 410.3h0M810.1 409h0M810.3 410.4h0M810.5 410.5h0M810.7 405.9h0M810.9 409h0M811 405.3h0M811.2 403.5h0M811.4 404.8h0M811.6 404.4h0M811.8 401.6h0M812 400h0M812.2 401.6h0" stroke="#e44d1e" stroke-width="1.9" stroke-linecap="round"/>
<path d="M812.4 400.1h0M812.6 396.5h0M812.8 396.1h0M812.9 398h0M813.1 396.6h0M813.3 395.7h0M813.5 394.4h0M813.7 394.8h0M813.9 394.3h0M814.1 392h0M814.3 390.7h0M814.5 390.8h0M814.6 391.7h0M814.8 390.6h0M815 390.4h0M815.2 387.3h0M815.4 389.9h0M815.6 387h0M815.8 383.5h0M816 383h0" stroke="#df341e" stroke-width="1.9" stroke-linecap="round"/>
<path d="M816.2 382.9h0M816.3 382.5h0M816.5 380.6h0M816.7 378.2h0M816.9 376h0M817.1 375.9h0M817.3 375.4h0M817.5 372.1h0M817.7 373.1h0M817.9 370.8h0M818.1 371.5h0M818.2 369.8h0M818.4 370h0M818.6 366.8h0M818.8 366.6h0M819 365.2h0M819.2 363.9h0M819.4 362.3h0M819.6 362.1h0M819.8 362.2h0" stroke="#d6261d" stroke-width="1.9" stroke-linecap="round"/>
<path d="M819.9 360.2h0M820.1 357.3h0M820.3 358.2h0M820.5 357.2h0M820.7 355.5h0M820.9 352.3h0M821.1 353.1h0M821.3 351.7h0M821.5 348.9h0M821.6 349.6h0M821.8 347.5h0M822 346.6h0M822.2 346.1h0M822.4 345.6h0M822.6 342.1h0M822.8 342.2h0M823 340.2h0M823.2 342.2h0M823.4 341.2h0M823.5 341.8h0" stroke="#c9211c" stroke-width="1.9" stroke-linecap="round"/>
<path d="M823.7 338.8h0M823.9 339.4h0M824.1 338.4h0M824.3 336.8h0M824.5 336.6h0M824.7 335.5h0M824.9 335.5h0M825.1 335.5h0M825.2 335.2h0M825.4 333.7h0M825.6 334.5h0M825.8 333.5h0M826 332.1h0M826.2 332.7h0M826.4 332.3h0M826.6 332.1h0M826.8 331.7h0M826.9 331.2h0M827.1 331.3h0M827.3 330.1h0" stroke="#bd1c1a" stroke-width="1.9" stroke-linecap="round"/>
<path d="M827.5 330.2h0M827.7 330.8h0M827.9 329.9h0M828.1 329.9h0M828.3 330.1h0M828.5 328.9h0M828.7 329.7h0M828.8 329.9h0M829 329h0M829.2 328.9h0M829.4 327.9h0M829.6 327.9h0M829.8 328.2h0M830 328.9h0M830.2 328.7h0M830.4 328.2h0M830.5 328h0M830.7 328.3h0M830.9 328.7h0M831.1 328.4h0" stroke="#ae1818" stroke-width="1.9" stroke-linecap="round"/>
<path d="M831.3 328.7h0M831.5 329.7h0M831.7 328.8h0M831.9 329.1h0M832.1 330h0M832.3 329.4h0M832.4 330h0M832.6 330.7h0M832.8 330.6h0M833 330.3h0M833.2 330.7h0M833.4 331h0M833.6 331.1h0M833.8 331.1h0M834 332.8h0M834.1 332.4h0M834.3 333.4h0M834.5 333.5h0M834.7 333.8h0M834.9 334.7h0" stroke="#981717" stroke-width="1.9" stroke-linecap="round"/>
<path d="M835.1 335.4h0M835.3 336.3h0M835.5 337.3h0M835.7 337.3h0M835.8 338.3h0M836 339.3h0M836.2 339.2h0M836.4 340h0M836.6 340.9h0M836.8 341.5h0M837 341.7h0M837.2 342.9h0M837.4 342.6h0M837.6 343.2h0M837.7 342.7h0M837.9 343.8h0M838.1 345h0M838.3 344.3h0M838.5 345.6h0M838.7 345.5h0M838.9 345.2h0M839.1 345.2h0M839.3 345.8h0" stroke="#831515" stroke-width="1.9" stroke-linecap="round"/>
<path d="M708.2 436.5h0" stroke="#1b43a7" stroke-width="1.8" stroke-linecap="square"/>
<path d="M719.5 436.8h0" stroke="#2261c5" stroke-width="1.8" stroke-linecap="square"/>
<path d="M743.8 438.1h0" stroke="#40b2d4" stroke-width="1.8" stroke-linecap="square"/>
<path d="M748.7 442h0M751.1 442h0" stroke="#57c1c5" stroke-width="1.8" stroke-linecap="square"/>
<path d="M760.8 426.8h0" stroke="#75c68a" stroke-width="1.8" stroke-linecap="square"/>
<path d="M772.1 418.2h0M771.3 417.4h0M773.8 423.9h0" stroke="#a7d04e" stroke-width="1.8" stroke-linecap="square"/>
<path d="M776.2 403.1h0M777 425.2h0" stroke="#bdd53b" stroke-width="1.8" stroke-linecap="square"/>
<path d="M778.3 404.8h0M781.9 436.8h0" stroke="#d1d72d" stroke-width="1.8" stroke-linecap="square"/>
<path d="M794.8 339.1h0" stroke="#f2ab1c" stroke-width="1.8" stroke-linecap="square"/>
<path d="M801 405.7h0" stroke="#ee801e" stroke-width="1.8" stroke-linecap="square"/>
<path d="M853.5 325V445.3H1004.4" stroke="#a0a0a0" stroke-width="1.2" fill="none"/>
<text transform="translate(851.7 335.9) scale(.5)" class="e">1.5</text>
<text transform="translate(851.7 352.8) scale(.5)" class="e">1</text>
<text transform="translate(851.7 369.6) scale(.5)" class="e">0.5</text>
<text transform="translate(851.7 386.5) scale(.5)" class="e">0</text>
<text transform="translate(851.7 403.4) scale(.5)" class="e">-0.5</text>
<text transform="translate(851.7 420.2) scale(.5)" class="e">-1</text>
<text transform="translate(851.7 437.1) scale(.5)" class="e">-1.5</text>
<text transform="translate(871.3 451.5) scale(.5)" class="m">100</text>
<text transform="translate(889 451.5) scale(.5)" class="m">200</text>
<text transform="translate(906.8 451.5) scale(.5)" class="m">300</text>
<text transform="translate(924.5 451.5) scale(.5)" class="m">400</text>
<text transform="translate(942.3 451.5) scale(.5)" class="m">500</text>
<text transform="translate(960.1 451.5) scale(.5)" class="m">600</text>
<text transform="translate(977.8 451.5) scale(.5)" class="m">700</text>
<text transform="translate(995.6 451.5) scale(.5)" class="m">800</text>
<path d="M853.5 334.3h1.5M853.5 351.1h1.5M853.5 368h1.5M853.5 384.9h1.5M853.5 401.8h1.5M853.5 418.6h1.5M853.5 435.5h1.5M871.3 445.3v-1.5M889 445.3v-1.5M906.8 445.3v-1.5M924.5 445.3v-1.5M942.3 445.3v-1.5M960.1 445.3v-1.5M977.8 445.3v-1.5M995.6 445.3v-1.5" stroke="#a0a0a0" stroke-width="0.7"/>
<path d="M853.5 445.8h0M853.7 445.3h0M853.9 445.1h0M854 444.9h0M854.2 445.1h0M854.4 444.9h0M854.6 444.6h0M854.7 444.6h0M854.9 444.5h0M855.1 444h0M855.3 444.2h0M855.5 444.1h0M855.6 443.8h0M855.8 443.5h0M856 443.6h0M856.2 443.4h0M856.3 443h0M856.5 443.4h0M856.7 442.9h0M856.9 442.4h0M857.1 442.5h0M857.2 442.1h0" stroke="#112173" stroke-width="1.85" stroke-linecap="round"/>
<path d="M857.4 442h0M857.6 441.9h0M857.8 442.1h0M857.9 441.9h0M858.1 441.7h0M858.3 441.4h0M858.5 441.3h0M858.7 441.4h0M858.8 441.2h0M859 441h0M859.2 441.1h0M859.4 440.6h0M859.5 440.5h0M859.7 440.2h0M859.9 440.4h0M860.1 439.8h0M860.3 439.7h0M860.4 439.7h0M860.6 439.8h0M860.8 439.4h0M861 439.1h0" stroke="#13277e" stroke-width="1.85" stroke-linecap="round"/>
<path d="M861.1 439.2h0M861.3 438.8h0M861.5 438.5h0M861.7 438.8h0M861.9 438.6h0M862 438h0M862.2 438.5h0M862.4 438.2h0M862.6 438h0M862.7 437.6h0M862.9 437.5h0M863.1 437.1h0M863.3 436.9h0M863.5 437.4h0M863.6 437.2h0M863.8 436.9h0M864 436.7h0M864.2 436.7h0M864.3 436.5h0M864.5 436.2h0M864.7 436.1h0" stroke="#152e88" stroke-width="1.85" stroke-linecap="round"/>
<path d="M864.9 436h0M865.1 435.8h0M865.2 435.1h0M865.4 435.6h0M865.6 435.3h0M865.8 435h0M865.9 435.1h0M866.1 434.8h0M866.3 434.6h0M866.5 434.6h0M866.7 434.5h0M866.8 434.1h0M867 433.9h0M867.2 434.2h0M867.4 433.8h0M867.5 433.7h0M867.7 433.5h0M867.9 433.4h0M868.1 433.4h0M868.3 432.9h0M868.4 433.1h0" stroke="#173492" stroke-width="1.85" stroke-linecap="round"/>
<path d="M868.6 432.9h0M868.8 432.6h0M869 432.4h0M869.1 432.3h0M869.3 432h0M869.5 432.1h0M869.7 431.3h0M869.9 431.3h0M870 431.5h0M870.2 431.1h0M870.4 431.2h0M870.6 430.8h0M870.7 430.9h0M870.9 430.5h0M871.1 430.2h0M871.3 430.9h0M871.5 430.5h0M871.6 430.2h0M871.8 430.4h0M872 429.6h0M872.2 429.6h0M872.3 429.7h0" stroke="#183a9d" stroke-width="1.85" stroke-linecap="round"/>
<path d="M872.5 429.4h0M872.7 429h0M872.9 429h0M873.1 428.9h0M873.2 429h0M873.4 428.7h0M873.6 428.4h0M873.8 428.2h0M873.9 428.2h0M874.1 428.4h0M874.3 427.8h0M874.5 428h0M874.7 427.6h0M874.8 427.6h0M875 427.5h0M875.2 427.3h0M875.4 427.2h0M875.5 426.9h0M875.7 426.7h0M875.9 426.4h0M876.1 426.7h0" stroke="#1b43a7" stroke-width="1.85" stroke-linecap="round"/>
<path d="M876.3 426.3h0M876.4 426.1h0M876.6 425.8h0M876.8 425.7h0M877 425.9h0M877.1 425.7h0M877.3 425.4h0M877.5 425.1h0M877.7 425.2h0M877.9 424.8h0M878 424.8h0M878.2 424.8h0M878.4 424.7h0M878.6 424.3h0M878.7 424.4h0M878.9 424.2h0M879.1 423.9h0M879.3 423.5h0M879.5 423.7h0M879.6 423.5h0M879.8 423.3h0" stroke="#1d4db1" stroke-width="1.85" stroke-linecap="round"/>
<path d="M880 423h0M880.2 423.2h0M880.3 423h0M880.5 423h0M880.7 422.7h0M880.9 422.6h0M881.1 422.4h0M881.2 421.9h0M881.4 421.7h0M881.6 421.9h0M881.8 421.5h0M881.9 421.5h0M882.1 421.7h0M882.3 421.5h0M882.5 421h0M882.7 420.8h0M882.8 420.8h0M883 420.5h0M883.2 420.5h0M883.4 420.9h0M883.5 420.6h0" stroke="#2057bb" stroke-width="1.85" stroke-linecap="round"/>
<path d="M883.7 420.2h0M883.9 419.9h0M884.1 420h0M884.3 419.7h0M884.4 420h0M884.6 419.6h0M884.8 419.2h0M885 419.5h0M885.2 419.3h0M885.3 418.9h0M885.5 418.4h0M885.7 418.4h0M885.9 418.1h0M886 418.3h0M886.2 417.9h0M886.4 417.7h0M886.6 417.9h0M886.8 417.7h0M886.9 417.3h0M887.1 417.4h0M887.3 417.2h0M887.5 416.8h0" stroke="#2261c5" stroke-width="1.85" stroke-linecap="round"/>
<path d="M887.6 417h0M887.8 416.4h0M888 416.8h0M888.2 416.7h0M888.4 416.3h0M888.5 416.5h0M888.7 416h0M888.9 416h0M889.1 415.7h0M889.2 415.4h0M889.4 415.5h0M889.6 415.7h0M889.8 415.2h0M890 415h0M890.1 415h0M890.3 414.8h0M890.5 414.3h0M890.7 414.6h0M890.8 414.4h0M891 414.1h0M891.2 414.1h0" stroke="#256fcc" stroke-width="1.85" stroke-linecap="round"/>
<path d="M891.4 413.8h0M891.6 413.8h0M891.7 413.6h0M891.9 413.6h0M892.1 413.2h0M892.3 413h0M892.4 413h0M892.6 413.2h0M892.8 412.5h0M893 412.5h0M893.2 412.6h0M893.3 412.4h0M893.5 412.4h0M893.7 412.1h0M893.9 412h0M894 411.8h0M894.2 411.9h0M894.4 411.6h0M894.6 411.2h0M894.8 411.2h0M894.9 411.2h0" stroke="#2780d3" stroke-width="1.85" stroke-linecap="round"/>
<path d="M895.1 411h0M895.3 410.7h0M895.5 410.3h0M895.6 410.3h0M895.8 410.5h0M896 410.1h0M896.2 410.3h0M896.4 409.9h0M896.5 409.4h0M896.7 409.5h0M896.9 409.7h0M897.1 409.3h0M897.2 408.9h0M897.4 409.2h0M897.6 409h0M897.8 408.5h0M898 408.7h0M898.1 408.4h0M898.3 408.4h0M898.5 407.8h0M898.7 407.8h0" stroke="#2a90d9" stroke-width="1.85" stroke-linecap="round"/>
<path d="M898.8 407.7h0M899 407.6h0M899.2 407.1h0M899.4 407.4h0M899.6 407.4h0M899.7 407.1h0M899.9 407.3h0M900.1 407.1h0M900.3 406.5h0M900.4 406.6h0M900.6 406.4h0M900.8 406.3h0M901 406.3h0M901.2 405.9h0M901.3 406.1h0M901.5 405.6h0M901.7 405.6h0M901.9 405.1h0M902 405.1h0M902.2 405.1h0M902.4 405.2h0" stroke="#2ca0df" stroke-width="1.85" stroke-linecap="round"/>
<path d="M902.6 404.8h0M902.8 404.7h0M902.9 404.8h0M903.1 404.5h0M903.3 404.5h0M903.5 403.9h0M903.6 403.7h0M903.8 403.7h0M904 403.7h0M904.2 403.7h0M904.4 403.8h0M904.5 403.3h0M904.7 403.2h0M904.9 403.1h0M905.1 402.6h0M905.2 402.5h0M905.4 402.7h0M905.6 402.1h0M905.8 402.1h0M906 402.2h0M906.1 402h0M906.3 401.9h0" stroke="#35aadc" stroke-width="1.85" stroke-linecap="round"/>
<path d="M906.5 401.8h0M906.7 401.8h0M906.8 401.7h0M907 401.2h0M907.2 401.2h0M907.4 401h0M907.6 400.8h0M907.7 400.4h0M907.9 400.7h0M908.1 400.3h0M908.3 400.2h0M908.4 400h0M908.6 399.6h0M908.8 400.3h0M909 400h0M909.2 399.8h0M909.3 399.2h0M909.5 399.5h0M909.7 399.3h0M909.9 399.1h0M910 398.7h0" stroke="#40b2d4" stroke-width="1.85" stroke-linecap="round"/>
<path d="M910.2 398.6h0M910.4 398.8h0M910.6 398.3h0M910.8 397.9h0M910.9 398h0M911.1 398.1h0M911.3 398.3h0M911.5 398h0M911.6 397.8h0M911.8 397.6h0M912 397.5h0M912.2 396.9h0M912.4 397h0M912.5 397.1h0M912.7 396.7h0M912.9 396.7h0M913.1 396.5h0M913.2 396.3h0M913.4 396.2h0M913.6 396.2h0M913.8 395.8h0" stroke="#4bb9cd" stroke-width="1.85" stroke-linecap="round"/>
<path d="M914 396.2h0M914.1 395.5h0M914.3 395.4h0M914.5 395.4h0M914.7 395.2h0M914.8 395.2h0M915 394.9h0M915.2 395.3h0M915.4 394.4h0M915.6 394.5h0M915.7 394.6h0M915.9 393.9h0M916.1 394.5h0M916.3 394.1h0M916.4 393.8h0M916.6 393.8h0M916.8 393.4h0M917 393.2h0M917.2 393.3h0M917.3 393.5h0M917.5 393.2h0" stroke="#57c1c5" stroke-width="1.85" stroke-linecap="round"/>
<path d="M917.7 392.8h0M917.9 392.3h0M918 392.8h0M918.2 392.5h0M918.4 392.1h0M918.6 392h0M918.8 391.9h0M918.9 392h0M919.1 391.8h0M919.3 391.5h0M919.5 391.4h0M919.6 391.1h0M919.8 391.1h0M920 391h0M920.2 390.7h0M920.4 391.1h0M920.5 390.6h0M920.7 390.6h0M920.9 390.2h0M921.1 390.6h0M921.2 390.3h0M921.4 389.9h0" stroke="#61c4b4" stroke-width="1.85" stroke-linecap="round"/>
<path d="M921.6 389.6h0M921.8 389.5h0M922 389.6h0M922.1 389.5h0M922.3 389.2h0M922.5 388.9h0M922.7 389.2h0M922.8 388.7h0M923 388.6h0M923.2 388.5h0M923.4 388.3h0M923.6 388.7h0M923.7 388h0M923.9 387.8h0M924.1 387.6h0M924.3 387.8h0M924.4 387.3h0M924.6 387.8h0M924.8 387.1h0M925 387.5h0M925.2 386.8h0" stroke="#6bc59f" stroke-width="1.85" stroke-linecap="round"/>
<path d="M925.3 386.9h0M925.5 386.9h0M925.7 386.6h0M925.9 386h0M926 386.6h0M926.2 386.3h0M926.4 386.4h0M926.6 386.1h0M926.8 386.1h0M926.9 385.9h0M927.1 385.7h0M927.3 385.5h0M927.5 385.4h0M927.6 385.2h0M927.8 384.6h0M928 385h0M928.2 384.5h0M928.4 384.5h0M928.5 384.8h0M928.7 384.2h0M928.9 384.2h0" stroke="#75c68a" stroke-width="1.85" stroke-linecap="round"/>
<path d="M929.1 384h0M929.2 383.8h0M929.4 383.9h0M929.6 383.5h0M929.8 383.4h0M930 383.1h0M930.1 383h0M930.3 383.1h0M930.5 382.9h0M930.7 383h0M930.8 382.6h0M931 382.6h0M931.2 382.4h0M931.4 381.7h0M931.6 382h0M931.7 381.9h0M931.9 382h0M932.1 381.5h0M932.3 381.6h0M932.4 381.7h0M932.6 381.2h0" stroke="#7fc874" stroke-width="1.85" stroke-linecap="round"/>
<path d="M932.8 381.1h0M933 381.1h0M933.2 380.4h0M933.3 380.8h0M933.5 380.5h0M933.7 380.2h0M933.9 380.7h0M934 380.2h0M934.2 380.3h0M934.4 379.9h0M934.6 379.9h0M934.8 379.4h0M934.9 379.4h0M935.1 379.5h0M935.3 379h0M935.5 379.3h0M935.6 378.9h0M935.8 378.9h0M936 378.7h0M936.2 379h0M936.4 378.4h0" stroke="#91cb61" stroke-width="1.85" stroke-linecap="round"/>
<path d="M936.5 378.5h0M936.7 377.8h0M936.9 378.4h0M937.1 377.9h0M937.2 378.1h0M937.4 377.5h0M937.6 377.5h0M937.8 377.6h0M938 377.2h0M938.1 377.1h0M938.3 376.9h0M938.5 377h0M938.7 377h0M938.8 376.7h0M939 376.5h0M939.2 376.6h0M939.4 376.2h0M939.6 376.1h0M939.7 376.1h0M939.9 375.6h0M940.1 375.5h0M940.3 375.6h0" stroke="#a7d04e" stroke-width="1.85" stroke-linecap="round"/>
<path d="M940.4 375.4h0M940.6 375h0M940.8 375.1h0M941 375.3h0M941.2 374.7h0M941.3 374.8h0M941.5 374.7h0M941.7 374.4h0M941.9 374h0M942 373.9h0M942.2 373.7h0M942.4 373.7h0M942.6 373.5h0M942.8 373.8h0M942.9 373.7h0M943.1 373.5h0M943.3 373.1h0M943.5 373.3h0M943.6 373.4h0M943.8 373h0M944 372.7h0" stroke="#bdd53b" stroke-width="1.85" stroke-linecap="round"/>
<path d="M944.2 373h0M944.4 372.1h0M944.5 372.4h0M944.7 372h0M944.9 372.2h0M945.1 372h0M945.2 371.5h0M945.4 372h0M945.6 371.8h0M945.8 371.4h0M946 371h0M946.1 371.2h0M946.3 371h0M946.5 370.8h0M946.7 370.8h0M946.8 370.8h0M947 370.5h0M947.2 370.6h0M947.4 369.9h0M947.6 369.9h0M947.7 370.2h0" stroke="#d1d72d" stroke-width="1.85" stroke-linecap="round"/>
<path d="M947.9 370.2h0M948.1 370.1h0M948.3 369.6h0M948.5 369.6h0M948.6 369.2h0M948.8 368.9h0M949 369.2h0M949.2 369h0M949.3 368.7h0M949.5 368.4h0M949.7 368.5h0M949.9 368.7h0M950.1 368.3h0M950.2 368.1h0M950.4 368.1h0M950.6 368h0M950.8 367.6h0M950.9 367.8h0M951.1 367.3h0M951.3 367.3h0M951.5 367.2h0" stroke="#e4d722" stroke-width="1.85" stroke-linecap="round"/>
<path d="M951.7 367.3h0M951.8 367.1h0M952 367h0M952.2 366.5h0M952.4 366.5h0M952.5 366.4h0M952.7 366.3h0M952.9 366.4h0M953.1 365.7h0M953.3 365.8h0M953.4 366h0M953.6 365.6h0M953.8 365.7h0M954 365.7h0M954.1 365.6h0M954.3 364.9h0M954.5 364.8h0M954.7 364.7h0M954.9 365h0M955 364.6h0M955.2 364.7h0M955.4 364.7h0" stroke="#f5d519" stroke-width="1.85" stroke-linecap="round"/>
<path d="M955.6 364.1h0M955.7 364h0M955.9 363.7h0M956.1 364.1h0M956.3 363.7h0M956.5 364.1h0M956.6 363.6h0M956.8 363.3h0M957 363.1h0M957.2 363.2h0M957.3 362.9h0M957.5 362.7h0M957.7 362.8h0M957.9 362.7h0M958.1 362.3h0M958.2 361.9h0M958.4 361.7h0M958.6 361.7h0M958.8 361.9h0M958.9 361.7h0M959.1 361.5h0" stroke="#f3c01b" stroke-width="1.85" stroke-linecap="round"/>
<path d="M959.3 361.9h0M959.5 361.6h0M959.7 361.2h0M959.8 360.7h0M960 361.2h0M960.2 360.4h0M960.4 360.7h0M960.5 360.5h0M960.7 360.4h0M960.9 360h0M961.1 360.1h0M961.3 360.1h0M961.4 360.1h0M961.6 359.9h0M961.8 359.7h0M962 359.6h0M962.1 359.3h0M962.3 358.9h0M962.5 359.1h0M962.7 358.5h0M962.9 358.6h0" stroke="#f2ab1c" stroke-width="1.85" stroke-linecap="round"/>
<path d="M963 358.6h0M963.2 358.7h0M963.4 358.6h0M963.6 358.1h0M963.7 358.4h0M963.9 358h0M964.1 358.2h0M964.3 357.6h0M964.5 357.7h0M964.6 357.6h0M964.8 357.2h0M965 357.2h0M965.2 357.3h0M965.3 356.9h0M965.5 357.1h0M965.7 357h0M965.9 356.5h0M966.1 356.4h0M966.2 356.5h0M966.4 356.1h0M966.6 356.2h0" stroke="#f1961d" stroke-width="1.85" stroke-linecap="round"/>
<path d="M966.8 356h0M966.9 355.8h0M967.1 356.1h0M967.3 355.5h0M967.5 355.3h0M967.7 355.3h0M967.8 355.6h0M968 355.2h0M968.2 355h0M968.4 354.7h0M968.5 354.6h0M968.7 354.4h0M968.9 354.1h0M969.1 354.4h0M969.3 354.2h0M969.4 353.9h0M969.6 354h0M969.8 353.8h0M970 354.2h0M970.1 353.4h0M970.3 353.1h0" stroke="#ee801e" stroke-width="1.85" stroke-linecap="round"/>
<path d="M970.5 353.1h0M970.7 352.9h0M970.9 352.9h0M971 353.1h0M971.2 353h0M971.4 352.8h0M971.6 352.4h0M971.7 352.3h0M971.9 352.2h0M972.1 352h0M972.3 352h0M972.5 351.7h0M972.6 351.6h0M972.8 351.6h0M973 351.3h0M973.2 351.8h0M973.3 351.3h0M973.5 351.2h0M973.7 350.9h0M973.9 350.7h0M974.1 350.9h0M974.2 350.3h0" stroke="#e9671e" stroke-width="1.85" stroke-linecap="round"/>
<path d="M974.4 350.7h0M974.6 350.2h0M974.8 350.2h0M974.9 349.8h0M975.1 349.9h0M975.3 350.1h0M975.5 349.5h0M975.7 349.1h0M975.8 349.6h0M976 349.1h0M976.2 349.3h0M976.4 348.6h0M976.5 348.9h0M976.7 348.9h0M976.9 348.8h0M977.1 348.4h0M977.3 348.1h0M977.4 348h0M977.6 347.9h0M977.8 347.9h0M978 347.9h0" stroke="#e44d1e" stroke-width="1.85" stroke-linecap="round"/>
<path d="M978.1 347.9h0M978.3 347.5h0M978.5 347.2h0M978.7 347.2h0M978.9 347.3h0M979 346.5h0M979.2 346.8h0M979.4 346.9h0M979.6 346.7h0M979.7 346.6h0M979.9 346.5h0M980.1 346.2h0M980.3 346h0M980.5 345.8h0M980.6 345.6h0M980.8 345.7h0M981 345.5h0M981.2 345.6h0M981.3 345.4h0M981.5 345h0M981.7 344.9h0" stroke="#df341e" stroke-width="1.85" stroke-linecap="round"/>
<path d="M981.9 345h0M982.1 344.9h0M982.2 344.6h0M982.4 344.8h0M982.6 344.2h0M982.8 344.3h0M982.9 344.3h0M983.1 344.2h0M983.3 343.5h0M983.5 343.9h0M983.7 343.7h0M983.8 343.4h0M984 343.1h0M984.2 343.6h0M984.4 343h0M984.5 342.7h0M984.7 343.1h0M984.9 342.7h0M985.1 343h0M985.3 342.4h0M985.4 342.2h0" stroke="#d6261d" stroke-width="1.85" stroke-linecap="round"/>
<path d="M985.6 342h0M985.8 342.2h0M986 341.9h0M986.1 341.5h0M986.3 341.5h0M986.5 341.5h0M986.7 341.2h0M986.9 341.2h0M987 341.1h0M987.2 341.2h0M987.4 341.1h0M987.6 340.9h0M987.7 340.4h0M987.9 340.3h0M988.1 339.9h0M988.3 340.3h0M988.5 340.1h0M988.6 340.1h0M988.8 339.7h0M989 339.5h0M989.2 339.6h0M989.3 339.2h0" stroke="#c9211c" stroke-width="1.85" stroke-linecap="round"/>
<path d="M989.5 339.3h0M989.7 339.5h0M989.9 338.9h0M990.1 338.4h0M990.2 338.4h0M990.4 338.9h0M990.6 338.7h0M990.8 338.6h0M990.9 338h0M991.1 338.3h0M991.3 337.5h0M991.5 338.4h0M991.7 337.7h0M991.8 337.7h0M992 337.3h0M992.2 337.5h0M992.4 337h0M992.5 336.6h0M992.7 336.9h0M992.9 337h0M993.1 336.9h0" stroke="#bd1c1a" stroke-width="1.85" stroke-linecap="round"/>
<path d="M993.3 336.7h0M993.4 336.6h0M993.6 336.3h0M993.8 336.3h0M994 335.9h0M994.1 335.9h0M994.3 335.9h0M994.5 335.7h0M994.7 335.3h0M994.9 335.3h0M995 335.2h0M995.2 335.3h0M995.4 335h0M995.6 335h0M995.7 334.7h0M995.9 334.9h0M996.1 334.5h0M996.3 334h0M996.5 334.1h0M996.6 333.6h0M996.8 333.5h0" stroke="#ae1818" stroke-width="1.85" stroke-linecap="round"/>
<path d="M997 334.1h0M997.2 333.8h0M997.3 333.5h0M997.5 333.7h0M997.7 333.2h0M997.9 333.2h0M998.1 333.1h0M998.2 332.7h0M998.4 333.2h0M998.6 332.7h0M998.8 332.1h0M998.9 332.4h0M999.1 332.2h0M999.3 332h0M999.5 331.9h0M999.7 332h0M999.8 332h0M1000 331.8h0M1000.2 331.7h0M1000.4 331.8h0M1000.5 331.2h0" stroke="#981717" stroke-width="1.85" stroke-linecap="round"/>
<path d="M1000.7 330.9h0M1000.9 331.1h0M1001.1 331h0M1001.3 331.3h0M1001.4 330.7h0M1001.6 330.5h0M1001.8 330.6h0M1002 330.3h0M1002.1 330.3h0M1002.3 330.5h0M1002.5 329.8h0M1002.7 329.7h0M1002.9 329.9h0M1003 329.6h0M1003.2 329.6h0M1003.4 329.4h0M1003.6 329.2h0M1003.7 329h0M1003.9 328.8h0M1004.1 328.5h0M1004.3 328.6h0M1004.5 328.4h0" stroke="#831515" stroke-width="1.85" stroke-linecap="round"/>
<path d="M26 94.3L121.5 80.3L176.5 103.3M26 80.6L121.5 66.6L176.5 89.6M26 66.9L121.5 52.9L176.5 75.9M26 53.2L121.5 39.2L176.5 62.2M26 39.5L121.5 25.5L176.5 48.5M45.1 105.2L45.1 24.4M45.1 105.2L100.1 128.2M64.2 102.4L64.2 21.6M64.2 102.4L119.2 125.4M83.3 99.6L83.3 18.8M83.3 99.6L138.3 122.6M102.4 96.8L102.4 16M102.4 96.8L157.4 119.8M152.2 106.8L152.2 26M152.2 106.8L56.7 120.8M127.8 96.6L127.8 15.8M127.8 96.6L32.3 110.6" stroke="#d8d8d8" stroke-width="0.7" stroke-dasharray="1.2 1.2" fill="none"/>
<path d="M26 27.2L26 108L81 131L176.5 117" stroke="#a0a0a0" stroke-width="1" fill="none"/>
<text transform="translate(23 95.9) scale(.5)" class="e">0.5</text>
<text transform="translate(23 82.2) scale(.5)" class="e">1</text>
<text transform="translate(23 68.5) scale(.5)" class="e">1.5</text>
<text transform="translate(23 54.8) scale(.5)" class="e">2</text>
<text transform="translate(23 41.1) scale(.5)" class="e">2.5</text>
<text transform="translate(31.4 116.8) scale(.5)" class="m">1</text>
<text transform="translate(54.6 126.4) scale(.5)" class="m">0</text>
<text transform="translate(77 135.9) scale(.5)" class="m">-1</text>
<text transform="translate(109.8 133.5) scale(.5)" class="m">-0.5</text>
<text transform="translate(127.4 130.5) scale(.5)" class="m">0</text>
<text transform="translate(148.5 127.9) scale(.5)" class="m">0.5</text>
<text transform="translate(165.2 124.7) scale(.5)" class="m">1</text>
<path d="M75.8 106.1 76.9 105.9 78.1 105.6 79.2 105.4 80.4 105.2 81.6 105 82.8 104.8 84 104.6 85.2 104.4 86.5 104.2 87.7 104.1 88.9 103.9 90.2 103.8 91.5 103.6 92.7 103.5 94 103.4" stroke="#112071" stroke-width="2.0" fill="none" stroke-linecap="butt" stroke-linejoin="round" stroke-dasharray="9 1.2"/>
<path d="M94 103.4 95.3 103.3 96.6 103.2 97.8 103.1 99.1 103 100.4 102.9 101.7 102.8 103 102.8 104.2 102.7 105.5 102.7 106.8 102.6 108 102.6 109.3 102.6 110.5 102.6 111.7 102.6" stroke="#122478" stroke-width="2.0" fill="none" stroke-linecap="butt" stroke-linejoin="round" stroke-dasharray="9 1.2"/>
<path d="M111.7 102.6 113 102.6 114.2 102.6 115.4 102.6 116.6 102.6 117.7 102.7 118.9 102.7 120 102.8 121.2 102.8 122.3 102.9 123.4 103 124.4 103.1 125.5 103.2 126.5 103.3 127.5 103.4" stroke="#13287e" stroke-width="2.0" fill="none" stroke-linecap="butt" stroke-linejoin="round" stroke-dasharray="9 1.2"/>
<path d="M127.5 103.4 128.5 103.5 129.5 103.6 130.4 103.8 131.3 103.9 132.2 104 133.1 104.2 133.9 104.3 134.7 104.5 135.5 104.7 136.2 104.8 136.9 105 137.6 105.2 138.3 105.4 138.9 105.6" stroke="#142c85" stroke-width="2.0" fill="none" stroke-linecap="butt" stroke-linejoin="round" stroke-dasharray="9 1.2"/>
<path d="M138.9 105.6 139.5 105.8 140.1 106 140.6 106.2 141.1 106.4 141.6 106.6 142 106.8 142.4 107 142.8 107.2 143.1 107.4 143.4 107.7 143.7 107.9 143.9 108.1 144.1 108.4 144.2 108.6" stroke="#15308b" stroke-width="2.0" fill="none" stroke-linecap="butt" stroke-linejoin="round" stroke-dasharray="9 1.2"/>
<path d="M144.2 108.6 144.4 108.8 144.4 109.1 144.5 109.3 144.5 109.5 144.5 109.8 144.4 110 144.3 110.2 144.2 110.5 144 110.7 143.8 110.9 143.6 111.2 143.3 111.4 143 111.6 142.7 111.9" stroke="#163392" stroke-width="2.0" fill="none" stroke-linecap="butt" stroke-linejoin="round" stroke-dasharray="9 1.2"/>
<path d="M142.7 111.9 142.3 112.1 141.9 112.3 141.4 112.5 141 112.8 140.5 113 139.9 113.2 139.3 113.4 138.7 113.6 138.1 113.8 137.4 114 136.7 114.2 136 114.4 135.2 114.6 134.5 114.7" stroke="#183798" stroke-width="2.0" fill="none" stroke-linecap="butt" stroke-linejoin="round" stroke-dasharray="9 1.2"/>
<path d="M134.5 114.7 133.6 114.9 132.8 115.1 131.9 115.2 131 115.4 130.1 115.5 129.2 115.7 128.2 115.8 127.2 116 126.2 116.1 125.2 116.2 124.1 116.3 123 116.4 121.9 116.5 120.8 116.6" stroke="#193b9f" stroke-width="2.0" fill="none" stroke-linecap="butt" stroke-linejoin="round" stroke-dasharray="9 1.2"/>
<path d="M120.8 116.6 119.7 116.7 118.6 116.7 117.4 116.8 116.2 116.9 115 116.9 113.8 117 112.6 117 111.4 117 110.1 117 108.9 117 107.6 117 106.4 117 105.1 117 103.8 117" stroke="#1a41a5" stroke-width="2.0" fill="none" stroke-linecap="butt" stroke-linejoin="round" stroke-dasharray="9 1.2"/>
<path d="M103.8 117 102.6 117 101.3 116.9 100 116.9 98.7 116.8 97.5 116.7 96.2 116.7 94.9 116.6 93.6 116.5 92.3 116.4 91.1 116.3 89.8 116.1 88.6 116 87.3 115.9 86.1 115.7" stroke="#1c47ab" stroke-width="2.0" fill="none" stroke-linecap="butt" stroke-linejoin="round" stroke-dasharray="9 1.2"/>
<path d="M86.1 115.7 84.8 115.6 83.6 115.4 82.4 115.2 81.2 115.1 80.1 114.9 78.9 114.7 77.7 114.5 76.6 114.3 75.5 114 74.4 113.8 73.3 113.6 72.3 113.3 71.2 113.1 70.2 112.8" stroke="#1d4eb2" stroke-width="2.0" fill="none" stroke-linecap="butt" stroke-linejoin="round" stroke-dasharray="9 1.2"/>
<path d="M70.2 112.8 69.2 112.6 68.2 112.3 67.3 112 66.4 111.7 65.5 111.4 64.6 111.1 63.7 110.8 62.9 110.5 62.1 110.2 61.4 109.9 60.6 109.6 59.9 109.2 59.2 108.9 58.6 108.5" stroke="#1f54b8" stroke-width="2.0" fill="none" stroke-linecap="butt" stroke-linejoin="round" stroke-dasharray="9 1.2"/>
<path d="M58.6 108.5 58 108.2 57.4 107.8 56.9 107.5 56.3 107.1 55.9 106.8 55.4 106.4 55 106 54.6 105.7 54.3 105.3 53.9 104.9 53.7 104.5 53.4 104.2 53.2 103.8 53 103.4" stroke="#215abe" stroke-width="2.0" fill="none" stroke-linecap="butt" stroke-linejoin="round" stroke-dasharray="9 1.2"/>
<path d="M53 103.4 52.9 103 52.8 102.6 52.7 102.2 52.7 101.8 52.7 101.5 52.7 101.1 52.8 100.7 52.9 100.3 53.1 99.9 53.3 99.5 53.5 99.1 53.7 98.7 54 98.4 54.4 98" stroke="#2260c4" stroke-width="2.0" fill="none" stroke-linecap="butt" stroke-linejoin="round" stroke-dasharray="9 1.2"/>
<path d="M54.4 98 54.7 97.6 55.1 97.2 55.5 96.8 56 96.5 56.5 96.1 57 95.7 57.6 95.4 58.2 95 58.8 94.7 59.4 94.3 60.1 94 60.8 93.6 61.6 93.3 62.3 92.9" stroke="#2468ca" stroke-width="2.0" fill="none" stroke-linecap="butt" stroke-linejoin="round" stroke-dasharray="9 1.2"/>
<path d="M62.3 92.9 63.1 92.6 64 92.3 64.8 92 65.7 91.7 66.6 91.4 67.5 91.1 68.5 90.8 69.5 90.5 70.5 90.2 71.5 89.9 72.6 89.7 73.6 89.4 74.7 89.1 75.8 88.9" stroke="#2572ce" stroke-width="2.0" fill="none" stroke-linecap="butt" stroke-linejoin="round" stroke-dasharray="9 1.2"/>
<path d="M75.8 88.9 76.9 88.7 78.1 88.4 79.2 88.2 80.4 88 81.6 87.8 82.8 87.6 84 87.4 85.2 87.2 86.4 87 87.7 86.9 88.9 86.7 90.2 86.6 91.4 86.4 92.7 86.3" stroke="#277dd1" stroke-width="2.0" fill="none" stroke-linecap="butt" stroke-linejoin="round" stroke-dasharray="9 1.2"/>
<path d="M92.7 86.3 94 86.2 95.3 86.1 96.5 86 97.8 85.9 99.1 85.8 100.4 85.7 101.7 85.6 102.9 85.6 104.2 85.5 105.5 85.5 106.7 85.4 108 85.4 109.3 85.4 110.5 85.4" stroke="#2887d5" stroke-width="2.0" fill="none" stroke-linecap="butt" stroke-linejoin="round" stroke-dasharray="9 1.2"/>
<path d="M110.5 85.4 111.7 85.4 112.9 85.4 114.2 85.4 115.4 85.4 116.5 85.4 117.7 85.5 118.9 85.5 120 85.6 121.1 85.6 122.3 85.7 123.3 85.8 124.4 85.9 125.5 86 126.5 86.1" stroke="#2a91d9" stroke-width="2.0" fill="none" stroke-linecap="butt" stroke-linejoin="round" stroke-dasharray="9 1.2"/>
<path d="M126.5 86.1 127.5 86.2 128.5 86.3 129.4 86.4 130.4 86.5 131.3 86.7 132.2 86.8 133 87 133.9 87.1 134.7 87.3 135.5 87.5 136.2 87.6 136.9 87.8 137.6 88 138.3 88.2" stroke="#2b9bdd" stroke-width="2.0" fill="none" stroke-linecap="butt" stroke-linejoin="round" stroke-dasharray="9 1.2"/>
<path d="M138.3 88.2 138.9 88.4 139.5 88.6 140.1 88.7 140.6 89 141.1 89.2 141.6 89.4 142 89.6 142.4 89.8 142.8 90 143.1 90.2 143.4 90.5 143.7 90.7 143.9 90.9 144.1 91.2" stroke="#2da5e1" stroke-width="2.0" fill="none" stroke-linecap="butt" stroke-linejoin="round" stroke-dasharray="9 1.2"/>
<path d="M144.1 91.2 144.2 91.4 144.4 91.6 144.4 91.9 144.5 92.1 144.5 92.3 144.5 92.6 144.4 92.8 144.3 93 144.2 93.3 144 93.5 143.8 93.7 143.6 94 143.3 94.2 143 94.4 142.7 94.7" stroke="#34aadc" stroke-width="2.0" fill="none" stroke-linecap="butt" stroke-linejoin="round" stroke-dasharray="9 1.2"/>
<path d="M142.7 94.7 142.3 94.9 141.9 95.1 141.4 95.3 141 95.6 140.5 95.8 139.9 96 139.3 96.2 138.7 96.4 138.1 96.6 137.4 96.8 136.7 97 136 97.2 135.3 97.4 134.5 97.5" stroke="#3baed8" stroke-width="2.0" fill="none" stroke-linecap="butt" stroke-linejoin="round" stroke-dasharray="9 1.2"/>
<path d="M134.5 97.5 133.7 97.7 132.8 97.9 131.9 98 131.1 98.2 130.1 98.3 129.2 98.5 128.2 98.6 127.2 98.7 126.2 98.9 125.2 99 124.1 99.1 123.1 99.2 122 99.3 120.8 99.4" stroke="#42b3d3" stroke-width="2.0" fill="none" stroke-linecap="butt" stroke-linejoin="round" stroke-dasharray="9 1.2"/>
<path d="M120.8 99.4 119.7 99.5 118.6 99.5 117.4 99.6 116.2 99.7 115 99.7 113.8 99.8 112.6 99.8 111.4 99.8 110.2 99.8 108.9 99.8 107.7 99.8 106.4 99.8 105.1 99.8 103.9 99.8" stroke="#49b8ce" stroke-width="2.0" fill="none" stroke-linecap="butt" stroke-linejoin="round" stroke-dasharray="9 1.2"/>
<path d="M103.9 99.8 102.6 99.8 101.3 99.7 100 99.7 98.8 99.6 97.5 99.5 96.2 99.5 94.9 99.4 93.6 99.3 92.4 99.2 91.1 99.1 89.8 98.9 88.6 98.8 87.3 98.7 86.1 98.5" stroke="#50bdc9" stroke-width="2.0" fill="none" stroke-linecap="butt" stroke-linejoin="round" stroke-dasharray="9 1.2"/>
<path d="M86.1 98.5 84.9 98.4 83.7 98.2 82.4 98 81.3 97.9 80.1 97.7 78.9 97.5 77.8 97.3 76.6 97.1 75.5 96.8 74.4 96.6 73.3 96.4 72.3 96.1 71.2 95.9 70.2 95.6" stroke="#57c1c5" stroke-width="2.0" fill="none" stroke-linecap="butt" stroke-linejoin="round" stroke-dasharray="9 1.2"/>
<path d="M70.2 95.6 69.2 95.4 68.2 95.1 67.3 94.8 66.4 94.5 65.5 94.2 64.6 93.9 63.7 93.6 62.9 93.3 62.1 93 61.4 92.7 60.6 92.4 59.9 92 59.3 91.7 58.6 91.4" stroke="#5ec3bb" stroke-width="2.0" fill="none" stroke-linecap="butt" stroke-linejoin="round" stroke-dasharray="9 1.2"/>
<path d="M58.6 91.4 58 91 57.4 90.7 56.9 90.3 56.3 89.9 55.9 89.6 55.4 89.2 55 88.8 54.6 88.5 54.3 88.1 53.9 87.7 53.7 87.3 53.4 87 53.2 86.6 53 86.2" stroke="#64c4ad" stroke-width="2.0" fill="none" stroke-linecap="butt" stroke-linejoin="round" stroke-dasharray="9 1.2"/>
<path d="M53 86.2 52.9 85.8 52.8 85.4 52.7 85 52.7 84.6 52.7 84.3 52.7 83.9 52.8 83.5 52.9 83.1 53.1 82.7 53.3 82.3 53.5 81.9 53.7 81.5 54 81.2 54.3 80.8" stroke="#6ac5a0" stroke-width="2.0" fill="none" stroke-linecap="butt" stroke-linejoin="round" stroke-dasharray="9 1.2"/>
<path d="M54.3 80.8 54.7 80.4 55.1 80 55.5 79.6 56 79.3 56.5 78.9 57 78.5 57.6 78.2 58.1 77.8 58.8 77.5 59.4 77.1 60.1 76.8 60.8 76.4 61.6 76.1 62.3 75.7" stroke="#71c693" stroke-width="2.0" fill="none" stroke-linecap="butt" stroke-linejoin="round" stroke-dasharray="9 1.2"/>
<path d="M62.3 75.7 63.1 75.4 64 75.1 64.8 74.8 65.7 74.5 66.6 74.2 67.5 73.9 68.5 73.6 69.5 73.3 70.5 73 71.5 72.7 72.5 72.5 73.6 72.2 74.7 72 75.8 71.7" stroke="#77c786" stroke-width="2.0" fill="none" stroke-linecap="butt" stroke-linejoin="round" stroke-dasharray="9 1.2"/>
<path d="M75.8 71.7 76.9 71.5 78 71.2 79.2 71 80.4 70.8 81.5 70.6 82.7 70.4 84 70.2 85.2 70 86.4 69.8 87.6 69.7 88.9 69.5 90.1 69.4 91.4 69.2 92.7 69.1" stroke="#7dc778" stroke-width="2.0" fill="none" stroke-linecap="butt" stroke-linejoin="round" stroke-dasharray="9 1.2"/>
<path d="M92.7 69.1 94 69 95.2 68.9 96.5 68.8 97.8 68.7 99.1 68.6 100.4 68.5 101.6 68.4 102.9 68.4 104.2 68.3 105.5 68.3 106.7 68.2 108 68.2 109.2 68.2 110.5 68.2" stroke="#85c96b" stroke-width="2.0" fill="none" stroke-linecap="butt" stroke-linejoin="round" stroke-dasharray="9 1.2"/>
<path d="M110.5 68.2 111.7 68.2 112.9 68.2 114.1 68.2 115.3 68.2 116.5 68.2 117.7 68.3 118.9 68.3 120 68.4 121.1 68.4 122.2 68.5 123.3 68.6 124.4 68.7 125.4 68.8 126.5 68.9" stroke="#93cc60" stroke-width="2.0" fill="none" stroke-linecap="butt" stroke-linejoin="round" stroke-dasharray="9 1.2"/>
<path d="M126.5 68.9 127.5 69 128.5 69.1 129.4 69.2 130.4 69.3 131.3 69.5 132.2 69.6 133 69.8 133.9 69.9 134.7 70.1 135.4 70.2 136.2 70.4 136.9 70.6 137.6 70.8 138.3 71" stroke="#a0cf54" stroke-width="2.0" fill="none" stroke-linecap="butt" stroke-linejoin="round" stroke-dasharray="9 1.2"/>
<path d="M138.3 71 138.9 71.2 139.5 71.3 140.1 71.5 140.6 71.7 141.1 72 141.6 72.2 142 72.4 142.4 72.6 142.8 72.8 143.1 73 143.4 73.3 143.7 73.5 143.9 73.7 144.1 74" stroke="#aed148" stroke-width="2.0" fill="none" stroke-linecap="butt" stroke-linejoin="round" stroke-dasharray="9 1.2"/>
<path d="M144.1 74 144.2 74.2 144.4 74.4 144.4 74.7 144.5 74.9 144.5 75.1 144.5 75.4 144.4 75.6 144.3 75.8 144.2 76.1 144 76.3 143.8 76.5 143.6 76.8 143.3 77 143 77.2" stroke="#bcd43d" stroke-width="2.0" fill="none" stroke-linecap="butt" stroke-linejoin="round" stroke-dasharray="9 1.2"/>
<path d="M143 77.2 142.7 77.5 142.3 77.7 141.9 77.9 141.5 78.1 141 78.4 140.5 78.6 139.9 78.8 139.4 79 138.8 79.2 138.1 79.4 137.4 79.6 136.8 79.8 136 80 135.3 80.2" stroke="#c9d731" stroke-width="2.0" fill="none" stroke-linecap="butt" stroke-linejoin="round" stroke-dasharray="9 1.2"/>
<path d="M135.3 80.2 134.5 80.3 133.7 80.5 132.8 80.7 132 80.8 131.1 81 130.1 81.1 129.2 81.3 128.2 81.4 127.2 81.5 126.2 81.7 125.2 81.8 124.1 81.9 123.1 82 122 82.1" stroke="#d5d72b" stroke-width="2.0" fill="none" stroke-linecap="butt" stroke-linejoin="round" stroke-dasharray="9 1.2"/>
<path d="M122 82.1 120.9 82.2 119.7 82.3 118.6 82.3 117.4 82.4 116.3 82.5 115.1 82.5 113.9 82.6 112.6 82.6 111.4 82.6 110.2 82.6 108.9 82.6 107.7 82.6 106.4 82.6 105.2 82.6" stroke="#e1d724" stroke-width="2.0" fill="none" stroke-linecap="butt" stroke-linejoin="round" stroke-dasharray="9 1.2"/>
<path d="M105.2 82.6 103.9 82.6 102.6 82.6 101.3 82.5 100.1 82.5 98.8 82.4 97.5 82.3 96.2 82.3 94.9 82.2 93.7 82.1 92.4 82 91.1 81.9 89.9 81.7 88.6 81.6 87.4 81.5" stroke="#ecd71e" stroke-width="2.0" fill="none" stroke-linecap="butt" stroke-linejoin="round" stroke-dasharray="9 1.2"/>
<path d="M87.4 81.5 86.1 81.3 84.9 81.2 83.7 81 82.5 80.8 81.3 80.7 80.1 80.5 78.9 80.3 77.8 80.1 76.6 79.9 75.5 79.6 74.4 79.4 73.4 79.2 72.3 78.9 71.3 78.7 70.2 78.4" stroke="#f5d419" stroke-width="2.0" fill="none" stroke-linecap="butt" stroke-linejoin="round" stroke-dasharray="9 1.2"/>
<path d="M70.2 78.4 69.2 78.2 68.3 77.9 67.3 77.6 66.4 77.3 65.5 77 64.6 76.7 63.8 76.4 62.9 76.1 62.2 75.8 61.4 75.5 60.7 75.2 59.9 74.8 59.3 74.5 58.6 74.2" stroke="#f4c71a" stroke-width="2.0" fill="none" stroke-linecap="butt" stroke-linejoin="round" stroke-dasharray="9 1.2"/>
<path d="M58.6 74.2 58 73.8 57.4 73.5 56.9 73.1 56.4 72.8 55.9 72.4 55.4 72 55 71.7 54.6 71.3 54.3 70.9 54 70.5 53.7 70.2 53.4 69.8 53.2 69.4 53 69" stroke="#f3ba1b" stroke-width="2.0" fill="none" stroke-linecap="butt" stroke-linejoin="round" stroke-dasharray="9 1.2"/>
<path d="M53 69 52.9 68.6 52.8 68.2 52.7 67.8 52.7 67.5 52.7 67.1 52.7 66.7 52.8 66.3 52.9 65.9 53.1 65.5 53.3 65.1 53.5 64.7 53.7 64.3 54 64 54.3 63.6" stroke="#f2ad1c" stroke-width="2.0" fill="none" stroke-linecap="butt" stroke-linejoin="round" stroke-dasharray="9 1.2"/>
<path d="M54.3 63.6 54.7 63.2 55.1 62.8 55.5 62.5 56 62.1 56.5 61.7 57 61.3 57.5 61 58.1 60.6 58.8 60.3 59.4 59.9 60.1 59.6 60.8 59.2 61.5 58.9 62.3 58.6" stroke="#f1a01d" stroke-width="2.0" fill="none" stroke-linecap="butt" stroke-linejoin="round" stroke-dasharray="9 1.2"/>
<path d="M62.3 58.6 63.1 58.2 63.9 57.9 64.8 57.6 65.7 57.3 66.6 57 67.5 56.7 68.5 56.4 69.4 56.1 70.4 55.8 71.5 55.5 72.5 55.3 73.6 55 74.7 54.8 75.8 54.5" stroke="#f0931e" stroke-width="2.0" fill="none" stroke-linecap="butt" stroke-linejoin="round" stroke-dasharray="9 1.2"/>
<path d="M75.8 54.5 76.9 54.3 78 54 79.2 53.8 80.3 53.6 81.5 53.4 82.7 53.2 83.9 53 85.2 52.8 86.4 52.6 87.6 52.5 88.9 52.3 90.1 52.2 91.4 52 92.7 51.9" stroke="#ee841e" stroke-width="2.0" fill="none" stroke-linecap="butt" stroke-linejoin="round" stroke-dasharray="9 1.2"/>
<path d="M92.7 51.9 93.9 51.8 95.2 51.7 96.5 51.6 97.8 51.5 99 51.4 100.3 51.3 101.6 51.2 102.9 51.2 104.2 51.1 105.4 51.1 106.7 51 108 51 109.2 51 110.4 51" stroke="#eb751e" stroke-width="2.0" fill="none" stroke-linecap="butt" stroke-linejoin="round" stroke-dasharray="9 1.2"/>
<path d="M110.4 51 111.7 51 112.9 51 114.1 51 115.3 51 116.5 51 117.7 51.1 118.8 51.1 120 51.2 121.1 51.2 122.2 51.3 123.3 51.4 124.4 51.5 125.4 51.6 126.5 51.7" stroke="#e8651e" stroke-width="2.0" fill="none" stroke-linecap="butt" stroke-linejoin="round" stroke-dasharray="9 1.2"/>
<path d="M126.5 51.7 127.5 51.8 128.4 51.9 129.4 52 130.3 52.1 131.3 52.3 132.1 52.4 133 52.6 133.8 52.7 134.6 52.9 135.4 53 136.2 53.2 136.9 53.4 137.6 53.6 138.3 53.8" stroke="#e5551e" stroke-width="2.0" fill="none" stroke-linecap="butt" stroke-linejoin="round" stroke-dasharray="9 1.2"/>
<path d="M138.3 53.8 138.9 53.9 139.5 54.1 140 54.3 140.6 54.5 141.1 54.8 141.6 55 142 55.2 142.4 55.4 142.8 55.6 143.1 55.8 143.4 56.1 143.6 56.3 143.9 56.5 144.1 56.7" stroke="#e2461e" stroke-width="2.0" fill="none" stroke-linecap="butt" stroke-linejoin="round" stroke-dasharray="9 1.2"/>
<path d="M144.1 56.7 144.2 57 144.3 57.2 144.4 57.5 144.5 57.7 144.5 57.9 144.5 58.2 144.4 58.4 144.3 58.6 144.2 58.9 144 59.1 143.8 59.3 143.6 59.6 143.3 59.8 143 60" stroke="#df361e" stroke-width="2.0" fill="none" stroke-linecap="butt" stroke-linejoin="round" stroke-dasharray="9 1.2"/>
<path d="M143 60 142.7 60.3 142.3 60.5 141.9 60.7 141.5 60.9 141 61.1 140.5 61.4 139.9 61.6 139.4 61.8 138.8 62 138.1 62.2 137.5 62.4 136.8 62.6 136 62.8 135.3 62.9" stroke="#db281e" stroke-width="2.0" fill="none" stroke-linecap="butt" stroke-linejoin="round" stroke-dasharray="9 1.2"/>
<path d="M135.3 62.9 134.5 63.1 133.7 63.3 132.8 63.5 132 63.6 131.1 63.8 130.2 63.9 129.2 64.1 128.3 64.2 127.3 64.3 126.3 64.5 125.2 64.6 124.2 64.7 123.1 64.8 122 64.9" stroke="#d3251d" stroke-width="2.0" fill="none" stroke-linecap="butt" stroke-linejoin="round" stroke-dasharray="9 1.2"/>
<path d="M122 64.9 120.9 65 119.8 65.1 118.6 65.1 117.5 65.2 116.3 65.3 115.1 65.3 113.9 65.4 112.7 65.4 111.4 65.4 110.2 65.4 109 65.4 107.7 65.4 106.5 65.4 105.2 65.4" stroke="#cc221c" stroke-width="2.0" fill="none" stroke-linecap="butt" stroke-linejoin="round" stroke-dasharray="9 1.2"/>
<path d="M105.2 65.4 103.9 65.4 102.6 65.4 101.4 65.3 100.1 65.3 98.8 65.2 97.5 65.1 96.2 65.1 95 65 93.7 64.9 92.4 64.8 91.1 64.7 89.9 64.5 88.6 64.4 87.4 64.3" stroke="#c41f1b" stroke-width="2.0" fill="none" stroke-linecap="butt" stroke-linejoin="round" stroke-dasharray="9 1.2"/>
<path d="M87.4 64.3 86.1 64.1 84.9 64 83.7 63.8 82.5 63.6 81.3 63.5 80.1 63.3 79 63.1 77.8 62.9 76.7 62.7 75.6 62.4 74.5 62.2 73.4 62 72.3 61.7 71.3 61.5" stroke="#bc1c1a" stroke-width="2.0" fill="none" stroke-linecap="butt" stroke-linejoin="round" stroke-dasharray="9 1.2"/>
<path d="M71.3 61.5 70.3 61.2 69.3 61 68.3 60.7 67.3 60.4 66.4 60.1 65.5 59.8 64.6 59.5 63.8 59.2 63 58.9 62.2 58.6 61.4 58.3 60.7 58 60 57.6 59.3 57.3" stroke="#b41919" stroke-width="2.0" fill="none" stroke-linecap="butt" stroke-linejoin="round" stroke-dasharray="9 1.2"/>
<path d="M59.3 57.3 58.6 57 58 56.6 57.4 56.3 56.9 55.9 56.4 55.6 55.9 55.2 55.4 54.8 55 54.5 54.6 54.1 54.3 53.7 54 53.3 53.7 53 53.4 52.6 53.2 52.2" stroke="#a71818" stroke-width="2.0" fill="none" stroke-linecap="butt" stroke-linejoin="round" stroke-dasharray="9 1.2"/>
<path d="M53.2 52.2 53 51.8 52.9 51.4 52.8 51 52.7 50.6 52.7 50.3 52.7 49.9 52.7 49.5 52.8 49.1 52.9 48.7 53.1 48.3 53.3 47.9 53.5 47.5 53.7 47.2 54 46.8" stroke="#991717" stroke-width="2.0" fill="none" stroke-linecap="butt" stroke-linejoin="round" stroke-dasharray="9 1.2"/>
<path d="M54 46.8 54.3 46.4 54.7 46 55.1 45.6 55.5 45.3 56 44.9 56.5 44.5 57 44.1 57.5 43.8 58.1 43.4 58.7 43.1 59.4 42.7 60.1 42.4 60.8 42 61.5 41.7" stroke="#8c1616" stroke-width="2.0" fill="none" stroke-linecap="butt" stroke-linejoin="round" stroke-dasharray="9 1.2"/>
<path d="M61.5 41.7 62.3 41.4 63.1 41 63.9 40.7 64.8 40.4 65.7 40.1 66.6 39.8 67.5 39.5 68.4 39.2 69.4 38.9 70.4 38.6 71.4 38.3 72.5 38.1 73.6 37.8 74.6 37.6" stroke="#7f1515" stroke-width="2.0" fill="none" stroke-linecap="butt" stroke-linejoin="round" stroke-dasharray="9 1.2"/>
<path d="M55.5 33.9h0M121.7 37h0M67 41.8h0M60.9 44.6h0M75.8 44.8h0M104.4 42.8h0M88.3 45.4h0M75.3 48h0M67.9 49.2h0M52.3 46.9h0M92.2 47.7h0M95.3 49.2h0M109.8 46.5h0M118.3 49.2h0M136.7 48.5h0M146.2 52.2h0M154.5 54h0M140.8 53.4h0M61.9 52.6h0M75.2 51.5h0M87.6 50.9h0M125.6 54.5h0M132.6 55.9h0M138.4 54.9h0M142.4 55.9h0M99.2 56.5h0M111.9 57.6h0M119.2 56.7h0M132.9 59.5h0M54.7 58.9h0M51.3 61.9h0M75.2 61.8h0M57.1 65h0M58.5 66h0M61.4 64.9h0M98.1 65.6h0M95.5 70.1h0M108.6 68.3h0M132.9 66.7h0M137.8 66.4h0M139 68.9h0M152 71.3h0M153.8 71.3h0M55.2 69.1h0M54.2 73.7h0M65.3 74h0M84.9 73.4h0M113.7 71.9h0M116.9 72.8h0M120.8 75.5h0M62.1 77.1h0M50.6 79.8h0M67 78.6h0M85.7 79.7h0M84 82.2h0M87.6 83.7h0M68.8 82.6h0M115.3 82.5h0M73.4 83.4h0M73 86.1h0M68.2 84.3h0M60.3 88.5h0M68.5 89.1h0M95.3 85.5h0M91 89.7h0M88.3 91.6h0M110.2 90.9h0M111 90h0M119 88.2h0M119.9 87.6h0M133.3 86.2h0M138.4 87.2h0M140.2 87.6h0M143 87.2h0M151.7 88h0M131.1 90.6h0M49.7 92.1h0M57 94.5h0M90 97.7h0M143.9 100.4h0M58.8 104.4h0M67.7 102.8h0M108.9 102.8h0M109.2 103.8h0M129.3 102.8h0M139.8 102.8h0M88.6 108.3h0M101.9 108.4h0M64.2 26.9h0M79.2 23.1h0M56 34h0M122.4 37.3h0M50.5 91.4h0M57.4 102.9h0M58.7 111.6h0M87.4 107.8h0M102.5 108.4h0M109.3 102.9h0" stroke="#111" stroke-width="2.0" stroke-linecap="square"/>
<path d="M26 254L110.5 231L176 263M26 241.4L110.5 218.4L176 250.4M26 228.8L110.5 205.8L176 237.8M26 216.2L110.5 193.2L176 225.2M26 203.6L110.5 180.6L176 212.6M26 191L110.5 168L176 200M30.5 252.8L30.5 183.5M30.5 252.8L96 284.8M49.4 247.6L49.4 178.3M49.4 247.6L114.9 279.6M68.2 242.5L68.2 173.2M68.2 242.5L133.8 274.5M87.1 237.4L87.1 168.1M87.1 237.4L152.6 269.4M106 232.2L106 162.9M106 232.2L171.5 264.2M172.5 261.3L172.5 192M172.5 261.3L88 284.3M157.9 254.1L157.9 184.8M157.9 254.1L73.4 277.1M143.2 247L143.2 177.7M143.2 247L58.8 270M128.6 239.9L128.6 170.6M128.6 239.9L44.1 262.9M114 232.7L114 163.4M114 232.7L29.5 255.7" stroke="#d8d8d8" stroke-width="0.7" stroke-dasharray="1.2 1.2" fill="none"/>
<path d="M26 184.7L26 254L91.5 286L176 263" stroke="#a0a0a0" stroke-width="1" fill="none"/>
<text transform="translate(23 255.6) scale(.5)" class="e">0</text>
<text transform="translate(23 243) scale(.5)" class="e">0.5</text>
<text transform="translate(23 230.4) scale(.5)" class="e">1</text>
<text transform="translate(23 217.8) scale(.5)" class="e">1.5</text>
<text transform="translate(23 205.2) scale(.5)" class="e">2</text>
<text transform="translate(23 192.6) scale(.5)" class="e">2.5</text>
<text transform="translate(24 263.9) scale(.5)" class="m">1</text>
<text transform="translate(35.5 270.5) scale(.5)" class="m">0.5</text>
<text transform="translate(54.6 275.4) scale(.5)" class="m">0</text>
<text transform="translate(65.6 283.6) scale(.5)" class="m">-0.5</text>
<text transform="translate(82 291.8) scale(.5)" class="m">-1</text>
<text transform="translate(99.7 291.8) scale(.5)" class="m">-1</text>
<text transform="translate(120.2 286.4) scale(.5)" class="m">-0.5</text>
<text transform="translate(136.6 282.3) scale(.5)" class="m">0</text>
<text transform="translate(155.7 276.8) scale(.5)" class="m">0.5</text>
<text transform="translate(174.9 271.3) scale(.5)" class="m">1</text>
<path d="M70.8 245.2h0M76 247.8h0M72.5 245h0M74.3 240.6h0M79.7 243.8h0M78.7 245.1h0M77 246h0M79.7 241.6h0M83.2 244.2h0M82.7 243.6h0M88.9 244.7h0M86.6 242.6h0M92 242.3h0M85.1 245h0M89.7 238.9h0M89.1 240.2h0M88.7 241.1h0M93.7 245.2h0M96.2 241.2h0" stroke="#112172" stroke-width="2.0" stroke-linecap="square"/>
<path d="M97.5 242.4h0M101.4 244.3h0M96.4 239.3h0M102.1 245.3h0M102.4 243.7h0M103.7 240.8h0M105.8 244.2h0M106.7 241.9h0M109.9 243.4h0M110.7 243.4h0M115.7 243.2h0M112.6 241.6h0M115.4 241.5h0M113.7 240.3h0M116.3 238.6h0M125.2 243.7h0M118.9 240.9h0M124.2 239.9h0M120.5 244.3h0" stroke="#12267b" stroke-width="2.0" stroke-linecap="square"/>
<path d="M123.8 244h0M125.5 242.8h0M125.1 243.8h0M128.2 243.5h0M128 245.4h0M130.2 244.5h0M128.7 240.8h0M134 242.7h0M131.6 244.8h0M137.5 243.9h0M134.9 245.4h0M137.8 245h0M133.6 246.5h0M136.8 249.1h0M138 246h0M140.3 246.3h0M146.8 245.8h0M144.4 246.5h0M142.1 248.2h0" stroke="#142b84" stroke-width="2.0" stroke-linecap="square"/>
<path d="M144.4 246.8h0M142.3 248.2h0M152.7 247.6h0M147.2 247.1h0M154.1 246h0M145.8 245.5h0M149.2 249.5h0M149.1 249.5h0M152.1 252.3h0M151.7 245.5h0M147.5 250.8h0M151.9 246.2h0M153.8 252h0M154.1 249.7h0M149.1 250.3h0M149.7 251.2h0M147.4 255.2h0M152.6 251.9h0" stroke="#15308c" stroke-width="2.0" stroke-linecap="square"/>
<path d="M146.9 255.7h0M146.5 252.1h0M148.8 253.2h0M152.6 256.4h0M152.2 253.2h0M154.3 257.7h0M153 260.2h0M148.7 255h0M149.1 255.7h0M152.1 257.5h0M149.4 259.6h0M149.8 256.9h0M148.2 256h0M148.7 257.1h0M148.5 259.7h0M149.3 258.6h0M152 257.7h0M148.8 260.1h0M147.3 259.2h0" stroke="#173595" stroke-width="2.0" stroke-linecap="square"/>
<path d="M144.3 261.9h0M141.5 261.3h0M141.4 258.2h0M144.1 260.7h0M147.5 259h0M142.7 262.6h0M141.9 261.8h0M137.1 264.3h0M141.5 264h0M139.5 265.7h0M140.1 265.1h0M135.6 265.9h0M134 265h0M132.7 264.3h0M135.6 264.3h0M134.9 264.2h0M135.3 265h0M136.3 266.7h0M129.3 263.7h0" stroke="#193b9e" stroke-width="2.0" stroke-linecap="square"/>
<path d="M127.2 269.3h0M124.2 263.3h0M126.4 268.4h0M123.7 264.8h0M122.7 266.1h0M124.4 269.9h0M120.3 265.3h0M116.7 263.8h0M117.8 264.2h0M118.2 266.6h0M113.7 269.6h0M110.1 268.7h0M112.8 267.6h0M111.1 265.2h0M111.1 269.4h0M103.9 267.4h0M106.7 266.7h0M106.4 266.9h0M103.2 269.3h0" stroke="#1b42a6" stroke-width="2.0" stroke-linecap="square"/>
<path d="M100.5 266.4h0M100.3 265.7h0M98.6 269.5h0M96.5 271.4h0M93.4 262.5h0M94 264.5h0M96.8 267.4h0M90.3 266.1h0M90.6 271h0M90.2 266.6h0M89.6 266.4h0M87.1 264.3h0M85.9 266h0M81.3 265.5h0M80.2 262.2h0M81.5 265.9h0M82.4 263.7h0M75.7 262.8h0" stroke="#1d4baf" stroke-width="2.0" stroke-linecap="square"/>
<path d="M77.1 264h0M77.4 263.6h0M77.5 262.5h0M74.9 264.4h0M73.5 263.9h0M69.1 264.2h0M69.2 262h0M66.9 262.6h0M67 260.4h0M68.4 259.9h0M66.6 261.2h0M66 260.6h0M61.1 260.4h0M63.6 263.1h0M65.9 260.9h0M63 254.3h0M58.8 256.5h0M60.4 259h0M59.4 258.6h0" stroke="#1f53b7" stroke-width="2.0" stroke-linecap="square"/>
<path d="M58.2 257h0M55.3 258h0M55.9 258.1h0M54.2 255.3h0M52.7 256.4h0M52 250.6h0M51.4 253.1h0M52.6 253.2h0M54.9 253.9h0M53.7 255.3h0M53.4 253.9h0M49.6 252.6h0M50.1 252.6h0M48.7 251.9h0M48.5 251.6h0M52.1 251.9h0M48.2 251.5h0M45.1 249h0M45.6 248.2h0" stroke="#215bbf" stroke-width="2.0" stroke-linecap="square"/>
<path d="M46 247.5h0M47 249.3h0M53.3 248.1h0M50.8 246.8h0M48.4 245.1h0M46.1 243.5h0M50.6 243.7h0M49.8 242.3h0M54.2 245.8h0M49.2 246.1h0M50.8 244.2h0M49.6 241h0M53.5 242.6h0M52.6 242.5h0M51.4 239.4h0M52.5 236.6h0M52.3 241.2h0M52.2 242h0M52.5 236.4h0" stroke="#2364c8" stroke-width="2.0" stroke-linecap="square"/>
<path d="M55.1 237.4h0M55.9 236.1h0M56.4 237h0M56.5 238h0M54.9 235.5h0M59.9 237.5h0M59.8 232.9h0M59.5 233.8h0M59.3 231.3h0M56.3 235.3h0M63.6 230.6h0M62 232.9h0M62.5 233.2h0M63.9 229.5h0M64.9 232.3h0M64.9 232.5h0M70.3 231.9h0M70.4 230.3h0" stroke="#2571cd" stroke-width="2.0" stroke-linecap="square"/>
<path d="M71.5 228.8h0M66.3 228.5h0M75.9 231.3h0M71.5 228.7h0M73.5 226.7h0M75.6 229.9h0M77.8 227.8h0M74.2 231.8h0M77.7 227.7h0M83.3 227.8h0M84.7 223.1h0M82.3 225.8h0M82.6 224h0M88.9 224.3h0M90.8 228h0M89 223.8h0M89.8 224.8h0M91.1 224.5h0M94.1 225.3h0" stroke="#277ed2" stroke-width="2.0" stroke-linecap="square"/>
<path d="M95.3 225.6h0M99.5 229.1h0M98.3 225.3h0M99.3 227h0M102.6 225.5h0M102.2 226.2h0M106.2 224.4h0M106.3 222h0M105.3 226h0M104.7 222.5h0M110.1 221.7h0M110.3 228.8h0M113.1 228.3h0M117.2 223.9h0M114.7 226h0M118.9 227.9h0M119.5 226h0M116.9 227.4h0M119.2 227.4h0" stroke="#298cd7" stroke-width="2.0" stroke-linecap="square"/>
<path d="M124.7 223.2h0M127.5 225.6h0M126.7 227.7h0M129.7 228.3h0M130.4 227.8h0M126.3 226.2h0M130.8 228.4h0M130.7 225.7h0M128.8 227.3h0M139.3 227.1h0M132.7 228.6h0M136.4 228h0M131.5 226.9h0M135.5 229.4h0M136.5 228.2h0M136.4 227.9h0M144.6 230.6h0M141.6 227.9h0" stroke="#2b99dd" stroke-width="2.0" stroke-linecap="square"/>
<path d="M138.8 231.5h0M142.3 231.1h0M143.8 230.5h0M138.4 232.2h0M148.5 231.1h0M145 231.7h0M145.4 228.4h0M145.8 232h0M149.6 230.6h0M147.1 232.7h0M149.3 236.5h0M150.2 234.6h0M146.6 236.6h0M145.8 236.5h0M151.9 234.7h0M148 235.9h0M149.6 237.7h0M144.4 235.8h0M145.3 236.2h0" stroke="#2ea6e0" stroke-width="2.0" stroke-linecap="square"/>
<path d="M150.6 237.9h0M148.9 235.1h0M146.7 236.4h0M151.9 237.1h0M149.4 237.6h0M152.8 238.9h0M147.1 237.9h0M149.4 234.2h0M152.5 240.1h0M148.7 240.8h0M151.3 239.4h0M151.2 240.3h0M148.7 242.9h0M146.5 244.8h0M150.1 241.1h0M150.1 240.5h0M147.8 246.1h0M149.2 242.6h0M147.3 244.9h0" stroke="#38acda" stroke-width="2.0" stroke-linecap="square"/>
<path d="M149.1 243h0M149.1 243.9h0M145.8 245.6h0M143.6 241.9h0M144.2 246.5h0M143.1 246.8h0M145.7 245h0M142.2 245.7h0M142.8 247.1h0M140.9 248.9h0M140.5 247.3h0M137.1 247.2h0M140.7 248.6h0M137 247.5h0M133.7 246.6h0M137 248.2h0M133.8 250.6h0M131.6 247.8h0M134.6 249.9h0" stroke="#41b2d4" stroke-width="2.0" stroke-linecap="square"/>
<path d="M126.8 249h0M127.4 248.3h0M127.4 246.5h0M125.1 252.8h0M125 248.9h0M126.3 247.5h0M122.5 252.3h0M121.7 250.7h0M119.9 250.9h0M120.6 250.1h0M118 250.9h0M112.2 252.1h0M119 252.1h0M114.2 250h0M113.1 254.1h0M114.1 249.5h0M112.8 249.6h0M106.7 250.5h0" stroke="#4ab9cd" stroke-width="2.0" stroke-linecap="square"/>
<path d="M108.1 250.4h0M107.4 251.3h0M107.3 248.3h0M102.7 251.8h0M104.4 247h0M99.1 247.1h0M99.1 249.5h0M97.5 252.1h0M97.2 249.9h0M95.2 255.6h0M91.4 251h0M90 251.3h0M87.9 250.8h0M85.1 249.9h0M92.4 247.4h0M84.3 250.8h0M81.8 244.9h0M79.2 249.1h0M83.9 248.7h0" stroke="#54bfc7" stroke-width="2.0" stroke-linecap="square"/>
<path d="M80.3 250.1h0M78.8 250.3h0M80.8 247.2h0M79.1 248.7h0M74.8 247.1h0M76.2 244.7h0M69.1 248.6h0M75.7 246.7h0M72.5 243h0M66.2 244.5h0M67.2 245.4h0M65.8 244.6h0M65.3 245.5h0M67.1 245.5h0M66.8 243.3h0M61.7 239.9h0M58 244.2h0M61.8 242.4h0M59.2 239.7h0" stroke="#5dc3bd" stroke-width="2.0" stroke-linecap="square"/>
<path d="M54.2 240.4h0M57.6 236.5h0M60.2 239.4h0M57.5 242.4h0M59.1 239.1h0M57.2 240.7h0M54.5 239.2h0M51.8 238.6h0M51.7 237.3h0M52.8 238.8h0M51.5 236.2h0M50.7 241h0M50.2 236.5h0M47.4 235.2h0M47.7 233.6h0M51.6 237.2h0M50 234.7h0M49.8 232.3h0M49.4 234.2h0" stroke="#65c4ab" stroke-width="2.0" stroke-linecap="square"/>
<path d="M49.4 231.3h0M47.8 232.3h0M48 232.6h0M45.5 231.7h0M46.8 229.7h0M53.3 231.2h0M47.6 228.1h0M50.8 229.9h0M48.9 229h0M48.2 222.3h0M51.7 225.8h0M50.9 225.8h0M49.2 224h0M51.8 226.6h0M53.3 225.8h0M51.9 223.1h0M51.4 224.3h0M46.3 220.9h0" stroke="#6ec59a" stroke-width="2.0" stroke-linecap="square"/>
<path d="M51.9 223.9h0M56 225h0M51.8 221.6h0M52.9 219.6h0M53.9 220.7h0M57.2 217.4h0M55.9 217.8h0M60 222.1h0M56.6 217.4h0M59.9 219.9h0M57.2 217h0M60.8 215.4h0M64.5 216.9h0M62.3 214.4h0M65.8 213.6h0M62.5 214.6h0M64.8 212.7h0M64.4 215.9h0M67.2 214.7h0" stroke="#76c688" stroke-width="2.0" stroke-linecap="square"/>
<path d="M70.5 214.9h0M71.7 213.8h0M68.7 216.4h0M68.1 210.6h0M70.5 217h0M74.5 214.4h0M72.1 210.2h0M77.5 211h0M78.3 212.7h0M79.6 211.5h0M81.2 210.7h0M82.7 212.6h0M81.3 211.1h0M86.7 210.1h0M85.9 213.5h0M90 214.1h0M93 209.2h0M88.7 209.1h0M93.6 203.4h0" stroke="#7ec876" stroke-width="2.0" stroke-linecap="square"/>
<path d="M93.2 211.5h0M94.6 209.8h0M95.4 206.2h0M99.5 208.5h0M99.8 209h0M104.5 209.7h0M102.6 208.6h0M101.3 209.4h0M106.9 208.7h0M101.1 207.3h0M111.6 207.7h0M109.1 205.3h0M108.9 207.1h0M113.3 209.8h0M114.1 210.5h0M113.2 211.8h0M115.1 210.4h0M121.7 208h0" stroke="#8cca66" stroke-width="2.0" stroke-linecap="square"/>
<path d="M119.2 208.8h0M120 209.6h0M120.8 209.2h0M123.9 207h0M122 208.6h0M121.8 210.2h0M125.1 208.2h0M124.3 208.3h0M129.5 207.8h0M131.7 211.4h0M131.5 207.5h0M130.3 212.5h0M132.2 209.5h0M132.6 211.8h0M131.2 213.1h0M136.8 209.8h0M138.6 207.1h0M135.5 212.6h0M142.5 210.3h0" stroke="#9ece56" stroke-width="2.0" stroke-linecap="square"/>
<path d="M136.9 212.5h0M141.2 211.6h0M140.1 216h0M140.6 210.7h0M142.5 216.1h0M145.7 214.1h0M142 214.3h0M151.9 215.9h0M148.5 212.4h0M145.9 214.5h0M151.2 215.3h0M147.8 215.3h0M142.2 218.6h0M144.7 215.9h0M145.9 216.2h0M148.7 216.7h0M153.3 215.9h0M149.7 219.4h0M149.8 217.9h0" stroke="#b0d246" stroke-width="2.0" stroke-linecap="square"/>
<path d="M155.2 220.5h0M149.3 220h0M149.3 220.7h0M148.3 221.7h0M152.3 221.3h0M151.5 221.5h0M149.6 221.6h0M152.8 222.6h0M149.4 223.3h0M148.7 221.4h0M149.3 222h0M150.7 224.6h0M153.1 224.6h0M148.8 225.5h0M152.3 223.2h0M147.2 224.7h0M153.7 224.8h0M148.6 226.9h0M145.9 224.1h0" stroke="#c3d637" stroke-width="2.0" stroke-linecap="square"/>
<path d="M147.8 227.9h0M146.8 225.6h0M143.2 229.9h0M143.5 229.8h0M144.1 229.8h0M148.7 226.6h0M145.5 229.7h0M146.3 228.2h0M145.5 229.3h0M139.7 231.2h0M143.9 229.7h0M139.9 231.3h0M143 228.1h0M140.7 234.1h0M135.4 231.8h0M136.5 231.7h0M138.1 228.5h0M133.2 229.1h0" stroke="#d3d72c" stroke-width="2.0" stroke-linecap="square"/>
<path d="M132.5 235.1h0M129.8 231.2h0M129.6 232.9h0M129.1 231h0M127 232.3h0M124.7 228.5h0M128.8 233.2h0M123.7 232.8h0M125.4 231.7h0M122.5 232.4h0M123.9 229.2h0M116.8 236.1h0M115.9 232.3h0M114.5 229.7h0M115.6 235.1h0M115.2 231.7h0M111.9 236.9h0M111.3 232.4h0M112.3 233.5h0" stroke="#e3d723" stroke-width="2.0" stroke-linecap="square"/>
<path d="M104.8 232.5h0M109.5 233.7h0M105.9 235.2h0M102.9 231.3h0M103.2 232.8h0M101.8 232.6h0M98.7 231.3h0M99.6 237.2h0M94.8 235.7h0M97.6 232.4h0M92.4 234.4h0M92.5 232.8h0M90.9 236.6h0M86.9 233.8h0M93.3 233.2h0M92.4 232.7h0M86.7 233.9h0M83.3 232.4h0M84.9 231h0" stroke="#f2d71b" stroke-width="2.0" stroke-linecap="square"/>
<path d="M83.3 233.8h0M78.3 231.5h0M80.5 230.2h0M80.5 233.3h0M75.8 231.3h0M74.4 230.4h0M75.6 230h0M73.7 229.2h0M74.7 231.3h0M69.5 230.4h0M75.6 228.2h0M71.7 233.4h0M67 229.8h0M61.6 230.4h0M66.8 229.1h0M64.7 228.9h0M65.8 228.1h0M61.7 226.1h0M61.5 225.6h0" stroke="#f4c91a" stroke-width="2.0" stroke-linecap="square"/>
<path d="M58.6 223.3h0M59.3 223.5h0M57.9 222.4h0M54.8 223.5h0M56.5 227.6h0M56.1 225.2h0M56.6 223.4h0M54.2 223.5h0M55.4 219.4h0M55 221h0M49.4 219.5h0M54 222.1h0M51.6 222.1h0M53.2 216.7h0M48.5 219.5h0M48.6 217.2h0M50.8 217.3h0M48.3 214.8h0" stroke="#f3b71b" stroke-width="2.0" stroke-linecap="square"/>
<path d="M54.1 214.3h0M48.3 218.2h0M48.8 214h0M46.4 217.2h0M50.5 211.2h0M45.6 215.2h0M52.2 212.6h0M50.7 210.2h0M44.9 210.3h0M49.8 212.3h0M50.3 208.3h0M52.6 210.2h0M55 210.8h0M45.3 209.8h0M47.6 212.1h0M50.3 211h0M48.4 206.9h0M50.9 207.9h0M48.9 208.1h0" stroke="#f2a61c" stroke-width="2.0" stroke-linecap="square"/>
<path d="M54 206.1h0M50.8 205.3h0M53.6 205.4h0M53.9 207.2h0M52.9 204.2h0M53.5 206.8h0M54.6 203.8h0M54.9 204.8h0M57.2 200.7h0M59.2 203h0M60.5 202.8h0M58.5 199.6h0M61.7 203.2h0M58.5 200.4h0M62.4 199.8h0M63.2 199h0M61.9 201.4h0M60.5 200h0M63.6 198.5h0" stroke="#f1951d" stroke-width="2.0" stroke-linecap="square"/>
<path d="M64.9 198.4h0M66.1 198.2h0M65.4 195.4h0M69.5 198.1h0M69.1 200.1h0M71.3 197.7h0M69.3 194.2h0M72.3 193.6h0M72.3 194.6h0M75.2 198h0M78.2 195.3h0M75 197.2h0M84.4 192.3h0M79.9 192.7h0M86.8 191.5h0M82.7 190.8h0M87 194.9h0M85.6 195.3h0" stroke="#ee821e" stroke-width="2.0" stroke-linecap="square"/>
<path d="M89.5 191.6h0M91.8 195.2h0M94.8 193.7h0M96.4 192.6h0M95.5 195.7h0M96 190.9h0M94.9 191.4h0M94.9 190.5h0M97.9 191.8h0M98.9 191.9h0M103.4 193.4h0M107.1 194.8h0M105.7 189.5h0M109.4 192.7h0M108.1 193.4h0M114.9 192.7h0M110.9 192.4h0M111.2 195.6h0M111.9 190.3h0" stroke="#ea6d1e" stroke-width="2.0" stroke-linecap="square"/>
<path d="M118.3 191.8h0M114.6 193.9h0M121.3 189.4h0M121.5 194.2h0M125.5 193.4h0M124.3 192.9h0M125.5 195.9h0M126.8 191.9h0M126.2 196.7h0M124.8 192.2h0M127.3 195.8h0M128 192.9h0M131 194.9h0M133.6 192h0M130.8 191.7h0M137 194.1h0M135.9 194.8h0M133.2 192.1h0M135 198.8h0" stroke="#e6581e" stroke-width="2.0" stroke-linecap="square"/>
<path d="M137.6 196.4h0M137.1 200.5h0M140.5 193.3h0M140.1 197h0M144.3 196.1h0M144.3 197.5h0M144.1 196.6h0M145.2 199.6h0M145 197.4h0M151.9 199.5h0M147.8 196h0M149.4 196.1h0M150.2 199.9h0M147 198.5h0M148.9 199.3h0M145.2 202.3h0M146 200.5h0M148.8 203.9h0M146.8 203.3h0" stroke="#e1431e" stroke-width="2.0" stroke-linecap="square"/>
<path d="M151.5 196.7h0M147.6 201h0M148.6 203h0M152.4 204.9h0M149.7 204.4h0M150.9 204.7h0M151.3 204.2h0M150.8 205.5h0M151.8 203.2h0M146.8 207.2h0M153.1 205.6h0M153.9 206.1h0M150.8 205.8h0M153.7 210.1h0M150.2 206.2h0M152.7 209.3h0M151.5 205.5h0M150.4 208.8h0" stroke="#dd2e1e" stroke-width="2.0" stroke-linecap="square"/>
<path d="M148.7 209.6h0M148.5 209.9h0M148.4 209.1h0M151.7 209.9h0M148.7 212h0M144.7 210.3h0M144.2 210.7h0M142.9 212.9h0M144.8 209.5h0M145.1 210.2h0M140.1 213h0M142.6 211.3h0M143.3 213.7h0M141.2 215h0M140.6 215.7h0M139.8 214.4h0M131.9 213.4h0M141.4 213.3h0M135.8 213.8h0" stroke="#d5251d" stroke-width="2.0" stroke-linecap="square"/>
<path d="M131.1 215.9h0M138.2 218h0M132.4 213.7h0M130.6 216.4h0M129.8 217.1h0M130.2 213.7h0M125.8 217.6h0M129 216.3h0M129.2 216.3h0M124.1 216.5h0M124.7 212.7h0M122.5 217.1h0M119 215.5h0M122.3 216.3h0M117.5 218.8h0M114.1 221.6h0M113.9 216.2h0M110.9 216.3h0M110.6 216.6h0" stroke="#ca211c" stroke-width="2.0" stroke-linecap="square"/>
<path d="M108.9 213.2h0M112.6 218.8h0M110 218.5h0M108.5 216.2h0M112.1 216.4h0M101.6 221.1h0M102 217.5h0M99.2 216.9h0M101.1 217.9h0M95.9 218.5h0M95.4 214.3h0M97.7 217.6h0M93.8 215.5h0M94.6 216.3h0M90 217.6h0M90.7 214.3h0M91.5 213.3h0M85.5 216.7h0M85.7 217.3h0" stroke="#c01d1a" stroke-width="2.0" stroke-linecap="square"/>
<path d="M85.8 211.5h0M86.1 214.6h0M81.9 213.9h0M78.1 216.1h0M80.3 215.2h0M76.5 217.3h0M77.5 215.3h0M75.6 214.5h0M76.7 215.5h0M75.4 213.5h0M72 211h0M70.1 211.7h0M67.6 212.3h0M68.4 210.7h0M63.4 211.2h0M66.1 211.8h0M63 208.5h0M59.9 210.4h0" stroke="#b51a19" stroke-width="2.0" stroke-linecap="square"/>
<path d="M61.6 211.1h0M58.8 212h0M60.6 208.8h0M60.4 210h0M61 205.1h0M57.1 208.7h0M58.8 207.8h0M54.8 207.7h0M55.6 206.5h0M57.9 205.9h0M55.6 208.1h0M56.1 202.9h0M50.9 201.1h0M55 203.8h0M51 203.4h0M49.1 204.1h0M49.2 204.2h0M51.3 201.9h0M51.6 201.1h0" stroke="#a51818" stroke-width="2.0" stroke-linecap="square"/>
<path d="M49.9 203.1h0M53.4 201.5h0M52.5 197.2h0M49.5 199.4h0M47.9 199.9h0M53 199.3h0M51.2 200.3h0M51.5 197.5h0M47.3 198.8h0M50.5 195.5h0M52.2 194.3h0M46 195.1h0M45.9 194.4h0M48.8 193.1h0M49.3 191.4h0M44.5 194.5h0M51.7 194.1h0M49.1 192.8h0M49.6 193.6h0" stroke="#931616" stroke-width="2.0" stroke-linecap="square"/>
<path d="M48.1 191.5h0M50.1 191.7h0M51.7 186.9h0M51.4 187.8h0M53.6 190.5h0M50.6 189.2h0M51.6 187.1h0M54.8 189.6h0M56.1 188.1h0M54.8 186.3h0M57.9 186.4h0M57.7 186.3h0M61.8 187.5h0M62.1 185.4h0M58.2 182.3h0M61.1 182.1h0M57.5 182.9h0M67.5 183.1h0M64 182.5h0" stroke="#811515" stroke-width="2.0" stroke-linecap="square"/>
<path d="M26 410.6L111 387.6L175 419M26 399.7L111 376.7L175 408.1M26 388.8L111 365.8L175 397.2M26 377.9L111 354.9L175 386.3M26 367L111 344L175 375.4M26 356.1L111 333.1L175 364.5M30.6 409.4L30.6 345.1M30.6 409.4L94.6 440.8M49.5 404.2L49.5 339.9M49.5 404.2L113.5 435.6M68.5 399.1L68.5 334.8M68.5 399.1L132.5 430.5M87.5 394L87.5 329.7M87.5 394L151.5 425.4M106.4 388.8L106.4 324.5M106.4 388.8L170.4 420.2M171.6 417.3L171.6 353M171.6 417.3L86.6 440.3M157.3 410.3L157.3 346M157.3 410.3L72.3 433.3M143 403.3L143 339M143 403.3L58 426.3M128.7 396.3L128.7 332M128.7 396.3L43.7 419.3M114.4 389.3L114.4 325M114.4 389.3L29.4 412.3" stroke="#d8d8d8" stroke-width="0.7" stroke-dasharray="1.2 1.2" fill="none"/>
<path d="M26 346.3L26 410.6L90 442L175 419" stroke="#a0a0a0" stroke-width="1" fill="none"/>
<text transform="translate(23 412.2) scale(.5)" class="e">0</text>
<text transform="translate(23 401.3) scale(.5)" class="e">0.5</text>
<text transform="translate(23 390.4) scale(.5)" class="e">1</text>
<text transform="translate(23 379.5) scale(.5)" class="e">1.5</text>
<text transform="translate(23 368.6) scale(.5)" class="e">2</text>
<text transform="translate(23 357.7) scale(.5)" class="e">2.5</text>
<text transform="translate(32.8 422.6) scale(.5)" class="m">1</text>
<text transform="translate(42.3 428.6) scale(.5)" class="m">0.5</text>
<text transform="translate(57.4 434.9) scale(.5)" class="m">0</text>
<text transform="translate(68.3 439.5) scale(.5)" class="m">-0.5</text>
<text transform="translate(82 446.4) scale(.5)" class="m">-1</text>
<text transform="translate(100.5 446.4) scale(.5)" class="m">-1</text>
<text transform="translate(118 442.3) scale(.5)" class="m">-0.5</text>
<text transform="translate(133.3 438.2) scale(.5)" class="m">0</text>
<text transform="translate(150.3 433.2) scale(.5)" class="m">0.5</text>
<text transform="translate(166.1 427.8) scale(.5)" class="m">1</text>
<path d="M77.7 404.4h0M78.9 407.4h0M80 406.4h0M80.5 406.8h0M79.3 402.3h0M81.6 405.2h0M84.9 403.8h0M85.1 404.7h0M87.3 403.9h0M88.2 405.6h0M87.6 404h0M88.3 403h0M89.1 402.2h0M92.9 404.4h0M92.4 403.8h0M93.9 405.9h0M96.7 402.9h0M97.5 400.7h0M96.4 402h0" stroke="#112172" stroke-width="1.65" stroke-linecap="square"/>
<path d="M99.1 402.2h0M98.1 401.9h0M98 400.9h0M100.1 403.5h0M103.7 404h0M107.6 404.2h0M102 401.8h0M109.7 403h0M108.6 403.1h0M106.3 403.4h0M109.9 401.2h0M112 405.5h0M112.1 400.9h0M113.3 401.5h0M109.9 402.2h0M116.5 401.5h0M116.6 402.9h0M117 402.5h0M118.3 402.8h0" stroke="#12267b" stroke-width="1.65" stroke-linecap="square"/>
<path d="M119.7 404.2h0M120.1 402.2h0M123 402.6h0M127.2 403.4h0M127.9 404.3h0M125.6 405.4h0M126.8 404h0M126.2 402.9h0M125.9 405.9h0M124 407.4h0M131.3 404.4h0M133.7 408h0M133.4 401.6h0M128.1 406.5h0M130.4 406.4h0M132.7 406.6h0M133.5 406.2h0M131.6 406.3h0M133.8 408.3h0" stroke="#142b84" stroke-width="1.65" stroke-linecap="square"/>
<path d="M134.8 407.6h0M137.9 406.9h0M135.7 407.6h0M137.6 408.9h0M136.6 406.1h0M140.2 408.6h0M141.7 410.6h0M136.1 409.2h0M140.5 409.2h0M142.4 412.4h0M140.5 409.4h0M142.5 411.1h0M141.2 411.6h0M144.4 409.7h0M144.4 409.6h0M144.6 409.8h0M140.6 409.3h0M141.8 411.7h0" stroke="#15308c" stroke-width="1.65" stroke-linecap="square"/>
<path d="M142.2 411.5h0M142 411.6h0M141.8 412.9h0M141.4 413.2h0M140.3 411.2h0M143.9 412.4h0M142.4 412.3h0M139.2 412.1h0M140.2 416.5h0M140.3 415.2h0M140.7 415.3h0M138.8 417.1h0M141.3 415h0M142.1 413.6h0M138.8 416.9h0M142.9 415.8h0M142.9 418.8h0M137.2 418h0M140.7 416h0" stroke="#173595" stroke-width="1.65" stroke-linecap="square"/>
<path d="M140.9 415.3h0M140.1 419.8h0M140.1 419.6h0M136.8 416.1h0M139.1 419.9h0M136.7 418.2h0M129.9 420.1h0M131.9 419.5h0M134 417.8h0M133 418.8h0M130.2 421.4h0M127.6 419.6h0M129.2 422.3h0M128.7 421.9h0M125.8 418.7h0M126.7 423.7h0M127.1 420.7h0M124 423.7h0M125.5 419.4h0" stroke="#193b9e" stroke-width="1.65" stroke-linecap="square"/>
<path d="M119.4 424.9h0M122.6 422h0M122 422h0M119.9 422.1h0M115.2 421.8h0M117.2 424.1h0M119 421.9h0M115.7 422.8h0M118.7 424.4h0M112.4 425h0M110.8 424.6h0M111.7 421h0M109.5 422.6h0M111.3 425h0M104.6 422.2h0M109 423.7h0M106.8 424h0M106.1 425h0M102.6 419.4h0" stroke="#1b42a6" stroke-width="1.65" stroke-linecap="square"/>
<path d="M103.2 421.8h0M97.8 422.9h0M98.4 422.6h0M94.6 423.5h0M97.4 422.9h0M94.9 421.2h0M97 423.4h0M93.5 420.4h0M93.8 421.4h0M93.3 420.9h0M90.9 422.4h0M88.3 422.6h0M85.5 423.6h0M86.3 420.7h0M85.6 420.6h0M83.5 421.3h0M82.6 420.3h0M83 420.3h0" stroke="#1d4baf" stroke-width="1.65" stroke-linecap="square"/>
<path d="M80 421.6h0M84.4 419.2h0M81.2 418.8h0M78 417.9h0M76.4 418.2h0M76.3 418.6h0M79.8 417.5h0M75.8 419.8h0M70.2 415.6h0M74.4 416.1h0M71.2 413.5h0M68.9 417h0M72.3 420.2h0M68.1 419h0M68.5 416h0M67.3 415.7h0M64 415.6h0M64.1 415.9h0M70.9 412.9h0" stroke="#1f53b7" stroke-width="1.65" stroke-linecap="square"/>
<path d="M68.1 412.9h0M63.6 415.8h0M64.6 415.7h0M65.7 413h0M61.5 414h0M63 415.3h0M57.3 413.9h0M62 411.4h0M59 410.2h0M58.6 413.6h0M59.8 410.2h0M59.5 411.1h0M60.5 409.8h0M58.4 408.1h0M58.4 408.7h0M57.1 408h0M60.5 409.3h0M58.5 409.5h0M58 409h0" stroke="#215bbf" stroke-width="1.65" stroke-linecap="square"/>
<path d="M57.7 409h0M58.7 405.8h0M55.3 406.1h0M57.9 403.7h0M57.2 404.1h0M58.2 402.5h0M57.8 407.1h0M59.8 403.6h0M61.1 402.6h0M59.9 403.3h0M57.7 403.1h0M63.4 400.6h0M57.3 404.2h0M58.1 400.9h0M58.8 399.5h0M61.1 398.7h0M58.5 399.4h0M62 401.7h0M61.4 400.4h0" stroke="#2364c8" stroke-width="1.65" stroke-linecap="square"/>
<path d="M64.6 399.3h0M64.1 397.9h0M59.9 399h0M61.4 398.3h0M62.6 395.2h0M64.7 394.7h0M65.7 396h0M65.8 398.3h0M68.6 395.2h0M69.3 395.8h0M67.9 392.7h0M67.9 397.6h0M70.2 395.1h0M74.3 392.7h0M74 389.5h0M70.7 389.8h0M73.6 392.9h0M73.1 391.6h0" stroke="#2571cd" stroke-width="1.65" stroke-linecap="square"/>
<path d="M81.3 393h0M77.6 390.7h0M76 392.1h0M77.9 391.3h0M79 388.6h0M81.3 391.4h0M82.7 391.9h0M86.3 390h0M84.2 392.5h0M84.1 392h0M85 389.3h0M85 389.6h0M92.3 392.5h0M89.5 390.3h0M92.8 387.6h0M90.8 388.9h0M89.1 387.8h0M92.7 388.4h0M94.7 385.2h0" stroke="#277ed2" stroke-width="1.65" stroke-linecap="square"/>
<path d="M97.2 387.9h0M98.4 389.5h0M98.3 391.3h0M96.4 388.3h0M101.1 390.6h0M101.9 389.2h0M103.7 391.5h0M103.8 386.8h0M104.7 388.9h0M109.6 384.5h0M105.4 390.4h0M108.3 387h0M109.4 386.8h0M109.3 388.4h0M111 391h0M108.7 389.2h0M113.4 391.1h0M113.9 389.3h0M120.2 389.5h0" stroke="#298cd7" stroke-width="1.65" stroke-linecap="square"/>
<path d="M116.8 388.4h0M119.5 391.1h0M120.4 389.9h0M119 389.1h0M124.7 388.7h0M122.2 388.7h0M126.5 390.2h0M125.9 388.4h0M122.6 391.4h0M126.1 391.2h0M128.9 389.1h0M126.6 391.7h0M125.4 386.7h0M133.6 389.3h0M131.6 392.6h0M136.2 389.5h0M132.5 392.7h0M133.5 390.3h0" stroke="#2b99dd" stroke-width="1.65" stroke-linecap="square"/>
<path d="M136.1 389h0M136.9 391.9h0M135.6 391.1h0M135.7 394.2h0M137.3 394.5h0M138.6 392.4h0M137.4 393.4h0M137.6 395.8h0M136.7 396.6h0M138 392.7h0M139.8 392.4h0M143.5 397.3h0M143.4 397.8h0M143.4 392.4h0M142.6 394.5h0M143.2 395.5h0M140.9 394.7h0M143.1 398.3h0M140 397.4h0" stroke="#2ea6e0" stroke-width="1.65" stroke-linecap="square"/>
<path d="M143.2 397h0M142 399.3h0M145.1 398.9h0M143.9 399.3h0M141.4 398.3h0M142.6 397.2h0M144 402h0M146.4 399h0M141.3 398.4h0M143.5 399.8h0M144.2 398.5h0M142 399.6h0M142 400.5h0M137.5 402.5h0M141 401.7h0M140.4 400.3h0M140.2 403.3h0M143.1 402.7h0M138.3 404.5h0" stroke="#38acda" stroke-width="1.65" stroke-linecap="square"/>
<path d="M138.5 402.6h0M138.4 404.2h0M135.5 403.7h0M137.2 403.1h0M140.1 401.5h0M136.1 404.6h0M135.9 406.9h0M130.7 404.3h0M132.4 402.8h0M132.2 405.9h0M132.1 408.6h0M128.9 406.3h0M131.7 406.1h0M131.6 405.8h0M130.5 406h0M127.7 405.1h0M126.9 407.9h0M125.9 408.1h0M125.6 407.1h0" stroke="#41b2d4" stroke-width="1.65" stroke-linecap="square"/>
<path d="M127.6 405.5h0M123.9 408.9h0M124.2 408.2h0M124.8 407.1h0M121.3 410.7h0M117.8 408.9h0M120.2 408.7h0M118.8 406.9h0M117.2 408.2h0M116.6 408.7h0M118.4 410.1h0M117.8 410.2h0M113.4 409.8h0M114 407.4h0M107.4 406.5h0M110.6 408.2h0M107.4 408.9h0M108.4 408.1h0" stroke="#4ab9cd" stroke-width="1.65" stroke-linecap="square"/>
<path d="M104.1 408h0M106 408.4h0M104.5 410.3h0M101.6 407.4h0M98.6 407.8h0M97.7 408.8h0M96 408.7h0M96.6 409.6h0M94.1 408.4h0M96.4 405.6h0M94.5 407.1h0M90.9 405.5h0M91.6 406.8h0M89.6 408.7h0M83.3 408.8h0M92.5 407.1h0M86.1 406.9h0M87.5 410.7h0M83.1 401.9h0" stroke="#54bfc7" stroke-width="1.65" stroke-linecap="square"/>
<path d="M84.2 406.3h0M82.2 405.9h0M77.2 406.5h0M79 406.2h0M78.4 404.1h0M74.8 407.4h0M77.2 405.6h0M79.4 405.5h0M75.9 400.9h0M76.7 405.6h0M71.3 401.5h0M73.3 403.3h0M74.5 401.2h0M70.7 403.9h0M70.9 400.7h0M66.4 401.6h0M72.5 400.7h0M66.7 402.9h0M67.7 403.4h0" stroke="#5dc3bd" stroke-width="1.65" stroke-linecap="square"/>
<path d="M64.8 399.8h0M67 400.1h0M64.7 398.5h0M62.6 398.5h0M62.3 398.3h0M62.3 398.4h0M64.5 401.3h0M61.2 400.6h0M62.3 394.3h0M61.4 395.1h0M62.6 396.1h0M63.1 398.7h0M58.7 394.6h0M61.4 394.3h0M58.8 396.8h0M58.5 396h0M62.2 395h0M59.6 393.1h0M52.8 393.8h0" stroke="#65c4ab" stroke-width="1.65" stroke-linecap="square"/>
<path d="M58 394h0M57.9 391.7h0M56.5 392.4h0M55.9 389.7h0M58.1 391.3h0M58.7 390.1h0M57.4 389h0M57 391.3h0M61.2 389.2h0M58.9 388h0M55.3 387.8h0M57.9 387.8h0M57 388.1h0M61.1 386.6h0M60 387.9h0M61.4 387.6h0M61.8 386.3h0M57.8 384.1h0" stroke="#6ec59a" stroke-width="1.65" stroke-linecap="square"/>
<path d="M59.8 383.8h0M59.7 384.6h0M61.6 383.9h0M62.8 387.1h0M60.8 382.9h0M61 385.1h0M65.5 380.9h0M65.4 380.4h0M65.9 382.2h0M65.9 379.1h0M66.9 381.7h0M69.8 381.3h0M67.9 379.7h0M69.9 381.7h0M71.1 381.5h0M70.2 377.6h0M71.5 381.7h0M74.6 378.1h0M77.1 380.9h0" stroke="#76c688" stroke-width="1.65" stroke-linecap="square"/>
<path d="M75.7 377h0M76.3 379.7h0M80.2 377.3h0M76.4 379.5h0M80.1 378.8h0M78 376.2h0M80.5 377.7h0M82.8 375.6h0M79 378.2h0M83 376h0M86.1 373.8h0M85.3 375.3h0M87.3 375.6h0M88.9 373.5h0M87.9 373.9h0M91.9 377.1h0M91.1 376.1h0M91.7 373.8h0M95.9 374.6h0" stroke="#7ec876" stroke-width="1.65" stroke-linecap="square"/>
<path d="M97.1 378.3h0M93.4 375.4h0M96.2 375h0M93.5 375.2h0M97.5 374.7h0M101.2 375.4h0M101.6 374.6h0M102.1 371.7h0M102.7 373.2h0M104.4 374.2h0M106.7 375.6h0M111.2 372.4h0M108.8 374.7h0M109.2 375h0M106.5 375.1h0M111.6 371.1h0M112.6 377.1h0M114 377.4h0" stroke="#8cca66" stroke-width="1.65" stroke-linecap="square"/>
<path d="M119.6 374.7h0M115.9 375.4h0M120.4 377.2h0M119.3 373.1h0M122.6 371.8h0M120.3 374.8h0M122.7 373.9h0M123.1 376.4h0M123.8 373.8h0M126.3 375.5h0M123.8 374.3h0M130.3 375.3h0M128.6 375h0M128.1 375.9h0M128.3 377.3h0M132.2 377.6h0M130.2 375.6h0M127.9 378.4h0M132 375.1h0" stroke="#9ece56" stroke-width="1.65" stroke-linecap="square"/>
<path d="M131.1 378.4h0M133.5 378.6h0M135.1 379.1h0M135.9 373.4h0M138.7 376.1h0M139.7 378.6h0M135.8 377.9h0M136.2 379.5h0M139.4 377.1h0M135.3 381.5h0M140.1 377.7h0M141.8 381.9h0M141.2 381.2h0M139.6 376h0M142.4 379.7h0M145.3 380.6h0M142.7 380.3h0M139 381h0M146.3 382.2h0" stroke="#b0d246" stroke-width="1.65" stroke-linecap="square"/>
<path d="M138.4 384.1h0M144.8 381.5h0M142.8 383.1h0M141.2 383.5h0M139.6 384.2h0M144.8 382.6h0M144.1 385.5h0M143.9 386.9h0M142.7 383.7h0M144.2 386.1h0M138.2 385.7h0M140.8 385.2h0M142.3 388.6h0M142.7 385.4h0M140.5 387.1h0M142.1 391.4h0M139.1 386.5h0M142.6 387.1h0M140.7 385.4h0" stroke="#c3d637" stroke-width="1.65" stroke-linecap="square"/>
<path d="M136.6 389.3h0M137.4 389.7h0M138 389.3h0M140.8 387.8h0M136.4 391.2h0M137.4 389.4h0M138.6 388.3h0M136.1 388.1h0M132.9 391.4h0M137.3 390.9h0M131.2 390.7h0M134.1 391.1h0M135 390h0M132.5 391h0M130.9 391.2h0M131.2 390h0M128.8 392.7h0M130.3 394.1h0" stroke="#d3d72c" stroke-width="1.65" stroke-linecap="square"/>
<path d="M128 394.4h0M129.3 392.5h0M129.7 395.3h0M124.3 392.9h0M123 393h0M123.6 393.8h0M121.1 394.2h0M123.3 395h0M121.2 393.2h0M118.2 396.5h0M117.8 392.7h0M118.4 396.6h0M112.6 396.7h0M112.5 395.5h0M113.5 393.2h0M110.3 392.6h0M108.6 393.7h0M111.9 393.9h0M112.6 393.9h0" stroke="#e3d723" stroke-width="1.65" stroke-linecap="square"/>
<path d="M106.2 394.3h0M109.7 393.2h0M105.3 395.9h0M103.1 395.1h0M102.6 393.9h0M101.5 393.8h0M102.1 391.7h0M96.9 393.3h0M95.2 392.5h0M94.6 393.7h0M92.5 393.3h0M93.4 395.3h0M90.3 390.9h0M89.2 391.6h0M89.3 394.2h0M88.3 392.7h0M88.5 393.8h0M84.9 391.4h0M86.5 394.7h0" stroke="#f2d71b" stroke-width="1.65" stroke-linecap="square"/>
<path d="M84.1 391.2h0M85.7 392.3h0M83.2 394.8h0M80.7 392.9h0M84.8 390.8h0M84.5 392.4h0M79.7 393.4h0M78.5 386.9h0M77.6 390.3h0M73.2 391.4h0M74.1 388.6h0M78.5 391.5h0M76.3 392.2h0M69.9 392.1h0M69.5 387.2h0M71.3 388h0M73.2 387.6h0M70.3 387.8h0M66.8 387.1h0" stroke="#f4c91a" stroke-width="1.65" stroke-linecap="square"/>
<path d="M66.6 387.4h0M66.4 388.1h0M65.5 386.9h0M68.6 386.8h0M70.2 385.9h0M64.7 386.3h0M65.7 386.2h0M62.8 384.3h0M61.6 384.2h0M58.8 381.8h0M59.1 385.6h0M61.4 384.6h0M60 383h0M58.4 379.1h0M59.2 380.9h0M58.1 379.1h0M60.2 382h0M59.8 382.1h0" stroke="#f3b71b" stroke-width="1.65" stroke-linecap="square"/>
<path d="M56.9 380.9h0M58.2 378.8h0M58.1 377.6h0M57.3 378.6h0M54.4 380.6h0M59.7 379h0M61.1 378.4h0M58.9 379.5h0M56.8 374.4h0M59.6 375.6h0M59.9 376.6h0M56.6 375h0M56 374.8h0M58 375.5h0M62.2 374.3h0M58.2 373.6h0M58.9 372.3h0M59.8 370.8h0M58.1 372.5h0" stroke="#f2a61c" stroke-width="1.65" stroke-linecap="square"/>
<path d="M61.9 372.5h0M59.9 373h0M61.5 373.6h0M62.4 370.4h0M59.5 372h0M64.3 371.8h0M61.9 367.6h0M66.2 368.9h0M59.3 369.5h0M62.3 370.3h0M67.5 364.6h0M66.8 367.3h0M68 365.1h0M64.8 368h0M64.4 366.1h0M70 367.1h0M70.6 369.2h0M73.1 365h0M71.3 363.8h0" stroke="#f1951d" stroke-width="1.65" stroke-linecap="square"/>
<path d="M72.9 368h0M74.8 364.2h0M72 360.1h0M75.1 362.5h0M77 361.7h0M78.7 362.8h0M77 363.4h0M78.3 362.6h0M78.8 363.2h0M78 362h0M83.5 363.3h0M84.5 363.8h0M85 365.6h0M84.6 358.1h0M82.4 358.2h0M87.8 358.3h0M86.1 361.9h0M86.6 360.7h0" stroke="#ee821e" stroke-width="1.65" stroke-linecap="square"/>
<path d="M93 362.3h0M92.9 358.1h0M91.6 362.5h0M97.9 359.4h0M97.6 361.2h0M96.4 361.5h0M96.5 360.7h0M100.6 359.5h0M99.5 362.1h0M100.2 358.2h0M100.2 359.2h0M103.8 358.2h0M107.5 359.7h0M107.6 357.3h0M107 362h0M110.9 360.3h0M112.3 360.7h0M111.8 360.2h0M113.2 359h0" stroke="#ea6d1e" stroke-width="1.65" stroke-linecap="square"/>
<path d="M116.9 363.5h0M114.9 359.7h0M120.3 360.6h0M117.9 360.7h0M118.1 359.5h0M120.5 357.8h0M122.1 362.6h0M120.6 359.8h0M126 360.2h0M122 362.1h0M121.9 357.5h0M125.1 360.1h0M124.4 359.9h0M125.7 360.8h0M123.3 362.7h0M128 361h0M128.9 363.1h0M131 365.5h0M126.9 363.5h0" stroke="#e6581e" stroke-width="1.65" stroke-linecap="square"/>
<path d="M134 357.8h0M133.9 362.4h0M133.3 362.8h0M135 362.5h0M133.5 364.9h0M135.6 364.9h0M141.6 361.6h0M135.1 362.9h0M137.2 367h0M138.9 366.3h0M142.3 361.7h0M138.3 364h0M140.3 363.8h0M143.2 364.9h0M138.8 364.3h0M138.1 366.2h0M139.9 367.1h0M140.4 367.6h0M142.1 368.9h0" stroke="#e1431e" stroke-width="1.65" stroke-linecap="square"/>
<path d="M143.3 366.6h0M144.6 366.9h0M140.5 369.5h0M139.9 367.3h0M139.5 366.3h0M143.2 367.5h0M146 371.6h0M143.4 368.6h0M142.7 369.5h0M144.9 367.2h0M142.3 370.7h0M143.3 372h0M141.6 372.2h0M139.8 373.3h0M142.7 371.6h0M144 370.9h0M138.1 373.2h0M141.4 372.2h0" stroke="#dd2e1e" stroke-width="1.65" stroke-linecap="square"/>
<path d="M139.5 373.7h0M142.2 371.8h0M137.3 374.7h0M137.5 375.9h0M142.1 373.2h0M143.4 374h0M138.1 374.5h0M138.6 376.3h0M137.8 374.1h0M135.9 373h0M133.9 376h0M135.3 375.1h0M135 375.1h0M133.8 376.6h0M135.1 378.4h0M130.4 376.3h0M128.1 380.3h0M126.6 377.3h0M126.9 377.7h0" stroke="#d5251d" stroke-width="1.65" stroke-linecap="square"/>
<path d="M129.5 378.7h0M127 379.1h0M125.9 376.6h0M124.8 377.1h0M128.8 379.9h0M125.8 375.4h0M123.3 379.8h0M119 380.5h0M119.4 379h0M121 379h0M119.4 380h0M120.7 381.8h0M120 379.7h0M112.2 377.8h0M114.2 380.6h0M116.4 379.1h0M111.6 379.9h0M112.2 380.9h0M112.2 379.5h0" stroke="#ca211c" stroke-width="1.65" stroke-linecap="square"/>
<path d="M104.6 379.2h0M102.4 379.6h0M112.6 381.9h0M106.8 383.4h0M102.8 380.5h0M104.8 378.7h0M101.4 380.9h0M101.9 378.8h0M99.9 380.8h0M98.6 378.5h0M98.6 379.4h0M96.9 377.6h0M95.4 378.8h0M91.4 381.7h0M93.4 379.5h0M93.7 381.2h0M92.9 377.8h0M90.2 377.8h0M88.1 379.2h0" stroke="#c01d1a" stroke-width="1.65" stroke-linecap="square"/>
<path d="M89.8 376.7h0M87.9 378.8h0M83.2 382.7h0M83.9 379.7h0M82.9 378.2h0M83.8 377.5h0M81 379.2h0M82.1 380.9h0M79.5 373.8h0M75 377.3h0M74.9 373.9h0M78.2 373.3h0M71.7 375.9h0M76.4 376.6h0M70.8 376.2h0M70.2 375.2h0M65.1 372.3h0M71.2 373.8h0" stroke="#b51a19" stroke-width="1.65" stroke-linecap="square"/>
<path d="M70.4 367.5h0M71.6 374.8h0M72.2 372.1h0M69.1 373.7h0M66.1 373.2h0M66 373.1h0M64.8 371.7h0M63 370.5h0M64.3 371.3h0M64.1 371.9h0M61.2 368.8h0M58.8 371.7h0M65.6 369.9h0M62.5 367.6h0M61 370.7h0M61 365.7h0M60.6 367.6h0M61.4 369.9h0M59.4 367.6h0" stroke="#a51818" stroke-width="1.65" stroke-linecap="square"/>
<path d="M61 365h0M58.3 363.2h0M59 366.7h0M59 365.8h0M56.6 363.3h0M60.6 365.3h0M57.2 364.7h0M56.3 361.7h0M58.5 362.7h0M58.4 366.3h0M58.7 362.3h0M62 360.3h0M57.7 360.3h0M57.9 364.4h0M54.4 362.3h0M55.8 357.2h0M58.4 359.2h0M58.3 357.1h0M60.6 356.4h0" stroke="#931616" stroke-width="1.65" stroke-linecap="square"/>
<path d="M60.8 362.7h0M57.2 358.1h0M60.5 354.8h0M60.7 358.4h0M63 357.5h0M60.4 355.8h0M60.3 357.5h0M61.2 353.5h0M62 357.6h0M60.6 355.9h0M66 353.2h0M65.5 351.3h0M66.5 354.1h0M64.9 353.2h0M67.2 353.5h0M69.3 354h0M68.5 352.8h0M71.3 354.3h0M70.5 350.5h0" stroke="#811515" stroke-width="1.65" stroke-linecap="square"/>
<path d="M63.3 335.8h0M65.5 339.7h0M54 349.4h0M67 354h0M73 356.1h0M68.8 359.8h0M76.7 358.2h0M84.3 357.9h0M86.8 359.8h0M104.1 352.8h0M143.6 353.4h0M137.4 357.9h0M141.4 361h0M145.1 359.2h0M148.7 358.9h0M70 365.5h0M74 367.7h0M78.9 364.6h0M77.7 366.4h0M88.3 366.2h0M97.1 367.9h0M105 364.6h0M108 365.2h0M105 367.9h0M112.6 367h0M123.2 364.6h0M126.2 365.5h0M123.2 368.3h0M122.6 371.3h0M102.6 370.7h0M103.2 372.8h0M99.2 373.1h0M99.8 374.7h0M73.8 373.7h0M63.7 376.2h0M69.8 379.2h0M72.8 380.8h0M77 379.8h0M131.7 371.1h0M133.5 371.3h0M139.6 363.4h0M136 366.4h0M145.4 368.6h0M145.9 372.8h0M137.2 373.1h0M129.9 376.2h0M133.5 374h0M144.2 377.6h0M145.4 378.3h0M125.6 383.4h0M132.9 384.9h0M136 384h0M54.8 384.7h0M68.2 386.5h0M153 386.5h0M62.2 381.3h0M68.2 387.6h0M67.7 389.1h0M63.2 392.7h0M69.6 393.1h0M76.8 395.2h0M80.9 396.1h0M64.1 397.1h0M67.9 399h0M59 399.3h0M94.8 394h0M104.7 392.3h0M97.1 389.5h0M111.7 398.7h0M108.6 400.3h0M117.2 395.9h0M121.9 399.7h0M124.8 392.7h0M133.3 385.1h0M135.2 384.4h0M143.5 389.5h0M143.8 392.7h0M152.7 403.5h0M73.3 404.4h0M74 407.7h0M95.2 405.4h0M109.6 402.2h0M111.7 414.9h0M140.3 411.1h0M141.6 412.8h0M123.2 420.6h0M123.8 400.3h0" stroke="#111" stroke-width="2.0" stroke-linecap="square"/>
</g>
<g filter="url(#bl2)"><text x="0" y="0" font-family="Liberation Serif" font-size="24" fill="#222" transform="translate(19 163.4) scale(0.9 1) translate(0 0)">(a)</text>
<text x="49.5" y="163.4" font-family="Liberation Serif" font-size="16.6" fill="#222">Helix (outliers)</text>
<text x="0" y="0" font-family="Liberation Serif" font-size="24" fill="#222" transform="translate(204.6 163.4) scale(0.9 1) translate(0 0)">(b)</text>
<text x="237.8" y="163.4" font-family="Liberation Serif" font-size="16.6" fill="#222">HLLE result</text>
<text x="0" y="0" font-family="Liberation Serif" font-size="24" fill="#222" transform="translate(374.8 163.4) scale(0.9 1) translate(0 0)">(c)</text>
<text x="407.1" y="163.4" font-family="Liberation Serif" font-size="16.6" fill="#222">RLLE result</text>
<text x="0" y="0" font-family="Liberation Serif" font-size="24" fill="#222" transform="translate(536.5 163.4) scale(0.9 1) translate(0 0)">(d)</text>
<text x="567.8" y="163.4" font-family="Liberation Serif" font-size="16.6" fill="#222">RLTSA result</text>
<text x="0" y="0" font-family="Liberation Serif" font-size="24" fill="#222" transform="translate(717.7 163.4) scale(0.9 1) translate(0 0)">(e)</text>
<text x="747.7" y="163.4" font-family="Liberation Serif" font-size="16.6" fill="#222">SLE result</text>
<text x="0" y="0" font-family="Liberation Serif" font-size="24" fill="#222" transform="translate(869.1 163.4) scale(0.9 1) translate(0 0)">(f)</text>
<text x="897.4" y="163.4" font-family="Liberation Serif" font-size="16.6" fill="#222">RHLLE result</text>
<text x="0" y="0" font-family="Liberation Serif" font-size="24" fill="#222" transform="translate(20.5 321.8) scale(0.9 1) translate(0 0)">(g)</text>
<text x="52.2" y="321.8" font-family="Liberation Serif" font-size="16.6" fill="#222">Helix (noise)</text>
<text x="0" y="0" font-family="Liberation Serif" font-size="24" fill="#222" transform="translate(204.8 321.8) scale(0.9 1) translate(0 0)">(h)</text>
<text x="237.1" y="321.8" font-family="Liberation Serif" font-size="16.6" fill="#222">HLLE result</text>
<text x="0" y="0" font-family="Liberation Serif" font-size="24" fill="#222" transform="translate(380 321.8) scale(0.9 1) translate(0 0)">(i)</text>
<text x="408.2" y="321.8" font-family="Liberation Serif" font-size="16.6" fill="#222">RLLE result</text>
<text x="0" y="0" font-family="Liberation Serif" font-size="24" fill="#222" transform="translate(541.3 321.8) scale(0.9 1) translate(0 0)">(j)</text>
<text x="567.8" y="321.8" font-family="Liberation Serif" font-size="16.6" fill="#222">RLTSA result</text>
<text x="0" y="0" font-family="Liberation Serif" font-size="24" fill="#222" transform="translate(717 321.8) scale(0.9 1) translate(0 0)">(k)</text>
<text x="748.7" y="321.8" font-family="Liberation Serif" font-size="16.6" fill="#222">SLE result</text>
<text x="0" y="0" font-family="Liberation Serif" font-size="24" fill="#222" transform="translate(870.2 321.8) scale(0.9 1) translate(0 0)">(l)</text>
<text x="897.4" y="321.8" font-family="Liberation Serif" font-size="16.6" fill="#222">RHLLE result</text>
<text x="0" y="0" font-family="Liberation Serif" font-size="24" fill="#222" transform="translate(16.9 473.5) scale(0.9 1) translate(0 0)">(m)</text>
<text x="49.1" y="473.5" font-family="Liberation Serif" font-size="16.6" fill="#222">Helix (outliers+noise)</text>
<text x="0" y="0" font-family="Liberation Serif" font-size="24" fill="#222" transform="translate(204.8 473.5) scale(0.9 1) translate(0 0)">(n)</text>
<text x="238.9" y="473.5" font-family="Liberation Serif" font-size="16.6" fill="#222">HLLE result</text>
<text x="0" y="0" font-family="Liberation Serif" font-size="24" fill="#222" transform="translate(375.4 473.5) scale(0.9 1) translate(0 0)">(o)</text>
<text x="408.8" y="473.5" font-family="Liberation Serif" font-size="16.6" fill="#222">RLLE result</text>
<text x="0" y="0" font-family="Liberation Serif" font-size="24" fill="#222" transform="translate(540.6 473.5) scale(0.9 1) translate(0 0)">(p)</text>
<text x="573.3" y="473.5" font-family="Liberation Serif" font-size="16.6" fill="#222">RLTSA result</text>
<text x="0" y="0" font-family="Liberation Serif" font-size="24" fill="#222" transform="translate(717.7 473.5) scale(0.9 1) translate(0 0)">(q)</text>
<text x="747.7" y="473.5" font-family="Liberation Serif" font-size="16.6" fill="#222">SLE result</text>
<text x="0" y="0" font-family="Liberation Serif" font-size="24" fill="#222" transform="translate(871.9 473.5) scale(0.9 1) translate(0 0)">(r)</text>
<text x="899.1" y="473.5" font-family="Liberation Serif" font-size="16.6" fill="#222">RHLLE result</text></g>
</svg></body></html>
